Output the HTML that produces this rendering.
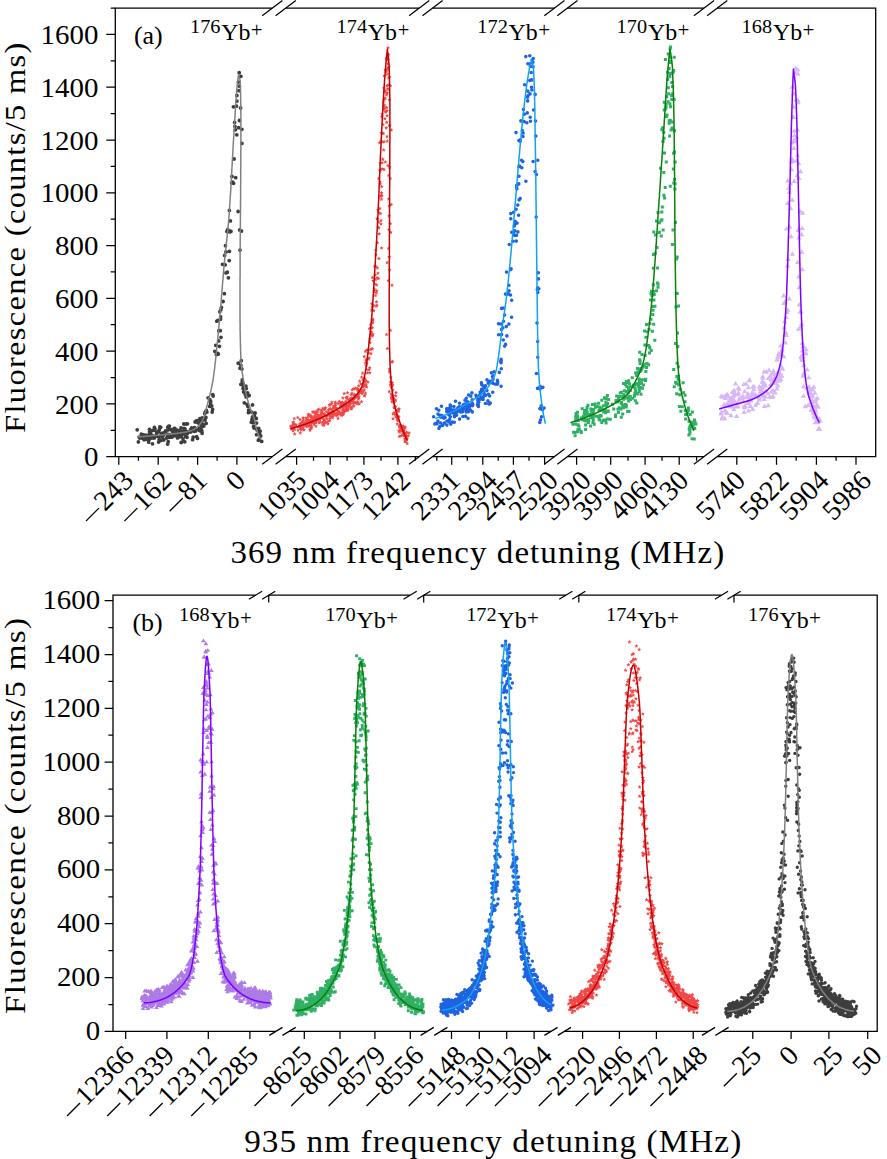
<!DOCTYPE html><html><head><meta charset="utf-8"><style>html,body{margin:0;padding:0;background:#fff;overflow:hidden}svg{display:block}text{font-family:"Liberation Serif", serif;fill:#000}</style></head><body>
<svg width="887" height="1159" viewBox="0 0 887 1159">
<rect width="887" height="1159" fill="#fff"/>
<path d="M170.6 429.4h0M178.7 432.6h0M240.9 76.3h0M225.9 251.9h0M191.6 430.1h0M183.7 431.4h0M219.5 346.3h0M163.4 434.8h0M226 272.9h0M251.7 421.9h0M169.9 429.3h0M255.1 413h0M224.6 255.4h0M152.5 443.8h0M197.2 420.7h0M245.2 394.3h0M231 231.3h0M183.4 433.4h0M232 176.5h0M167.7 427.2h0M149.4 429.3h0M160.8 440.6h0M182.9 434.1h0M200.1 424h0M174 428.7h0M241.5 231.1h0M165.8 431.2h0M155 428.8h0M153.4 438.1h0M218.3 354h0M240.9 365.4h0M215.8 345.3h0M251.3 422.2h0M229.4 210.4h0M243.1 388.5h0M252.4 421.7h0M213.1 396.1h0M253.5 419.1h0M202 418.8h0M174.7 431.2h0M199.9 418.6h0M222.5 264.3h0M181.6 442.1h0M249.2 395.5h0M172.9 435.3h0M181 427.9h0M172.4 436.7h0M186.1 431.5h0M142 438.1h0M220.6 317h0M174.9 428.5h0M148 439.8h0M220.3 330.7h0M162.8 434.7h0M181.4 435.8h0M197.5 438.4h0M156.5 434.4h0M167.7 444.1h0M201.9 432h0M203.8 426h0M173.9 432.8h0M177.2 430.2h0M177.1 430.6h0M174.8 432h0M202.8 424.4h0M168.3 429.8h0M205.1 419.9h0M171.8 429.8h0M240 368.2h0M163.8 439.9h0M245.9 386.1h0M162.8 435.7h0M233.6 183.3h0M218.8 330.7h0M165.6 430.8h0M237 101.1h0M171.7 437.2h0M152.8 430.3h0M221 337.3h0M212.8 394.6h0M220.9 309.7h0M161.5 435.8h0M174.5 435.5h0M225.5 245.7h0M149.5 431.9h0M242.3 379.9h0M198.2 422.9h0M217.9 320.4h0M180 430.7h0M162.1 433.6h0M137.2 429.8h0M169.5 437.3h0M243.7 391.9h0M259.7 432.8h0M196.7 436.7h0M187 433.4h0M175.7 434.7h0M256.6 434.7h0M149.2 439.5h0M191.7 427.8h0M158.7 436.8h0M169.6 434.6h0M239.2 72.7h0M166.6 438.1h0M210.7 401.4h0M187.1 432.8h0M206.9 412.1h0M184.8 441.8h0M175.5 431.3h0M176.5 435.8h0M146.8 438.5h0M201.5 427.2h0M246.3 396.2h0M253.9 414.6h0M141.8 435h0M252.5 404.9h0M154.3 437.9h0M233.4 106.8h0M247.6 392.8h0M161.3 435.8h0M181.1 442.6h0M190.5 432h0M187.5 423.8h0M206.4 410.5h0M138.4 441.9h0M195.1 422h0M246.8 396.5h0M149.4 434.5h0M202.2 417.9h0M201.8 430.7h0M239.5 86.2h0M256.5 423.1h0M230.4 220.9h0M177 431.4h0M229.2 260.6h0M184.1 428.3h0M238.9 90.7h0M227.3 272.2h0M260.7 436h0M242.2 381.5h0M144.1 439.8h0M177.5 437.9h0M240.9 384.4h0M217.6 353.5h0M185.6 436.2h0M143.8 435.5h0M236.9 95.5h0M141.4 434.2h0M150 433.6h0M258.6 433.6h0M235.4 129.8h0M243.6 386.5h0M199.8 422.6h0M161.8 433.4h0M212.2 412h0M196.3 421h0M159.2 439.7h0M161.7 434.6h0M172.3 431.3h0M251.7 412.1h0M258.3 440.3h0M230.5 231.2h0M231.7 182.8h0M234.1 159h0M210.5 403.6h0M163 435.9h0M246.1 396.9h0M244.3 402.8h0M232.7 182.1h0M252.7 422.7h0M259.6 432.3h0M204.7 413.6h0M236.5 106.2h0M216.8 321.2h0M153.4 430.3h0M179.6 433.9h0M146 435.1h0M248.7 410.1h0M139.1 437.1h0M209.7 406.4h0M162 436.3h0M159 430.4h0M162.2 435.2h0M242.4 383.3h0M203.8 419.9h0M183 431.3h0M261.7 441.4h0M212.6 409.5h0M178.5 437.2h0M187.2 433.7h0M227.7 229.6h0M155 436.2h0M238.6 127.7h0M246.3 388.6h0M201 420.5h0M195.7 430.9h0M156.6 432.1h0M192.6 439.7h0M239.4 120.5h0M194.1 431.4h0M219.8 311.7h0M147.3 439.4h0M168.2 441.7h0M167.9 434.5h0M258.7 428.3h0M146 437.9h0M167.4 435.6h0M142 438.1h0M223.1 301.5h0M225.2 264.8h0M186.3 424h0M143.6 435h0M196.3 429.6h0M160.7 427.3h0M196 429.4h0M187.7 432h0M167.6 436.6h0M241.3 360.7h0M229.8 231.9h0M202.1 426.1h0M190.7 429.4h0M150.8 435.9h0M218.7 340.9h0M205.9 417.4h0M247.8 406.3h0M257 429.9h0M241.9 143.4h0M243.2 383.6h0M205.3 411.9h0M187 437.3h0M202.1 433.3h0M208.1 397.8h0M238.1 211.5h0M159.3 429.8h0M214.8 351.3h0M248.4 412.7h0M169.4 426.1h0M177.6 432.3h0M238.2 363.2h0M224.4 293.7h0M253.5 426.6h0M221.4 307.4h0M256.3 418.5h0M240 250.1h0M228.4 277.8h0M162.2 437h0M164.1 433h0M241.9 369h0M185 429h0M229.4 251.3h0M198.4 421.9h0M199.6 428.2h0M139.7 438.1h0M239.7 229.9h0M183 438.8h0M183.8 424h0M150.7 431.5h0M220.5 319.3h0M240.6 107.9h0M205 419h0M201.6 421.4h0M238.4 82.1h0M150.5 438.3h0M209.9 399.7h0M234.9 126.3h0M186.7 432.8h0M247 404.3h0M201.2 423.4h0M151.8 435.2h0M260.2 431.1h0M199.5 430.5h0M235.7 177.7h0M148.7 442.2h0M241.9 129.3h0M159.8 427h0M154.4 427.3h0M175.6 432.9h0M193.2 437.1h0M206.2 423.3h0M194.6 427.6h0M141.7 435.2h0M216.3 354.6h0M234.6 122.4h0M259.1 439.2h0M211.7 405.9h0M252 419.3h0M254 428.1h0M168.8 426.2h0M147.7 437.6h0M158.6 442.1h0M236.8 134.8h0M173.8 430h0M156.5 436.1h0M252.5 416.9h0M226.9 231.4h0M255.1 422.8h0M180.5 436.6h0M163.6 432.8h0M158.7 431.9h0M254.4 416.1h0" stroke="#3d3d3d" stroke-width="3.8" stroke-linecap="round" fill="none" opacity="1.0"/>
<path d="M137.4 436.9L137.6 436.9L137.7 436.9L137.9 436.9L138.1 436.9L138.2 436.8L138.4 436.8L138.6 436.8L138.8 436.8L138.9 436.8L139.1 436.8L139.3 436.8L139.4 436.8L139.6 436.7L139.8 436.7L139.9 436.7L140.1 436.7L140.3 436.7L140.4 436.7L140.6 436.7L140.8 436.7L140.9 436.6L141.1 436.6L141.3 436.6L141.5 436.6L141.6 436.6L141.8 436.6L142 436.6L142.1 436.6L142.3 436.5L142.5 436.5L142.6 436.5L142.8 436.5L143 436.5L143.1 436.5L143.3 436.5L143.5 436.5L143.7 436.4L143.8 436.4L144 436.4L144.2 436.4L144.3 436.4L144.5 436.4L144.7 436.4L144.8 436.4L145 436.3L145.2 436.3L145.3 436.3L145.5 436.3L145.7 436.3L145.8 436.3L146 436.3L146.2 436.2L146.4 436.2L146.5 436.2L146.7 436.2L146.9 436.2L147 436.2L147.2 436.2L147.4 436.2L147.5 436.1L147.7 436.1L147.9 436.1L148 436.1L148.2 436.1L148.4 436.1L148.6 436.1L148.7 436L148.9 436L149.1 436L149.2 436L149.4 436L149.6 436L149.7 436L149.9 435.9L150.1 435.9L150.2 435.9L150.4 435.9L150.6 435.9L150.7 435.9L150.9 435.9L151.1 435.8L151.3 435.8L151.4 435.8L151.6 435.8L151.8 435.8L151.9 435.8L152.1 435.8L152.3 435.7L152.4 435.7L152.6 435.7L152.8 435.7L152.9 435.7L153.1 435.7L153.3 435.7L153.5 435.6L153.6 435.6L153.8 435.6L154 435.6L154.1 435.6L154.3 435.6L154.5 435.6L154.6 435.5L154.8 435.5L155 435.5L155.1 435.5L155.3 435.5L155.5 435.5L155.6 435.5L155.8 435.4L156 435.4L156.2 435.4L156.3 435.4L156.5 435.4L156.7 435.4L156.8 435.3L157 435.3L157.2 435.3L157.3 435.3L157.5 435.3L157.7 435.3L157.8 435.3L158 435.2L158.2 435.2L158.3 435.2L158.5 435.2L158.7 435.2L158.9 435.2L159 435.1L159.2 435.1L159.4 435.1L159.5 435.1L159.7 435.1L159.9 435.1L160 435.1L160.2 435L160.4 435L160.5 435L160.7 435L160.9 435L161.1 435L161.2 434.9L161.4 434.9L161.6 434.9L161.7 434.9L161.9 434.9L162.1 434.9L162.2 434.9L162.4 434.8L162.6 434.8L162.7 434.8L162.9 434.8L163.1 434.8L163.2 434.8L163.4 434.7L163.6 434.7L163.8 434.7L163.9 434.7L164.1 434.7L164.3 434.7L164.4 434.7L164.6 434.6L164.8 434.6L164.9 434.6L165.1 434.6L165.3 434.6L165.4 434.6L165.6 434.5L165.8 434.5L166 434.5L166.1 434.5L166.3 434.5L166.5 434.5L166.6 434.5L166.8 434.4L167 434.4L167.1 434.4L167.3 434.4L167.5 434.4L167.6 434.4L167.8 434.3L168 434.3L168.1 434.3L168.3 434.3L168.5 434.3L168.7 434.3L168.8 434.3L169 434.2L169.2 434.2L169.3 434.2L169.5 434.2L169.7 434.2L169.8 434.2L170 434.1L170.2 434.1L170.3 434.1L170.5 434.1L170.7 434.1L170.9 434.1L171 434L171.2 434L171.4 434L171.5 434L171.7 434L171.9 433.9L172 433.9L172.2 433.9L172.4 433.9L172.5 433.9L172.7 433.9L172.9 433.8L173 433.8L173.2 433.8L173.4 433.8L173.6 433.8L173.7 433.7L173.9 433.7L174.1 433.7L174.2 433.7L174.4 433.7L174.6 433.7L174.7 433.6L174.9 433.6L175.1 433.6L175.2 433.6L175.4 433.6L175.6 433.5L175.8 433.5L175.9 433.5L176.1 433.5L176.3 433.5L176.4 433.4L176.6 433.4L176.8 433.4L176.9 433.4L177.1 433.3L177.3 433.3L177.4 433.3L177.6 433.3L177.8 433.3L177.9 433.2L178.1 433.2L178.3 433.2L178.5 433.2L178.6 433.1L178.8 433.1L179 433.1L179.1 433.1L179.3 433L179.5 433L179.6 433L179.8 433L180 432.9L180.1 432.9L180.3 432.9L180.5 432.9L180.7 432.8L180.8 432.8L181 432.8L181.2 432.8L181.3 432.7L181.5 432.7L181.7 432.7L181.8 432.7L182 432.6L182.2 432.6L182.3 432.6L182.5 432.6L182.7 432.5L182.8 432.5L183 432.5L183.2 432.5L183.4 432.4L183.5 432.4L183.7 432.4L183.9 432.3L184 432.3L184.2 432.3L184.4 432.2L184.5 432.2L184.7 432.2L184.9 432.2L185 432.1L185.2 432.1L185.4 432.1L185.6 432L185.7 432L185.9 432L186.1 431.9L186.2 431.9L186.4 431.9L186.6 431.8L186.7 431.8L186.9 431.7L187.1 431.7L187.2 431.7L187.4 431.6L187.6 431.6L187.7 431.6L187.9 431.5L188.1 431.5L188.3 431.4L188.4 431.4L188.6 431.3L188.8 431.3L188.9 431.3L189.1 431.2L189.3 431.2L189.4 431.1L189.6 431.1L189.8 431L189.9 431L190.1 430.9L190.3 430.9L190.4 430.8L190.6 430.8L190.8 430.7L191 430.7L191.1 430.6L191.3 430.6L191.5 430.5L191.6 430.4L191.8 430.4L192 430.3L192.1 430.3L192.3 430.2L192.5 430.1L192.6 430.1L192.8 430L193 429.9L193.2 429.8L193.3 429.7L193.5 429.7L193.7 429.6L193.8 429.5L194 429.4L194.2 429.3L194.3 429.2L194.5 429.1L194.7 429L194.8 428.9L195 428.8L195.2 428.7L195.3 428.6L195.5 428.4L195.7 428.3L195.9 428.2L196 428.1L196.2 427.9L196.4 427.8L196.5 427.7L196.7 427.5L196.9 427.4L197 427.2L197.2 427.1L197.4 426.9L197.5 426.8L197.7 426.6L197.9 426.5L198.1 426.3L198.2 426.1L198.4 426L198.6 425.8L198.7 425.6L198.9 425.4L199.1 425.2L199.2 425L199.4 424.8L199.6 424.6L199.7 424.4L199.9 424.2L200.1 424L200.2 423.8L200.4 423.6L200.6 423.4L200.8 423.2L200.9 422.9L201.1 422.7L201.3 422.5L201.4 422.2L201.6 422L201.8 421.7L201.9 421.4L202.1 421.1L202.3 420.8L202.4 420.4L202.6 420.1L202.8 419.7L203 419.3L203.1 418.9L203.3 418.4L203.5 418L203.6 417.5L203.8 417L204 416.5L204.1 416L204.3 415.5L204.5 414.9L204.6 414.4L204.8 413.8L205 413.2L205.1 412.7L205.3 412.1L205.5 411.5L205.7 410.8L205.8 410.2L206 409.6L206.2 408.9L206.3 408.3L206.5 407.7L206.7 407L206.8 406.4L207 405.8L207.2 405.1L207.3 404.5L207.5 403.9L207.7 403.2L207.9 402.6L208 402L208.2 401.4L208.4 400.7L208.5 400.1L208.7 399.5L208.9 398.8L209 398.2L209.2 397.5L209.4 396.9L209.5 396.2L209.7 395.6L209.9 394.9L210 394.2L210.2 393.5L210.4 392.8L210.6 392.1L210.7 391.4L210.9 390.6L211.1 389.9L211.2 389.1L211.4 388.3L211.6 387.5L211.7 386.7L211.9 385.9L212.1 385L212.2 384.1L212.4 383.2L212.6 382.3L212.8 381.3L212.9 380.4L213.1 379.3L213.3 378.3L213.4 377.2L213.6 376.1L213.8 374.9L213.9 373.7L214.1 372.4L214.3 371.1L214.4 369.8L214.6 368.4L214.8 366.9L214.9 365.4L215.1 363.9L215.3 362.4L215.5 360.8L215.6 359.2L215.8 357.6L216 356L216.1 354.3L216.3 352.7L216.5 351L216.6 349.4L216.8 347.7L217 346.1L217.1 344.5L217.3 342.8L217.5 341.1L217.7 339.5L217.8 337.8L218 336.1L218.2 334.3L218.3 332.6L218.5 330.8L218.7 329.1L218.8 327.3L219 325.5L219.2 323.7L219.3 321.9L219.5 320L219.7 318.2L219.8 316.3L220 314.4L220.2 312.5L220.4 310.6L220.5 308.7L220.7 306.8L220.9 304.8L221 302.8L221.2 300.8L221.4 298.8L221.5 296.7L221.7 294.6L221.9 292.5L222 290.4L222.2 288.2L222.4 286.1L222.5 284L222.7 281.9L222.9 279.8L223.1 277.7L223.2 275.6L223.4 273.6L223.6 271.6L223.7 269.6L223.9 267.7L224.1 265.9L224.2 264.1L224.4 262.3L224.6 260.6L224.7 258.9L224.9 257.3L225.1 255.6L225.3 254L225.4 252.5L225.6 250.9L225.8 249.3L225.9 247.8L226.1 246.3L226.3 244.7L226.4 243.2L226.6 241.6L226.8 240.1L226.9 238.5L227.1 236.9L227.3 235.3L227.4 233.7L227.6 232L227.8 230.2L228 228.5L228.1 226.6L228.3 224.8L228.5 222.8L228.6 220.8L228.8 218.7L229 216.5L229.1 214.2L229.3 211.9L229.5 209.5L229.6 207L229.8 204.5L230 201.9L230.2 199.2L230.3 196.5L230.5 193.7L230.7 190.9L230.8 188L231 185.1L231.2 182.2L231.3 179.2L231.5 176.2L231.7 173.1L231.8 170.1L232 167L232.2 163.9L232.3 160.9L232.5 157.8L232.7 154.7L232.9 151.7L233 148.7L233.2 145.7L233.4 142.7L233.5 139.8L233.7 137L233.9 134.2L234 131.4L234.2 128.7L234.4 125.9L234.5 123.1L234.7 120.3L234.9 117.5L235.1 114.7L235.2 111.9L235.4 109.2L235.6 106.5L235.7 103.9L235.9 101.3L236.1 98.8L236.2 96.4L236.4 94.1L236.6 92L236.7 90L236.9 88.1L237.1 86.4L237.2 84.8L237.4 83.2L237.6 81.7L237.8 80.3L237.9 79L238.1 77.8L238.3 76.7L238.4 75.7L238.6 74.8L239.1 76.7L239.7 78.7L240.1 80.6L240.2 82.6L240.3 84.5L240.3 86.4L240.4 88.3L240.5 90.2L240.5 92.1L240.6 94L240.6 95.8L240.6 97.7L240.7 99.5L240.7 101.4L240.7 103.2L240.8 105L240.8 106.8L240.8 108.6L240.8 110.4L240.8 112.2L240.9 114L240.9 115.7L240.9 117.5L240.9 119.2L240.9 121L240.9 122.7L240.9 124.4L240.9 126.1L240.9 127.8L240.9 129.5L240.9 131.2L240.9 132.9L240.9 134.5L240.9 136.2L240.9 137.8L240.9 139.5L240.9 141.1L240.9 142.7L240.9 144.3L240.9 145.9L240.9 147.5L240.9 149.1L240.8 150.7L240.8 152.3L240.8 153.8L240.8 155.4L240.8 157L240.8 158.5L240.8 160L240.8 161.6L240.8 163.1L240.8 164.6L240.8 166.1L240.8 167.6L240.7 169.1L240.7 170.5L240.7 172L240.7 173.5L240.7 174.9L240.7 176.4L240.7 177.8L240.7 179.3L240.7 180.7L240.7 182.1L240.7 183.5L240.6 184.9L240.6 186.3L240.6 187.7L240.6 189.1L240.6 190.5L240.6 191.8L240.6 193.2L240.6 194.5L240.6 195.9L240.6 197.2L240.6 198.6L240.6 199.9L240.5 201.2L240.5 202.5L240.5 203.8L240.5 205.1L240.5 206.4L240.5 207.7L240.5 209L240.5 210.3L240.5 211.5L240.5 212.8L240.4 214.1L240.4 215.3L240.4 216.5L240.4 217.8L240.4 219L240.4 220.2L240.4 221.4L240.4 222.7L240.4 223.9L240.4 225.1L240.3 226.2L240.3 227.4L240.3 228.6L240.3 229.8L240.3 230.9L240.3 232.1L240.3 233.3L240.3 234.4L240.3 235.6L240.2 236.7L240.2 237.8L240.2 238.9L240.2 240.1L240.2 241.2L240.2 242.3L240.2 243.4L240.2 244.5L240.2 245.6L240.2 246.7L240.2 247.7L240.2 248.8L240.1 249.9L240.1 251L240.1 252L240.1 253.1L240.1 254.1L240.1 255.2L240.1 256.2L240.1 257.2L240.1 258.2L240.1 259.3L240.1 260.3L240.1 261.3L240.1 262.3L240.1 263.3L240.1 264.3L240.1 265.3L240.1 266.3L240.1 267.2L240.1 268.2L240.1 269.2L240.1 270.1L240.1 271.1L240.1 272.1L240.1 273L240.1 274L240.1 274.9L240.1 275.8L240.1 276.8L240.1 277.7L240 278.6L240 279.5L240 280.4L240 281.3L240 282.2L240 283.1L240 284L240 284.9L240 285.8L240 286.7L240 287.6L240 288.4L240 289.3L240 290.1L240 291L240 291.9L240 292.7L240 293.5L240 294.4L240 295.2L240 296L240 296.9L240 297.7L240 298.5L240 299.3L240 300.1L240 300.9L240 301.7L240 302.5L240 303.3L240 304.1L240 304.9L240 305.7L240 306.5L240 307.2L240 308L240 308.8L240 309.5L240 310.3L240 311L240 311.8L240 312.5L240 313.3L240 314L240 314.7L240 315.5L240 316.2L240 316.9L240 317.6L240 318.4L240 319.1L240 319.8L240 320.5L240 321.2L240.1 321.9L240.1 322.6L240.1 323.3L240.1 323.9L240.1 324.6L240.1 325.3L240.1 326L240.1 326.7L240.1 327.3L240.1 328L240.1 328.6L240.1 329.3L240.1 330L240.2 330.6L240.2 331.3L240.2 331.9L240.2 332.5L240.2 333.2L240.2 333.8L240.2 334.5L240.2 335.1L240.2 335.7L240.3 336.3L240.3 336.9L240.3 337.6L240.3 338.2L240.3 338.8L240.3 339.4L240.3 340L240.3 340.6L240.4 341.2L240.4 341.8L240.4 342.4L240.4 343L240.4 343.5L240.4 344.1L240.5 344.7L240.5 345.3L240.5 345.9L240.5 346.4L240.5 347L240.5 347.6L240.5 348.1L240.6 348.7L240.6 349.2L240.6 349.8L240.6 350.3L240.6 350.9L240.6 351.4L240.7 352L240.7 352.5L240.7 353L240.7 353.6L240.7 354.1L240.8 354.6L240.8 355.2L240.8 355.7L240.8 356.2L240.8 356.7L240.9 357.2L240.9 357.7L240.9 358.2L240.9 358.8L240.9 359.3L241 359.8L241 360.3L241 360.8L241 361.2L241.1 361.7L241.1 362.2L241.1 362.7L241.2 363.2L241.2 363.7L241.3 364.2L241.3 364.6L241.3 365.1L241.4 365.6L241.4 366L241.5 366.5L241.5 367L241.6 367.4L241.6 367.9L241.7 368.4L241.7 368.8L241.8 369.3L241.8 369.7L241.9 370.2L242 370.6L242 371L242.1 371.5L242.1 371.9L242.2 372.4L242.3 372.8L242.3 373.2L242.4 373.6L242.4 374.1L242.5 374.5L242.6 374.9L242.6 375.3L242.7 375.8L242.8 376.2L242.8 376.6L242.9 377L243 377.4L243 377.8L243.1 378.2L243.2 378.6L243.2 379L243.3 379.4L243.4 379.8L243.4 380.2L243.5 380.6L243.6 381L243.6 381.4L243.7 381.8L243.8 382.2L243.8 382.6L243.9 382.9L243.9 383.3L244 383.7L244.1 384.1L244.1 384.4L244.2 384.8L244.3 385.2L244.3 385.5L244.4 385.9L244.5 386.3L244.5 386.6L244.6 387L244.7 387.4L244.7 387.7L244.8 388.1L244.9 388.4L245 388.8L245 389.1L245.1 389.5L245.2 389.8L245.2 390.2L245.3 390.5L245.4 390.8L245.5 391.2L245.5 391.5L245.6 391.9L245.7 392.2L245.8 392.5L245.8 392.8L245.9 393.2L246 393.5L246.1 393.8L246.2 394.2L246.2 394.5L246.3 394.8L246.4 395.1L246.5 395.4L246.6 395.7L246.6 396.1L246.7 396.4L246.8 396.7L246.9 397L247 397.3L247 397.6L247.1 397.9L247.2 398.2L247.3 398.5L247.4 398.8L247.4 399.1L247.5 399.4L247.6 399.7L247.7 400L247.8 400.3L247.8 400.6L247.9 400.9L248 401.1L248.1 401.4L248.2 401.7L248.3 402L248.3 402.3L248.4 402.6L248.5 402.8L248.6 403.1L248.7 403.4L248.7 403.7L248.8 403.9L248.9 404.2L249 404.5L249.1 404.7L249.2 405L249.2 405.3L249.3 405.5L249.4 405.8L249.5 406.1L249.6 406.3L249.7 406.6L249.8 406.8L249.9 407.1L250 407.4L250.1 407.6L250.2 407.9L250.3 408.1L250.4 408.4L250.5 408.6L250.5 408.9L250.6 409.1L250.7 409.3L250.8 409.6L250.9 409.8L251 410.1L251.1 410.3L251.2 410.6L251.3 410.8L251.4 411L251.5 411.3L251.6 411.5L251.7 411.7L251.8 412L251.9 412.2L252 412.4L252.1 412.6L252.2 412.9L252.3 413.1L252.4 413.3L252.4 413.5L252.5 413.8L252.6 414L252.7 414.2L252.8 414.4L252.9 414.6L253 414.9L253 415.1L253.1 415.3L253.2 415.5L253.3 415.7L253.3 415.9L253.4 416.1L253.5 416.3L253.5 416.5L253.6 416.8L253.7 417L253.7 417.2L253.8 417.4L253.9 417.6L253.9 417.8L254 418L254 418.2L254.1 418.4L254.1 418.6L254.2 418.8L254.2 419L254.3 419.2L254.3 419.3L254.4 419.5L254.4 419.7L254.5 419.9L254.5 420.1L254.6 420.3L254.6 420.5L254.7 420.7L254.7 420.9L254.8 421L254.8 421.2L254.9 421.4L254.9 421.6L255 421.8L255 421.9L255 422.1L255.1 422.3L255.1 422.5L255.2 422.7L255.2 422.8L255.3 423L255.3 423.2L255.3 423.3L255.4 423.5L255.4 423.7L255.5 423.9L255.5 424L255.5 424.2L255.6 424.4L255.6 424.5L255.6 424.7L255.7 424.9L255.7 425L255.8 425.2L255.8 425.3L255.8 425.5L255.9 425.7L255.9 425.8L255.9 426L256 426.1L256 426.3L256 426.5L256.1 426.6L256.1 426.8L256.1 426.9L256.2 427.1L256.2 427.2L256.2 427.4L256.3 427.5L256.3 427.7L256.3 427.8L256.4 428L256.4 428.1L256.4 428.3L256.5 428.4L256.5 428.6L256.5 428.7L256.6 428.9L256.6 429L256.6 429.1L256.7 429.3L256.7 429.4L256.8 429.6L256.8 429.7L256.8 429.8L256.9 430L256.9 430.1L256.9 430.3L257 430.4L257 430.5L257 430.7L257.1 430.8L257.1 430.9L257.1 431.1L257.2 431.2L257.2 431.3L257.2 431.5L257.3 431.6L257.3 431.7L257.3 431.8L257.4 432L257.4 432.1L257.5 432.2L257.5 432.3L257.5 432.5L257.6 432.6L257.6 432.7L257.6 432.8L257.7 433L257.7 433.1L257.8 433.2L257.8 433.3L257.8 433.5L257.9 433.6L257.9 433.7L258 433.8L258 433.9L258.1 434L258.1 434.2L258.1 434.3L258.2 434.4L258.2 434.5L258.3 434.6L258.3 434.7L258.4 434.8L258.4 435L258.5 435.1L258.5 435.2L258.6 435.3L258.6 435.4L258.7 435.5L258.7 435.6L258.8 435.7L258.8 435.8L258.9 435.9L258.9 436.1L259 436.2L259 436.3L259.1 436.4L259.2 436.5L259.2 436.6L259.3 436.7L259.3 436.8L259.4 436.9L259.4 437L259.5 437.1L259.6 437.2L259.6 437.3L259.7 437.4L259.8 437.5L259.8 437.6L259.9 437.7L259.9 437.8L260 437.9L260.1 438L260.1 438.1L260.2 438.2L260.3 438.3L260.3 438.4L260.4 438.5L260.5 438.5L260.5 438.6L260.6 438.7L260.7 438.8L260.7 438.9L260.8 439L260.9 439.1L260.9 439.2L261 439.3" stroke="#808080" stroke-width="1.5" fill="none" stroke-linejoin="round"/>
<path d="M321 412.7l0.6 1.3 1.4 0.1 -1.1 1 0.4 1.4 -1.3 -0.7 -1.3 0.7 0.4 -1.4 -1.1 -1 1.4 -0.1zM380.3 167.7l0.6 1.3 1.4 0.1 -1.1 1 0.4 1.4 -1.3 -0.7 -1.3 0.7 0.4 -1.4 -1.1 -1 1.4 -0.1zM397.7 417.5l0.6 1.3 1.4 0.1 -1.1 1 0.4 1.4 -1.3 -0.7 -1.3 0.7 0.4 -1.4 -1.1 -1 1.4 -0.1zM334.1 410.4l0.6 1.3 1.4 0.1 -1.1 1 0.4 1.4 -1.3 -0.7 -1.3 0.7 0.4 -1.4 -1.1 -1 1.4 -0.1zM326.2 414.8l0.6 1.3 1.4 0.1 -1.1 1 0.4 1.4 -1.3 -0.7 -1.3 0.7 0.4 -1.4 -1.1 -1 1.4 -0.1zM330.5 410.4l0.6 1.3 1.4 0.1 -1.1 1 0.4 1.4 -1.3 -0.7 -1.3 0.7 0.4 -1.4 -1.1 -1 1.4 -0.1zM357.2 393.6l0.6 1.3 1.4 0.1 -1.1 1 0.4 1.4 -1.3 -0.7 -1.3 0.7 0.4 -1.4 -1.1 -1 1.4 -0.1zM392.6 393.9l0.6 1.3 1.4 0.1 -1.1 1 0.4 1.4 -1.3 -0.7 -1.3 0.7 0.4 -1.4 -1.1 -1 1.4 -0.1zM332.1 409.6l0.6 1.3 1.4 0.1 -1.1 1 0.4 1.4 -1.3 -0.7 -1.3 0.7 0.4 -1.4 -1.1 -1 1.4 -0.1zM401.2 428.2l0.6 1.3 1.4 0.1 -1.1 1 0.4 1.4 -1.3 -0.7 -1.3 0.7 0.4 -1.4 -1.1 -1 1.4 -0.1zM386.2 125.8l0.6 1.3 1.4 0.1 -1.1 1 0.4 1.4 -1.3 -0.7 -1.3 0.7 0.4 -1.4 -1.1 -1 1.4 -0.1zM361.6 375.2l0.6 1.3 1.4 0.1 -1.1 1 0.4 1.4 -1.3 -0.7 -1.3 0.7 0.4 -1.4 -1.1 -1 1.4 -0.1zM375.9 252.4l0.6 1.3 1.4 0.1 -1.1 1 0.4 1.4 -1.3 -0.7 -1.3 0.7 0.4 -1.4 -1.1 -1 1.4 -0.1zM402.8 425l0.6 1.3 1.4 0.1 -1.1 1 0.4 1.4 -1.3 -0.7 -1.3 0.7 0.4 -1.4 -1.1 -1 1.4 -0.1zM306.8 420.7l0.6 1.3 1.4 0.1 -1.1 1 0.4 1.4 -1.3 -0.7 -1.3 0.7 0.4 -1.4 -1.1 -1 1.4 -0.1zM353.4 401.6l0.6 1.3 1.4 0.1 -1.1 1 0.4 1.4 -1.3 -0.7 -1.3 0.7 0.4 -1.4 -1.1 -1 1.4 -0.1zM332.3 407.6l0.6 1.3 1.4 0.1 -1.1 1 0.4 1.4 -1.3 -0.7 -1.3 0.7 0.4 -1.4 -1.1 -1 1.4 -0.1zM396.9 416.2l0.6 1.3 1.4 0.1 -1.1 1 0.4 1.4 -1.3 -0.7 -1.3 0.7 0.4 -1.4 -1.1 -1 1.4 -0.1zM356.8 401.6l0.6 1.3 1.4 0.1 -1.1 1 0.4 1.4 -1.3 -0.7 -1.3 0.7 0.4 -1.4 -1.1 -1 1.4 -0.1zM335.3 403.8l0.6 1.3 1.4 0.1 -1.1 1 0.4 1.4 -1.3 -0.7 -1.3 0.7 0.4 -1.4 -1.1 -1 1.4 -0.1zM301.5 427.7l0.6 1.3 1.4 0.1 -1.1 1 0.4 1.4 -1.3 -0.7 -1.3 0.7 0.4 -1.4 -1.1 -1 1.4 -0.1zM391.2 395.2l0.6 1.3 1.4 0.1 -1.1 1 0.4 1.4 -1.3 -0.7 -1.3 0.7 0.4 -1.4 -1.1 -1 1.4 -0.1zM308.5 413.3l0.6 1.3 1.4 0.1 -1.1 1 0.4 1.4 -1.3 -0.7 -1.3 0.7 0.4 -1.4 -1.1 -1 1.4 -0.1zM358.4 397l0.6 1.3 1.4 0.1 -1.1 1 0.4 1.4 -1.3 -0.7 -1.3 0.7 0.4 -1.4 -1.1 -1 1.4 -0.1zM386.6 120.3l0.6 1.3 1.4 0.1 -1.1 1 0.4 1.4 -1.3 -0.7 -1.3 0.7 0.4 -1.4 -1.1 -1 1.4 -0.1zM375.2 272.9l0.6 1.3 1.4 0.1 -1.1 1 0.4 1.4 -1.3 -0.7 -1.3 0.7 0.4 -1.4 -1.1 -1 1.4 -0.1zM391.2 202.5l0.6 1.3 1.4 0.1 -1.1 1 0.4 1.4 -1.3 -0.7 -1.3 0.7 0.4 -1.4 -1.1 -1 1.4 -0.1zM366.6 385l0.6 1.3 1.4 0.1 -1.1 1 0.4 1.4 -1.3 -0.7 -1.3 0.7 0.4 -1.4 -1.1 -1 1.4 -0.1zM383.7 148l0.6 1.3 1.4 0.1 -1.1 1 0.4 1.4 -1.3 -0.7 -1.3 0.7 0.4 -1.4 -1.1 -1 1.4 -0.1zM364.5 379l0.6 1.3 1.4 0.1 -1.1 1 0.4 1.4 -1.3 -0.7 -1.3 0.7 0.4 -1.4 -1.1 -1 1.4 -0.1zM351.1 406.9l0.6 1.3 1.4 0.1 -1.1 1 0.4 1.4 -1.3 -0.7 -1.3 0.7 0.4 -1.4 -1.1 -1 1.4 -0.1zM385.3 67.4l0.6 1.3 1.4 0.1 -1.1 1 0.4 1.4 -1.3 -0.7 -1.3 0.7 0.4 -1.4 -1.1 -1 1.4 -0.1zM332.2 408.6l0.6 1.3 1.4 0.1 -1.1 1 0.4 1.4 -1.3 -0.7 -1.3 0.7 0.4 -1.4 -1.1 -1 1.4 -0.1zM317.1 415.3l0.6 1.3 1.4 0.1 -1.1 1 0.4 1.4 -1.3 -0.7 -1.3 0.7 0.4 -1.4 -1.1 -1 1.4 -0.1zM306 420.1l0.6 1.3 1.4 0.1 -1.1 1 0.4 1.4 -1.3 -0.7 -1.3 0.7 0.4 -1.4 -1.1 -1 1.4 -0.1zM301.7 420.7l0.6 1.3 1.4 0.1 -1.1 1 0.4 1.4 -1.3 -0.7 -1.3 0.7 0.4 -1.4 -1.1 -1 1.4 -0.1zM379.2 231.8l0.6 1.3 1.4 0.1 -1.1 1 0.4 1.4 -1.3 -0.7 -1.3 0.7 0.4 -1.4 -1.1 -1 1.4 -0.1zM322.6 420.4l0.6 1.3 1.4 0.1 -1.1 1 0.4 1.4 -1.3 -0.7 -1.3 0.7 0.4 -1.4 -1.1 -1 1.4 -0.1zM399 406.7l0.6 1.3 1.4 0.1 -1.1 1 0.4 1.4 -1.3 -0.7 -1.3 0.7 0.4 -1.4 -1.1 -1 1.4 -0.1zM311.7 419.5l0.6 1.3 1.4 0.1 -1.1 1 0.4 1.4 -1.3 -0.7 -1.3 0.7 0.4 -1.4 -1.1 -1 1.4 -0.1zM355 386.3l0.6 1.3 1.4 0.1 -1.1 1 0.4 1.4 -1.3 -0.7 -1.3 0.7 0.4 -1.4 -1.1 -1 1.4 -0.1zM387.1 91.3l0.6 1.3 1.4 0.1 -1.1 1 0.4 1.4 -1.3 -0.7 -1.3 0.7 0.4 -1.4 -1.1 -1 1.4 -0.1zM377.9 208.2l0.6 1.3 1.4 0.1 -1.1 1 0.4 1.4 -1.3 -0.7 -1.3 0.7 0.4 -1.4 -1.1 -1 1.4 -0.1zM294.3 416.4l0.6 1.3 1.4 0.1 -1.1 1 0.4 1.4 -1.3 -0.7 -1.3 0.7 0.4 -1.4 -1.1 -1 1.4 -0.1zM384.1 139.6l0.6 1.3 1.4 0.1 -1.1 1 0.4 1.4 -1.3 -0.7 -1.3 0.7 0.4 -1.4 -1.1 -1 1.4 -0.1zM398.8 429l0.6 1.3 1.4 0.1 -1.1 1 0.4 1.4 -1.3 -0.7 -1.3 0.7 0.4 -1.4 -1.1 -1 1.4 -0.1zM322.2 414.7l0.6 1.3 1.4 0.1 -1.1 1 0.4 1.4 -1.3 -0.7 -1.3 0.7 0.4 -1.4 -1.1 -1 1.4 -0.1zM388.7 173.4l0.6 1.3 1.4 0.1 -1.1 1 0.4 1.4 -1.3 -0.7 -1.3 0.7 0.4 -1.4 -1.1 -1 1.4 -0.1zM361.9 390.3l0.6 1.3 1.4 0.1 -1.1 1 0.4 1.4 -1.3 -0.7 -1.3 0.7 0.4 -1.4 -1.1 -1 1.4 -0.1zM322.1 415.5l0.6 1.3 1.4 0.1 -1.1 1 0.4 1.4 -1.3 -0.7 -1.3 0.7 0.4 -1.4 -1.1 -1 1.4 -0.1zM405.3 432.1l0.6 1.3 1.4 0.1 -1.1 1 0.4 1.4 -1.3 -0.7 -1.3 0.7 0.4 -1.4 -1.1 -1 1.4 -0.1zM395.7 414.3l0.6 1.3 1.4 0.1 -1.1 1 0.4 1.4 -1.3 -0.7 -1.3 0.7 0.4 -1.4 -1.1 -1 1.4 -0.1zM387.6 67.4l0.6 1.3 1.4 0.1 -1.1 1 0.4 1.4 -1.3 -0.7 -1.3 0.7 0.4 -1.4 -1.1 -1 1.4 -0.1zM293.2 420.8l0.6 1.3 1.4 0.1 -1.1 1 0.4 1.4 -1.3 -0.7 -1.3 0.7 0.4 -1.4 -1.1 -1 1.4 -0.1zM374 289.4l0.6 1.3 1.4 0.1 -1.1 1 0.4 1.4 -1.3 -0.7 -1.3 0.7 0.4 -1.4 -1.1 -1 1.4 -0.1zM348.1 408.1l0.6 1.3 1.4 0.1 -1.1 1 0.4 1.4 -1.3 -0.7 -1.3 0.7 0.4 -1.4 -1.1 -1 1.4 -0.1zM327.2 416.7l0.6 1.3 1.4 0.1 -1.1 1 0.4 1.4 -1.3 -0.7 -1.3 0.7 0.4 -1.4 -1.1 -1 1.4 -0.1zM387.4 346.5l0.6 1.3 1.4 0.1 -1.1 1 0.4 1.4 -1.3 -0.7 -1.3 0.7 0.4 -1.4 -1.1 -1 1.4 -0.1zM310.5 425.2l0.6 1.3 1.4 0.1 -1.1 1 0.4 1.4 -1.3 -0.7 -1.3 0.7 0.4 -1.4 -1.1 -1 1.4 -0.1zM305.6 424.1l0.6 1.3 1.4 0.1 -1.1 1 0.4 1.4 -1.3 -0.7 -1.3 0.7 0.4 -1.4 -1.1 -1 1.4 -0.1zM366.5 367.4l0.6 1.3 1.4 0.1 -1.1 1 0.4 1.4 -1.3 -0.7 -1.3 0.7 0.4 -1.4 -1.1 -1 1.4 -0.1zM371 351.5l0.6 1.3 1.4 0.1 -1.1 1 0.4 1.4 -1.3 -0.7 -1.3 0.7 0.4 -1.4 -1.1 -1 1.4 -0.1zM387.9 61.6l0.6 1.3 1.4 0.1 -1.1 1 0.4 1.4 -1.3 -0.7 -1.3 0.7 0.4 -1.4 -1.1 -1 1.4 -0.1zM327.7 419.9l0.6 1.3 1.4 0.1 -1.1 1 0.4 1.4 -1.3 -0.7 -1.3 0.7 0.4 -1.4 -1.1 -1 1.4 -0.1zM376.5 299.8l0.6 1.3 1.4 0.1 -1.1 1 0.4 1.4 -1.3 -0.7 -1.3 0.7 0.4 -1.4 -1.1 -1 1.4 -0.1zM382 160.6l0.6 1.3 1.4 0.1 -1.1 1 0.4 1.4 -1.3 -0.7 -1.3 0.7 0.4 -1.4 -1.1 -1 1.4 -0.1zM399.6 430.1l0.6 1.3 1.4 0.1 -1.1 1 0.4 1.4 -1.3 -0.7 -1.3 0.7 0.4 -1.4 -1.1 -1 1.4 -0.1zM406 431.2l0.6 1.3 1.4 0.1 -1.1 1 0.4 1.4 -1.3 -0.7 -1.3 0.7 0.4 -1.4 -1.1 -1 1.4 -0.1zM384.9 116.6l0.6 1.3 1.4 0.1 -1.1 1 0.4 1.4 -1.3 -0.7 -1.3 0.7 0.4 -1.4 -1.1 -1 1.4 -0.1zM329.9 416.3l0.6 1.3 1.4 0.1 -1.1 1 0.4 1.4 -1.3 -0.7 -1.3 0.7 0.4 -1.4 -1.1 -1 1.4 -0.1zM346.2 395.4l0.6 1.3 1.4 0.1 -1.1 1 0.4 1.4 -1.3 -0.7 -1.3 0.7 0.4 -1.4 -1.1 -1 1.4 -0.1zM324.4 411.6l0.6 1.3 1.4 0.1 -1.1 1 0.4 1.4 -1.3 -0.7 -1.3 0.7 0.4 -1.4 -1.1 -1 1.4 -0.1zM342.6 411.5l0.6 1.3 1.4 0.1 -1.1 1 0.4 1.4 -1.3 -0.7 -1.3 0.7 0.4 -1.4 -1.1 -1 1.4 -0.1zM311.4 426.3l0.6 1.3 1.4 0.1 -1.1 1 0.4 1.4 -1.3 -0.7 -1.3 0.7 0.4 -1.4 -1.1 -1 1.4 -0.1zM377 216.5l0.6 1.3 1.4 0.1 -1.1 1 0.4 1.4 -1.3 -0.7 -1.3 0.7 0.4 -1.4 -1.1 -1 1.4 -0.1zM309 420.2l0.6 1.3 1.4 0.1 -1.1 1 0.4 1.4 -1.3 -0.7 -1.3 0.7 0.4 -1.4 -1.1 -1 1.4 -0.1zM385.9 109.9l0.6 1.3 1.4 0.1 -1.1 1 0.4 1.4 -1.3 -0.7 -1.3 0.7 0.4 -1.4 -1.1 -1 1.4 -0.1zM344.5 400.7l0.6 1.3 1.4 0.1 -1.1 1 0.4 1.4 -1.3 -0.7 -1.3 0.7 0.4 -1.4 -1.1 -1 1.4 -0.1zM346.3 408.8l0.6 1.3 1.4 0.1 -1.1 1 0.4 1.4 -1.3 -0.7 -1.3 0.7 0.4 -1.4 -1.1 -1 1.4 -0.1zM404 428.8l0.6 1.3 1.4 0.1 -1.1 1 0.4 1.4 -1.3 -0.7 -1.3 0.7 0.4 -1.4 -1.1 -1 1.4 -0.1zM377.3 240.7l0.6 1.3 1.4 0.1 -1.1 1 0.4 1.4 -1.3 -0.7 -1.3 0.7 0.4 -1.4 -1.1 -1 1.4 -0.1zM294.6 431.9l0.6 1.3 1.4 0.1 -1.1 1 0.4 1.4 -1.3 -0.7 -1.3 0.7 0.4 -1.4 -1.1 -1 1.4 -0.1zM390.3 176.4l0.6 1.3 1.4 0.1 -1.1 1 0.4 1.4 -1.3 -0.7 -1.3 0.7 0.4 -1.4 -1.1 -1 1.4 -0.1zM366.3 357.3l0.6 1.3 1.4 0.1 -1.1 1 0.4 1.4 -1.3 -0.7 -1.3 0.7 0.4 -1.4 -1.1 -1 1.4 -0.1zM388 45.6l0.6 1.3 1.4 0.1 -1.1 1 0.4 1.4 -1.3 -0.7 -1.3 0.7 0.4 -1.4 -1.1 -1 1.4 -0.1zM358.9 391.3l0.6 1.3 1.4 0.1 -1.1 1 0.4 1.4 -1.3 -0.7 -1.3 0.7 0.4 -1.4 -1.1 -1 1.4 -0.1zM360.5 389.3l0.6 1.3 1.4 0.1 -1.1 1 0.4 1.4 -1.3 -0.7 -1.3 0.7 0.4 -1.4 -1.1 -1 1.4 -0.1zM386.5 93l0.6 1.3 1.4 0.1 -1.1 1 0.4 1.4 -1.3 -0.7 -1.3 0.7 0.4 -1.4 -1.1 -1 1.4 -0.1zM366.9 361.1l0.6 1.3 1.4 0.1 -1.1 1 0.4 1.4 -1.3 -0.7 -1.3 0.7 0.4 -1.4 -1.1 -1 1.4 -0.1zM311.3 417.8l0.6 1.3 1.4 0.1 -1.1 1 0.4 1.4 -1.3 -0.7 -1.3 0.7 0.4 -1.4 -1.1 -1 1.4 -0.1zM387.1 83.6l0.6 1.3 1.4 0.1 -1.1 1 0.4 1.4 -1.3 -0.7 -1.3 0.7 0.4 -1.4 -1.1 -1 1.4 -0.1zM332.8 409.8l0.6 1.3 1.4 0.1 -1.1 1 0.4 1.4 -1.3 -0.7 -1.3 0.7 0.4 -1.4 -1.1 -1 1.4 -0.1zM318.4 418.1l0.6 1.3 1.4 0.1 -1.1 1 0.4 1.4 -1.3 -0.7 -1.3 0.7 0.4 -1.4 -1.1 -1 1.4 -0.1zM362.6 381.7l0.6 1.3 1.4 0.1 -1.1 1 0.4 1.4 -1.3 -0.7 -1.3 0.7 0.4 -1.4 -1.1 -1 1.4 -0.1zM330.3 407.1l0.6 1.3 1.4 0.1 -1.1 1 0.4 1.4 -1.3 -0.7 -1.3 0.7 0.4 -1.4 -1.1 -1 1.4 -0.1zM388.5 52.5l0.6 1.3 1.4 0.1 -1.1 1 0.4 1.4 -1.3 -0.7 -1.3 0.7 0.4 -1.4 -1.1 -1 1.4 -0.1zM387.5 86.9l0.6 1.3 1.4 0.1 -1.1 1 0.4 1.4 -1.3 -0.7 -1.3 0.7 0.4 -1.4 -1.1 -1 1.4 -0.1zM402.4 428.6l0.6 1.3 1.4 0.1 -1.1 1 0.4 1.4 -1.3 -0.7 -1.3 0.7 0.4 -1.4 -1.1 -1 1.4 -0.1zM302.4 419.3l0.6 1.3 1.4 0.1 -1.1 1 0.4 1.4 -1.3 -0.7 -1.3 0.7 0.4 -1.4 -1.1 -1 1.4 -0.1zM381.2 193.4l0.6 1.3 1.4 0.1 -1.1 1 0.4 1.4 -1.3 -0.7 -1.3 0.7 0.4 -1.4 -1.1 -1 1.4 -0.1zM333.4 410.9l0.6 1.3 1.4 0.1 -1.1 1 0.4 1.4 -1.3 -0.7 -1.3 0.7 0.4 -1.4 -1.1 -1 1.4 -0.1zM391.8 396.6l0.6 1.3 1.4 0.1 -1.1 1 0.4 1.4 -1.3 -0.7 -1.3 0.7 0.4 -1.4 -1.1 -1 1.4 -0.1zM296 422.7l0.6 1.3 1.4 0.1 -1.1 1 0.4 1.4 -1.3 -0.7 -1.3 0.7 0.4 -1.4 -1.1 -1 1.4 -0.1zM335.3 400.3l0.6 1.3 1.4 0.1 -1.1 1 0.4 1.4 -1.3 -0.7 -1.3 0.7 0.4 -1.4 -1.1 -1 1.4 -0.1zM342.9 410.3l0.6 1.3 1.4 0.1 -1.1 1 0.4 1.4 -1.3 -0.7 -1.3 0.7 0.4 -1.4 -1.1 -1 1.4 -0.1zM380.6 194.3l0.6 1.3 1.4 0.1 -1.1 1 0.4 1.4 -1.3 -0.7 -1.3 0.7 0.4 -1.4 -1.1 -1 1.4 -0.1zM315.8 420.8l0.6 1.3 1.4 0.1 -1.1 1 0.4 1.4 -1.3 -0.7 -1.3 0.7 0.4 -1.4 -1.1 -1 1.4 -0.1zM384.3 102.9l0.6 1.3 1.4 0.1 -1.1 1 0.4 1.4 -1.3 -0.7 -1.3 0.7 0.4 -1.4 -1.1 -1 1.4 -0.1zM304 427.8l0.6 1.3 1.4 0.1 -1.1 1 0.4 1.4 -1.3 -0.7 -1.3 0.7 0.4 -1.4 -1.1 -1 1.4 -0.1zM362.3 390.2l0.6 1.3 1.4 0.1 -1.1 1 0.4 1.4 -1.3 -0.7 -1.3 0.7 0.4 -1.4 -1.1 -1 1.4 -0.1zM392 384l0.6 1.3 1.4 0.1 -1.1 1 0.4 1.4 -1.3 -0.7 -1.3 0.7 0.4 -1.4 -1.1 -1 1.4 -0.1zM364.2 354.5l0.6 1.3 1.4 0.1 -1.1 1 0.4 1.4 -1.3 -0.7 -1.3 0.7 0.4 -1.4 -1.1 -1 1.4 -0.1zM372.7 318l0.6 1.3 1.4 0.1 -1.1 1 0.4 1.4 -1.3 -0.7 -1.3 0.7 0.4 -1.4 -1.1 -1 1.4 -0.1zM382.5 131.1l0.6 1.3 1.4 0.1 -1.1 1 0.4 1.4 -1.3 -0.7 -1.3 0.7 0.4 -1.4 -1.1 -1 1.4 -0.1zM331 414.7l0.6 1.3 1.4 0.1 -1.1 1 0.4 1.4 -1.3 -0.7 -1.3 0.7 0.4 -1.4 -1.1 -1 1.4 -0.1zM344.3 408.9l0.6 1.3 1.4 0.1 -1.1 1 0.4 1.4 -1.3 -0.7 -1.3 0.7 0.4 -1.4 -1.1 -1 1.4 -0.1zM363.2 377.5l0.6 1.3 1.4 0.1 -1.1 1 0.4 1.4 -1.3 -0.7 -1.3 0.7 0.4 -1.4 -1.1 -1 1.4 -0.1zM335.3 401.4l0.6 1.3 1.4 0.1 -1.1 1 0.4 1.4 -1.3 -0.7 -1.3 0.7 0.4 -1.4 -1.1 -1 1.4 -0.1zM331.7 410.8l0.6 1.3 1.4 0.1 -1.1 1 0.4 1.4 -1.3 -0.7 -1.3 0.7 0.4 -1.4 -1.1 -1 1.4 -0.1zM406.6 430.1l0.6 1.3 1.4 0.1 -1.1 1 0.4 1.4 -1.3 -0.7 -1.3 0.7 0.4 -1.4 -1.1 -1 1.4 -0.1zM290.9 424.5l0.6 1.3 1.4 0.1 -1.1 1 0.4 1.4 -1.3 -0.7 -1.3 0.7 0.4 -1.4 -1.1 -1 1.4 -0.1zM327.5 413l0.6 1.3 1.4 0.1 -1.1 1 0.4 1.4 -1.3 -0.7 -1.3 0.7 0.4 -1.4 -1.1 -1 1.4 -0.1zM310.2 413.3l0.6 1.3 1.4 0.1 -1.1 1 0.4 1.4 -1.3 -0.7 -1.3 0.7 0.4 -1.4 -1.1 -1 1.4 -0.1zM344.2 402.8l0.6 1.3 1.4 0.1 -1.1 1 0.4 1.4 -1.3 -0.7 -1.3 0.7 0.4 -1.4 -1.1 -1 1.4 -0.1zM391.2 385.1l0.6 1.3 1.4 0.1 -1.1 1 0.4 1.4 -1.3 -0.7 -1.3 0.7 0.4 -1.4 -1.1 -1 1.4 -0.1zM372 346.8l0.6 1.3 1.4 0.1 -1.1 1 0.4 1.4 -1.3 -0.7 -1.3 0.7 0.4 -1.4 -1.1 -1 1.4 -0.1zM397.7 418.6l0.6 1.3 1.4 0.1 -1.1 1 0.4 1.4 -1.3 -0.7 -1.3 0.7 0.4 -1.4 -1.1 -1 1.4 -0.1zM303.2 418.1l0.6 1.3 1.4 0.1 -1.1 1 0.4 1.4 -1.3 -0.7 -1.3 0.7 0.4 -1.4 -1.1 -1 1.4 -0.1zM406.6 434.8l0.6 1.3 1.4 0.1 -1.1 1 0.4 1.4 -1.3 -0.7 -1.3 0.7 0.4 -1.4 -1.1 -1 1.4 -0.1zM389.2 254.7l0.6 1.3 1.4 0.1 -1.1 1 0.4 1.4 -1.3 -0.7 -1.3 0.7 0.4 -1.4 -1.1 -1 1.4 -0.1zM391.1 391.9l0.6 1.3 1.4 0.1 -1.1 1 0.4 1.4 -1.3 -0.7 -1.3 0.7 0.4 -1.4 -1.1 -1 1.4 -0.1zM349.4 396.9l0.6 1.3 1.4 0.1 -1.1 1 0.4 1.4 -1.3 -0.7 -1.3 0.7 0.4 -1.4 -1.1 -1 1.4 -0.1zM304.1 422.8l0.6 1.3 1.4 0.1 -1.1 1 0.4 1.4 -1.3 -0.7 -1.3 0.7 0.4 -1.4 -1.1 -1 1.4 -0.1zM378.8 176.4l0.6 1.3 1.4 0.1 -1.1 1 0.4 1.4 -1.3 -0.7 -1.3 0.7 0.4 -1.4 -1.1 -1 1.4 -0.1zM303.8 423.1l0.6 1.3 1.4 0.1 -1.1 1 0.4 1.4 -1.3 -0.7 -1.3 0.7 0.4 -1.4 -1.1 -1 1.4 -0.1zM405.5 433.2l0.6 1.3 1.4 0.1 -1.1 1 0.4 1.4 -1.3 -0.7 -1.3 0.7 0.4 -1.4 -1.1 -1 1.4 -0.1zM311 414.8l0.6 1.3 1.4 0.1 -1.1 1 0.4 1.4 -1.3 -0.7 -1.3 0.7 0.4 -1.4 -1.1 -1 1.4 -0.1zM351.6 395.7l0.6 1.3 1.4 0.1 -1.1 1 0.4 1.4 -1.3 -0.7 -1.3 0.7 0.4 -1.4 -1.1 -1 1.4 -0.1zM349.1 400.3l0.6 1.3 1.4 0.1 -1.1 1 0.4 1.4 -1.3 -0.7 -1.3 0.7 0.4 -1.4 -1.1 -1 1.4 -0.1zM310.1 422l0.6 1.3 1.4 0.1 -1.1 1 0.4 1.4 -1.3 -0.7 -1.3 0.7 0.4 -1.4 -1.1 -1 1.4 -0.1zM307.7 420.1l0.6 1.3 1.4 0.1 -1.1 1 0.4 1.4 -1.3 -0.7 -1.3 0.7 0.4 -1.4 -1.1 -1 1.4 -0.1zM348.7 403.6l0.6 1.3 1.4 0.1 -1.1 1 0.4 1.4 -1.3 -0.7 -1.3 0.7 0.4 -1.4 -1.1 -1 1.4 -0.1zM333.3 404.4l0.6 1.3 1.4 0.1 -1.1 1 0.4 1.4 -1.3 -0.7 -1.3 0.7 0.4 -1.4 -1.1 -1 1.4 -0.1zM358.3 395.9l0.6 1.3 1.4 0.1 -1.1 1 0.4 1.4 -1.3 -0.7 -1.3 0.7 0.4 -1.4 -1.1 -1 1.4 -0.1zM364.4 384.1l0.6 1.3 1.4 0.1 -1.1 1 0.4 1.4 -1.3 -0.7 -1.3 0.7 0.4 -1.4 -1.1 -1 1.4 -0.1zM382.9 157.2l0.6 1.3 1.4 0.1 -1.1 1 0.4 1.4 -1.3 -0.7 -1.3 0.7 0.4 -1.4 -1.1 -1 1.4 -0.1zM368.1 347.4l0.6 1.3 1.4 0.1 -1.1 1 0.4 1.4 -1.3 -0.7 -1.3 0.7 0.4 -1.4 -1.1 -1 1.4 -0.1zM349.4 397.5l0.6 1.3 1.4 0.1 -1.1 1 0.4 1.4 -1.3 -0.7 -1.3 0.7 0.4 -1.4 -1.1 -1 1.4 -0.1zM364.3 387.9l0.6 1.3 1.4 0.1 -1.1 1 0.4 1.4 -1.3 -0.7 -1.3 0.7 0.4 -1.4 -1.1 -1 1.4 -0.1zM378 271.1l0.6 1.3 1.4 0.1 -1.1 1 0.4 1.4 -1.3 -0.7 -1.3 0.7 0.4 -1.4 -1.1 -1 1.4 -0.1zM327.2 420.3l0.6 1.3 1.4 0.1 -1.1 1 0.4 1.4 -1.3 -0.7 -1.3 0.7 0.4 -1.4 -1.1 -1 1.4 -0.1zM381.7 184.5l0.6 1.3 1.4 0.1 -1.1 1 0.4 1.4 -1.3 -0.7 -1.3 0.7 0.4 -1.4 -1.1 -1 1.4 -0.1zM374.4 287.3l0.6 1.3 1.4 0.1 -1.1 1 0.4 1.4 -1.3 -0.7 -1.3 0.7 0.4 -1.4 -1.1 -1 1.4 -0.1zM371.7 308.1l0.6 1.3 1.4 0.1 -1.1 1 0.4 1.4 -1.3 -0.7 -1.3 0.7 0.4 -1.4 -1.1 -1 1.4 -0.1zM324.8 406.8l0.6 1.3 1.4 0.1 -1.1 1 0.4 1.4 -1.3 -0.7 -1.3 0.7 0.4 -1.4 -1.1 -1 1.4 -0.1zM328.8 412.8l0.6 1.3 1.4 0.1 -1.1 1 0.4 1.4 -1.3 -0.7 -1.3 0.7 0.4 -1.4 -1.1 -1 1.4 -0.1zM375.5 293.3l0.6 1.3 1.4 0.1 -1.1 1 0.4 1.4 -1.3 -0.7 -1.3 0.7 0.4 -1.4 -1.1 -1 1.4 -0.1zM300.3 424.5l0.6 1.3 1.4 0.1 -1.1 1 0.4 1.4 -1.3 -0.7 -1.3 0.7 0.4 -1.4 -1.1 -1 1.4 -0.1zM331.8 400.2l0.6 1.3 1.4 0.1 -1.1 1 0.4 1.4 -1.3 -0.7 -1.3 0.7 0.4 -1.4 -1.1 -1 1.4 -0.1zM342.2 404.1l0.6 1.3 1.4 0.1 -1.1 1 0.4 1.4 -1.3 -0.7 -1.3 0.7 0.4 -1.4 -1.1 -1 1.4 -0.1zM306.2 419.9l0.6 1.3 1.4 0.1 -1.1 1 0.4 1.4 -1.3 -0.7 -1.3 0.7 0.4 -1.4 -1.1 -1 1.4 -0.1zM369.8 340.7l0.6 1.3 1.4 0.1 -1.1 1 0.4 1.4 -1.3 -0.7 -1.3 0.7 0.4 -1.4 -1.1 -1 1.4 -0.1zM403.2 431.2l0.6 1.3 1.4 0.1 -1.1 1 0.4 1.4 -1.3 -0.7 -1.3 0.7 0.4 -1.4 -1.1 -1 1.4 -0.1zM398.6 407.3l0.6 1.3 1.4 0.1 -1.1 1 0.4 1.4 -1.3 -0.7 -1.3 0.7 0.4 -1.4 -1.1 -1 1.4 -0.1zM299.8 422l0.6 1.3 1.4 0.1 -1.1 1 0.4 1.4 -1.3 -0.7 -1.3 0.7 0.4 -1.4 -1.1 -1 1.4 -0.1zM359 395.2l0.6 1.3 1.4 0.1 -1.1 1 0.4 1.4 -1.3 -0.7 -1.3 0.7 0.4 -1.4 -1.1 -1 1.4 -0.1zM331.5 401.9l0.6 1.3 1.4 0.1 -1.1 1 0.4 1.4 -1.3 -0.7 -1.3 0.7 0.4 -1.4 -1.1 -1 1.4 -0.1zM403.8 431.9l0.6 1.3 1.4 0.1 -1.1 1 0.4 1.4 -1.3 -0.7 -1.3 0.7 0.4 -1.4 -1.1 -1 1.4 -0.1zM372.9 302.7l0.6 1.3 1.4 0.1 -1.1 1 0.4 1.4 -1.3 -0.7 -1.3 0.7 0.4 -1.4 -1.1 -1 1.4 -0.1zM385.1 88.5l0.6 1.3 1.4 0.1 -1.1 1 0.4 1.4 -1.3 -0.7 -1.3 0.7 0.4 -1.4 -1.1 -1 1.4 -0.1zM298.1 424.8l0.6 1.3 1.4 0.1 -1.1 1 0.4 1.4 -1.3 -0.7 -1.3 0.7 0.4 -1.4 -1.1 -1 1.4 -0.1zM363.2 382.5l0.6 1.3 1.4 0.1 -1.1 1 0.4 1.4 -1.3 -0.7 -1.3 0.7 0.4 -1.4 -1.1 -1 1.4 -0.1zM322.8 422.9l0.6 1.3 1.4 0.1 -1.1 1 0.4 1.4 -1.3 -0.7 -1.3 0.7 0.4 -1.4 -1.1 -1 1.4 -0.1zM340.5 404.1l0.6 1.3 1.4 0.1 -1.1 1 0.4 1.4 -1.3 -0.7 -1.3 0.7 0.4 -1.4 -1.1 -1 1.4 -0.1zM354 393.5l0.6 1.3 1.4 0.1 -1.1 1 0.4 1.4 -1.3 -0.7 -1.3 0.7 0.4 -1.4 -1.1 -1 1.4 -0.1zM376.7 288.6l0.6 1.3 1.4 0.1 -1.1 1 0.4 1.4 -1.3 -0.7 -1.3 0.7 0.4 -1.4 -1.1 -1 1.4 -0.1zM344 402.3l0.6 1.3 1.4 0.1 -1.1 1 0.4 1.4 -1.3 -0.7 -1.3 0.7 0.4 -1.4 -1.1 -1 1.4 -0.1zM388 163.5l0.6 1.3 1.4 0.1 -1.1 1 0.4 1.4 -1.3 -0.7 -1.3 0.7 0.4 -1.4 -1.1 -1 1.4 -0.1zM340.3 410.9l0.6 1.3 1.4 0.1 -1.1 1 0.4 1.4 -1.3 -0.7 -1.3 0.7 0.4 -1.4 -1.1 -1 1.4 -0.1zM321.1 411l0.6 1.3 1.4 0.1 -1.1 1 0.4 1.4 -1.3 -0.7 -1.3 0.7 0.4 -1.4 -1.1 -1 1.4 -0.1zM353.6 400.5l0.6 1.3 1.4 0.1 -1.1 1 0.4 1.4 -1.3 -0.7 -1.3 0.7 0.4 -1.4 -1.1 -1 1.4 -0.1zM392.2 395.8l0.6 1.3 1.4 0.1 -1.1 1 0.4 1.4 -1.3 -0.7 -1.3 0.7 0.4 -1.4 -1.1 -1 1.4 -0.1zM403.3 432l0.6 1.3 1.4 0.1 -1.1 1 0.4 1.4 -1.3 -0.7 -1.3 0.7 0.4 -1.4 -1.1 -1 1.4 -0.1zM303.4 418l0.6 1.3 1.4 0.1 -1.1 1 0.4 1.4 -1.3 -0.7 -1.3 0.7 0.4 -1.4 -1.1 -1 1.4 -0.1zM311.9 420.7l0.6 1.3 1.4 0.1 -1.1 1 0.4 1.4 -1.3 -0.7 -1.3 0.7 0.4 -1.4 -1.1 -1 1.4 -0.1zM299.4 424.4l0.6 1.3 1.4 0.1 -1.1 1 0.4 1.4 -1.3 -0.7 -1.3 0.7 0.4 -1.4 -1.1 -1 1.4 -0.1zM309.9 428.2l0.6 1.3 1.4 0.1 -1.1 1 0.4 1.4 -1.3 -0.7 -1.3 0.7 0.4 -1.4 -1.1 -1 1.4 -0.1zM393.7 399.4l0.6 1.3 1.4 0.1 -1.1 1 0.4 1.4 -1.3 -0.7 -1.3 0.7 0.4 -1.4 -1.1 -1 1.4 -0.1zM380.1 181.8l0.6 1.3 1.4 0.1 -1.1 1 0.4 1.4 -1.3 -0.7 -1.3 0.7 0.4 -1.4 -1.1 -1 1.4 -0.1zM387.1 113.7l0.6 1.3 1.4 0.1 -1.1 1 0.4 1.4 -1.3 -0.7 -1.3 0.7 0.4 -1.4 -1.1 -1 1.4 -0.1zM387 90.7l0.6 1.3 1.4 0.1 -1.1 1 0.4 1.4 -1.3 -0.7 -1.3 0.7 0.4 -1.4 -1.1 -1 1.4 -0.1zM333.5 409.5l0.6 1.3 1.4 0.1 -1.1 1 0.4 1.4 -1.3 -0.7 -1.3 0.7 0.4 -1.4 -1.1 -1 1.4 -0.1zM343.3 412.7l0.6 1.3 1.4 0.1 -1.1 1 0.4 1.4 -1.3 -0.7 -1.3 0.7 0.4 -1.4 -1.1 -1 1.4 -0.1zM337.6 410l0.6 1.3 1.4 0.1 -1.1 1 0.4 1.4 -1.3 -0.7 -1.3 0.7 0.4 -1.4 -1.1 -1 1.4 -0.1zM357.6 386.8l0.6 1.3 1.4 0.1 -1.1 1 0.4 1.4 -1.3 -0.7 -1.3 0.7 0.4 -1.4 -1.1 -1 1.4 -0.1zM302 422.3l0.6 1.3 1.4 0.1 -1.1 1 0.4 1.4 -1.3 -0.7 -1.3 0.7 0.4 -1.4 -1.1 -1 1.4 -0.1zM358.9 390l0.6 1.3 1.4 0.1 -1.1 1 0.4 1.4 -1.3 -0.7 -1.3 0.7 0.4 -1.4 -1.1 -1 1.4 -0.1zM347.2 394.9l0.6 1.3 1.4 0.1 -1.1 1 0.4 1.4 -1.3 -0.7 -1.3 0.7 0.4 -1.4 -1.1 -1 1.4 -0.1zM366.1 382.5l0.6 1.3 1.4 0.1 -1.1 1 0.4 1.4 -1.3 -0.7 -1.3 0.7 0.4 -1.4 -1.1 -1 1.4 -0.1zM396.4 408.8l0.6 1.3 1.4 0.1 -1.1 1 0.4 1.4 -1.3 -0.7 -1.3 0.7 0.4 -1.4 -1.1 -1 1.4 -0.1zM399.2 423.8l0.6 1.3 1.4 0.1 -1.1 1 0.4 1.4 -1.3 -0.7 -1.3 0.7 0.4 -1.4 -1.1 -1 1.4 -0.1zM343.3 407.7l0.6 1.3 1.4 0.1 -1.1 1 0.4 1.4 -1.3 -0.7 -1.3 0.7 0.4 -1.4 -1.1 -1 1.4 -0.1zM303.1 415.6l0.6 1.3 1.4 0.1 -1.1 1 0.4 1.4 -1.3 -0.7 -1.3 0.7 0.4 -1.4 -1.1 -1 1.4 -0.1zM403.7 424.3l0.6 1.3 1.4 0.1 -1.1 1 0.4 1.4 -1.3 -0.7 -1.3 0.7 0.4 -1.4 -1.1 -1 1.4 -0.1zM311.7 414.6l0.6 1.3 1.4 0.1 -1.1 1 0.4 1.4 -1.3 -0.7 -1.3 0.7 0.4 -1.4 -1.1 -1 1.4 -0.1zM393 416.6l0.6 1.3 1.4 0.1 -1.1 1 0.4 1.4 -1.3 -0.7 -1.3 0.7 0.4 -1.4 -1.1 -1 1.4 -0.1zM308.3 421.7l0.6 1.3 1.4 0.1 -1.1 1 0.4 1.4 -1.3 -0.7 -1.3 0.7 0.4 -1.4 -1.1 -1 1.4 -0.1zM347.7 404.9l0.6 1.3 1.4 0.1 -1.1 1 0.4 1.4 -1.3 -0.7 -1.3 0.7 0.4 -1.4 -1.1 -1 1.4 -0.1zM329.6 402.6l0.6 1.3 1.4 0.1 -1.1 1 0.4 1.4 -1.3 -0.7 -1.3 0.7 0.4 -1.4 -1.1 -1 1.4 -0.1zM323.3 419.6l0.6 1.3 1.4 0.1 -1.1 1 0.4 1.4 -1.3 -0.7 -1.3 0.7 0.4 -1.4 -1.1 -1 1.4 -0.1zM357.6 400.4l0.6 1.3 1.4 0.1 -1.1 1 0.4 1.4 -1.3 -0.7 -1.3 0.7 0.4 -1.4 -1.1 -1 1.4 -0.1zM356 395.3l0.6 1.3 1.4 0.1 -1.1 1 0.4 1.4 -1.3 -0.7 -1.3 0.7 0.4 -1.4 -1.1 -1 1.4 -0.1zM389.1 64.7l0.6 1.3 1.4 0.1 -1.1 1 0.4 1.4 -1.3 -0.7 -1.3 0.7 0.4 -1.4 -1.1 -1 1.4 -0.1zM358.7 394.1l0.6 1.3 1.4 0.1 -1.1 1 0.4 1.4 -1.3 -0.7 -1.3 0.7 0.4 -1.4 -1.1 -1 1.4 -0.1zM401.8 427.6l0.6 1.3 1.4 0.1 -1.1 1 0.4 1.4 -1.3 -0.7 -1.3 0.7 0.4 -1.4 -1.1 -1 1.4 -0.1zM372.3 275.4l0.6 1.3 1.4 0.1 -1.1 1 0.4 1.4 -1.3 -0.7 -1.3 0.7 0.4 -1.4 -1.1 -1 1.4 -0.1zM357.7 387.9l0.6 1.3 1.4 0.1 -1.1 1 0.4 1.4 -1.3 -0.7 -1.3 0.7 0.4 -1.4 -1.1 -1 1.4 -0.1zM388.4 278.5l0.6 1.3 1.4 0.1 -1.1 1 0.4 1.4 -1.3 -0.7 -1.3 0.7 0.4 -1.4 -1.1 -1 1.4 -0.1zM400 427.7l0.6 1.3 1.4 0.1 -1.1 1 0.4 1.4 -1.3 -0.7 -1.3 0.7 0.4 -1.4 -1.1 -1 1.4 -0.1zM315.8 409.6l0.6 1.3 1.4 0.1 -1.1 1 0.4 1.4 -1.3 -0.7 -1.3 0.7 0.4 -1.4 -1.1 -1 1.4 -0.1zM397.4 414.9l0.6 1.3 1.4 0.1 -1.1 1 0.4 1.4 -1.3 -0.7 -1.3 0.7 0.4 -1.4 -1.1 -1 1.4 -0.1zM395.7 393.6l0.6 1.3 1.4 0.1 -1.1 1 0.4 1.4 -1.3 -0.7 -1.3 0.7 0.4 -1.4 -1.1 -1 1.4 -0.1zM366 358.5l0.6 1.3 1.4 0.1 -1.1 1 0.4 1.4 -1.3 -0.7 -1.3 0.7 0.4 -1.4 -1.1 -1 1.4 -0.1zM358.7 383.6l0.6 1.3 1.4 0.1 -1.1 1 0.4 1.4 -1.3 -0.7 -1.3 0.7 0.4 -1.4 -1.1 -1 1.4 -0.1zM349.1 398.3l0.6 1.3 1.4 0.1 -1.1 1 0.4 1.4 -1.3 -0.7 -1.3 0.7 0.4 -1.4 -1.1 -1 1.4 -0.1zM379.6 140.6l0.6 1.3 1.4 0.1 -1.1 1 0.4 1.4 -1.3 -0.7 -1.3 0.7 0.4 -1.4 -1.1 -1 1.4 -0.1zM367.3 371l0.6 1.3 1.4 0.1 -1.1 1 0.4 1.4 -1.3 -0.7 -1.3 0.7 0.4 -1.4 -1.1 -1 1.4 -0.1zM362.5 371.1l0.6 1.3 1.4 0.1 -1.1 1 0.4 1.4 -1.3 -0.7 -1.3 0.7 0.4 -1.4 -1.1 -1 1.4 -0.1zM394 400.9l0.6 1.3 1.4 0.1 -1.1 1 0.4 1.4 -1.3 -0.7 -1.3 0.7 0.4 -1.4 -1.1 -1 1.4 -0.1zM394.5 398.9l0.6 1.3 1.4 0.1 -1.1 1 0.4 1.4 -1.3 -0.7 -1.3 0.7 0.4 -1.4 -1.1 -1 1.4 -0.1zM406.7 437.1l0.6 1.3 1.4 0.1 -1.1 1 0.4 1.4 -1.3 -0.7 -1.3 0.7 0.4 -1.4 -1.1 -1 1.4 -0.1zM345.7 405.1l0.6 1.3 1.4 0.1 -1.1 1 0.4 1.4 -1.3 -0.7 -1.3 0.7 0.4 -1.4 -1.1 -1 1.4 -0.1zM380.5 211.5l0.6 1.3 1.4 0.1 -1.1 1 0.4 1.4 -1.3 -0.7 -1.3 0.7 0.4 -1.4 -1.1 -1 1.4 -0.1zM300.5 423.9l0.6 1.3 1.4 0.1 -1.1 1 0.4 1.4 -1.3 -0.7 -1.3 0.7 0.4 -1.4 -1.1 -1 1.4 -0.1zM405 437.8l0.6 1.3 1.4 0.1 -1.1 1 0.4 1.4 -1.3 -0.7 -1.3 0.7 0.4 -1.4 -1.1 -1 1.4 -0.1zM357 400l0.6 1.3 1.4 0.1 -1.1 1 0.4 1.4 -1.3 -0.7 -1.3 0.7 0.4 -1.4 -1.1 -1 1.4 -0.1zM336.1 405.9l0.6 1.3 1.4 0.1 -1.1 1 0.4 1.4 -1.3 -0.7 -1.3 0.7 0.4 -1.4 -1.1 -1 1.4 -0.1zM378.8 220.1l0.6 1.3 1.4 0.1 -1.1 1 0.4 1.4 -1.3 -0.7 -1.3 0.7 0.4 -1.4 -1.1 -1 1.4 -0.1zM344.2 391.5l0.6 1.3 1.4 0.1 -1.1 1 0.4 1.4 -1.3 -0.7 -1.3 0.7 0.4 -1.4 -1.1 -1 1.4 -0.1zM359.7 379.1l0.6 1.3 1.4 0.1 -1.1 1 0.4 1.4 -1.3 -0.7 -1.3 0.7 0.4 -1.4 -1.1 -1 1.4 -0.1zM354.6 392.3l0.6 1.3 1.4 0.1 -1.1 1 0.4 1.4 -1.3 -0.7 -1.3 0.7 0.4 -1.4 -1.1 -1 1.4 -0.1zM381.3 130.7l0.6 1.3 1.4 0.1 -1.1 1 0.4 1.4 -1.3 -0.7 -1.3 0.7 0.4 -1.4 -1.1 -1 1.4 -0.1zM347.5 390.7l0.6 1.3 1.4 0.1 -1.1 1 0.4 1.4 -1.3 -0.7 -1.3 0.7 0.4 -1.4 -1.1 -1 1.4 -0.1zM301 422.4l0.6 1.3 1.4 0.1 -1.1 1 0.4 1.4 -1.3 -0.7 -1.3 0.7 0.4 -1.4 -1.1 -1 1.4 -0.1zM398.3 407.4l0.6 1.3 1.4 0.1 -1.1 1 0.4 1.4 -1.3 -0.7 -1.3 0.7 0.4 -1.4 -1.1 -1 1.4 -0.1zM392.4 380.8l0.6 1.3 1.4 0.1 -1.1 1 0.4 1.4 -1.3 -0.7 -1.3 0.7 0.4 -1.4 -1.1 -1 1.4 -0.1zM342.5 403.4l0.6 1.3 1.4 0.1 -1.1 1 0.4 1.4 -1.3 -0.7 -1.3 0.7 0.4 -1.4 -1.1 -1 1.4 -0.1zM371.8 301.7l0.6 1.3 1.4 0.1 -1.1 1 0.4 1.4 -1.3 -0.7 -1.3 0.7 0.4 -1.4 -1.1 -1 1.4 -0.1zM375.8 264.2l0.6 1.3 1.4 0.1 -1.1 1 0.4 1.4 -1.3 -0.7 -1.3 0.7 0.4 -1.4 -1.1 -1 1.4 -0.1zM372.8 320.7l0.6 1.3 1.4 0.1 -1.1 1 0.4 1.4 -1.3 -0.7 -1.3 0.7 0.4 -1.4 -1.1 -1 1.4 -0.1zM385.3 159.9l0.6 1.3 1.4 0.1 -1.1 1 0.4 1.4 -1.3 -0.7 -1.3 0.7 0.4 -1.4 -1.1 -1 1.4 -0.1zM306.3 418.5l0.6 1.3 1.4 0.1 -1.1 1 0.4 1.4 -1.3 -0.7 -1.3 0.7 0.4 -1.4 -1.1 -1 1.4 -0.1zM324.3 407.6l0.6 1.3 1.4 0.1 -1.1 1 0.4 1.4 -1.3 -0.7 -1.3 0.7 0.4 -1.4 -1.1 -1 1.4 -0.1zM369.6 339.3l0.6 1.3 1.4 0.1 -1.1 1 0.4 1.4 -1.3 -0.7 -1.3 0.7 0.4 -1.4 -1.1 -1 1.4 -0.1zM388.9 227.6l0.6 1.3 1.4 0.1 -1.1 1 0.4 1.4 -1.3 -0.7 -1.3 0.7 0.4 -1.4 -1.1 -1 1.4 -0.1zM378.9 225.9l0.6 1.3 1.4 0.1 -1.1 1 0.4 1.4 -1.3 -0.7 -1.3 0.7 0.4 -1.4 -1.1 -1 1.4 -0.1zM314.5 418l0.6 1.3 1.4 0.1 -1.1 1 0.4 1.4 -1.3 -0.7 -1.3 0.7 0.4 -1.4 -1.1 -1 1.4 -0.1zM322.3 409.1l0.6 1.3 1.4 0.1 -1.1 1 0.4 1.4 -1.3 -0.7 -1.3 0.7 0.4 -1.4 -1.1 -1 1.4 -0.1zM373.1 278.6l0.6 1.3 1.4 0.1 -1.1 1 0.4 1.4 -1.3 -0.7 -1.3 0.7 0.4 -1.4 -1.1 -1 1.4 -0.1zM388.6 246.4l0.6 1.3 1.4 0.1 -1.1 1 0.4 1.4 -1.3 -0.7 -1.3 0.7 0.4 -1.4 -1.1 -1 1.4 -0.1zM365.3 377.3l0.6 1.3 1.4 0.1 -1.1 1 0.4 1.4 -1.3 -0.7 -1.3 0.7 0.4 -1.4 -1.1 -1 1.4 -0.1zM346.1 399.3l0.6 1.3 1.4 0.1 -1.1 1 0.4 1.4 -1.3 -0.7 -1.3 0.7 0.4 -1.4 -1.1 -1 1.4 -0.1zM313.3 418.3l0.6 1.3 1.4 0.1 -1.1 1 0.4 1.4 -1.3 -0.7 -1.3 0.7 0.4 -1.4 -1.1 -1 1.4 -0.1zM302.8 424.1l0.6 1.3 1.4 0.1 -1.1 1 0.4 1.4 -1.3 -0.7 -1.3 0.7 0.4 -1.4 -1.1 -1 1.4 -0.1zM328.1 413l0.6 1.3 1.4 0.1 -1.1 1 0.4 1.4 -1.3 -0.7 -1.3 0.7 0.4 -1.4 -1.1 -1 1.4 -0.1zM381 221.9l0.6 1.3 1.4 0.1 -1.1 1 0.4 1.4 -1.3 -0.7 -1.3 0.7 0.4 -1.4 -1.1 -1 1.4 -0.1zM313.3 416.8l0.6 1.3 1.4 0.1 -1.1 1 0.4 1.4 -1.3 -0.7 -1.3 0.7 0.4 -1.4 -1.1 -1 1.4 -0.1zM348.2 406.1l0.6 1.3 1.4 0.1 -1.1 1 0.4 1.4 -1.3 -0.7 -1.3 0.7 0.4 -1.4 -1.1 -1 1.4 -0.1zM404.2 427l0.6 1.3 1.4 0.1 -1.1 1 0.4 1.4 -1.3 -0.7 -1.3 0.7 0.4 -1.4 -1.1 -1 1.4 -0.1zM389.9 123.4l0.6 1.3 1.4 0.1 -1.1 1 0.4 1.4 -1.3 -0.7 -1.3 0.7 0.4 -1.4 -1.1 -1 1.4 -0.1zM393.2 396l0.6 1.3 1.4 0.1 -1.1 1 0.4 1.4 -1.3 -0.7 -1.3 0.7 0.4 -1.4 -1.1 -1 1.4 -0.1zM368.9 367.6l0.6 1.3 1.4 0.1 -1.1 1 0.4 1.4 -1.3 -0.7 -1.3 0.7 0.4 -1.4 -1.1 -1 1.4 -0.1zM386.3 105.5l0.6 1.3 1.4 0.1 -1.1 1 0.4 1.4 -1.3 -0.7 -1.3 0.7 0.4 -1.4 -1.1 -1 1.4 -0.1zM358.4 391.5l0.6 1.3 1.4 0.1 -1.1 1 0.4 1.4 -1.3 -0.7 -1.3 0.7 0.4 -1.4 -1.1 -1 1.4 -0.1zM343 405.8l0.6 1.3 1.4 0.1 -1.1 1 0.4 1.4 -1.3 -0.7 -1.3 0.7 0.4 -1.4 -1.1 -1 1.4 -0.1zM386.9 108.6l0.6 1.3 1.4 0.1 -1.1 1 0.4 1.4 -1.3 -0.7 -1.3 0.7 0.4 -1.4 -1.1 -1 1.4 -0.1zM363.1 385.1l0.6 1.3 1.4 0.1 -1.1 1 0.4 1.4 -1.3 -0.7 -1.3 0.7 0.4 -1.4 -1.1 -1 1.4 -0.1zM333.8 404.9l0.6 1.3 1.4 0.1 -1.1 1 0.4 1.4 -1.3 -0.7 -1.3 0.7 0.4 -1.4 -1.1 -1 1.4 -0.1zM370.7 322.6l0.6 1.3 1.4 0.1 -1.1 1 0.4 1.4 -1.3 -0.7 -1.3 0.7 0.4 -1.4 -1.1 -1 1.4 -0.1zM405.4 425.2l0.6 1.3 1.4 0.1 -1.1 1 0.4 1.4 -1.3 -0.7 -1.3 0.7 0.4 -1.4 -1.1 -1 1.4 -0.1zM299.9 417.4l0.6 1.3 1.4 0.1 -1.1 1 0.4 1.4 -1.3 -0.7 -1.3 0.7 0.4 -1.4 -1.1 -1 1.4 -0.1zM337.9 401.5l0.6 1.3 1.4 0.1 -1.1 1 0.4 1.4 -1.3 -0.7 -1.3 0.7 0.4 -1.4 -1.1 -1 1.4 -0.1zM368.4 357.1l0.6 1.3 1.4 0.1 -1.1 1 0.4 1.4 -1.3 -0.7 -1.3 0.7 0.4 -1.4 -1.1 -1 1.4 -0.1zM395.5 404.5l0.6 1.3 1.4 0.1 -1.1 1 0.4 1.4 -1.3 -0.7 -1.3 0.7 0.4 -1.4 -1.1 -1 1.4 -0.1zM343.9 410.5l0.6 1.3 1.4 0.1 -1.1 1 0.4 1.4 -1.3 -0.7 -1.3 0.7 0.4 -1.4 -1.1 -1 1.4 -0.1zM316.2 418.6l0.6 1.3 1.4 0.1 -1.1 1 0.4 1.4 -1.3 -0.7 -1.3 0.7 0.4 -1.4 -1.1 -1 1.4 -0.1zM315.5 411.4l0.6 1.3 1.4 0.1 -1.1 1 0.4 1.4 -1.3 -0.7 -1.3 0.7 0.4 -1.4 -1.1 -1 1.4 -0.1zM351.2 405.3l0.6 1.3 1.4 0.1 -1.1 1 0.4 1.4 -1.3 -0.7 -1.3 0.7 0.4 -1.4 -1.1 -1 1.4 -0.1zM334.2 411.9l0.6 1.3 1.4 0.1 -1.1 1 0.4 1.4 -1.3 -0.7 -1.3 0.7 0.4 -1.4 -1.1 -1 1.4 -0.1zM297.7 415.4l0.6 1.3 1.4 0.1 -1.1 1 0.4 1.4 -1.3 -0.7 -1.3 0.7 0.4 -1.4 -1.1 -1 1.4 -0.1zM324.5 418.5l0.6 1.3 1.4 0.1 -1.1 1 0.4 1.4 -1.3 -0.7 -1.3 0.7 0.4 -1.4 -1.1 -1 1.4 -0.1zM401.6 425.2l0.6 1.3 1.4 0.1 -1.1 1 0.4 1.4 -1.3 -0.7 -1.3 0.7 0.4 -1.4 -1.1 -1 1.4 -0.1zM343 401.1l0.6 1.3 1.4 0.1 -1.1 1 0.4 1.4 -1.3 -0.7 -1.3 0.7 0.4 -1.4 -1.1 -1 1.4 -0.1zM344.6 403.7l0.6 1.3 1.4 0.1 -1.1 1 0.4 1.4 -1.3 -0.7 -1.3 0.7 0.4 -1.4 -1.1 -1 1.4 -0.1zM320.8 411.1l0.6 1.3 1.4 0.1 -1.1 1 0.4 1.4 -1.3 -0.7 -1.3 0.7 0.4 -1.4 -1.1 -1 1.4 -0.1zM342.6 400.3l0.6 1.3 1.4 0.1 -1.1 1 0.4 1.4 -1.3 -0.7 -1.3 0.7 0.4 -1.4 -1.1 -1 1.4 -0.1zM363.1 389.5l0.6 1.3 1.4 0.1 -1.1 1 0.4 1.4 -1.3 -0.7 -1.3 0.7 0.4 -1.4 -1.1 -1 1.4 -0.1zM316.5 409.7l0.6 1.3 1.4 0.1 -1.1 1 0.4 1.4 -1.3 -0.7 -1.3 0.7 0.4 -1.4 -1.1 -1 1.4 -0.1zM365.8 378.6l0.6 1.3 1.4 0.1 -1.1 1 0.4 1.4 -1.3 -0.7 -1.3 0.7 0.4 -1.4 -1.1 -1 1.4 -0.1zM392 283.2l0.6 1.3 1.4 0.1 -1.1 1 0.4 1.4 -1.3 -0.7 -1.3 0.7 0.4 -1.4 -1.1 -1 1.4 -0.1zM350.7 401.1l0.6 1.3 1.4 0.1 -1.1 1 0.4 1.4 -1.3 -0.7 -1.3 0.7 0.4 -1.4 -1.1 -1 1.4 -0.1zM316 415.8l0.6 1.3 1.4 0.1 -1.1 1 0.4 1.4 -1.3 -0.7 -1.3 0.7 0.4 -1.4 -1.1 -1 1.4 -0.1zM335.8 413.3l0.6 1.3 1.4 0.1 -1.1 1 0.4 1.4 -1.3 -0.7 -1.3 0.7 0.4 -1.4 -1.1 -1 1.4 -0.1zM402.1 424.5l0.6 1.3 1.4 0.1 -1.1 1 0.4 1.4 -1.3 -0.7 -1.3 0.7 0.4 -1.4 -1.1 -1 1.4 -0.1zM367.9 379.9l0.6 1.3 1.4 0.1 -1.1 1 0.4 1.4 -1.3 -0.7 -1.3 0.7 0.4 -1.4 -1.1 -1 1.4 -0.1zM389.1 214l0.6 1.3 1.4 0.1 -1.1 1 0.4 1.4 -1.3 -0.7 -1.3 0.7 0.4 -1.4 -1.1 -1 1.4 -0.1zM391.5 396.6l0.6 1.3 1.4 0.1 -1.1 1 0.4 1.4 -1.3 -0.7 -1.3 0.7 0.4 -1.4 -1.1 -1 1.4 -0.1zM360.8 389.3l0.6 1.3 1.4 0.1 -1.1 1 0.4 1.4 -1.3 -0.7 -1.3 0.7 0.4 -1.4 -1.1 -1 1.4 -0.1zM374.7 282l0.6 1.3 1.4 0.1 -1.1 1 0.4 1.4 -1.3 -0.7 -1.3 0.7 0.4 -1.4 -1.1 -1 1.4 -0.1zM343.1 402.4l0.6 1.3 1.4 0.1 -1.1 1 0.4 1.4 -1.3 -0.7 -1.3 0.7 0.4 -1.4 -1.1 -1 1.4 -0.1zM337.5 411.5l0.6 1.3 1.4 0.1 -1.1 1 0.4 1.4 -1.3 -0.7 -1.3 0.7 0.4 -1.4 -1.1 -1 1.4 -0.1zM353 397.6l0.6 1.3 1.4 0.1 -1.1 1 0.4 1.4 -1.3 -0.7 -1.3 0.7 0.4 -1.4 -1.1 -1 1.4 -0.1zM340.8 412.3l0.6 1.3 1.4 0.1 -1.1 1 0.4 1.4 -1.3 -0.7 -1.3 0.7 0.4 -1.4 -1.1 -1 1.4 -0.1zM361.5 387.9l0.6 1.3 1.4 0.1 -1.1 1 0.4 1.4 -1.3 -0.7 -1.3 0.7 0.4 -1.4 -1.1 -1 1.4 -0.1zM403.5 430.3l0.6 1.3 1.4 0.1 -1.1 1 0.4 1.4 -1.3 -0.7 -1.3 0.7 0.4 -1.4 -1.1 -1 1.4 -0.1zM388.7 75.9l0.6 1.3 1.4 0.1 -1.1 1 0.4 1.4 -1.3 -0.7 -1.3 0.7 0.4 -1.4 -1.1 -1 1.4 -0.1zM394.7 405.1l0.6 1.3 1.4 0.1 -1.1 1 0.4 1.4 -1.3 -0.7 -1.3 0.7 0.4 -1.4 -1.1 -1 1.4 -0.1zM325.8 413.8l0.6 1.3 1.4 0.1 -1.1 1 0.4 1.4 -1.3 -0.7 -1.3 0.7 0.4 -1.4 -1.1 -1 1.4 -0.1zM333.8 405.9l0.6 1.3 1.4 0.1 -1.1 1 0.4 1.4 -1.3 -0.7 -1.3 0.7 0.4 -1.4 -1.1 -1 1.4 -0.1zM403.6 425.7l0.6 1.3 1.4 0.1 -1.1 1 0.4 1.4 -1.3 -0.7 -1.3 0.7 0.4 -1.4 -1.1 -1 1.4 -0.1zM340.4 406.2l0.6 1.3 1.4 0.1 -1.1 1 0.4 1.4 -1.3 -0.7 -1.3 0.7 0.4 -1.4 -1.1 -1 1.4 -0.1zM362.1 391.5l0.6 1.3 1.4 0.1 -1.1 1 0.4 1.4 -1.3 -0.7 -1.3 0.7 0.4 -1.4 -1.1 -1 1.4 -0.1zM295.2 423.1l0.6 1.3 1.4 0.1 -1.1 1 0.4 1.4 -1.3 -0.7 -1.3 0.7 0.4 -1.4 -1.1 -1 1.4 -0.1zM393.2 412l0.6 1.3 1.4 0.1 -1.1 1 0.4 1.4 -1.3 -0.7 -1.3 0.7 0.4 -1.4 -1.1 -1 1.4 -0.1zM387.5 66.3l0.6 1.3 1.4 0.1 -1.1 1 0.4 1.4 -1.3 -0.7 -1.3 0.7 0.4 -1.4 -1.1 -1 1.4 -0.1zM390.4 83.7l0.6 1.3 1.4 0.1 -1.1 1 0.4 1.4 -1.3 -0.7 -1.3 0.7 0.4 -1.4 -1.1 -1 1.4 -0.1zM306.9 418l0.6 1.3 1.4 0.1 -1.1 1 0.4 1.4 -1.3 -0.7 -1.3 0.7 0.4 -1.4 -1.1 -1 1.4 -0.1zM310.3 420.1l0.6 1.3 1.4 0.1 -1.1 1 0.4 1.4 -1.3 -0.7 -1.3 0.7 0.4 -1.4 -1.1 -1 1.4 -0.1zM346.8 396.4l0.6 1.3 1.4 0.1 -1.1 1 0.4 1.4 -1.3 -0.7 -1.3 0.7 0.4 -1.4 -1.1 -1 1.4 -0.1zM392.5 394.7l0.6 1.3 1.4 0.1 -1.1 1 0.4 1.4 -1.3 -0.7 -1.3 0.7 0.4 -1.4 -1.1 -1 1.4 -0.1zM300.3 431l0.6 1.3 1.4 0.1 -1.1 1 0.4 1.4 -1.3 -0.7 -1.3 0.7 0.4 -1.4 -1.1 -1 1.4 -0.1zM300.1 423l0.6 1.3 1.4 0.1 -1.1 1 0.4 1.4 -1.3 -0.7 -1.3 0.7 0.4 -1.4 -1.1 -1 1.4 -0.1zM383.4 131.4l0.6 1.3 1.4 0.1 -1.1 1 0.4 1.4 -1.3 -0.7 -1.3 0.7 0.4 -1.4 -1.1 -1 1.4 -0.1zM384.3 73.8l0.6 1.3 1.4 0.1 -1.1 1 0.4 1.4 -1.3 -0.7 -1.3 0.7 0.4 -1.4 -1.1 -1 1.4 -0.1zM357.6 387.5l0.6 1.3 1.4 0.1 -1.1 1 0.4 1.4 -1.3 -0.7 -1.3 0.7 0.4 -1.4 -1.1 -1 1.4 -0.1zM350.2 402.3l0.6 1.3 1.4 0.1 -1.1 1 0.4 1.4 -1.3 -0.7 -1.3 0.7 0.4 -1.4 -1.1 -1 1.4 -0.1zM312.3 415.8l0.6 1.3 1.4 0.1 -1.1 1 0.4 1.4 -1.3 -0.7 -1.3 0.7 0.4 -1.4 -1.1 -1 1.4 -0.1zM314.3 414.1l0.6 1.3 1.4 0.1 -1.1 1 0.4 1.4 -1.3 -0.7 -1.3 0.7 0.4 -1.4 -1.1 -1 1.4 -0.1zM310.9 415.2l0.6 1.3 1.4 0.1 -1.1 1 0.4 1.4 -1.3 -0.7 -1.3 0.7 0.4 -1.4 -1.1 -1 1.4 -0.1zM323.9 423.1l0.6 1.3 1.4 0.1 -1.1 1 0.4 1.4 -1.3 -0.7 -1.3 0.7 0.4 -1.4 -1.1 -1 1.4 -0.1zM389.5 369.9l0.6 1.3 1.4 0.1 -1.1 1 0.4 1.4 -1.3 -0.7 -1.3 0.7 0.4 -1.4 -1.1 -1 1.4 -0.1zM364.4 379.4l0.6 1.3 1.4 0.1 -1.1 1 0.4 1.4 -1.3 -0.7 -1.3 0.7 0.4 -1.4 -1.1 -1 1.4 -0.1zM369.2 355.9l0.6 1.3 1.4 0.1 -1.1 1 0.4 1.4 -1.3 -0.7 -1.3 0.7 0.4 -1.4 -1.1 -1 1.4 -0.1zM404.9 436.5l0.6 1.3 1.4 0.1 -1.1 1 0.4 1.4 -1.3 -0.7 -1.3 0.7 0.4 -1.4 -1.1 -1 1.4 -0.1zM331.5 411.4l0.6 1.3 1.4 0.1 -1.1 1 0.4 1.4 -1.3 -0.7 -1.3 0.7 0.4 -1.4 -1.1 -1 1.4 -0.1zM352 391.2l0.6 1.3 1.4 0.1 -1.1 1 0.4 1.4 -1.3 -0.7 -1.3 0.7 0.4 -1.4 -1.1 -1 1.4 -0.1zM388.1 57.6l0.6 1.3 1.4 0.1 -1.1 1 0.4 1.4 -1.3 -0.7 -1.3 0.7 0.4 -1.4 -1.1 -1 1.4 -0.1zM370.9 331.8l0.6 1.3 1.4 0.1 -1.1 1 0.4 1.4 -1.3 -0.7 -1.3 0.7 0.4 -1.4 -1.1 -1 1.4 -0.1zM325.1 418.2l0.6 1.3 1.4 0.1 -1.1 1 0.4 1.4 -1.3 -0.7 -1.3 0.7 0.4 -1.4 -1.1 -1 1.4 -0.1zM315.9 412.2l0.6 1.3 1.4 0.1 -1.1 1 0.4 1.4 -1.3 -0.7 -1.3 0.7 0.4 -1.4 -1.1 -1 1.4 -0.1zM337.5 413.2l0.6 1.3 1.4 0.1 -1.1 1 0.4 1.4 -1.3 -0.7 -1.3 0.7 0.4 -1.4 -1.1 -1 1.4 -0.1zM333.9 411.8l0.6 1.3 1.4 0.1 -1.1 1 0.4 1.4 -1.3 -0.7 -1.3 0.7 0.4 -1.4 -1.1 -1 1.4 -0.1zM305.8 416.1l0.6 1.3 1.4 0.1 -1.1 1 0.4 1.4 -1.3 -0.7 -1.3 0.7 0.4 -1.4 -1.1 -1 1.4 -0.1zM330.5 412.9l0.6 1.3 1.4 0.1 -1.1 1 0.4 1.4 -1.3 -0.7 -1.3 0.7 0.4 -1.4 -1.1 -1 1.4 -0.1zM322.4 411.5l0.6 1.3 1.4 0.1 -1.1 1 0.4 1.4 -1.3 -0.7 -1.3 0.7 0.4 -1.4 -1.1 -1 1.4 -0.1zM388.7 196.9l0.6 1.3 1.4 0.1 -1.1 1 0.4 1.4 -1.3 -0.7 -1.3 0.7 0.4 -1.4 -1.1 -1 1.4 -0.1zM309.3 423.9l0.6 1.3 1.4 0.1 -1.1 1 0.4 1.4 -1.3 -0.7 -1.3 0.7 0.4 -1.4 -1.1 -1 1.4 -0.1zM357.9 392.9l0.6 1.3 1.4 0.1 -1.1 1 0.4 1.4 -1.3 -0.7 -1.3 0.7 0.4 -1.4 -1.1 -1 1.4 -0.1zM385.2 109.2l0.6 1.3 1.4 0.1 -1.1 1 0.4 1.4 -1.3 -0.7 -1.3 0.7 0.4 -1.4 -1.1 -1 1.4 -0.1zM329.6 403.2l0.6 1.3 1.4 0.1 -1.1 1 0.4 1.4 -1.3 -0.7 -1.3 0.7 0.4 -1.4 -1.1 -1 1.4 -0.1zM313.9 409.8l0.6 1.3 1.4 0.1 -1.1 1 0.4 1.4 -1.3 -0.7 -1.3 0.7 0.4 -1.4 -1.1 -1 1.4 -0.1zM369.8 336.5l0.6 1.3 1.4 0.1 -1.1 1 0.4 1.4 -1.3 -0.7 -1.3 0.7 0.4 -1.4 -1.1 -1 1.4 -0.1zM342.6 408.9l0.6 1.3 1.4 0.1 -1.1 1 0.4 1.4 -1.3 -0.7 -1.3 0.7 0.4 -1.4 -1.1 -1 1.4 -0.1zM355.9 386.2l0.6 1.3 1.4 0.1 -1.1 1 0.4 1.4 -1.3 -0.7 -1.3 0.7 0.4 -1.4 -1.1 -1 1.4 -0.1zM304 420.8l0.6 1.3 1.4 0.1 -1.1 1 0.4 1.4 -1.3 -0.7 -1.3 0.7 0.4 -1.4 -1.1 -1 1.4 -0.1zM408.3 433.7l0.6 1.3 1.4 0.1 -1.1 1 0.4 1.4 -1.3 -0.7 -1.3 0.7 0.4 -1.4 -1.1 -1 1.4 -0.1zM317.1 415.4l0.6 1.3 1.4 0.1 -1.1 1 0.4 1.4 -1.3 -0.7 -1.3 0.7 0.4 -1.4 -1.1 -1 1.4 -0.1zM383.9 104l0.6 1.3 1.4 0.1 -1.1 1 0.4 1.4 -1.3 -0.7 -1.3 0.7 0.4 -1.4 -1.1 -1 1.4 -0.1zM404.6 432.9l0.6 1.3 1.4 0.1 -1.1 1 0.4 1.4 -1.3 -0.7 -1.3 0.7 0.4 -1.4 -1.1 -1 1.4 -0.1zM330.1 406.4l0.6 1.3 1.4 0.1 -1.1 1 0.4 1.4 -1.3 -0.7 -1.3 0.7 0.4 -1.4 -1.1 -1 1.4 -0.1zM409 431l0.6 1.3 1.4 0.1 -1.1 1 0.4 1.4 -1.3 -0.7 -1.3 0.7 0.4 -1.4 -1.1 -1 1.4 -0.1zM335.5 405.6l0.6 1.3 1.4 0.1 -1.1 1 0.4 1.4 -1.3 -0.7 -1.3 0.7 0.4 -1.4 -1.1 -1 1.4 -0.1zM350.4 397.7l0.6 1.3 1.4 0.1 -1.1 1 0.4 1.4 -1.3 -0.7 -1.3 0.7 0.4 -1.4 -1.1 -1 1.4 -0.1zM351.7 400.3l0.6 1.3 1.4 0.1 -1.1 1 0.4 1.4 -1.3 -0.7 -1.3 0.7 0.4 -1.4 -1.1 -1 1.4 -0.1zM337.3 410.1l0.6 1.3 1.4 0.1 -1.1 1 0.4 1.4 -1.3 -0.7 -1.3 0.7 0.4 -1.4 -1.1 -1 1.4 -0.1zM325.5 405.6l0.6 1.3 1.4 0.1 -1.1 1 0.4 1.4 -1.3 -0.7 -1.3 0.7 0.4 -1.4 -1.1 -1 1.4 -0.1zM314 415.6l0.6 1.3 1.4 0.1 -1.1 1 0.4 1.4 -1.3 -0.7 -1.3 0.7 0.4 -1.4 -1.1 -1 1.4 -0.1zM386.2 69.6l0.6 1.3 1.4 0.1 -1.1 1 0.4 1.4 -1.3 -0.7 -1.3 0.7 0.4 -1.4 -1.1 -1 1.4 -0.1zM324.9 420.8l0.6 1.3 1.4 0.1 -1.1 1 0.4 1.4 -1.3 -0.7 -1.3 0.7 0.4 -1.4 -1.1 -1 1.4 -0.1zM341.5 413.3l0.6 1.3 1.4 0.1 -1.1 1 0.4 1.4 -1.3 -0.7 -1.3 0.7 0.4 -1.4 -1.1 -1 1.4 -0.1zM340.5 401.6l0.6 1.3 1.4 0.1 -1.1 1 0.4 1.4 -1.3 -0.7 -1.3 0.7 0.4 -1.4 -1.1 -1 1.4 -0.1zM373.3 303.5l0.6 1.3 1.4 0.1 -1.1 1 0.4 1.4 -1.3 -0.7 -1.3 0.7 0.4 -1.4 -1.1 -1 1.4 -0.1zM311.8 414.4l0.6 1.3 1.4 0.1 -1.1 1 0.4 1.4 -1.3 -0.7 -1.3 0.7 0.4 -1.4 -1.1 -1 1.4 -0.1zM390.8 230.3l0.6 1.3 1.4 0.1 -1.1 1 0.4 1.4 -1.3 -0.7 -1.3 0.7 0.4 -1.4 -1.1 -1 1.4 -0.1zM307 422.6l0.6 1.3 1.4 0.1 -1.1 1 0.4 1.4 -1.3 -0.7 -1.3 0.7 0.4 -1.4 -1.1 -1 1.4 -0.1zM372.9 332.2l0.6 1.3 1.4 0.1 -1.1 1 0.4 1.4 -1.3 -0.7 -1.3 0.7 0.4 -1.4 -1.1 -1 1.4 -0.1zM392.7 393.5l0.6 1.3 1.4 0.1 -1.1 1 0.4 1.4 -1.3 -0.7 -1.3 0.7 0.4 -1.4 -1.1 -1 1.4 -0.1zM327.9 421.6l0.6 1.3 1.4 0.1 -1.1 1 0.4 1.4 -1.3 -0.7 -1.3 0.7 0.4 -1.4 -1.1 -1 1.4 -0.1zM328.8 411.1l0.6 1.3 1.4 0.1 -1.1 1 0.4 1.4 -1.3 -0.7 -1.3 0.7 0.4 -1.4 -1.1 -1 1.4 -0.1zM387.8 55.2l0.6 1.3 1.4 0.1 -1.1 1 0.4 1.4 -1.3 -0.7 -1.3 0.7 0.4 -1.4 -1.1 -1 1.4 -0.1zM374.6 264.2l0.6 1.3 1.4 0.1 -1.1 1 0.4 1.4 -1.3 -0.7 -1.3 0.7 0.4 -1.4 -1.1 -1 1.4 -0.1zM310.2 427.1l0.6 1.3 1.4 0.1 -1.1 1 0.4 1.4 -1.3 -0.7 -1.3 0.7 0.4 -1.4 -1.1 -1 1.4 -0.1zM315.9 424.2l0.6 1.3 1.4 0.1 -1.1 1 0.4 1.4 -1.3 -0.7 -1.3 0.7 0.4 -1.4 -1.1 -1 1.4 -0.1zM396.1 412.4l0.6 1.3 1.4 0.1 -1.1 1 0.4 1.4 -1.3 -0.7 -1.3 0.7 0.4 -1.4 -1.1 -1 1.4 -0.1zM389.3 367.1l0.6 1.3 1.4 0.1 -1.1 1 0.4 1.4 -1.3 -0.7 -1.3 0.7 0.4 -1.4 -1.1 -1 1.4 -0.1zM359.1 402l0.6 1.3 1.4 0.1 -1.1 1 0.4 1.4 -1.3 -0.7 -1.3 0.7 0.4 -1.4 -1.1 -1 1.4 -0.1zM388.2 83l0.6 1.3 1.4 0.1 -1.1 1 0.4 1.4 -1.3 -0.7 -1.3 0.7 0.4 -1.4 -1.1 -1 1.4 -0.1zM341.5 403.8l0.6 1.3 1.4 0.1 -1.1 1 0.4 1.4 -1.3 -0.7 -1.3 0.7 0.4 -1.4 -1.1 -1 1.4 -0.1zM291.4 426.7l0.6 1.3 1.4 0.1 -1.1 1 0.4 1.4 -1.3 -0.7 -1.3 0.7 0.4 -1.4 -1.1 -1 1.4 -0.1zM328.4 410.6l0.6 1.3 1.4 0.1 -1.1 1 0.4 1.4 -1.3 -0.7 -1.3 0.7 0.4 -1.4 -1.1 -1 1.4 -0.1zM318.4 415.6l0.6 1.3 1.4 0.1 -1.1 1 0.4 1.4 -1.3 -0.7 -1.3 0.7 0.4 -1.4 -1.1 -1 1.4 -0.1zM387.4 72.2l0.6 1.3 1.4 0.1 -1.1 1 0.4 1.4 -1.3 -0.7 -1.3 0.7 0.4 -1.4 -1.1 -1 1.4 -0.1zM308.1 417.7l0.6 1.3 1.4 0.1 -1.1 1 0.4 1.4 -1.3 -0.7 -1.3 0.7 0.4 -1.4 -1.1 -1 1.4 -0.1zM342.7 404.4l0.6 1.3 1.4 0.1 -1.1 1 0.4 1.4 -1.3 -0.7 -1.3 0.7 0.4 -1.4 -1.1 -1 1.4 -0.1zM404.4 426.9l0.6 1.3 1.4 0.1 -1.1 1 0.4 1.4 -1.3 -0.7 -1.3 0.7 0.4 -1.4 -1.1 -1 1.4 -0.1zM323.9 419.6l0.6 1.3 1.4 0.1 -1.1 1 0.4 1.4 -1.3 -0.7 -1.3 0.7 0.4 -1.4 -1.1 -1 1.4 -0.1zM371.2 330.2l0.6 1.3 1.4 0.1 -1.1 1 0.4 1.4 -1.3 -0.7 -1.3 0.7 0.4 -1.4 -1.1 -1 1.4 -0.1zM377.4 265.9l0.6 1.3 1.4 0.1 -1.1 1 0.4 1.4 -1.3 -0.7 -1.3 0.7 0.4 -1.4 -1.1 -1 1.4 -0.1zM395.6 412.8l0.6 1.3 1.4 0.1 -1.1 1 0.4 1.4 -1.3 -0.7 -1.3 0.7 0.4 -1.4 -1.1 -1 1.4 -0.1zM399.7 425.1l0.6 1.3 1.4 0.1 -1.1 1 0.4 1.4 -1.3 -0.7 -1.3 0.7 0.4 -1.4 -1.1 -1 1.4 -0.1zM398.6 414.5l0.6 1.3 1.4 0.1 -1.1 1 0.4 1.4 -1.3 -0.7 -1.3 0.7 0.4 -1.4 -1.1 -1 1.4 -0.1zM365.5 391.1l0.6 1.3 1.4 0.1 -1.1 1 0.4 1.4 -1.3 -0.7 -1.3 0.7 0.4 -1.4 -1.1 -1 1.4 -0.1zM400.2 424l0.6 1.3 1.4 0.1 -1.1 1 0.4 1.4 -1.3 -0.7 -1.3 0.7 0.4 -1.4 -1.1 -1 1.4 -0.1zM301.1 420.9l0.6 1.3 1.4 0.1 -1.1 1 0.4 1.4 -1.3 -0.7 -1.3 0.7 0.4 -1.4 -1.1 -1 1.4 -0.1zM294.9 422.4l0.6 1.3 1.4 0.1 -1.1 1 0.4 1.4 -1.3 -0.7 -1.3 0.7 0.4 -1.4 -1.1 -1 1.4 -0.1zM382.4 166.8l0.6 1.3 1.4 0.1 -1.1 1 0.4 1.4 -1.3 -0.7 -1.3 0.7 0.4 -1.4 -1.1 -1 1.4 -0.1zM366.9 347.9l0.6 1.3 1.4 0.1 -1.1 1 0.4 1.4 -1.3 -0.7 -1.3 0.7 0.4 -1.4 -1.1 -1 1.4 -0.1zM342.7 402.6l0.6 1.3 1.4 0.1 -1.1 1 0.4 1.4 -1.3 -0.7 -1.3 0.7 0.4 -1.4 -1.1 -1 1.4 -0.1zM376.3 290.6l0.6 1.3 1.4 0.1 -1.1 1 0.4 1.4 -1.3 -0.7 -1.3 0.7 0.4 -1.4 -1.1 -1 1.4 -0.1zM390.3 221.6l0.6 1.3 1.4 0.1 -1.1 1 0.4 1.4 -1.3 -0.7 -1.3 0.7 0.4 -1.4 -1.1 -1 1.4 -0.1zM406.1 436.1l0.6 1.3 1.4 0.1 -1.1 1 0.4 1.4 -1.3 -0.7 -1.3 0.7 0.4 -1.4 -1.1 -1 1.4 -0.1zM377.2 275.8l0.6 1.3 1.4 0.1 -1.1 1 0.4 1.4 -1.3 -0.7 -1.3 0.7 0.4 -1.4 -1.1 -1 1.4 -0.1zM379.3 210.7l0.6 1.3 1.4 0.1 -1.1 1 0.4 1.4 -1.3 -0.7 -1.3 0.7 0.4 -1.4 -1.1 -1 1.4 -0.1zM372.5 304.6l0.6 1.3 1.4 0.1 -1.1 1 0.4 1.4 -1.3 -0.7 -1.3 0.7 0.4 -1.4 -1.1 -1 1.4 -0.1zM347.3 406.1l0.6 1.3 1.4 0.1 -1.1 1 0.4 1.4 -1.3 -0.7 -1.3 0.7 0.4 -1.4 -1.1 -1 1.4 -0.1zM347.1 403.7l0.6 1.3 1.4 0.1 -1.1 1 0.4 1.4 -1.3 -0.7 -1.3 0.7 0.4 -1.4 -1.1 -1 1.4 -0.1zM319.1 420.7l0.6 1.3 1.4 0.1 -1.1 1 0.4 1.4 -1.3 -0.7 -1.3 0.7 0.4 -1.4 -1.1 -1 1.4 -0.1zM370.5 333.2l0.6 1.3 1.4 0.1 -1.1 1 0.4 1.4 -1.3 -0.7 -1.3 0.7 0.4 -1.4 -1.1 -1 1.4 -0.1zM336 405.6l0.6 1.3 1.4 0.1 -1.1 1 0.4 1.4 -1.3 -0.7 -1.3 0.7 0.4 -1.4 -1.1 -1 1.4 -0.1zM293.1 428.6l0.6 1.3 1.4 0.1 -1.1 1 0.4 1.4 -1.3 -0.7 -1.3 0.7 0.4 -1.4 -1.1 -1 1.4 -0.1zM398.8 414.5l0.6 1.3 1.4 0.1 -1.1 1 0.4 1.4 -1.3 -0.7 -1.3 0.7 0.4 -1.4 -1.1 -1 1.4 -0.1zM365.1 380.1l0.6 1.3 1.4 0.1 -1.1 1 0.4 1.4 -1.3 -0.7 -1.3 0.7 0.4 -1.4 -1.1 -1 1.4 -0.1zM369.5 326.5l0.6 1.3 1.4 0.1 -1.1 1 0.4 1.4 -1.3 -0.7 -1.3 0.7 0.4 -1.4 -1.1 -1 1.4 -0.1zM384.1 167.4l0.6 1.3 1.4 0.1 -1.1 1 0.4 1.4 -1.3 -0.7 -1.3 0.7 0.4 -1.4 -1.1 -1 1.4 -0.1zM328.9 413.3l0.6 1.3 1.4 0.1 -1.1 1 0.4 1.4 -1.3 -0.7 -1.3 0.7 0.4 -1.4 -1.1 -1 1.4 -0.1zM339.2 399.5l0.6 1.3 1.4 0.1 -1.1 1 0.4 1.4 -1.3 -0.7 -1.3 0.7 0.4 -1.4 -1.1 -1 1.4 -0.1zM405.3 436.4l0.6 1.3 1.4 0.1 -1.1 1 0.4 1.4 -1.3 -0.7 -1.3 0.7 0.4 -1.4 -1.1 -1 1.4 -0.1zM324 419.5l0.6 1.3 1.4 0.1 -1.1 1 0.4 1.4 -1.3 -0.7 -1.3 0.7 0.4 -1.4 -1.1 -1 1.4 -0.1zM338.2 410.4l0.6 1.3 1.4 0.1 -1.1 1 0.4 1.4 -1.3 -0.7 -1.3 0.7 0.4 -1.4 -1.1 -1 1.4 -0.1zM397.7 407.8l0.6 1.3 1.4 0.1 -1.1 1 0.4 1.4 -1.3 -0.7 -1.3 0.7 0.4 -1.4 -1.1 -1 1.4 -0.1zM323.2 416.5l0.6 1.3 1.4 0.1 -1.1 1 0.4 1.4 -1.3 -0.7 -1.3 0.7 0.4 -1.4 -1.1 -1 1.4 -0.1zM307.6 415.4l0.6 1.3 1.4 0.1 -1.1 1 0.4 1.4 -1.3 -0.7 -1.3 0.7 0.4 -1.4 -1.1 -1 1.4 -0.1zM311.9 418.3l0.6 1.3 1.4 0.1 -1.1 1 0.4 1.4 -1.3 -0.7 -1.3 0.7 0.4 -1.4 -1.1 -1 1.4 -0.1zM316.1 420.5l0.6 1.3 1.4 0.1 -1.1 1 0.4 1.4 -1.3 -0.7 -1.3 0.7 0.4 -1.4 -1.1 -1 1.4 -0.1zM316.9 417.9l0.6 1.3 1.4 0.1 -1.1 1 0.4 1.4 -1.3 -0.7 -1.3 0.7 0.4 -1.4 -1.1 -1 1.4 -0.1zM293.1 423.2l0.6 1.3 1.4 0.1 -1.1 1 0.4 1.4 -1.3 -0.7 -1.3 0.7 0.4 -1.4 -1.1 -1 1.4 -0.1zM293.3 420l0.6 1.3 1.4 0.1 -1.1 1 0.4 1.4 -1.3 -0.7 -1.3 0.7 0.4 -1.4 -1.1 -1 1.4 -0.1zM376.7 283l0.6 1.3 1.4 0.1 -1.1 1 0.4 1.4 -1.3 -0.7 -1.3 0.7 0.4 -1.4 -1.1 -1 1.4 -0.1zM381.6 190.8l0.6 1.3 1.4 0.1 -1.1 1 0.4 1.4 -1.3 -0.7 -1.3 0.7 0.4 -1.4 -1.1 -1 1.4 -0.1zM381.9 193.6l0.6 1.3 1.4 0.1 -1.1 1 0.4 1.4 -1.3 -0.7 -1.3 0.7 0.4 -1.4 -1.1 -1 1.4 -0.1zM357.5 393.1l0.6 1.3 1.4 0.1 -1.1 1 0.4 1.4 -1.3 -0.7 -1.3 0.7 0.4 -1.4 -1.1 -1 1.4 -0.1zM352.3 387.6l0.6 1.3 1.4 0.1 -1.1 1 0.4 1.4 -1.3 -0.7 -1.3 0.7 0.4 -1.4 -1.1 -1 1.4 -0.1zM391.3 128l0.6 1.3 1.4 0.1 -1.1 1 0.4 1.4 -1.3 -0.7 -1.3 0.7 0.4 -1.4 -1.1 -1 1.4 -0.1zM373.8 308.6l0.6 1.3 1.4 0.1 -1.1 1 0.4 1.4 -1.3 -0.7 -1.3 0.7 0.4 -1.4 -1.1 -1 1.4 -0.1zM386.6 105.5l0.6 1.3 1.4 0.1 -1.1 1 0.4 1.4 -1.3 -0.7 -1.3 0.7 0.4 -1.4 -1.1 -1 1.4 -0.1zM393.2 398.6l0.6 1.3 1.4 0.1 -1.1 1 0.4 1.4 -1.3 -0.7 -1.3 0.7 0.4 -1.4 -1.1 -1 1.4 -0.1zM364.7 393.2l0.6 1.3 1.4 0.1 -1.1 1 0.4 1.4 -1.3 -0.7 -1.3 0.7 0.4 -1.4 -1.1 -1 1.4 -0.1zM401.8 423.8l0.6 1.3 1.4 0.1 -1.1 1 0.4 1.4 -1.3 -0.7 -1.3 0.7 0.4 -1.4 -1.1 -1 1.4 -0.1zM364.4 393.8l0.6 1.3 1.4 0.1 -1.1 1 0.4 1.4 -1.3 -0.7 -1.3 0.7 0.4 -1.4 -1.1 -1 1.4 -0.1zM390.4 328.3l0.6 1.3 1.4 0.1 -1.1 1 0.4 1.4 -1.3 -0.7 -1.3 0.7 0.4 -1.4 -1.1 -1 1.4 -0.1zM371.4 330l0.6 1.3 1.4 0.1 -1.1 1 0.4 1.4 -1.3 -0.7 -1.3 0.7 0.4 -1.4 -1.1 -1 1.4 -0.1zM402.7 425.8l0.6 1.3 1.4 0.1 -1.1 1 0.4 1.4 -1.3 -0.7 -1.3 0.7 0.4 -1.4 -1.1 -1 1.4 -0.1zM370.5 347.7l0.6 1.3 1.4 0.1 -1.1 1 0.4 1.4 -1.3 -0.7 -1.3 0.7 0.4 -1.4 -1.1 -1 1.4 -0.1zM317.1 414.8l0.6 1.3 1.4 0.1 -1.1 1 0.4 1.4 -1.3 -0.7 -1.3 0.7 0.4 -1.4 -1.1 -1 1.4 -0.1zM372.4 346.7l0.6 1.3 1.4 0.1 -1.1 1 0.4 1.4 -1.3 -0.7 -1.3 0.7 0.4 -1.4 -1.1 -1 1.4 -0.1zM321 408l0.6 1.3 1.4 0.1 -1.1 1 0.4 1.4 -1.3 -0.7 -1.3 0.7 0.4 -1.4 -1.1 -1 1.4 -0.1zM387.2 260.4l0.6 1.3 1.4 0.1 -1.1 1 0.4 1.4 -1.3 -0.7 -1.3 0.7 0.4 -1.4 -1.1 -1 1.4 -0.1zM404.9 439.3l0.6 1.3 1.4 0.1 -1.1 1 0.4 1.4 -1.3 -0.7 -1.3 0.7 0.4 -1.4 -1.1 -1 1.4 -0.1zM389.4 123.3l0.6 1.3 1.4 0.1 -1.1 1 0.4 1.4 -1.3 -0.7 -1.3 0.7 0.4 -1.4 -1.1 -1 1.4 -0.1zM353.7 399.6l0.6 1.3 1.4 0.1 -1.1 1 0.4 1.4 -1.3 -0.7 -1.3 0.7 0.4 -1.4 -1.1 -1 1.4 -0.1zM348.1 403.5l0.6 1.3 1.4 0.1 -1.1 1 0.4 1.4 -1.3 -0.7 -1.3 0.7 0.4 -1.4 -1.1 -1 1.4 -0.1zM391.9 359.9l0.6 1.3 1.4 0.1 -1.1 1 0.4 1.4 -1.3 -0.7 -1.3 0.7 0.4 -1.4 -1.1 -1 1.4 -0.1zM307.6 424.1l0.6 1.3 1.4 0.1 -1.1 1 0.4 1.4 -1.3 -0.7 -1.3 0.7 0.4 -1.4 -1.1 -1 1.4 -0.1zM378.1 225.2l0.6 1.3 1.4 0.1 -1.1 1 0.4 1.4 -1.3 -0.7 -1.3 0.7 0.4 -1.4 -1.1 -1 1.4 -0.1zM317.7 409.4l0.6 1.3 1.4 0.1 -1.1 1 0.4 1.4 -1.3 -0.7 -1.3 0.7 0.4 -1.4 -1.1 -1 1.4 -0.1zM308.3 412.2l0.6 1.3 1.4 0.1 -1.1 1 0.4 1.4 -1.3 -0.7 -1.3 0.7 0.4 -1.4 -1.1 -1 1.4 -0.1zM395.6 398.3l0.6 1.3 1.4 0.1 -1.1 1 0.4 1.4 -1.3 -0.7 -1.3 0.7 0.4 -1.4 -1.1 -1 1.4 -0.1zM307.6 419.4l0.6 1.3 1.4 0.1 -1.1 1 0.4 1.4 -1.3 -0.7 -1.3 0.7 0.4 -1.4 -1.1 -1 1.4 -0.1zM332.6 408.9l0.6 1.3 1.4 0.1 -1.1 1 0.4 1.4 -1.3 -0.7 -1.3 0.7 0.4 -1.4 -1.1 -1 1.4 -0.1zM349.5 401l0.6 1.3 1.4 0.1 -1.1 1 0.4 1.4 -1.3 -0.7 -1.3 0.7 0.4 -1.4 -1.1 -1 1.4 -0.1zM323 406.3l0.6 1.3 1.4 0.1 -1.1 1 0.4 1.4 -1.3 -0.7 -1.3 0.7 0.4 -1.4 -1.1 -1 1.4 -0.1zM389.7 165.3l0.6 1.3 1.4 0.1 -1.1 1 0.4 1.4 -1.3 -0.7 -1.3 0.7 0.4 -1.4 -1.1 -1 1.4 -0.1zM407.2 441.3l0.6 1.3 1.4 0.1 -1.1 1 0.4 1.4 -1.3 -0.7 -1.3 0.7 0.4 -1.4 -1.1 -1 1.4 -0.1zM294.3 425.4l0.6 1.3 1.4 0.1 -1.1 1 0.4 1.4 -1.3 -0.7 -1.3 0.7 0.4 -1.4 -1.1 -1 1.4 -0.1zM394.6 397.1l0.6 1.3 1.4 0.1 -1.1 1 0.4 1.4 -1.3 -0.7 -1.3 0.7 0.4 -1.4 -1.1 -1 1.4 -0.1zM347 407.6l0.6 1.3 1.4 0.1 -1.1 1 0.4 1.4 -1.3 -0.7 -1.3 0.7 0.4 -1.4 -1.1 -1 1.4 -0.1zM372.5 333.9l0.6 1.3 1.4 0.1 -1.1 1 0.4 1.4 -1.3 -0.7 -1.3 0.7 0.4 -1.4 -1.1 -1 1.4 -0.1zM352 398.5l0.6 1.3 1.4 0.1 -1.1 1 0.4 1.4 -1.3 -0.7 -1.3 0.7 0.4 -1.4 -1.1 -1 1.4 -0.1zM342.7 402l0.6 1.3 1.4 0.1 -1.1 1 0.4 1.4 -1.3 -0.7 -1.3 0.7 0.4 -1.4 -1.1 -1 1.4 -0.1zM346.1 402.1l0.6 1.3 1.4 0.1 -1.1 1 0.4 1.4 -1.3 -0.7 -1.3 0.7 0.4 -1.4 -1.1 -1 1.4 -0.1zM384.1 106.7l0.6 1.3 1.4 0.1 -1.1 1 0.4 1.4 -1.3 -0.7 -1.3 0.7 0.4 -1.4 -1.1 -1 1.4 -0.1zM318.2 407.9l0.6 1.3 1.4 0.1 -1.1 1 0.4 1.4 -1.3 -0.7 -1.3 0.7 0.4 -1.4 -1.1 -1 1.4 -0.1zM399.4 434.5l0.6 1.3 1.4 0.1 -1.1 1 0.4 1.4 -1.3 -0.7 -1.3 0.7 0.4 -1.4 -1.1 -1 1.4 -0.1zM389.5 74.6l0.6 1.3 1.4 0.1 -1.1 1 0.4 1.4 -1.3 -0.7 -1.3 0.7 0.4 -1.4 -1.1 -1 1.4 -0.1zM311.7 424.3l0.6 1.3 1.4 0.1 -1.1 1 0.4 1.4 -1.3 -0.7 -1.3 0.7 0.4 -1.4 -1.1 -1 1.4 -0.1zM290.9 423.9l0.6 1.3 1.4 0.1 -1.1 1 0.4 1.4 -1.3 -0.7 -1.3 0.7 0.4 -1.4 -1.1 -1 1.4 -0.1zM332.8 411.4l0.6 1.3 1.4 0.1 -1.1 1 0.4 1.4 -1.3 -0.7 -1.3 0.7 0.4 -1.4 -1.1 -1 1.4 -0.1zM319.8 413.7l0.6 1.3 1.4 0.1 -1.1 1 0.4 1.4 -1.3 -0.7 -1.3 0.7 0.4 -1.4 -1.1 -1 1.4 -0.1zM307.9 420.9l0.6 1.3 1.4 0.1 -1.1 1 0.4 1.4 -1.3 -0.7 -1.3 0.7 0.4 -1.4 -1.1 -1 1.4 -0.1zM383.9 97.5l0.6 1.3 1.4 0.1 -1.1 1 0.4 1.4 -1.3 -0.7 -1.3 0.7 0.4 -1.4 -1.1 -1 1.4 -0.1zM301.1 427.8l0.6 1.3 1.4 0.1 -1.1 1 0.4 1.4 -1.3 -0.7 -1.3 0.7 0.4 -1.4 -1.1 -1 1.4 -0.1zM332.1 411.9l0.6 1.3 1.4 0.1 -1.1 1 0.4 1.4 -1.3 -0.7 -1.3 0.7 0.4 -1.4 -1.1 -1 1.4 -0.1zM328.4 407.9l0.6 1.3 1.4 0.1 -1.1 1 0.4 1.4 -1.3 -0.7 -1.3 0.7 0.4 -1.4 -1.1 -1 1.4 -0.1zM387.9 87.1l0.6 1.3 1.4 0.1 -1.1 1 0.4 1.4 -1.3 -0.7 -1.3 0.7 0.4 -1.4 -1.1 -1 1.4 -0.1zM397.8 415.2l0.6 1.3 1.4 0.1 -1.1 1 0.4 1.4 -1.3 -0.7 -1.3 0.7 0.4 -1.4 -1.1 -1 1.4 -0.1zM353.9 404l0.6 1.3 1.4 0.1 -1.1 1 0.4 1.4 -1.3 -0.7 -1.3 0.7 0.4 -1.4 -1.1 -1 1.4 -0.1zM342.1 401.1l0.6 1.3 1.4 0.1 -1.1 1 0.4 1.4 -1.3 -0.7 -1.3 0.7 0.4 -1.4 -1.1 -1 1.4 -0.1zM332.9 410.3l0.6 1.3 1.4 0.1 -1.1 1 0.4 1.4 -1.3 -0.7 -1.3 0.7 0.4 -1.4 -1.1 -1 1.4 -0.1zM359.3 389.7l0.6 1.3 1.4 0.1 -1.1 1 0.4 1.4 -1.3 -0.7 -1.3 0.7 0.4 -1.4 -1.1 -1 1.4 -0.1zM331.3 415.3l0.6 1.3 1.4 0.1 -1.1 1 0.4 1.4 -1.3 -0.7 -1.3 0.7 0.4 -1.4 -1.1 -1 1.4 -0.1zM381 218.4l0.6 1.3 1.4 0.1 -1.1 1 0.4 1.4 -1.3 -0.7 -1.3 0.7 0.4 -1.4 -1.1 -1 1.4 -0.1zM294.6 427.4l0.6 1.3 1.4 0.1 -1.1 1 0.4 1.4 -1.3 -0.7 -1.3 0.7 0.4 -1.4 -1.1 -1 1.4 -0.1zM390.4 382.6l0.6 1.3 1.4 0.1 -1.1 1 0.4 1.4 -1.3 -0.7 -1.3 0.7 0.4 -1.4 -1.1 -1 1.4 -0.1zM387.3 139.1l0.6 1.3 1.4 0.1 -1.1 1 0.4 1.4 -1.3 -0.7 -1.3 0.7 0.4 -1.4 -1.1 -1 1.4 -0.1zM322.8 412.1l0.6 1.3 1.4 0.1 -1.1 1 0.4 1.4 -1.3 -0.7 -1.3 0.7 0.4 -1.4 -1.1 -1 1.4 -0.1zM293.3 424.1l0.6 1.3 1.4 0.1 -1.1 1 0.4 1.4 -1.3 -0.7 -1.3 0.7 0.4 -1.4 -1.1 -1 1.4 -0.1zM381.1 139l0.6 1.3 1.4 0.1 -1.1 1 0.4 1.4 -1.3 -0.7 -1.3 0.7 0.4 -1.4 -1.1 -1 1.4 -0.1zM317.9 415.8l0.6 1.3 1.4 0.1 -1.1 1 0.4 1.4 -1.3 -0.7 -1.3 0.7 0.4 -1.4 -1.1 -1 1.4 -0.1zM345.9 406.8l0.6 1.3 1.4 0.1 -1.1 1 0.4 1.4 -1.3 -0.7 -1.3 0.7 0.4 -1.4 -1.1 -1 1.4 -0.1zM335.6 406.4l0.6 1.3 1.4 0.1 -1.1 1 0.4 1.4 -1.3 -0.7 -1.3 0.7 0.4 -1.4 -1.1 -1 1.4 -0.1zM361.5 399.6l0.6 1.3 1.4 0.1 -1.1 1 0.4 1.4 -1.3 -0.7 -1.3 0.7 0.4 -1.4 -1.1 -1 1.4 -0.1zM392.1 399.7l0.6 1.3 1.4 0.1 -1.1 1 0.4 1.4 -1.3 -0.7 -1.3 0.7 0.4 -1.4 -1.1 -1 1.4 -0.1zM336.4 407.3l0.6 1.3 1.4 0.1 -1.1 1 0.4 1.4 -1.3 -0.7 -1.3 0.7 0.4 -1.4 -1.1 -1 1.4 -0.1zM382.4 139.9l0.6 1.3 1.4 0.1 -1.1 1 0.4 1.4 -1.3 -0.7 -1.3 0.7 0.4 -1.4 -1.1 -1 1.4 -0.1zM365.7 382.9l0.6 1.3 1.4 0.1 -1.1 1 0.4 1.4 -1.3 -0.7 -1.3 0.7 0.4 -1.4 -1.1 -1 1.4 -0.1zM306.6 418.9l0.6 1.3 1.4 0.1 -1.1 1 0.4 1.4 -1.3 -0.7 -1.3 0.7 0.4 -1.4 -1.1 -1 1.4 -0.1zM381.5 246l0.6 1.3 1.4 0.1 -1.1 1 0.4 1.4 -1.3 -0.7 -1.3 0.7 0.4 -1.4 -1.1 -1 1.4 -0.1zM386.3 56.7l0.6 1.3 1.4 0.1 -1.1 1 0.4 1.4 -1.3 -0.7 -1.3 0.7 0.4 -1.4 -1.1 -1 1.4 -0.1zM349.4 403.8l0.6 1.3 1.4 0.1 -1.1 1 0.4 1.4 -1.3 -0.7 -1.3 0.7 0.4 -1.4 -1.1 -1 1.4 -0.1zM342.8 395.9l0.6 1.3 1.4 0.1 -1.1 1 0.4 1.4 -1.3 -0.7 -1.3 0.7 0.4 -1.4 -1.1 -1 1.4 -0.1zM384.3 97l0.6 1.3 1.4 0.1 -1.1 1 0.4 1.4 -1.3 -0.7 -1.3 0.7 0.4 -1.4 -1.1 -1 1.4 -0.1zM377.4 216.9l0.6 1.3 1.4 0.1 -1.1 1 0.4 1.4 -1.3 -0.7 -1.3 0.7 0.4 -1.4 -1.1 -1 1.4 -0.1zM320.2 420.1l0.6 1.3 1.4 0.1 -1.1 1 0.4 1.4 -1.3 -0.7 -1.3 0.7 0.4 -1.4 -1.1 -1 1.4 -0.1zM392.8 387.9l0.6 1.3 1.4 0.1 -1.1 1 0.4 1.4 -1.3 -0.7 -1.3 0.7 0.4 -1.4 -1.1 -1 1.4 -0.1zM394 405.4l0.6 1.3 1.4 0.1 -1.1 1 0.4 1.4 -1.3 -0.7 -1.3 0.7 0.4 -1.4 -1.1 -1 1.4 -0.1zM384.8 88.8l0.6 1.3 1.4 0.1 -1.1 1 0.4 1.4 -1.3 -0.7 -1.3 0.7 0.4 -1.4 -1.1 -1 1.4 -0.1zM326.5 409.9l0.6 1.3 1.4 0.1 -1.1 1 0.4 1.4 -1.3 -0.7 -1.3 0.7 0.4 -1.4 -1.1 -1 1.4 -0.1zM399.6 423.3l0.6 1.3 1.4 0.1 -1.1 1 0.4 1.4 -1.3 -0.7 -1.3 0.7 0.4 -1.4 -1.1 -1 1.4 -0.1zM382.7 157.1l0.6 1.3 1.4 0.1 -1.1 1 0.4 1.4 -1.3 -0.7 -1.3 0.7 0.4 -1.4 -1.1 -1 1.4 -0.1zM294.2 425.4l0.6 1.3 1.4 0.1 -1.1 1 0.4 1.4 -1.3 -0.7 -1.3 0.7 0.4 -1.4 -1.1 -1 1.4 -0.1zM386.5 332.4l0.6 1.3 1.4 0.1 -1.1 1 0.4 1.4 -1.3 -0.7 -1.3 0.7 0.4 -1.4 -1.1 -1 1.4 -0.1zM354.8 396l0.6 1.3 1.4 0.1 -1.1 1 0.4 1.4 -1.3 -0.7 -1.3 0.7 0.4 -1.4 -1.1 -1 1.4 -0.1zM293 425.4l0.6 1.3 1.4 0.1 -1.1 1 0.4 1.4 -1.3 -0.7 -1.3 0.7 0.4 -1.4 -1.1 -1 1.4 -0.1zM310.5 414.3l0.6 1.3 1.4 0.1 -1.1 1 0.4 1.4 -1.3 -0.7 -1.3 0.7 0.4 -1.4 -1.1 -1 1.4 -0.1zM322 415.8l0.6 1.3 1.4 0.1 -1.1 1 0.4 1.4 -1.3 -0.7 -1.3 0.7 0.4 -1.4 -1.1 -1 1.4 -0.1zM376.9 303.3l0.6 1.3 1.4 0.1 -1.1 1 0.4 1.4 -1.3 -0.7 -1.3 0.7 0.4 -1.4 -1.1 -1 1.4 -0.1zM308.4 417.7l0.6 1.3 1.4 0.1 -1.1 1 0.4 1.4 -1.3 -0.7 -1.3 0.7 0.4 -1.4 -1.1 -1 1.4 -0.1zM319.8 417.4l0.6 1.3 1.4 0.1 -1.1 1 0.4 1.4 -1.3 -0.7 -1.3 0.7 0.4 -1.4 -1.1 -1 1.4 -0.1zM303 426l0.6 1.3 1.4 0.1 -1.1 1 0.4 1.4 -1.3 -0.7 -1.3 0.7 0.4 -1.4 -1.1 -1 1.4 -0.1zM358.2 400.4l0.6 1.3 1.4 0.1 -1.1 1 0.4 1.4 -1.3 -0.7 -1.3 0.7 0.4 -1.4 -1.1 -1 1.4 -0.1zM312.6 410.1l0.6 1.3 1.4 0.1 -1.1 1 0.4 1.4 -1.3 -0.7 -1.3 0.7 0.4 -1.4 -1.1 -1 1.4 -0.1zM319.6 415.9l0.6 1.3 1.4 0.1 -1.1 1 0.4 1.4 -1.3 -0.7 -1.3 0.7 0.4 -1.4 -1.1 -1 1.4 -0.1zM396 390.5l0.6 1.3 1.4 0.1 -1.1 1 0.4 1.4 -1.3 -0.7 -1.3 0.7 0.4 -1.4 -1.1 -1 1.4 -0.1zM389.4 97.8l0.6 1.3 1.4 0.1 -1.1 1 0.4 1.4 -1.3 -0.7 -1.3 0.7 0.4 -1.4 -1.1 -1 1.4 -0.1zM323.8 419.6l0.6 1.3 1.4 0.1 -1.1 1 0.4 1.4 -1.3 -0.7 -1.3 0.7 0.4 -1.4 -1.1 -1 1.4 -0.1zM398.4 409.4l0.6 1.3 1.4 0.1 -1.1 1 0.4 1.4 -1.3 -0.7 -1.3 0.7 0.4 -1.4 -1.1 -1 1.4 -0.1zM338.9 409.3l0.6 1.3 1.4 0.1 -1.1 1 0.4 1.4 -1.3 -0.7 -1.3 0.7 0.4 -1.4 -1.1 -1 1.4 -0.1zM313.7 420.4l0.6 1.3 1.4 0.1 -1.1 1 0.4 1.4 -1.3 -0.7 -1.3 0.7 0.4 -1.4 -1.1 -1 1.4 -0.1zM375.5 277.4l0.6 1.3 1.4 0.1 -1.1 1 0.4 1.4 -1.3 -0.7 -1.3 0.7 0.4 -1.4 -1.1 -1 1.4 -0.1zM369.7 365.7l0.6 1.3 1.4 0.1 -1.1 1 0.4 1.4 -1.3 -0.7 -1.3 0.7 0.4 -1.4 -1.1 -1 1.4 -0.1zM357.5 386.4l0.6 1.3 1.4 0.1 -1.1 1 0.4 1.4 -1.3 -0.7 -1.3 0.7 0.4 -1.4 -1.1 -1 1.4 -0.1zM404 433.6l0.6 1.3 1.4 0.1 -1.1 1 0.4 1.4 -1.3 -0.7 -1.3 0.7 0.4 -1.4 -1.1 -1 1.4 -0.1zM335.3 405.8l0.6 1.3 1.4 0.1 -1.1 1 0.4 1.4 -1.3 -0.7 -1.3 0.7 0.4 -1.4 -1.1 -1 1.4 -0.1zM369.8 370.6l0.6 1.3 1.4 0.1 -1.1 1 0.4 1.4 -1.3 -0.7 -1.3 0.7 0.4 -1.4 -1.1 -1 1.4 -0.1zM318.4 407.2l0.6 1.3 1.4 0.1 -1.1 1 0.4 1.4 -1.3 -0.7 -1.3 0.7 0.4 -1.4 -1.1 -1 1.4 -0.1zM379.8 206.4l0.6 1.3 1.4 0.1 -1.1 1 0.4 1.4 -1.3 -0.7 -1.3 0.7 0.4 -1.4 -1.1 -1 1.4 -0.1zM378.9 256.5l0.6 1.3 1.4 0.1 -1.1 1 0.4 1.4 -1.3 -0.7 -1.3 0.7 0.4 -1.4 -1.1 -1 1.4 -0.1zM338 416.3l0.6 1.3 1.4 0.1 -1.1 1 0.4 1.4 -1.3 -0.7 -1.3 0.7 0.4 -1.4 -1.1 -1 1.4 -0.1zM293.9 424.1l0.6 1.3 1.4 0.1 -1.1 1 0.4 1.4 -1.3 -0.7 -1.3 0.7 0.4 -1.4 -1.1 -1 1.4 -0.1zM335.7 411.9l0.6 1.3 1.4 0.1 -1.1 1 0.4 1.4 -1.3 -0.7 -1.3 0.7 0.4 -1.4 -1.1 -1 1.4 -0.1zM314.1 422.2l0.6 1.3 1.4 0.1 -1.1 1 0.4 1.4 -1.3 -0.7 -1.3 0.7 0.4 -1.4 -1.1 -1 1.4 -0.1zM368.4 351l0.6 1.3 1.4 0.1 -1.1 1 0.4 1.4 -1.3 -0.7 -1.3 0.7 0.4 -1.4 -1.1 -1 1.4 -0.1zM321.9 410.6l0.6 1.3 1.4 0.1 -1.1 1 0.4 1.4 -1.3 -0.7 -1.3 0.7 0.4 -1.4 -1.1 -1 1.4 -0.1zM310.3 418.7l0.6 1.3 1.4 0.1 -1.1 1 0.4 1.4 -1.3 -0.7 -1.3 0.7 0.4 -1.4 -1.1 -1 1.4 -0.1zM344.9 404.5l0.6 1.3 1.4 0.1 -1.1 1 0.4 1.4 -1.3 -0.7 -1.3 0.7 0.4 -1.4 -1.1 -1 1.4 -0.1zM360.5 390.7l0.6 1.3 1.4 0.1 -1.1 1 0.4 1.4 -1.3 -0.7 -1.3 0.7 0.4 -1.4 -1.1 -1 1.4 -0.1zM300.9 426l0.6 1.3 1.4 0.1 -1.1 1 0.4 1.4 -1.3 -0.7 -1.3 0.7 0.4 -1.4 -1.1 -1 1.4 -0.1zM397.2 421.9l0.6 1.3 1.4 0.1 -1.1 1 0.4 1.4 -1.3 -0.7 -1.3 0.7 0.4 -1.4 -1.1 -1 1.4 -0.1zM318.2 418.3l0.6 1.3 1.4 0.1 -1.1 1 0.4 1.4 -1.3 -0.7 -1.3 0.7 0.4 -1.4 -1.1 -1 1.4 -0.1zM337.1 411.6l0.6 1.3 1.4 0.1 -1.1 1 0.4 1.4 -1.3 -0.7 -1.3 0.7 0.4 -1.4 -1.1 -1 1.4 -0.1zM332.5 415.9l0.6 1.3 1.4 0.1 -1.1 1 0.4 1.4 -1.3 -0.7 -1.3 0.7 0.4 -1.4 -1.1 -1 1.4 -0.1zM401.2 433.6l0.6 1.3 1.4 0.1 -1.1 1 0.4 1.4 -1.3 -0.7 -1.3 0.7 0.4 -1.4 -1.1 -1 1.4 -0.1zM390.8 375.3l0.6 1.3 1.4 0.1 -1.1 1 0.4 1.4 -1.3 -0.7 -1.3 0.7 0.4 -1.4 -1.1 -1 1.4 -0.1zM315.3 416.4l0.6 1.3 1.4 0.1 -1.1 1 0.4 1.4 -1.3 -0.7 -1.3 0.7 0.4 -1.4 -1.1 -1 1.4 -0.1zM392.7 398.5l0.6 1.3 1.4 0.1 -1.1 1 0.4 1.4 -1.3 -0.7 -1.3 0.7 0.4 -1.4 -1.1 -1 1.4 -0.1zM366.2 363.5l0.6 1.3 1.4 0.1 -1.1 1 0.4 1.4 -1.3 -0.7 -1.3 0.7 0.4 -1.4 -1.1 -1 1.4 -0.1zM333.1 413.6l0.6 1.3 1.4 0.1 -1.1 1 0.4 1.4 -1.3 -0.7 -1.3 0.7 0.4 -1.4 -1.1 -1 1.4 -0.1zM403 425.7l0.6 1.3 1.4 0.1 -1.1 1 0.4 1.4 -1.3 -0.7 -1.3 0.7 0.4 -1.4 -1.1 -1 1.4 -0.1zM382.2 112.1l0.6 1.3 1.4 0.1 -1.1 1 0.4 1.4 -1.3 -0.7 -1.3 0.7 0.4 -1.4 -1.1 -1 1.4 -0.1zM320.3 415.9l0.6 1.3 1.4 0.1 -1.1 1 0.4 1.4 -1.3 -0.7 -1.3 0.7 0.4 -1.4 -1.1 -1 1.4 -0.1zM407.1 436.2l0.6 1.3 1.4 0.1 -1.1 1 0.4 1.4 -1.3 -0.7 -1.3 0.7 0.4 -1.4 -1.1 -1 1.4 -0.1zM372.6 319.3l0.6 1.3 1.4 0.1 -1.1 1 0.4 1.4 -1.3 -0.7 -1.3 0.7 0.4 -1.4 -1.1 -1 1.4 -0.1zM376.1 304l0.6 1.3 1.4 0.1 -1.1 1 0.4 1.4 -1.3 -0.7 -1.3 0.7 0.4 -1.4 -1.1 -1 1.4 -0.1zM351.1 392.5l0.6 1.3 1.4 0.1 -1.1 1 0.4 1.4 -1.3 -0.7 -1.3 0.7 0.4 -1.4 -1.1 -1 1.4 -0.1zM340.8 400.8l0.6 1.3 1.4 0.1 -1.1 1 0.4 1.4 -1.3 -0.7 -1.3 0.7 0.4 -1.4 -1.1 -1 1.4 -0.1zM292.2 426.3l0.6 1.3 1.4 0.1 -1.1 1 0.4 1.4 -1.3 -0.7 -1.3 0.7 0.4 -1.4 -1.1 -1 1.4 -0.1zM385.2 96.3l0.6 1.3 1.4 0.1 -1.1 1 0.4 1.4 -1.3 -0.7 -1.3 0.7 0.4 -1.4 -1.1 -1 1.4 -0.1zM365.5 349.3l0.6 1.3 1.4 0.1 -1.1 1 0.4 1.4 -1.3 -0.7 -1.3 0.7 0.4 -1.4 -1.1 -1 1.4 -0.1zM380 168.8l0.6 1.3 1.4 0.1 -1.1 1 0.4 1.4 -1.3 -0.7 -1.3 0.7 0.4 -1.4 -1.1 -1 1.4 -0.1zM341.6 400.7l0.6 1.3 1.4 0.1 -1.1 1 0.4 1.4 -1.3 -0.7 -1.3 0.7 0.4 -1.4 -1.1 -1 1.4 -0.1zM383.5 100.1l0.6 1.3 1.4 0.1 -1.1 1 0.4 1.4 -1.3 -0.7 -1.3 0.7 0.4 -1.4 -1.1 -1 1.4 -0.1zM310.7 422.4l0.6 1.3 1.4 0.1 -1.1 1 0.4 1.4 -1.3 -0.7 -1.3 0.7 0.4 -1.4 -1.1 -1 1.4 -0.1zM405.4 439.5l0.6 1.3 1.4 0.1 -1.1 1 0.4 1.4 -1.3 -0.7 -1.3 0.7 0.4 -1.4 -1.1 -1 1.4 -0.1zM386.8 55.9l0.6 1.3 1.4 0.1 -1.1 1 0.4 1.4 -1.3 -0.7 -1.3 0.7 0.4 -1.4 -1.1 -1 1.4 -0.1zM338.6 412l0.6 1.3 1.4 0.1 -1.1 1 0.4 1.4 -1.3 -0.7 -1.3 0.7 0.4 -1.4 -1.1 -1 1.4 -0.1zM373 317.2l0.6 1.3 1.4 0.1 -1.1 1 0.4 1.4 -1.3 -0.7 -1.3 0.7 0.4 -1.4 -1.1 -1 1.4 -0.1zM309.3 412.7l0.6 1.3 1.4 0.1 -1.1 1 0.4 1.4 -1.3 -0.7 -1.3 0.7 0.4 -1.4 -1.1 -1 1.4 -0.1zM364.5 376.1l0.6 1.3 1.4 0.1 -1.1 1 0.4 1.4 -1.3 -0.7 -1.3 0.7 0.4 -1.4 -1.1 -1 1.4 -0.1zM394 410.8l0.6 1.3 1.4 0.1 -1.1 1 0.4 1.4 -1.3 -0.7 -1.3 0.7 0.4 -1.4 -1.1 -1 1.4 -0.1zM387 134.4l0.6 1.3 1.4 0.1 -1.1 1 0.4 1.4 -1.3 -0.7 -1.3 0.7 0.4 -1.4 -1.1 -1 1.4 -0.1zM381.9 114.7l0.6 1.3 1.4 0.1 -1.1 1 0.4 1.4 -1.3 -0.7 -1.3 0.7 0.4 -1.4 -1.1 -1 1.4 -0.1zM383.8 86l0.6 1.3 1.4 0.1 -1.1 1 0.4 1.4 -1.3 -0.7 -1.3 0.7 0.4 -1.4 -1.1 -1 1.4 -0.1zM308.8 423.7l0.6 1.3 1.4 0.1 -1.1 1 0.4 1.4 -1.3 -0.7 -1.3 0.7 0.4 -1.4 -1.1 -1 1.4 -0.1zM329.5 418.8l0.6 1.3 1.4 0.1 -1.1 1 0.4 1.4 -1.3 -0.7 -1.3 0.7 0.4 -1.4 -1.1 -1 1.4 -0.1zM381.4 197.1l0.6 1.3 1.4 0.1 -1.1 1 0.4 1.4 -1.3 -0.7 -1.3 0.7 0.4 -1.4 -1.1 -1 1.4 -0.1zM307.7 420.2l0.6 1.3 1.4 0.1 -1.1 1 0.4 1.4 -1.3 -0.7 -1.3 0.7 0.4 -1.4 -1.1 -1 1.4 -0.1zM329.4 412.5l0.6 1.3 1.4 0.1 -1.1 1 0.4 1.4 -1.3 -0.7 -1.3 0.7 0.4 -1.4 -1.1 -1 1.4 -0.1zM298 428.2l0.6 1.3 1.4 0.1 -1.1 1 0.4 1.4 -1.3 -0.7 -1.3 0.7 0.4 -1.4 -1.1 -1 1.4 -0.1zM314.9 414.4l0.6 1.3 1.4 0.1 -1.1 1 0.4 1.4 -1.3 -0.7 -1.3 0.7 0.4 -1.4 -1.1 -1 1.4 -0.1zM378.4 276.6l0.6 1.3 1.4 0.1 -1.1 1 0.4 1.4 -1.3 -0.7 -1.3 0.7 0.4 -1.4 -1.1 -1 1.4 -0.1zM389.4 203.6l0.6 1.3 1.4 0.1 -1.1 1 0.4 1.4 -1.3 -0.7 -1.3 0.7 0.4 -1.4 -1.1 -1 1.4 -0.1zM402.3 433.1l0.6 1.3 1.4 0.1 -1.1 1 0.4 1.4 -1.3 -0.7 -1.3 0.7 0.4 -1.4 -1.1 -1 1.4 -0.1zM392.6 382.9l0.6 1.3 1.4 0.1 -1.1 1 0.4 1.4 -1.3 -0.7 -1.3 0.7 0.4 -1.4 -1.1 -1 1.4 -0.1zM382.8 122.5l0.6 1.3 1.4 0.1 -1.1 1 0.4 1.4 -1.3 -0.7 -1.3 0.7 0.4 -1.4 -1.1 -1 1.4 -0.1zM392.6 359.4l0.6 1.3 1.4 0.1 -1.1 1 0.4 1.4 -1.3 -0.7 -1.3 0.7 0.4 -1.4 -1.1 -1 1.4 -0.1zM389.2 389.4l0.6 1.3 1.4 0.1 -1.1 1 0.4 1.4 -1.3 -0.7 -1.3 0.7 0.4 -1.4 -1.1 -1 1.4 -0.1zM371.4 332.8l0.6 1.3 1.4 0.1 -1.1 1 0.4 1.4 -1.3 -0.7 -1.3 0.7 0.4 -1.4 -1.1 -1 1.4 -0.1zM355.8 400.7l0.6 1.3 1.4 0.1 -1.1 1 0.4 1.4 -1.3 -0.7 -1.3 0.7 0.4 -1.4 -1.1 -1 1.4 -0.1zM375.8 247.9l0.6 1.3 1.4 0.1 -1.1 1 0.4 1.4 -1.3 -0.7 -1.3 0.7 0.4 -1.4 -1.1 -1 1.4 -0.1zM380.1 179.9l0.6 1.3 1.4 0.1 -1.1 1 0.4 1.4 -1.3 -0.7 -1.3 0.7 0.4 -1.4 -1.1 -1 1.4 -0.1zM300.3 426.4l0.6 1.3 1.4 0.1 -1.1 1 0.4 1.4 -1.3 -0.7 -1.3 0.7 0.4 -1.4 -1.1 -1 1.4 -0.1zM389.6 267.7l0.6 1.3 1.4 0.1 -1.1 1 0.4 1.4 -1.3 -0.7 -1.3 0.7 0.4 -1.4 -1.1 -1 1.4 -0.1zM352.2 405.4l0.6 1.3 1.4 0.1 -1.1 1 0.4 1.4 -1.3 -0.7 -1.3 0.7 0.4 -1.4 -1.1 -1 1.4 -0.1zM360.9 382l0.6 1.3 1.4 0.1 -1.1 1 0.4 1.4 -1.3 -0.7 -1.3 0.7 0.4 -1.4 -1.1 -1 1.4 -0.1zM345.7 403.2l0.6 1.3 1.4 0.1 -1.1 1 0.4 1.4 -1.3 -0.7 -1.3 0.7 0.4 -1.4 -1.1 -1 1.4 -0.1zM307.4 424.2l0.6 1.3 1.4 0.1 -1.1 1 0.4 1.4 -1.3 -0.7 -1.3 0.7 0.4 -1.4 -1.1 -1 1.4 -0.1zM390.5 379.9l0.6 1.3 1.4 0.1 -1.1 1 0.4 1.4 -1.3 -0.7 -1.3 0.7 0.4 -1.4 -1.1 -1 1.4 -0.1zM372.3 325.8l0.6 1.3 1.4 0.1 -1.1 1 0.4 1.4 -1.3 -0.7 -1.3 0.7 0.4 -1.4 -1.1 -1 1.4 -0.1zM324.3 413.2l0.6 1.3 1.4 0.1 -1.1 1 0.4 1.4 -1.3 -0.7 -1.3 0.7 0.4 -1.4 -1.1 -1 1.4 -0.1zM337.8 408.6l0.6 1.3 1.4 0.1 -1.1 1 0.4 1.4 -1.3 -0.7 -1.3 0.7 0.4 -1.4 -1.1 -1 1.4 -0.1zM353.4 387l0.6 1.3 1.4 0.1 -1.1 1 0.4 1.4 -1.3 -0.7 -1.3 0.7 0.4 -1.4 -1.1 -1 1.4 -0.1zM317.9 412.6l0.6 1.3 1.4 0.1 -1.1 1 0.4 1.4 -1.3 -0.7 -1.3 0.7 0.4 -1.4 -1.1 -1 1.4 -0.1zM365.5 361l0.6 1.3 1.4 0.1 -1.1 1 0.4 1.4 -1.3 -0.7 -1.3 0.7 0.4 -1.4 -1.1 -1 1.4 -0.1zM351.5 406.1l0.6 1.3 1.4 0.1 -1.1 1 0.4 1.4 -1.3 -0.7 -1.3 0.7 0.4 -1.4 -1.1 -1 1.4 -0.1zM385.5 90.3l0.6 1.3 1.4 0.1 -1.1 1 0.4 1.4 -1.3 -0.7 -1.3 0.7 0.4 -1.4 -1.1 -1 1.4 -0.1zM387.9 57.2l0.6 1.3 1.4 0.1 -1.1 1 0.4 1.4 -1.3 -0.7 -1.3 0.7 0.4 -1.4 -1.1 -1 1.4 -0.1zM380.4 160.9l0.6 1.3 1.4 0.1 -1.1 1 0.4 1.4 -1.3 -0.7 -1.3 0.7 0.4 -1.4 -1.1 -1 1.4 -0.1zM354 397l0.6 1.3 1.4 0.1 -1.1 1 0.4 1.4 -1.3 -0.7 -1.3 0.7 0.4 -1.4 -1.1 -1 1.4 -0.1zM360.5 387.7l0.6 1.3 1.4 0.1 -1.1 1 0.4 1.4 -1.3 -0.7 -1.3 0.7 0.4 -1.4 -1.1 -1 1.4 -0.1zM330 406.6l0.6 1.3 1.4 0.1 -1.1 1 0.4 1.4 -1.3 -0.7 -1.3 0.7 0.4 -1.4 -1.1 -1 1.4 -0.1z" fill="#f04848" opacity="1.0"/>
<path d="M290.4 428.7L290.6 428.7L290.7 428.6L290.9 428.6L291 428.5L291.2 428.5L291.4 428.5L291.5 428.4L291.7 428.4L291.9 428.3L292 428.3L292.2 428.2L292.3 428.2L292.5 428.1L292.7 428.1L292.8 428L293 428L293.2 428L293.3 427.9L293.5 427.9L293.6 427.8L293.8 427.8L294 427.7L294.1 427.7L294.3 427.6L294.4 427.6L294.6 427.5L294.8 427.5L294.9 427.4L295.1 427.4L295.3 427.3L295.4 427.3L295.6 427.2L295.7 427.2L295.9 427.1L296.1 427.1L296.2 427.1L296.4 427L296.6 427L296.7 426.9L296.9 426.9L297 426.8L297.2 426.8L297.4 426.7L297.5 426.7L297.7 426.6L297.8 426.6L298 426.5L298.2 426.5L298.3 426.4L298.5 426.4L298.7 426.3L298.8 426.3L299 426.2L299.1 426.1L299.3 426.1L299.5 426L299.6 426L299.8 425.9L300 425.9L300.1 425.8L300.3 425.8L300.4 425.7L300.6 425.7L300.8 425.6L300.9 425.6L301.1 425.5L301.2 425.5L301.4 425.4L301.6 425.4L301.7 425.3L301.9 425.3L302.1 425.2L302.2 425.2L302.4 425.1L302.5 425L302.7 425L302.9 424.9L303 424.9L303.2 424.8L303.4 424.8L303.5 424.7L303.7 424.7L303.8 424.6L304 424.5L304.2 424.5L304.3 424.4L304.5 424.4L304.7 424.3L304.8 424.3L305 424.2L305.1 424.2L305.3 424.1L305.5 424L305.6 424L305.8 423.9L305.9 423.9L306.1 423.8L306.3 423.8L306.4 423.7L306.6 423.6L306.8 423.6L306.9 423.5L307.1 423.5L307.2 423.4L307.4 423.3L307.6 423.3L307.7 423.2L307.9 423.2L308.1 423.1L308.2 423.1L308.4 423L308.5 422.9L308.7 422.9L308.9 422.8L309 422.8L309.2 422.7L309.3 422.6L309.5 422.6L309.7 422.5L309.8 422.4L310 422.4L310.2 422.3L310.3 422.3L310.5 422.2L310.6 422.1L310.8 422.1L311 422L311.1 422L311.3 421.9L311.5 421.8L311.6 421.8L311.8 421.7L311.9 421.6L312.1 421.6L312.3 421.5L312.4 421.4L312.6 421.4L312.7 421.3L312.9 421.3L313.1 421.2L313.2 421.1L313.4 421.1L313.6 421L313.7 420.9L313.9 420.9L314 420.8L314.2 420.7L314.4 420.7L314.5 420.6L314.7 420.5L314.9 420.5L315 420.4L315.2 420.3L315.3 420.3L315.5 420.2L315.7 420.1L315.8 420.1L316 420L316.1 419.9L316.3 419.9L316.5 419.8L316.6 419.7L316.8 419.7L317 419.6L317.1 419.5L317.3 419.5L317.4 419.4L317.6 419.3L317.8 419.3L317.9 419.2L318.1 419.1L318.3 419L318.4 419L318.6 418.9L318.7 418.8L318.9 418.8L319.1 418.7L319.2 418.6L319.4 418.5L319.5 418.5L319.7 418.4L319.9 418.3L320 418.3L320.2 418.2L320.4 418.1L320.5 418L320.7 418L320.8 417.9L321 417.8L321.2 417.7L321.3 417.7L321.5 417.6L321.7 417.5L321.8 417.4L322 417.4L322.1 417.3L322.3 417.2L322.5 417.1L322.6 417.1L322.8 417L322.9 416.9L323.1 416.8L323.3 416.7L323.4 416.7L323.6 416.6L323.8 416.5L323.9 416.4L324.1 416.4L324.2 416.3L324.4 416.2L324.6 416.1L324.7 416L324.9 416L325.1 415.9L325.2 415.8L325.4 415.7L325.5 415.6L325.7 415.6L325.9 415.5L326 415.4L326.2 415.3L326.3 415.2L326.5 415.1L326.7 415.1L326.8 415L327 414.9L327.2 414.8L327.3 414.7L327.5 414.7L327.6 414.6L327.8 414.5L328 414.4L328.1 414.3L328.3 414.2L328.5 414.1L328.6 414.1L328.8 414L328.9 413.9L329.1 413.8L329.3 413.7L329.4 413.6L329.6 413.5L329.8 413.5L329.9 413.4L330.1 413.3L330.2 413.2L330.4 413.1L330.6 413L330.7 412.9L330.9 412.8L331 412.8L331.2 412.7L331.4 412.6L331.5 412.5L331.7 412.4L331.9 412.3L332 412.2L332.2 412.1L332.3 412L332.5 411.9L332.7 411.9L332.8 411.8L333 411.7L333.2 411.6L333.3 411.5L333.5 411.4L333.6 411.3L333.8 411.2L334 411.1L334.1 411L334.3 410.9L334.4 410.8L334.6 410.7L334.8 410.6L334.9 410.6L335.1 410.5L335.3 410.4L335.4 410.3L335.6 410.2L335.7 410.1L335.9 410L336.1 409.9L336.2 409.8L336.4 409.7L336.6 409.6L336.7 409.5L336.9 409.4L337 409.3L337.2 409.2L337.4 409.1L337.5 409L337.7 408.9L337.8 408.8L338 408.7L338.2 408.6L338.3 408.5L338.5 408.4L338.7 408.3L338.8 408.2L339 408.1L339.1 408L339.3 407.9L339.5 407.8L339.6 407.7L339.8 407.6L340 407.5L340.1 407.4L340.3 407.3L340.4 407.2L340.6 407.1L340.8 407L340.9 406.9L341.1 406.8L341.2 406.7L341.4 406.6L341.6 406.5L341.7 406.4L341.9 406.3L342.1 406.2L342.2 406.1L342.4 406L342.5 405.9L342.7 405.8L342.9 405.7L343 405.6L343.2 405.5L343.4 405.4L343.5 405.3L343.7 405.2L343.8 405.1L344 405L344.2 404.9L344.3 404.8L344.5 404.7L344.6 404.6L344.8 404.5L345 404.4L345.1 404.3L345.3 404.2L345.5 404.1L345.6 404L345.8 403.9L345.9 403.8L346.1 403.7L346.3 403.6L346.4 403.4L346.6 403.3L346.8 403.2L346.9 403.1L347.1 403L347.2 402.9L347.4 402.8L347.6 402.7L347.7 402.6L347.9 402.5L348 402.4L348.2 402.2L348.4 402.1L348.5 402L348.7 401.9L348.9 401.8L349 401.7L349.2 401.6L349.3 401.4L349.5 401.3L349.7 401.2L349.8 401.1L350 401L350.2 400.8L350.3 400.7L350.5 400.6L350.6 400.4L350.8 400.3L351 400.2L351.1 400.1L351.3 399.9L351.5 399.8L351.6 399.7L351.8 399.5L351.9 399.4L352.1 399.2L352.3 399.1L352.4 398.9L352.6 398.8L352.7 398.7L352.9 398.5L353.1 398.4L353.2 398.2L353.4 398.1L353.6 397.9L353.7 397.7L353.9 397.6L354 397.4L354.2 397.3L354.4 397.1L354.5 396.9L354.7 396.8L354.9 396.6L355 396.4L355.2 396.2L355.3 396.1L355.5 395.9L355.7 395.7L355.8 395.6L356 395.4L356.1 395.2L356.3 395L356.5 394.8L356.6 394.6L356.8 394.5L357 394.3L357.1 394.1L357.3 393.9L357.4 393.7L357.6 393.5L357.8 393.3L357.9 393.1L358.1 392.8L358.3 392.6L358.4 392.4L358.6 392.2L358.7 391.9L358.9 391.7L359.1 391.5L359.2 391.2L359.4 391L359.5 390.7L359.7 390.4L359.9 390.2L360 389.9L360.2 389.6L360.4 389.3L360.5 389L360.7 388.7L360.8 388.4L361 388.1L361.2 387.7L361.3 387.4L361.5 387.1L361.7 386.7L361.8 386.3L362 386L362.1 385.6L362.3 385.2L362.5 384.8L362.6 384.3L362.8 383.8L362.9 383.3L363.1 382.7L363.3 382.1L363.4 381.5L363.6 380.8L363.8 380.1L363.9 379.4L364.1 378.7L364.2 377.9L364.4 377.1L364.6 376.3L364.7 375.4L364.9 374.6L365.1 373.7L365.2 372.7L365.4 371.8L365.5 370.9L365.7 369.9L365.9 368.9L366 367.9L366.2 366.9L366.3 365.9L366.5 364.8L366.7 363.6L366.8 362.4L367 361.2L367.2 359.9L367.3 358.5L367.5 357.2L367.6 355.7L367.8 354.3L368 352.9L368.1 351.4L368.3 349.9L368.5 348.5L368.6 347L368.8 345.6L368.9 344.2L369.1 342.7L369.3 341.3L369.4 339.8L369.6 338.4L369.7 336.9L369.9 335.4L370.1 333.9L370.2 332.3L370.4 330.8L370.6 329.2L370.7 327.6L370.9 325.9L371 324.3L371.2 322.5L371.4 320.8L371.5 318.9L371.7 317L371.9 315.1L372 313.1L372.2 311L372.3 308.8L372.5 306.6L372.7 304.3L372.8 302L373 299.5L373.1 297.1L373.3 294.5L373.5 292L373.6 289.4L373.8 286.7L374 284.1L374.1 281.4L374.3 278.7L374.4 275.9L374.6 273.2L374.8 270.5L374.9 267.8L375.1 265.1L375.3 262.5L375.4 259.8L375.6 257.1L375.7 254.4L375.9 251.7L376.1 249L376.2 246.2L376.4 243.5L376.6 240.7L376.7 237.9L376.9 235.1L377 232.2L377.2 229.2L377.4 226.3L377.5 223.2L377.7 220.1L377.8 217L378 213.7L378.2 210.4L378.3 206.9L378.5 203.3L378.7 199.6L378.8 195.8L379 191.9L379.1 187.9L379.3 184L379.5 179.9L379.6 175.9L379.8 171.9L380 168L380.1 164L380.3 160.2L380.4 156.5L380.6 152.9L380.8 149.5L380.9 146.2L381.1 142.9L381.2 139.6L381.4 136.4L381.6 133.2L381.7 130L381.9 126.8L382.1 123.6L382.2 120.5L382.4 117.4L382.5 114.3L382.7 111.3L382.9 108.4L383 105.5L383.2 102.6L383.4 99.8L383.5 97.1L383.7 94.4L383.8 91.8L384 89.2L384.2 86.8L384.3 84.4L384.5 82.1L384.6 79.9L384.8 77.7L385 75.5L385.1 73.4L385.3 71.3L385.5 69.2L385.6 67.2L385.8 65.2L385.9 63.3L386.1 61.5L386.3 59.7L386.4 57.9L386.6 56.3L386.8 54.7L386.9 53.2L387.1 51.8L387.2 50.4L387.4 49.2L387.6 51.4L387.9 53.6L388.1 55.7L388.4 57.9L388.6 60L388.8 62.2L389 64.3L389.1 66.4L389.2 68.5L389.3 70.6L389.3 72.7L389.4 74.7L389.4 76.8L389.5 78.8L389.5 80.9L389.6 82.9L389.6 84.9L389.6 86.9L389.7 88.9L389.7 90.9L389.7 92.8L389.8 94.8L389.8 96.7L389.8 98.7L389.8 100.6L389.9 102.5L389.9 104.4L389.9 106.3L389.9 108.2L389.9 110.1L389.9 111.9L389.9 113.8L389.9 115.6L389.9 117.5L389.9 119.3L389.9 121.1L389.9 122.9L389.9 124.7L389.9 126.5L389.9 128.3L389.9 130L389.9 131.8L389.9 133.5L389.9 135.3L389.9 137L389.9 138.7L389.9 140.4L389.9 142.1L389.8 143.8L389.8 145.5L389.8 147.2L389.8 148.9L389.8 150.5L389.8 152.2L389.8 153.8L389.8 155.4L389.8 157.1L389.8 158.7L389.8 160.3L389.8 161.9L389.8 163.4L389.8 165L389.8 166.6L389.7 168.2L389.7 169.7L389.7 171.3L389.7 172.8L389.7 174.3L389.7 175.8L389.7 177.3L389.7 178.8L389.7 180.3L389.7 181.8L389.7 183.3L389.7 184.8L389.7 186.2L389.6 187.7L389.6 189.1L389.6 190.6L389.6 192L389.6 193.4L389.6 194.9L389.6 196.3L389.6 197.7L389.6 199.1L389.6 200.4L389.6 201.8L389.6 203.2L389.6 204.6L389.6 205.9L389.5 207.3L389.5 208.6L389.5 209.9L389.5 211.3L389.5 212.6L389.5 213.9L389.5 215.2L389.5 216.5L389.5 217.8L389.5 219.1L389.5 220.4L389.5 221.6L389.5 222.9L389.5 224.2L389.5 225.4L389.5 226.7L389.5 227.9L389.5 229.1L389.5 230.3L389.5 231.6L389.5 232.8L389.4 234L389.4 235.2L389.4 236.4L389.4 237.6L389.4 238.7L389.4 239.9L389.4 241.1L389.4 242.2L389.4 243.4L389.4 244.5L389.4 245.7L389.4 246.8L389.4 247.9L389.4 249.1L389.4 250.2L389.4 251.3L389.4 252.4L389.4 253.5L389.4 254.6L389.4 255.7L389.4 256.8L389.4 257.8L389.4 258.9L389.4 260L389.3 261L389.3 262.1L389.3 263.1L389.3 264.2L389.3 265.2L389.3 266.2L389.3 267.3L389.3 268.3L389.3 269.3L389.3 270.3L389.3 271.3L389.3 272.3L389.3 273.3L389.3 274.3L389.3 275.3L389.3 276.2L389.3 277.2L389.3 278.2L389.3 279.1L389.3 280.1L389.3 281L389.3 282L389.3 282.9L389.3 283.9L389.3 284.8L389.3 285.7L389.3 286.6L389.3 287.5L389.2 288.5L389.2 289.4L389.2 290.3L389.2 291.2L389.2 292L389.2 292.9L389.2 293.8L389.2 294.7L389.2 295.6L389.2 296.4L389.2 297.3L389.2 298.2L389.2 299L389.2 299.9L389.2 300.7L389.2 301.5L389.2 302.4L389.2 303.2L389.2 304L389.2 304.8L389.2 305.7L389.2 306.5L389.2 307.3L389.2 308.1L389.2 308.9L389.2 309.7L389.2 310.5L389.2 311.3L389.2 312L389.2 312.8L389.2 313.6L389.2 314.4L389.2 315.1L389.2 315.9L389.2 316.7L389.2 317.4L389.2 318.2L389.2 318.9L389.2 319.6L389.2 320.4L389.2 321.1L389.2 321.8L389.2 322.6L389.2 323.3L389.2 324L389.2 324.7L389.2 325.4L389.2 326.1L389.2 326.8L389.3 327.5L389.3 328.2L389.3 328.9L389.3 329.6L389.3 330.3L389.3 331L389.3 331.7L389.3 332.3L389.3 333L389.3 333.7L389.3 334.3L389.3 335L389.3 335.6L389.4 336.3L389.4 336.9L389.4 337.6L389.4 338.2L389.4 338.9L389.4 339.5L389.4 340.1L389.4 340.7L389.4 341.4L389.5 342L389.5 342.6L389.5 343.2L389.5 343.8L389.5 344.4L389.5 345L389.5 345.6L389.5 346.2L389.6 346.8L389.6 347.4L389.6 348L389.6 348.6L389.6 349.2L389.6 349.8L389.6 350.3L389.7 350.9L389.7 351.5L389.7 352L389.7 352.6L389.7 353.2L389.7 353.7L389.7 354.3L389.8 354.8L389.8 355.4L389.8 355.9L389.8 356.5L389.8 357L389.8 357.5L389.8 358.1L389.9 358.6L389.9 359.1L389.9 359.7L389.9 360.2L389.9 360.7L389.9 361.2L390 361.7L390 362.2L390 362.7L390 363.3L390 363.8L390 364.3L390.1 364.8L390.1 365.2L390.1 365.7L390.1 366.2L390.1 366.7L390.2 367.2L390.2 367.7L390.2 368.2L390.2 368.6L390.2 369.1L390.3 369.6L390.3 370L390.3 370.5L390.3 371L390.4 371.4L390.4 371.9L390.4 372.4L390.5 372.8L390.5 373.3L390.5 373.7L390.5 374.2L390.6 374.6L390.6 375L390.6 375.5L390.7 375.9L390.7 376.4L390.7 376.8L390.8 377.2L390.8 377.6L390.8 378.1L390.9 378.5L390.9 378.9L390.9 379.3L391 379.7L391 380.2L391 380.6L391.1 381L391.1 381.4L391.1 381.8L391.2 382.2L391.2 382.6L391.3 383L391.3 383.4L391.3 383.8L391.4 384.2L391.4 384.6L391.5 385L391.5 385.3L391.5 385.7L391.6 386.1L391.6 386.5L391.7 386.9L391.7 387.2L391.8 387.6L391.8 388L391.8 388.4L391.9 388.7L391.9 389.1L392 389.5L392 389.8L392.1 390.2L392.1 390.5L392.1 390.9L392.2 391.2L392.2 391.6L392.3 391.9L392.3 392.3L392.4 392.6L392.4 393L392.5 393.3L392.5 393.7L392.6 394L392.6 394.3L392.7 394.7L392.7 395L392.8 395.3L392.8 395.7L392.8 396L392.9 396.3L392.9 396.7L393 397L393 397.3L393.1 397.6L393.1 397.9L393.2 398.3L393.2 398.6L393.3 398.9L393.3 399.2L393.4 399.5L393.4 399.8L393.5 400.1L393.5 400.4L393.6 400.7L393.6 401L393.7 401.3L393.7 401.6L393.8 401.9L393.8 402.2L393.9 402.5L393.9 402.8L394 403.1L394 403.4L394.1 403.7L394.1 403.9L394.2 404.2L394.3 404.5L394.3 404.8L394.4 405.1L394.4 405.4L394.5 405.6L394.6 405.9L394.6 406.2L394.7 406.4L394.8 406.7L394.8 407L394.9 407.3L394.9 407.5L395 407.8L395.1 408L395.2 408.3L395.2 408.6L395.3 408.8L395.4 409.1L395.4 409.3L395.5 409.6L395.6 409.9L395.7 410.1L395.7 410.4L395.8 410.6L395.9 410.9L396 411.1L396 411.3L396.1 411.6L396.2 411.8L396.3 412.1L396.3 412.3L396.4 412.6L396.5 412.8L396.6 413L396.6 413.3L396.7 413.5L396.8 413.7L396.9 414L397 414.2L397 414.4L397.1 414.6L397.2 414.9L397.3 415.1L397.4 415.3L397.4 415.5L397.5 415.8L397.6 416L397.7 416.2L397.7 416.4L397.8 416.6L397.9 416.9L398 417.1L398.1 417.3L398.1 417.5L398.2 417.7L398.3 417.9L398.4 418.1L398.4 418.3L398.5 418.5L398.6 418.7L398.7 418.9L398.8 419.1L398.8 419.3L398.9 419.5L399 419.7L399 419.9L399.1 420.1L399.2 420.3L399.3 420.5L399.3 420.7L399.4 420.9L399.5 421.1L399.5 421.3L399.6 421.5L399.7 421.7L399.7 421.9L399.8 422.1L399.9 422.3L399.9 422.4L400 422.6L400.1 422.8L400.1 423L400.2 423.2L400.3 423.3L400.3 423.5L400.4 423.7L400.4 423.9L400.5 424.1L400.6 424.2L400.6 424.4L400.7 424.6L400.7 424.8L400.8 424.9L400.9 425.1L400.9 425.3L401 425.4L401 425.6L401.1 425.8L401.2 425.9L401.2 426.1L401.3 426.3L401.3 426.4L401.4 426.6L401.5 426.8L401.5 426.9L401.6 427.1L401.6 427.2L401.7 427.4L401.7 427.6L401.8 427.7L401.9 427.9L401.9 428L402 428.2L402 428.3L402.1 428.5L402.2 428.6L402.2 428.8L402.3 428.9L402.3 429.1L402.4 429.2L402.4 429.4L402.5 429.5L402.6 429.7L402.6 429.8L402.7 430L402.7 430.1L402.8 430.3L402.8 430.4L402.9 430.5L402.9 430.7L403 430.8L403.1 431L403.1 431.1L403.2 431.2L403.2 431.4L403.3 431.5L403.3 431.6L403.4 431.8L403.4 431.9L403.5 432L403.6 432.2L403.6 432.3L403.7 432.4L403.7 432.6L403.8 432.7L403.8 432.8L403.9 433L403.9 433.1L404 433.2L404 433.3L404.1 433.5L404.1 433.6L404.2 433.7L404.2 433.8L404.3 434L404.3 434.1L404.4 434.2L404.5 434.3L404.5 434.4L404.6 434.6L404.6 434.7L404.7 434.8L404.7 434.9L404.8 435L404.8 435.2L404.9 435.3L404.9 435.4L405 435.5L405 435.6L405.1 435.7L405.1 435.8L405.2 436L405.2 436.1L405.3 436.2L405.3 436.3L405.4 436.4L405.4 436.5L405.5 436.6L405.5 436.7L405.6 436.8L405.6 436.9L405.7 437L405.7 437.1L405.7 437.3L405.8 437.4L405.8 437.5L405.9 437.6L405.9 437.7L406 437.8L406 437.9L406.1 438L406.1 438.1L406.2 438.2L406.2 438.3L406.3 438.4L406.3 438.5L406.4 438.6L406.4 438.7L406.4 438.8L406.5 438.9L406.5 439L406.6 439.1L406.6 439.1L406.7 439.2L406.7 439.3L406.8 439.4L406.8 439.5L406.8 439.6L406.9 439.7L406.9 439.8L407 439.9L407 440L407.1 440.1L407.1 440.2L407.1 440.2L407.2 440.3L407.2 440.4L407.3 440.5L407.3 440.6" stroke="#c80000" stroke-width="1.5" fill="none" stroke-linejoin="round"/>
<path d="M454.6 413.4h0M509.1 290.7h0M514.7 230.8h0M468.6 395h0M498.5 323.8h0M516.9 188.7h0M449.4 411.1h0M537.7 341.5h0M480.6 397.1h0M508.9 324.1h0M477.5 404.9h0M459.5 403.3h0M464.6 408.9h0M524.6 84.7h0M524 121.6h0M445 417.5h0M479.9 399.4h0M466.4 411.9h0M469.8 406.2h0M489 382.4h0M488.2 383.3h0M440.3 417h0M516.1 209.3h0M452.6 412.7h0M531.2 72.5h0M441.5 406.2h0M537.8 357.3h0M446.9 425.1h0M450.8 424.1h0M527.3 112.9h0M467.5 401.9h0M520.2 141.3h0M541.2 405.9h0M535.8 136.1h0M463.8 404.9h0M454.5 416.7h0M484.5 394.4h0M480.2 392.1h0M462.3 410.5h0M447 421h0M530.3 66.3h0M518.9 140.6h0M459.2 406.9h0M488.8 403.7h0M440.7 423h0M522.3 130.6h0M453.8 410.1h0M497.7 382.1h0M541.5 416.8h0M489.3 381.4h0M487 379.9h0M462.1 407h0M470.4 410h0M501.3 368.7h0M514.3 226h0M437 423h0M443.4 416.7h0M538.8 288.8h0M533.1 66.8h0M514.3 235.3h0M539.8 422.4h0M478 402.6h0M465.8 403.7h0M504.6 346.1h0M462.9 416.5h0M532.9 62.3h0M478.4 406.5h0M501.6 308.4h0M517.8 205.1h0M438 414.1h0M465.5 416.3h0M524.3 114.2h0M531.8 80h0M501.6 329.4h0M538.5 278.9h0M527.9 63.8h0M463.8 404.5h0M450.3 412.7h0M460.7 412.1h0M481.7 384.6h0M501.1 359.3h0M538.3 272.8h0M533.6 110h0M450.6 406.6h0M530 93.9h0M544.1 408h0M540.2 386.5h0M472.2 403.2h0M510.5 295h0M466.4 408.5h0M459.6 419.1h0M535.5 121h0M535.2 94.4h0M446.6 408.7h0M456.5 410.9h0M457.3 411.8h0M497.6 384.1h0M449.4 414.1h0M511.1 268.9h0M471.9 392.9h0M449.5 411.2h0M475.9 395.2h0M455.8 410.1h0M513.7 232.2h0M530.1 63.7h0M463.1 407.4h0M511.6 317.3h0M438.8 410.3h0M466.4 405h0M467 409.5h0M472.3 411.9h0M501.1 386.3h0M516.7 185.4h0M531.9 90h0M485.4 385.9h0M481.6 389.4h0M450.3 416.7h0M464.8 404.2h0M503.5 321.3h0M536.4 373.5h0M490.3 403.1h0M539.9 408.8h0M453.9 406.6h0M437.9 421.1h0M477 397h0M527.7 100.9h0M491.4 372.8h0M498.6 334.7h0M483.1 399.4h0M477.9 400.4h0M447.1 409.8h0M463.3 405.4h0M523.5 109.4h0M519.6 166.1h0M493 376.1h0M536.2 217h0M516.6 187.5h0M448.4 412h0M503.3 340h0M484 392.8h0M484 395.4h0M450.2 405.1h0M492.5 383.1h0M478.8 402.2h0M493 379.3h0M537.8 160.2h0M504.6 315h0M520.2 139.7h0M530.2 117.2h0M439 428.4h0M540.5 420h0M542.5 409.8h0M472.3 399.8h0M505.6 344.4h0M468.7 407.2h0M472.7 405.6h0M513 241.2h0M515.3 223.7h0M537.6 287.9h0M452 411.4h0M482.9 385.7h0M492 381h0M521.6 160.3h0M434.9 423.9h0M465.8 405.4h0M520.9 120.9h0M525.8 56.6h0M467.8 408.3h0M485.5 403.5h0M519 176.2h0M521.8 167.7h0M488.5 394.2h0M485.7 395.2h0M454.6 413.8h0M537.3 289.6h0M516.3 241.1h0M530.5 121.2h0M453.1 412.4h0M472.8 404.4h0M527.6 97.2h0M483.1 397.2h0M489.3 404.1h0M440.1 415.4h0M518.8 183.9h0M520.2 198.6h0M467.7 403.9h0M494.9 384h0M506.5 272.1h0M482.8 390h0M508.2 294h0M444.4 423.1h0M470.8 396.2h0M497.4 380.4h0M509.3 244.5h0M526.8 122.7h0M515.1 221.3h0M508.9 285.3h0M441.9 415.6h0M478.3 405h0M493.1 375.8h0M510.8 269.6h0M540.4 408.2h0M518.6 215.3h0M481.2 391.8h0M479.5 395.8h0M448.4 412h0M437 423.8h0M511.7 232.3h0M527.8 91.1h0M537 323h0M476.7 397.4h0M433.6 416.8h0M533.1 161.5h0M486.9 390.6h0M483 391.1h0M436.4 408.7h0M529.8 55.8h0M487.9 400.7h0M505.5 294.1h0M531.5 87.2h0M523 136.5h0M542.6 387.5h0M467 408.6h0M537.8 292.4h0M446.7 411.6h0M513.7 212.3h0M523.1 133h0M501.2 360.8h0M466.7 405.5h0M494.2 371.8h0M481.1 397.4h0M527.9 95.7h0M454.4 416h0M462.7 411.8h0M517 223.1h0M479.9 394.9h0M533.2 58.6h0M501.6 334.6h0M455.5 401.2h0M466.3 398.3h0M517.9 231.9h0M441.5 417.3h0M477.9 399.8h0M468 418.2h0M537.5 388.4h0M448.8 414.8h0M519.1 199.9h0M450.9 409.6h0M462.4 411.6h0M536.4 174.5h0M452.4 422h0M502.8 327.9h0M499.3 372.4h0M501.1 324h0M508.1 293.4h0M454.3 422.3h0M510.8 218.7h0M540.2 388.8h0M529.7 80.5h0M440.4 416.1h0M510.8 213.6h0M443.9 418.2h0M501.1 362.8h0M516 132.6h0M449.1 421.9h0M531.6 79.7h0M535.1 171.6h0M506.3 326.6h0M465 400.2h0M460.1 410.3h0M468.6 411.6h0M456.6 415.1h0M542.9 387.3h0M465.4 416.2h0M511.7 300.2h0M462.8 406h0M439.8 426.6h0M469.7 405h0M506.9 335.9h0M525.9 181.2h0M492.6 376.8h0M448.9 408.4h0M449.6 419.6h0M503.3 308h0M467.3 405.6h0M500.7 361.4h0M459.2 409.2h0M492.7 392.2h0M484.4 387.8h0M444.3 417.3h0M457.9 407.9h0M522.8 161.6h0M489.7 396h0M481.4 382.8h0M516.5 235.2h0M469.6 406.7h0M518.9 166.6h0M442.7 425.5h0M460.6 409h0M532.2 60h0" stroke="#1f63e0" stroke-width="3.6" stroke-linecap="round" fill="none" opacity="1.0"/>
<path d="M435.4 418.4L435.6 418.4L435.7 418.3L435.9 418.3L436 418.2L436.2 418.2L436.4 418.1L436.5 418.1L436.7 418L436.8 418L437 417.9L437.2 417.8L437.3 417.8L437.5 417.7L437.6 417.7L437.8 417.6L438 417.6L438.1 417.5L438.3 417.5L438.4 417.4L438.6 417.3L438.8 417.3L438.9 417.2L439.1 417.2L439.3 417.1L439.4 417.1L439.6 417L439.7 417L439.9 416.9L440.1 416.8L440.2 416.8L440.4 416.7L440.5 416.7L440.7 416.6L440.9 416.5L441 416.5L441.2 416.4L441.3 416.4L441.5 416.3L441.7 416.2L441.8 416.2L442 416.1L442.1 416.1L442.3 416L442.5 415.9L442.6 415.9L442.8 415.8L442.9 415.8L443.1 415.7L443.3 415.6L443.4 415.6L443.6 415.5L443.7 415.5L443.9 415.4L444.1 415.3L444.2 415.3L444.4 415.2L444.5 415.1L444.7 415.1L444.9 415L445 414.9L445.2 414.9L445.3 414.8L445.5 414.8L445.7 414.7L445.8 414.6L446 414.6L446.1 414.5L446.3 414.4L446.5 414.4L446.6 414.3L446.8 414.2L447 414.2L447.1 414.1L447.3 414L447.4 414L447.6 413.9L447.8 413.8L447.9 413.8L448.1 413.7L448.2 413.6L448.4 413.6L448.6 413.5L448.7 413.4L448.9 413.3L449 413.3L449.2 413.2L449.4 413.1L449.5 413.1L449.7 413L449.8 412.9L450 412.9L450.2 412.8L450.3 412.7L450.5 412.6L450.6 412.6L450.8 412.5L451 412.4L451.1 412.3L451.3 412.3L451.4 412.2L451.6 412.1L451.8 412.1L451.9 412L452.1 411.9L452.2 411.8L452.4 411.8L452.6 411.7L452.7 411.6L452.9 411.5L453 411.4L453.2 411.4L453.4 411.3L453.5 411.2L453.7 411.1L453.8 411.1L454 411L454.2 410.9L454.3 410.8L454.5 410.7L454.7 410.7L454.8 410.6L455 410.5L455.1 410.4L455.3 410.3L455.5 410.3L455.6 410.2L455.8 410.1L455.9 410L456.1 409.9L456.3 409.8L456.4 409.8L456.6 409.7L456.7 409.6L456.9 409.5L457.1 409.4L457.2 409.3L457.4 409.2L457.5 409.2L457.7 409.1L457.9 409L458 408.9L458.2 408.8L458.3 408.7L458.5 408.6L458.7 408.6L458.8 408.5L459 408.4L459.1 408.3L459.3 408.2L459.5 408.1L459.6 408L459.8 407.9L459.9 407.8L460.1 407.8L460.3 407.7L460.4 407.6L460.6 407.5L460.7 407.4L460.9 407.3L461.1 407.2L461.2 407.1L461.4 407L461.6 406.9L461.7 406.8L461.9 406.7L462 406.7L462.2 406.6L462.4 406.5L462.5 406.4L462.7 406.3L462.8 406.2L463 406.1L463.2 406L463.3 405.9L463.5 405.8L463.6 405.7L463.8 405.6L464 405.5L464.1 405.4L464.3 405.3L464.4 405.2L464.6 405.1L464.8 405L464.9 404.9L465.1 404.8L465.2 404.7L465.4 404.6L465.6 404.5L465.7 404.5L465.9 404.4L466 404.3L466.2 404.2L466.4 404.1L466.5 404L466.7 403.9L466.8 403.8L467 403.7L467.2 403.6L467.3 403.5L467.5 403.4L467.6 403.3L467.8 403.2L468 403.1L468.1 403L468.3 402.9L468.4 402.8L468.6 402.7L468.8 402.6L468.9 402.5L469.1 402.4L469.3 402.3L469.4 402.2L469.6 402.1L469.7 402L469.9 401.9L470.1 401.8L470.2 401.7L470.4 401.6L470.5 401.5L470.7 401.4L470.9 401.3L471 401.2L471.2 401.1L471.3 401L471.5 400.9L471.7 400.8L471.8 400.7L472 400.6L472.1 400.5L472.3 400.4L472.5 400.3L472.6 400.2L472.8 400.1L472.9 400L473.1 399.9L473.3 399.8L473.4 399.7L473.6 399.6L473.7 399.5L473.9 399.4L474.1 399.3L474.2 399.2L474.4 399.1L474.5 399L474.7 398.9L474.9 398.8L475 398.7L475.2 398.6L475.3 398.5L475.5 398.4L475.7 398.3L475.8 398.2L476 398.1L476.2 398L476.3 397.9L476.5 397.8L476.6 397.7L476.8 397.6L477 397.5L477.1 397.4L477.3 397.3L477.4 397.2L477.6 397.1L477.8 397L477.9 396.9L478.1 396.8L478.2 396.6L478.4 396.5L478.6 396.4L478.7 396.3L478.9 396.2L479 396.1L479.2 396L479.4 395.8L479.5 395.7L479.7 395.6L479.8 395.5L480 395.4L480.2 395.2L480.3 395.1L480.5 395L480.6 394.9L480.8 394.7L481 394.6L481.1 394.5L481.3 394.3L481.4 394.2L481.6 394.1L481.8 393.9L481.9 393.8L482.1 393.6L482.2 393.5L482.4 393.3L482.6 393.2L482.7 393.1L482.9 392.9L483 392.8L483.2 392.6L483.4 392.4L483.5 392.3L483.7 392.1L483.9 392L484 391.8L484.2 391.6L484.3 391.5L484.5 391.3L484.7 391.1L484.8 391L485 390.8L485.1 390.6L485.3 390.4L485.5 390.2L485.6 390.1L485.8 389.9L485.9 389.7L486.1 389.5L486.3 389.3L486.4 389.1L486.6 388.9L486.7 388.7L486.9 388.5L487.1 388.3L487.2 388.1L487.4 387.9L487.5 387.7L487.7 387.5L487.9 387.3L488 387.1L488.2 386.8L488.3 386.6L488.5 386.4L488.7 386.2L488.8 385.9L489 385.7L489.1 385.5L489.3 385.2L489.5 385L489.6 384.8L489.8 384.5L489.9 384.3L490.1 384L490.3 383.8L490.4 383.5L490.6 383.2L490.7 383L490.9 382.7L491.1 382.5L491.2 382.2L491.4 381.9L491.6 381.7L491.7 381.4L491.9 381.1L492 380.8L492.2 380.6L492.4 380.3L492.5 380L492.7 379.7L492.8 379.4L493 379.1L493.2 378.8L493.3 378.5L493.5 378.1L493.6 377.8L493.8 377.4L494 377.1L494.1 376.7L494.3 376.3L494.4 376L494.6 375.5L494.8 375.1L494.9 374.7L495.1 374.3L495.2 373.8L495.4 373.3L495.6 372.8L495.7 372.3L495.9 371.8L496 371.2L496.2 370.6L496.4 369.9L496.5 369.1L496.7 368.3L496.8 367.4L497 366.5L497.2 365.6L497.3 364.6L497.5 363.5L497.6 362.5L497.8 361.4L498 360.3L498.1 359.1L498.3 358L498.5 356.9L498.6 355.7L498.8 354.6L498.9 353.4L499.1 352.3L499.3 351.2L499.4 350L499.6 348.8L499.7 347.5L499.9 346.3L500.1 345L500.2 343.6L500.4 342.3L500.5 341L500.7 339.6L500.9 338.3L501 336.9L501.2 335.6L501.3 334.2L501.5 332.9L501.7 331.6L501.8 330.3L502 329.1L502.1 327.9L502.3 326.7L502.5 325.5L502.6 324.4L502.8 323.2L502.9 322.1L503.1 321L503.3 319.9L503.4 318.8L503.6 317.7L503.7 316.6L503.9 315.6L504.1 314.5L504.2 313.4L504.4 312.3L504.5 311.2L504.7 310.1L504.9 309L505 307.9L505.2 306.8L505.3 305.6L505.5 304.5L505.7 303.3L505.8 302.1L506 300.8L506.2 299.5L506.3 298.2L506.5 296.9L506.6 295.5L506.8 294.1L507 292.7L507.1 291.3L507.3 289.8L507.4 288.4L507.6 286.9L507.8 285.4L507.9 283.9L508.1 282.4L508.2 280.8L508.4 279.3L508.6 277.7L508.7 276.1L508.9 274.5L509 273L509.2 271.4L509.4 269.8L509.5 268.1L509.7 266.5L509.8 264.9L510 263.2L510.2 261.6L510.3 259.9L510.5 258.2L510.6 256.5L510.8 254.8L511 253L511.1 251.3L511.3 249.5L511.4 247.8L511.6 246L511.8 244.2L511.9 242.4L512.1 240.6L512.2 238.8L512.4 237L512.6 235.2L512.7 233.3L512.9 231.4L513.1 229.6L513.2 227.6L513.4 225.7L513.5 223.8L513.7 221.8L513.9 219.9L514 217.9L514.2 216L514.3 214L514.5 212L514.7 210.1L514.8 208.1L515 206.2L515.1 204.2L515.3 202.3L515.5 200.4L515.6 198.5L515.8 196.6L515.9 194.7L516.1 192.8L516.3 190.9L516.4 189L516.6 187.1L516.7 185.2L516.9 183.3L517.1 181.4L517.2 179.5L517.4 177.6L517.5 175.7L517.7 173.8L517.9 171.9L518 170.1L518.2 168.2L518.3 166.3L518.5 164.5L518.7 162.6L518.8 160.8L519 159L519.1 157.1L519.3 155.3L519.5 153.5L519.6 151.7L519.8 150L519.9 148.2L520.1 146.4L520.3 144.6L520.4 142.8L520.6 141L520.8 139.3L520.9 137.5L521.1 135.7L521.2 134L521.4 132.3L521.6 130.6L521.7 128.9L521.9 127.2L522 125.6L522.2 123.9L522.4 122.3L522.5 120.8L522.7 119.2L522.8 117.7L523 116.2L523.2 114.8L523.3 113.3L523.5 111.9L523.6 110.5L523.8 109L524 107.6L524.1 106.2L524.3 104.8L524.4 103.4L524.6 102L524.8 100.7L524.9 99.3L525.1 98L525.2 96.6L525.4 95.3L525.6 94L525.7 92.7L525.9 91.4L526 90.2L526.2 89L526.4 87.7L526.5 86.5L526.7 85.4L526.8 84.2L527 83.1L527.2 82L527.3 80.9L527.5 79.8L527.6 78.8L527.8 77.8L528 76.8L528.1 75.8L528.3 74.9L528.5 74L528.6 73L528.8 72.1L528.9 71.2L529.1 70.4L529.3 69.5L529.4 68.7L529.6 67.8L529.7 67L529.9 66.2L530.1 65.5L530.2 64.7L530.4 64L530.5 63.3L530.7 62.6L530.9 61.9L531 61.3L531.2 60.6L531.3 60L531.5 59.5L531.9 61.1L532.4 62.8L532.8 64.4L533.1 66L533.4 67.6L533.5 69.3L533.6 70.9L533.7 72.5L533.8 74.1L533.8 75.6L533.9 77.2L534 78.8L534 80.4L534.1 81.9L534.2 83.5L534.2 85L534.3 86.6L534.3 88.1L534.4 89.6L534.4 91.1L534.5 92.7L534.5 94.2L534.5 95.7L534.6 97.2L534.6 98.7L534.6 100.1L534.7 101.6L534.7 103.1L534.7 104.6L534.7 106L534.8 107.5L534.8 108.9L534.8 110.4L534.8 111.8L534.9 113.2L534.9 114.6L534.9 116.1L534.9 117.5L534.9 118.9L535 120.3L535 121.7L535 123.1L535 124.5L535 125.8L535.1 127.2L535.1 128.6L535.1 129.9L535.1 131.3L535.1 132.6L535.2 134L535.2 135.3L535.2 136.6L535.2 138L535.2 139.3L535.3 140.6L535.3 141.9L535.3 143.2L535.3 144.5L535.3 145.8L535.4 147.1L535.4 148.4L535.4 149.7L535.4 150.9L535.4 152.2L535.5 153.5L535.5 154.7L535.5 156L535.5 157.2L535.5 158.5L535.5 159.7L535.6 160.9L535.6 162.2L535.6 163.4L535.6 164.6L535.6 165.8L535.6 167L535.7 168.2L535.7 169.4L535.7 170.6L535.7 171.8L535.7 173L535.7 174.1L535.7 175.3L535.8 176.5L535.8 177.6L535.8 178.8L535.8 180L535.8 181.1L535.8 182.2L535.8 183.4L535.9 184.5L535.9 185.6L535.9 186.8L535.9 187.9L535.9 189L535.9 190.1L535.9 191.2L535.9 192.3L536 193.4L536 194.5L536 195.6L536 196.7L536 197.7L536 198.8L536 199.9L536 201L536.1 202L536.1 203.1L536.1 204.1L536.1 205.2L536.1 206.2L536.1 207.2L536.1 208.3L536.1 209.3L536.1 210.3L536.2 211.4L536.2 212.4L536.2 213.4L536.2 214.4L536.2 215.4L536.2 216.4L536.2 217.4L536.2 218.4L536.2 219.4L536.3 220.4L536.3 221.3L536.3 222.3L536.3 223.3L536.3 224.3L536.3 225.2L536.3 226.2L536.3 227.1L536.3 228.1L536.3 229L536.4 230L536.4 230.9L536.4 231.9L536.4 232.8L536.4 233.7L536.4 234.6L536.4 235.6L536.4 236.5L536.4 237.4L536.4 238.3L536.5 239.2L536.5 240.1L536.5 241L536.5 241.9L536.5 242.8L536.5 243.7L536.5 244.6L536.5 245.4L536.5 246.3L536.6 247.2L536.6 248.1L536.6 248.9L536.6 249.8L536.6 250.6L536.6 251.5L536.6 252.3L536.6 253.2L536.6 254L536.6 254.9L536.7 255.7L536.7 256.5L536.7 257.4L536.7 258.2L536.7 259L536.7 259.8L536.7 260.7L536.7 261.5L536.7 262.3L536.7 263.1L536.8 263.9L536.8 264.7L536.8 265.5L536.8 266.3L536.8 267.1L536.8 267.9L536.8 268.6L536.8 269.4L536.8 270.2L536.8 271L536.9 271.7L536.9 272.5L536.9 273.3L536.9 274L536.9 274.8L536.9 275.5L536.9 276.3L536.9 277L536.9 277.8L536.9 278.5L536.9 279.3L537 280L537 280.7L537 281.5L537 282.2L537 282.9L537 283.6L537 284.3L537 285.1L537 285.8L537 286.5L537 287.2L537.1 287.9L537.1 288.6L537.1 289.3L537.1 290L537.1 290.7L537.1 291.4L537.1 292L537.1 292.7L537.1 293.4L537.1 294.1L537.1 294.8L537.1 295.4L537.1 296.1L537.2 296.8L537.2 297.4L537.2 298.1L537.2 298.7L537.2 299.4L537.2 300.1L537.2 300.7L537.2 301.3L537.2 302L537.2 302.6L537.2 303.3L537.2 303.9L537.2 304.5L537.2 305.2L537.3 305.8L537.3 306.4L537.3 307L537.3 307.7L537.3 308.3L537.3 308.9L537.3 309.5L537.3 310.1L537.3 310.7L537.3 311.3L537.3 311.9L537.3 312.5L537.3 313.1L537.4 313.7L537.4 314.3L537.4 314.9L537.4 315.5L537.4 316.1L537.4 316.7L537.4 317.3L537.4 317.8L537.4 318.4L537.4 319L537.4 319.5L537.4 320.1L537.4 320.7L537.4 321.2L537.5 321.8L537.5 322.4L537.5 322.9L537.5 323.5L537.5 324L537.5 324.6L537.5 325.1L537.5 325.7L537.5 326.2L537.5 326.8L537.5 327.3L537.5 327.8L537.5 328.4L537.5 328.9L537.6 329.4L537.6 330L537.6 330.5L537.6 331L537.6 331.5L537.6 332L537.6 332.6L537.6 333.1L537.6 333.6L537.6 334.1L537.6 334.6L537.6 335.1L537.7 335.6L537.7 336.1L537.7 336.6L537.7 337.1L537.7 337.6L537.7 338.1L537.7 338.6L537.7 339.1L537.7 339.6L537.7 340.1L537.7 340.5L537.7 341L537.8 341.5L537.8 342L537.8 342.5L537.8 342.9L537.8 343.4L537.8 343.9L537.8 344.3L537.8 344.8L537.8 345.3L537.8 345.7L537.8 346.2L537.9 346.7L537.9 347.1L537.9 347.6L537.9 348L537.9 348.5L537.9 348.9L537.9 349.4L537.9 349.8L537.9 350.2L537.9 350.7L538 351.1L538 351.6L538 352L538 352.4L538 352.9L538 353.3L538 353.7L538 354.2L538 354.6L538 355L538.1 355.4L538.1 355.8L538.1 356.3L538.1 356.7L538.1 357.1L538.1 357.5L538.1 357.9L538.1 358.3L538.2 358.7L538.2 359.1L538.2 359.5L538.2 359.9L538.2 360.3L538.2 360.7L538.2 361.1L538.2 361.5L538.3 361.9L538.3 362.3L538.3 362.7L538.3 363.1L538.3 363.5L538.3 363.9L538.3 364.3L538.4 364.7L538.4 365L538.4 365.4L538.4 365.8L538.4 366.2L538.4 366.5L538.4 366.9L538.5 367.3L538.5 367.7L538.5 368L538.5 368.4L538.5 368.8L538.5 369.1L538.6 369.5L538.6 369.9L538.6 370.2L538.6 370.6L538.6 370.9L538.7 371.3L538.7 371.6L538.7 372L538.7 372.3L538.7 372.7L538.8 373L538.8 373.4L538.8 373.7L538.8 374.1L538.8 374.4L538.9 374.8L538.9 375.1L538.9 375.4L538.9 375.8L538.9 376.1L539 376.4L539 376.8L539 377.1L539 377.4L539.1 377.8L539.1 378.1L539.1 378.4L539.1 378.7L539.2 379.1L539.2 379.4L539.2 379.7L539.2 380L539.3 380.3L539.3 380.7L539.3 381L539.3 381.3L539.4 381.6L539.4 381.9L539.4 382.2L539.4 382.5L539.5 382.8L539.5 383.1L539.5 383.5L539.5 383.8L539.6 384.1L539.6 384.4L539.6 384.7L539.6 385L539.7 385.3L539.7 385.6L539.7 385.8L539.7 386.1L539.8 386.4L539.8 386.7L539.8 387L539.9 387.3L539.9 387.6L539.9 387.9L539.9 388.2L540 388.4L540 388.7L540 389L540.1 389.3L540.1 389.6L540.1 389.9L540.1 390.1L540.2 390.4L540.2 390.7L540.2 391L540.3 391.2L540.3 391.5L540.3 391.8L540.3 392L540.4 392.3L540.4 392.6L540.4 392.8L540.5 393.1L540.5 393.4L540.5 393.6L540.5 393.9L540.6 394.1L540.6 394.4L540.6 394.7L540.7 394.9L540.7 395.2L540.7 395.4L540.8 395.7L540.8 395.9L540.8 396.2L540.8 396.4L540.9 396.7L540.9 396.9L540.9 397.2L541 397.4L541 397.7L541 397.9L541.1 398.2L541.1 398.4L541.1 398.7L541.1 398.9L541.2 399.1L541.2 399.4L541.2 399.6L541.3 399.8L541.3 400.1L541.3 400.3L541.4 400.6L541.4 400.8L541.4 401L541.4 401.2L541.5 401.5L541.5 401.7L541.5 401.9L541.6 402.2L541.6 402.4L541.6 402.6L541.7 402.8L541.7 403.1L541.7 403.3L541.7 403.5L541.8 403.7L541.8 403.9L541.8 404.2L541.9 404.4L541.9 404.6L541.9 404.8L541.9 405L542 405.2L542 405.5L542 405.7L542.1 405.9L542.1 406.1L542.1 406.3L542.1 406.5L542.2 406.7L542.2 406.9L542.2 407.1L542.3 407.3L542.3 407.5L542.3 407.7L542.4 407.9L542.4 408.2L542.4 408.4L542.4 408.6L542.5 408.8L542.5 409L542.5 409.1L542.6 409.3L542.6 409.5L542.6 409.7L542.7 409.9L542.7 410.1L542.7 410.3L542.8 410.5L542.8 410.7L542.8 410.9L542.9 411.1L542.9 411.3L542.9 411.5L542.9 411.6L543 411.8L543 412L543 412.2L543.1 412.4L543.1 412.6L543.1 412.8L543.2 412.9L543.2 413.1L543.2 413.3L543.3 413.5L543.3 413.7L543.3 413.8L543.4 414L543.4 414.2L543.4 414.4L543.5 414.5L543.5 414.7L543.5 414.9L543.6 415.1L543.6 415.2L543.6 415.4L543.7 415.6L543.7 415.8L543.7 415.9L543.8 416.1L543.8 416.3L543.8 416.4L543.9 416.6L543.9 416.8L543.9 416.9L544 417.1L544 417.3L544 417.4L544.1 417.6L544.1 417.7L544.1 417.9L544.2 418.1L544.2 418.2L544.2 418.4L544.3 418.5L544.3 418.7L544.3 418.9L544.4 419L544.4 419.2L544.4 419.3L544.5 419.5L544.5 419.6L544.5 419.8L544.6 419.9L544.6 420.1L544.6 420.2L544.7 420.4L544.7 420.6L544.8 420.7L544.8 420.8L544.8 421L544.9 421.1L544.9 421.3L544.9 421.4L545 421.6L545 421.7L545 421.9L545.1 422L545.1 422.2L545.1 422.3L545.2 422.5L545.2 422.6L545.2 422.7L545.3 422.9L545.3 423L545.4 423.2L545.4 423.3L545.4 423.4L545.5 423.6L545.5 423.7" stroke="#12a0f5" stroke-width="1.5" fill="none" stroke-linejoin="round"/>
<path d="M673.4 169h0M679.6 394.8h0M628.5 390.1h0M676.8 376.6h0M670.6 106.7h0M692.4 412h0M639.5 381.1h0M672.1 128h0M588.3 422.4h0M590.6 425.9h0M577.5 431.7h0M585.1 415.1h0M599.7 410h0M650.5 300h0M649.5 353h0M679.4 406.4h0M587.2 415.3h0M668.2 87.8h0M633.5 385.6h0M648.6 345.6h0M588.7 420.6h0M585.6 429.4h0M639.7 352.2h0M688.4 410.4h0M643.4 384.9h0M649 329.4h0M656.5 290.8h0M601.8 408.4h0M675.3 222.6h0M599.8 416h0M628.6 387.5h0M627.6 411.2h0M675.6 382.2h0M674.5 130.8h0M636.8 403.1h0M580.9 431.5h0M583.6 418.5h0M584.7 418.4h0M665.4 108.9h0M661.9 219.8h0M612.4 404.3h0M592.8 409.5h0M680.9 411.2h0M688.4 408h0M583.8 416h0M653.4 291.4h0M678.9 384.9h0M649.5 347.1h0M677.1 363.2h0M576.5 414.3h0M641 394.3h0M606.4 411.2h0M674 99.6h0M637.4 368.4h0M664.2 109.9h0M640.2 387.5h0M652.7 306.5h0M653.8 232h0M669.9 103.8h0M605.6 405.3h0M659.5 222.8h0M605.6 420.1h0M584.3 413h0M632.2 377.7h0M653.4 268.3h0M672.6 93.8h0M651.5 291.2h0M617.9 409.3h0M604.4 420.1h0M661.3 236.1h0M615.5 415h0M685.3 410.4h0M648.6 364.7h0M644.9 344.9h0M671.8 99.6h0M690.3 425.8h0M639.2 388.7h0M587.2 412.4h0M639.1 379h0M694.9 421.6h0M678.5 376.1h0M675.2 161.9h0M591.9 413h0M602.1 409.7h0M689.1 421.2h0M627 397.8h0M659.5 232.3h0M629 396.6h0M635 393h0M668.7 93.7h0M645.9 371.6h0M608.6 399.4h0M646.5 367.6h0M651.2 350.4h0M634.8 393.9h0M591.2 415.7h0M678.6 384h0M622.7 406.6h0M617.9 402h0M582 419.7h0M670.4 61.1h0M647.5 331.8h0M671.8 82.5h0M674.5 152.1h0M653.9 300.1h0M586.7 410.2h0M635.7 372.9h0M667 115.1h0M621.4 392.2h0M634.1 384.7h0M587.1 407.2h0M607.9 411.2h0M640.9 370.4h0M670.5 46.9h0M577.6 416h0M693.2 428.2h0M578.2 420.6h0M669.2 120.8h0M616 400.6h0M624.1 405h0M582.2 408.8h0M639.6 371.4h0M670.6 73.5h0M664.5 153h0M586.6 410.6h0M683.6 392.8h0M655.6 235h0M620.2 392.9h0M640.1 363.5h0M657.5 267.9h0M670.3 186.2h0M655.3 253.3h0M576.1 413.5h0M584.2 420.3h0M594.2 424.3h0M693.1 425h0M636.6 374.5h0M663.7 132.5h0M627.4 391.7h0M621 409h0M673 229.9h0M672.4 244.4h0M672.6 86.6h0M674.6 179.6h0M603.5 405.7h0M667.6 72.2h0M673.8 183h0M619.2 407.8h0M598.7 416.3h0M601.8 422.6h0M600.5 415.6h0M629.4 383.8h0M695.9 424.1h0M641.7 368.4h0M665.4 59.5h0M629 411.5h0M649.9 348.1h0M692.7 424.1h0M642.9 367.1h0M628.2 392.8h0M588.6 419.2h0M607.4 395.4h0M669.7 76.4h0M694.7 428.4h0M599 410.6h0M622.7 413.9h0M636.7 375.6h0M645.5 380.4h0M685.1 395.2h0M575.3 423.9h0M669.9 75h0M575.1 432.4h0M626.4 381.4h0M692.1 438.8h0M637.2 393.5h0M659 232.4h0M642.4 388.3h0M601.8 422.2h0M628.9 397.1h0M675.5 343.4h0M590.9 409.1h0M630.3 399.8h0M674.9 188.9h0M619.6 396.6h0M624.4 390.7h0M649.9 323.6h0M673.7 369.5h0M661.8 212h0M666.1 104.3h0M585.9 421h0M683.1 382.8h0M626.4 398h0M595.4 406.4h0M685.6 414.4h0M644.5 331h0M640.1 360.7h0M653.7 324.2h0M591.1 410.2h0M621.2 417.3h0M626.8 386.5h0M662.3 206.9h0M581.3 432.5h0M585.6 425.1h0M621.4 402.5h0M605.3 398.8h0M605 410.1h0M645.1 355.6h0M675.4 222.3h0M577.9 424.7h0M610.3 419.3h0M627.5 397.8h0M590.9 417.6h0M636.6 384.6h0M654.9 306.2h0M603.7 411.9h0M680.2 389.3h0M593.3 413.5h0M682.3 406.8h0M653 310.3h0M678.2 378.8h0M652.4 331.3h0M666.3 116.5h0M671.5 95.5h0M661.9 129.8h0M593.7 409.7h0M634.2 387.1h0M626.3 391.4h0M654.8 340.2h0M663.8 172.6h0M601.2 416h0M666 107.3h0M623.9 394.6h0M657 247.6h0M676.7 383.4h0M573 424.2h0M575.7 416.2h0M665.2 187.4h0M644.7 364.3h0M635.4 400.7h0M670.2 62.6h0M647 363.4h0M694.2 439h0M694.5 420.1h0M584.7 410.4h0M593.3 409.9h0M592.7 418.3h0M608.3 410.9h0M663.9 195.2h0M658.1 212.4h0M647.4 331.8h0M606.3 398h0M673.1 72.2h0M606 402.2h0M677.5 333.1h0M638.5 386.3h0M653.4 254.6h0M599 418.9h0M658.1 283.9h0M667.6 79.5h0M687.3 412.4h0M677.2 257.1h0M632.9 398.2h0M678.9 380.3h0M689.8 427.1h0M666.7 96.7h0M628.6 401.1h0M607.3 419.1h0M658 287.2h0M623.7 399.2h0M623.5 383.5h0M584.2 416.8h0M676.7 393.7h0M599.9 420.1h0M692.3 422.3h0M639.6 383.5h0M664.1 138.2h0M627.1 382.7h0M657.4 282.9h0M626.1 407h0M676 307.1h0M608 411.4h0M622.8 396.4h0M668.3 53.9h0M677.2 293.6h0M678.3 366.8h0M675.1 183.7h0M692 424.3h0M606.1 422.9h0M623.4 407.7h0M637.3 383.5h0M618.4 398.7h0M634.5 396h0M664.6 198h0M626.3 405.4h0M601.8 400.2h0M639.3 391.5h0M575.6 420.2h0M591 416.8h0M577.5 412.2h0M599.9 407.9h0M635.2 388.2h0M607.6 403.5h0M595.7 406.4h0M613.8 409h0M637.4 393.9h0M641.6 383.2h0M692.9 426.7h0M685.7 419.1h0M676.3 293.3h0M616.7 395.9h0M690.2 414.6h0M604.5 397.7h0M670.3 120.2h0M618.4 412.6h0M676.6 258.9h0M595.6 407.2h0M615.5 416.5h0M581.4 417.9h0M641.9 354.4h0M678.6 305.9h0M625.4 384.6h0M669.2 123.3h0M618.1 401.1h0M689.9 433.2h0M689.9 430.5h0M573.6 432.2h0M597 406.5h0M583.1 417.2h0M639.6 359.7h0M671.7 95.8h0M672.3 122.1h0M640 360.7h0M625.7 404.5h0M666.3 162.1h0M593.4 410.2h0M677.8 346.5h0M578.9 426.1h0M673.7 70.4h0M670.1 48.8h0M643.2 379.7h0M688.9 434.9h0M616.5 401.9h0M595.2 403.9h0M593 422.5h0M600 407.1h0M664.3 102.3h0M592.8 415.5h0M669.1 68.5h0M641.4 380h0M644.3 366.1h0M621.6 403.5h0M669.6 135.9h0M577.7 418.6h0M656.5 220.9h0M652.8 314.5h0M645.9 337.2h0M670.1 57.3h0M575.1 435.7h0M663.1 230.1h0M579.3 429.2h0M653.3 284.7h0M645.7 379.3h0M631 386.7h0M654.3 294.5h0M605.6 412.7h0M590 414.4h0M588 405.2h0M671.1 130h0M593.3 419.7h0M630.3 390.6h0M595.9 416.2h0M630.3 396.5h0M652.1 295.6h0M662.8 127.8h0M668.2 101.8h0M661 220.7h0M576 418.5h0M598.6 403.2h0M651 293.8h0M646.5 324.4h0M637.7 372.2h0M603.4 420.5h0M650.9 319.2h0M606.9 406.6h0M639 369.1h0M685 401.7h0M635.7 391.2h0M585.9 420.1h0M660.5 168.2h0M674.3 386.8h0M673.6 153.2h0M628.6 380.8h0M674.2 57.2h0M578.1 425.1h0M576.6 419.7h0M592.4 404.4h0M689.2 429.1h0M673.1 129.4h0M578 429.6h0M663 141.4h0" stroke="#2fb065" stroke-width="3.04" stroke-linecap="square" fill="none" opacity="1.0"/>
<path d="M570.4 422.7L570.6 422.6L570.7 422.5L570.9 422.5L571.1 422.4L571.2 422.4L571.4 422.3L571.6 422.3L571.7 422.2L571.9 422.2L572.1 422.1L572.2 422.1L572.4 422L572.6 422L572.7 421.9L572.9 421.9L573.1 421.8L573.2 421.8L573.4 421.7L573.6 421.7L573.7 421.6L573.9 421.5L574.1 421.5L574.2 421.4L574.4 421.4L574.6 421.3L574.7 421.3L574.9 421.2L575.1 421.2L575.2 421.1L575.4 421.1L575.6 421L575.7 420.9L575.9 420.9L576.1 420.8L576.2 420.8L576.4 420.7L576.6 420.7L576.7 420.6L576.9 420.6L577.1 420.5L577.2 420.4L577.4 420.4L577.5 420.3L577.7 420.3L577.9 420.2L578 420.2L578.2 420.1L578.4 420L578.5 420L578.7 419.9L578.9 419.9L579 419.8L579.2 419.8L579.4 419.7L579.5 419.6L579.7 419.6L579.9 419.5L580 419.5L580.2 419.4L580.4 419.3L580.5 419.3L580.7 419.2L580.9 419.2L581 419.1L581.2 419L581.4 419L581.5 418.9L581.7 418.9L581.9 418.8L582 418.7L582.2 418.7L582.4 418.6L582.5 418.6L582.7 418.5L582.9 418.4L583 418.4L583.2 418.3L583.4 418.3L583.5 418.2L583.7 418.1L583.9 418.1L584 418L584.2 417.9L584.4 417.9L584.5 417.8L584.7 417.8L584.9 417.7L585 417.6L585.2 417.6L585.4 417.5L585.5 417.4L585.7 417.4L585.9 417.3L586 417.2L586.2 417.2L586.4 417.1L586.5 417L586.7 417L586.9 416.9L587 416.9L587.2 416.8L587.4 416.7L587.5 416.7L587.7 416.6L587.9 416.5L588 416.5L588.2 416.4L588.4 416.3L588.5 416.3L588.7 416.2L588.9 416.1L589 416.1L589.2 416L589.4 415.9L589.5 415.9L589.7 415.8L589.9 415.7L590 415.7L590.2 415.6L590.4 415.5L590.5 415.4L590.7 415.4L590.9 415.3L591 415.2L591.2 415.2L591.4 415.1L591.5 415L591.7 415L591.8 414.9L592 414.8L592.2 414.8L592.3 414.7L592.5 414.6L592.7 414.5L592.8 414.5L593 414.4L593.2 414.3L593.3 414.3L593.5 414.2L593.7 414.1L593.8 414L594 414L594.2 413.9L594.3 413.8L594.5 413.7L594.7 413.7L594.8 413.6L595 413.5L595.2 413.5L595.3 413.4L595.5 413.3L595.7 413.2L595.8 413.2L596 413.1L596.2 413L596.3 412.9L596.5 412.9L596.7 412.8L596.8 412.7L597 412.6L597.2 412.6L597.3 412.5L597.5 412.4L597.7 412.3L597.8 412.3L598 412.2L598.2 412.1L598.3 412L598.5 411.9L598.7 411.9L598.8 411.8L599 411.7L599.2 411.6L599.3 411.6L599.5 411.5L599.7 411.4L599.8 411.3L600 411.2L600.2 411.2L600.3 411.1L600.5 411L600.7 410.9L600.8 410.8L601 410.8L601.2 410.7L601.3 410.6L601.5 410.5L601.7 410.4L601.8 410.4L602 410.3L602.2 410.2L602.3 410.1L602.5 410L602.7 409.9L602.8 409.9L603 409.8L603.2 409.7L603.3 409.6L603.5 409.5L603.7 409.4L603.8 409.4L604 409.3L604.2 409.2L604.3 409.1L604.5 409L604.7 408.9L604.8 408.9L605 408.8L605.2 408.7L605.3 408.6L605.5 408.5L605.7 408.4L605.8 408.3L606 408.3L606.1 408.2L606.3 408.1L606.5 408L606.6 407.9L606.8 407.8L607 407.7L607.1 407.6L607.3 407.5L607.5 407.5L607.6 407.4L607.8 407.3L608 407.2L608.1 407.1L608.3 407L608.5 406.9L608.6 406.8L608.8 406.7L609 406.6L609.1 406.6L609.3 406.5L609.5 406.4L609.6 406.3L609.8 406.2L610 406.1L610.1 406L610.3 405.9L610.5 405.8L610.6 405.7L610.8 405.6L611 405.5L611.1 405.4L611.3 405.3L611.5 405.2L611.6 405.1L611.8 405L612 405L612.1 404.9L612.3 404.8L612.5 404.7L612.6 404.6L612.8 404.5L613 404.4L613.1 404.3L613.3 404.2L613.5 404.1L613.6 404L613.8 403.9L614 403.8L614.1 403.7L614.3 403.6L614.5 403.5L614.6 403.4L614.8 403.2L615 403.1L615.1 403L615.3 402.9L615.5 402.8L615.6 402.7L615.8 402.6L616 402.5L616.1 402.4L616.3 402.3L616.5 402.2L616.6 402.1L616.8 402L617 401.9L617.1 401.8L617.3 401.7L617.5 401.6L617.6 401.5L617.8 401.4L618 401.3L618.1 401.2L618.3 401.1L618.5 401L618.6 400.9L618.8 400.8L619 400.7L619.1 400.6L619.3 400.5L619.5 400.4L619.6 400.3L619.8 400.2L620 400.1L620.1 400L620.3 399.9L620.4 399.8L620.6 399.7L620.8 399.6L620.9 399.5L621.1 399.3L621.3 399.2L621.4 399.1L621.6 399L621.8 398.9L621.9 398.8L622.1 398.7L622.3 398.6L622.4 398.4L622.6 398.3L622.8 398.2L622.9 398.1L623.1 398L623.3 397.8L623.4 397.7L623.6 397.6L623.8 397.5L623.9 397.3L624.1 397.2L624.3 397.1L624.4 396.9L624.6 396.8L624.8 396.7L624.9 396.5L625.1 396.4L625.3 396.3L625.4 396.1L625.6 396L625.8 395.8L625.9 395.7L626.1 395.5L626.3 395.4L626.4 395.2L626.6 395L626.8 394.9L626.9 394.7L627.1 394.6L627.3 394.4L627.4 394.2L627.6 394L627.8 393.9L627.9 393.7L628.1 393.5L628.3 393.3L628.4 393.1L628.6 392.9L628.8 392.7L628.9 392.5L629.1 392.3L629.3 392L629.4 391.8L629.6 391.6L629.8 391.3L629.9 391.1L630.1 390.8L630.3 390.6L630.4 390.3L630.6 390.1L630.8 389.8L630.9 389.6L631.1 389.3L631.3 389L631.4 388.7L631.6 388.5L631.8 388.2L631.9 387.9L632.1 387.6L632.3 387.3L632.4 387L632.6 386.7L632.8 386.4L632.9 386.1L633.1 385.8L633.3 385.5L633.4 385.2L633.6 384.9L633.8 384.6L633.9 384.2L634.1 383.9L634.3 383.6L634.4 383.3L634.6 383L634.7 382.6L634.9 382.3L635.1 382L635.2 381.6L635.4 381.3L635.6 381L635.7 380.7L635.9 380.3L636.1 380L636.2 379.7L636.4 379.3L636.6 379L636.7 378.7L636.9 378.4L637.1 378L637.2 377.7L637.4 377.4L637.6 377L637.7 376.7L637.9 376.4L638.1 376L638.2 375.7L638.4 375.3L638.6 375L638.7 374.6L638.9 374.3L639.1 373.9L639.2 373.6L639.4 373.2L639.6 372.8L639.7 372.5L639.9 372.1L640.1 371.7L640.2 371.3L640.4 370.9L640.6 370.5L640.7 370L640.9 369.6L641.1 369.2L641.2 368.7L641.4 368.3L641.6 367.8L641.7 367.3L641.9 366.8L642.1 366.3L642.2 365.8L642.4 365.3L642.6 364.7L642.7 364.2L642.9 363.6L643.1 363L643.2 362.4L643.4 361.8L643.6 361.1L643.7 360.5L643.9 359.8L644.1 359L644.2 358.3L644.4 357.5L644.6 356.7L644.7 355.9L644.9 355L645.1 354.1L645.2 353.2L645.4 352.3L645.6 351.4L645.7 350.4L645.9 349.4L646.1 348.4L646.2 347.3L646.4 346.3L646.6 345.2L646.7 344.1L646.9 343L647.1 341.8L647.2 340.7L647.4 339.5L647.6 338.3L647.7 337L647.9 335.8L648.1 334.5L648.2 333.2L648.4 331.9L648.6 330.6L648.7 329.3L648.9 327.9L649 326.5L649.2 325.2L649.4 323.8L649.5 322.3L649.7 320.9L649.9 319.5L650 318L650.2 316.5L650.4 315.1L650.5 313.6L650.7 312.1L650.9 310.6L651 309L651.2 307.4L651.4 305.8L651.5 304.1L651.7 302.4L651.9 300.7L652 298.9L652.2 297.1L652.4 295.3L652.5 293.4L652.7 291.4L652.9 289.5L653 287.5L653.2 285.4L653.4 283.4L653.5 281.3L653.7 279.1L653.9 277L654 274.8L654.2 272.6L654.4 270.3L654.5 268L654.7 265.7L654.9 263.4L655 261L655.2 258.6L655.4 256.2L655.5 253.8L655.7 251.3L655.9 248.9L656 246.4L656.2 243.9L656.4 241.4L656.5 238.8L656.7 236.3L656.9 233.8L657 231.2L657.2 228.7L657.4 226.2L657.5 223.6L657.7 221.1L657.9 218.6L658 216.1L658.2 213.6L658.4 211.1L658.5 208.6L658.7 206.2L658.9 203.7L659 201.3L659.2 198.8L659.4 196.4L659.5 193.9L659.7 191.4L659.9 189L660 186.5L660.2 184L660.4 181.6L660.5 179.1L660.7 176.6L660.9 174.1L661 171.6L661.2 169.1L661.4 166.7L661.5 164.2L661.7 161.7L661.9 159.2L662 156.7L662.2 154.2L662.4 151.7L662.5 149.1L662.7 146.6L662.9 144.1L663 141.6L663.2 139.1L663.3 136.5L663.5 134L663.7 131.5L663.8 129L664 126.4L664.2 123.8L664.3 121.2L664.5 118.5L664.7 115.9L664.8 113.2L665 110.6L665.2 107.9L665.3 105.2L665.5 102.6L665.7 100L665.8 97.3L666 94.8L666.2 92.2L666.3 89.7L666.5 87.3L666.7 84.9L666.8 82.5L667 80.2L667.2 78.1L667.3 75.9L667.5 73.9L667.7 72L667.8 70L668 68.1L668.2 66.3L668.3 64.5L668.5 62.7L668.7 61L668.8 59.3L669 57.7L669.2 56.1L669.3 54.6L669.5 53.2L669.7 51.8L669.8 50.4L670 49.2L670.3 51L670.6 52.9L670.9 54.7L671.2 56.6L671.5 58.4L671.7 60.2L672 62.1L672.1 63.9L672.3 65.7L672.4 67.4L672.5 69.2L672.5 71L672.6 72.8L672.7 74.5L672.8 76.3L672.8 78L672.9 79.7L673 81.5L673 83.2L673.1 84.9L673.2 86.6L673.2 88.3L673.3 90L673.3 91.7L673.4 93.3L673.4 95L673.5 96.6L673.5 98.3L673.6 99.9L673.6 101.6L673.6 103.2L673.7 104.8L673.7 106.4L673.8 108L673.8 109.6L673.8 111.2L673.8 112.8L673.9 114.4L673.9 115.9L673.9 117.5L674 119L674 120.6L674 122.1L674 123.6L674 125.2L674.1 126.7L674.1 128.2L674.1 129.7L674.1 131.2L674.1 132.7L674.2 134.2L674.2 135.6L674.2 137.1L674.2 138.6L674.2 140L674.2 141.5L674.3 142.9L674.3 144.4L674.3 145.8L674.3 147.2L674.3 148.6L674.3 150L674.3 151.4L674.4 152.8L674.4 154.2L674.4 155.6L674.4 157L674.4 158.4L674.4 159.7L674.4 161.1L674.4 162.4L674.5 163.8L674.5 165.1L674.5 166.5L674.5 167.8L674.5 169.1L674.5 170.4L674.5 171.7L674.5 173L674.5 174.3L674.6 175.6L674.6 176.9L674.6 178.2L674.6 179.5L674.6 180.7L674.6 182L674.6 183.3L674.6 184.5L674.6 185.7L674.6 187L674.6 188.2L674.6 189.5L674.7 190.7L674.7 191.9L674.7 193.1L674.7 194.3L674.7 195.5L674.7 196.7L674.7 197.9L674.7 199.1L674.7 200.3L674.7 201.4L674.7 202.6L674.7 203.8L674.8 204.9L674.8 206.1L674.8 207.2L674.8 208.4L674.8 209.5L674.8 210.6L674.8 211.8L674.8 212.9L674.8 214L674.8 215.1L674.8 216.2L674.8 217.3L674.8 218.4L674.8 219.5L674.9 220.6L674.9 221.7L674.9 222.7L674.9 223.8L674.9 224.9L674.9 225.9L674.9 227L674.9 228L674.9 229.1L674.9 230.1L674.9 231.2L674.9 232.2L674.9 233.2L674.9 234.2L675 235.3L675 236.3L675 237.3L675 238.3L675 239.3L675 240.3L675 241.3L675 242.3L675 243.2L675 244.2L675 245.2L675.1 246.2L675.1 247.1L675.1 248.1L675.1 249L675.1 250L675.1 250.9L675.1 251.9L675.1 252.8L675.1 253.7L675.1 254.7L675.2 255.6L675.2 256.5L675.2 257.4L675.2 258.3L675.2 259.2L675.2 260.2L675.2 261L675.2 261.9L675.2 262.8L675.3 263.7L675.3 264.6L675.3 265.5L675.3 266.4L675.3 267.2L675.3 268.1L675.3 269L675.3 269.8L675.4 270.7L675.4 271.5L675.4 272.4L675.4 273.2L675.4 274.1L675.4 274.9L675.4 275.7L675.4 276.6L675.5 277.4L675.5 278.2L675.5 279L675.5 279.8L675.5 280.6L675.5 281.4L675.5 282.2L675.5 283L675.6 283.8L675.6 284.6L675.6 285.4L675.6 286.2L675.6 287L675.6 287.8L675.6 288.5L675.6 289.3L675.7 290.1L675.7 290.8L675.7 291.6L675.7 292.3L675.7 293.1L675.7 293.8L675.7 294.6L675.7 295.3L675.8 296.1L675.8 296.8L675.8 297.5L675.8 298.3L675.8 299L675.8 299.7L675.8 300.4L675.8 301.1L675.9 301.9L675.9 302.6L675.9 303.3L675.9 304L675.9 304.7L675.9 305.4L675.9 306.1L675.9 306.7L676 307.4L676 308.1L676 308.8L676 309.5L676 310.1L676 310.8L676 311.5L676.1 312.1L676.1 312.8L676.1 313.5L676.1 314.1L676.1 314.8L676.1 315.4L676.1 316.1L676.2 316.7L676.2 317.4L676.2 318L676.2 318.6L676.2 319.3L676.2 319.9L676.2 320.5L676.3 321.1L676.3 321.8L676.3 322.4L676.3 323L676.3 323.6L676.3 324.2L676.3 324.8L676.4 325.4L676.4 326L676.4 326.6L676.4 327.2L676.4 327.8L676.4 328.4L676.5 329L676.5 329.6L676.5 330.1L676.5 330.7L676.5 331.3L676.5 331.9L676.6 332.4L676.6 333L676.6 333.6L676.6 334.1L676.6 334.7L676.6 335.3L676.7 335.8L676.7 336.4L676.7 336.9L676.7 337.5L676.7 338L676.7 338.6L676.8 339.1L676.8 339.6L676.8 340.2L676.8 340.7L676.8 341.2L676.8 341.8L676.9 342.3L676.9 342.8L676.9 343.3L676.9 343.9L676.9 344.4L677 344.9L677 345.4L677 345.9L677 346.4L677 346.9L677.1 347.4L677.1 347.9L677.1 348.4L677.1 348.9L677.1 349.4L677.2 349.9L677.2 350.4L677.2 350.9L677.2 351.4L677.2 351.8L677.3 352.3L677.3 352.8L677.3 353.3L677.3 353.7L677.3 354.2L677.4 354.7L677.4 355.2L677.4 355.6L677.4 356.1L677.4 356.5L677.5 357L677.5 357.5L677.5 357.9L677.5 358.4L677.6 358.8L677.6 359.3L677.6 359.7L677.6 360.1L677.7 360.6L677.7 361L677.7 361.5L677.7 361.9L677.7 362.3L677.8 362.8L677.8 363.2L677.8 363.6L677.8 364.1L677.9 364.5L677.9 364.9L677.9 365.3L678 365.7L678 366.2L678 366.6L678 367L678.1 367.4L678.1 367.8L678.1 368.2L678.2 368.6L678.2 369L678.2 369.4L678.3 369.8L678.3 370.2L678.3 370.6L678.4 371L678.4 371.4L678.4 371.8L678.5 372.2L678.5 372.6L678.5 372.9L678.6 373.3L678.6 373.7L678.7 374.1L678.7 374.5L678.7 374.8L678.8 375.2L678.8 375.6L678.9 376L678.9 376.3L678.9 376.7L679 377.1L679 377.4L679.1 377.8L679.1 378.2L679.2 378.5L679.2 378.9L679.2 379.2L679.3 379.6L679.3 379.9L679.4 380.3L679.4 380.6L679.5 381L679.5 381.3L679.6 381.7L679.6 382L679.7 382.4L679.7 382.7L679.7 383L679.8 383.4L679.8 383.7L679.9 384L679.9 384.4L680 384.7L680 385L680.1 385.4L680.1 385.7L680.2 386L680.2 386.3L680.3 386.7L680.3 387L680.4 387.3L680.4 387.6L680.5 387.9L680.5 388.2L680.6 388.6L680.6 388.9L680.7 389.2L680.7 389.5L680.8 389.8L680.9 390.1L680.9 390.4L681 390.7L681 391L681.1 391.3L681.1 391.6L681.2 391.9L681.3 392.2L681.3 392.5L681.4 392.8L681.5 393.1L681.5 393.4L681.6 393.7L681.7 394L681.7 394.2L681.8 394.5L681.9 394.8L681.9 395.1L682 395.4L682.1 395.7L682.1 395.9L682.2 396.2L682.3 396.5L682.3 396.8L682.4 397L682.5 397.3L682.6 397.6L682.6 397.9L682.7 398.1L682.8 398.4L682.8 398.7L682.9 398.9L683 399.2L683.1 399.5L683.1 399.7L683.2 400L683.3 400.2L683.3 400.5L683.4 400.8L683.5 401L683.6 401.3L683.6 401.5L683.7 401.8L683.8 402L683.8 402.3L683.9 402.5L684 402.8L684 403L684.1 403.3L684.2 403.5L684.2 403.8L684.3 404L684.4 404.2L684.4 404.5L684.5 404.7L684.6 405L684.6 405.2L684.7 405.4L684.8 405.7L684.8 405.9L684.9 406.1L685 406.4L685 406.6L685.1 406.8L685.1 407L685.2 407.3L685.3 407.5L685.3 407.7L685.4 407.9L685.5 408.2L685.5 408.4L685.6 408.6L685.7 408.8L685.7 409.1L685.8 409.3L685.9 409.5L685.9 409.7L686 409.9L686 410.1L686.1 410.3L686.2 410.6L686.2 410.8L686.3 411L686.4 411.2L686.4 411.4L686.5 411.6L686.6 411.8L686.6 412L686.7 412.2L686.8 412.4L686.8 412.6L686.9 412.8L686.9 413L687 413.2L687.1 413.4L687.1 413.6L687.2 413.8L687.3 414L687.3 414.2L687.4 414.4L687.5 414.6L687.5 414.8L687.6 415L687.6 415.2L687.7 415.4L687.8 415.6L687.8 415.7L687.9 415.9L688 416.1L688 416.3L688.1 416.5L688.1 416.7L688.2 416.9L688.3 417L688.3 417.2L688.4 417.4L688.5 417.6L688.5 417.8L688.6 417.9L688.7 418.1L688.7 418.3L688.8 418.5L688.8 418.6L688.9 418.8L689 419L689 419.2L689.1 419.3L689.2 419.5L689.2 419.7L689.3 419.8L689.3 420L689.4 420.2L689.5 420.3L689.5 420.5L689.6 420.7L689.7 420.8L689.7 421L689.8 421.2L689.8 421.3L689.9 421.5L690 421.7L690 421.8L690.1 422L690.2 422.1L690.2 422.3L690.3 422.5L690.3 422.6L690.4 422.8L690.5 422.9L690.5 423.1L690.6 423.2L690.7 423.4L690.7 423.5L690.8 423.7L690.8 423.8L690.9 424L691 424.1L691 424.3L691.1 424.4L691.2 424.6L691.2 424.7L691.3 424.9L691.3 425L691.4 425.2L691.5 425.3L691.5 425.5L691.6 425.6L691.6 425.7L691.7 425.9L691.8 426L691.8 426.2L691.9 426.3L692 426.4L692 426.6L692.1 426.7L692.1 426.9L692.2 427L692.3 427.1L692.3 427.3L692.4 427.4L692.4 427.5L692.5 427.7L692.6 427.8L692.6 427.9L692.7 428.1L692.7 428.2L692.8 428.3L692.9 428.5L692.9 428.6L693 428.7L693.1 428.8L693.1 429L693.2 429.1L693.2 429.2L693.3 429.3L693.4 429.5L693.4 429.6L693.5 429.7L693.5 429.8L693.6 430L693.7 430.1L693.7 430.2L693.8 430.3L693.8 430.5L693.9 430.6" stroke="#0a7f0a" stroke-width="1.5" fill="none" stroke-linejoin="round"/>
<path d="M792.1 84.3l2.7 4.5h-5.4zM777.7 354.6l2.7 4.5h-5.4zM721.2 393.6l2.7 4.5h-5.4zM820.1 418l2.7 4.5h-5.4zM796.7 158l2.7 4.5h-5.4zM726.5 392.3l2.7 4.5h-5.4zM732.2 403.8l2.7 4.5h-5.4zM813.9 384.2l2.7 4.5h-5.4zM761.6 385.2l2.7 4.5h-5.4zM795 69.8l2.7 4.5h-5.4zM763.3 379.9l2.7 4.5h-5.4zM797.2 172.7l2.7 4.5h-5.4zM748.4 400.5l2.7 4.5h-5.4zM786 314.6l2.7 4.5h-5.4zM806.1 346.7l2.7 4.5h-5.4zM724 402.1l2.7 4.5h-5.4zM738.3 385.3l2.7 4.5h-5.4zM776.8 385.9l2.7 4.5h-5.4zM801.3 354.8l2.7 4.5h-5.4zM730.3 403.7l2.7 4.5h-5.4zM811.6 391.7l2.7 4.5h-5.4zM755.7 402.3l2.7 4.5h-5.4zM744.4 404.8l2.7 4.5h-5.4zM724.8 401.9l2.7 4.5h-5.4zM806 350.6l2.7 4.5h-5.4zM793.7 104.2l2.7 4.5h-5.4zM804 362.5l2.7 4.5h-5.4zM744.3 403.6l2.7 4.5h-5.4zM777.1 357l2.7 4.5h-5.4zM727.5 391.9l2.7 4.5h-5.4zM734.7 398.7l2.7 4.5h-5.4zM780.9 352.8l2.7 4.5h-5.4zM794 137.6l2.7 4.5h-5.4zM760.2 386.2l2.7 4.5h-5.4zM731.8 400.1l2.7 4.5h-5.4zM800.9 324.3l2.7 4.5h-5.4zM818.3 404.2l2.7 4.5h-5.4zM724.9 393.5l2.7 4.5h-5.4zM767.9 390.8l2.7 4.5h-5.4zM790.3 180.7l2.7 4.5h-5.4zM818.6 426.6l2.7 4.5h-5.4zM782.4 366.2l2.7 4.5h-5.4zM783.6 293l2.7 4.5h-5.4zM733.8 406.4l2.7 4.5h-5.4zM785.9 330l2.7 4.5h-5.4zM734.3 389.7l2.7 4.5h-5.4zM819.6 426.3l2.7 4.5h-5.4zM813.1 410.7l2.7 4.5h-5.4zM737.2 391.9l2.7 4.5h-5.4zM731.4 402.5l2.7 4.5h-5.4zM815 415l2.7 4.5h-5.4zM750.4 403l2.7 4.5h-5.4zM742.6 393.5l2.7 4.5h-5.4zM787.8 178l2.7 4.5h-5.4zM802.6 210.2l2.7 4.5h-5.4zM803.2 354.1l2.7 4.5h-5.4zM800.1 208.8l2.7 4.5h-5.4zM810.3 386.7l2.7 4.5h-5.4zM750.7 397.1l2.7 4.5h-5.4zM777.7 373.5l2.7 4.5h-5.4zM803.5 383.8l2.7 4.5h-5.4zM812.9 398.9l2.7 4.5h-5.4zM803 373.2l2.7 4.5h-5.4zM748.5 408l2.7 4.5h-5.4zM811.3 390.9l2.7 4.5h-5.4zM722.3 414.6l2.7 4.5h-5.4zM724.7 415.7l2.7 4.5h-5.4zM726.5 393.8l2.7 4.5h-5.4zM762.9 375.2l2.7 4.5h-5.4zM726.7 402.4l2.7 4.5h-5.4zM735.9 404l2.7 4.5h-5.4zM802.3 225.4l2.7 4.5h-5.4zM772.1 394.5l2.7 4.5h-5.4zM746.9 394.5l2.7 4.5h-5.4zM812.3 402.8l2.7 4.5h-5.4zM801.1 309.1l2.7 4.5h-5.4zM729.8 396.5l2.7 4.5h-5.4zM787.3 263.1l2.7 4.5h-5.4zM797.9 67l2.7 4.5h-5.4zM804.5 344.8l2.7 4.5h-5.4zM811.4 407.6l2.7 4.5h-5.4zM758.5 393.5l2.7 4.5h-5.4zM765.6 388.7l2.7 4.5h-5.4zM814.2 413.4l2.7 4.5h-5.4zM752.5 394.5l2.7 4.5h-5.4zM802.9 344l2.7 4.5h-5.4zM801.1 231.8l2.7 4.5h-5.4zM777 370.9l2.7 4.5h-5.4zM808.8 390.8l2.7 4.5h-5.4zM786.6 225.9l2.7 4.5h-5.4zM774.1 371.2l2.7 4.5h-5.4zM793.8 91.1l2.7 4.5h-5.4zM732.3 399l2.7 4.5h-5.4zM786.1 332.5l2.7 4.5h-5.4zM739.2 386.2l2.7 4.5h-5.4zM740.8 395.5l2.7 4.5h-5.4zM808.2 402.4l2.7 4.5h-5.4zM752.3 391.9l2.7 4.5h-5.4zM752.6 406.6l2.7 4.5h-5.4zM797.7 259.4l2.7 4.5h-5.4zM814.9 404l2.7 4.5h-5.4zM812.2 397.5l2.7 4.5h-5.4zM809 388.4l2.7 4.5h-5.4zM737.8 391.5l2.7 4.5h-5.4zM773.5 368l2.7 4.5h-5.4zM817.5 419.7l2.7 4.5h-5.4zM791.2 233.8l2.7 4.5h-5.4zM780.9 372.2l2.7 4.5h-5.4zM779.1 369.8l2.7 4.5h-5.4zM815.6 407.2l2.7 4.5h-5.4zM782 346.4l2.7 4.5h-5.4zM816.9 404l2.7 4.5h-5.4zM745.1 403.2l2.7 4.5h-5.4zM781.9 373.3l2.7 4.5h-5.4zM727.9 400.8l2.7 4.5h-5.4zM797.5 152.7l2.7 4.5h-5.4zM765.2 382.9l2.7 4.5h-5.4zM781 363l2.7 4.5h-5.4zM743.5 398.8l2.7 4.5h-5.4zM737.4 400.5l2.7 4.5h-5.4zM811.2 399.9l2.7 4.5h-5.4zM812.4 392.7l2.7 4.5h-5.4zM731.5 395.1l2.7 4.5h-5.4zM728.9 398.1l2.7 4.5h-5.4zM770.3 373l2.7 4.5h-5.4zM802.4 348l2.7 4.5h-5.4zM811.5 387l2.7 4.5h-5.4zM798.7 160.8l2.7 4.5h-5.4zM817.3 395.3l2.7 4.5h-5.4zM802.6 357.5l2.7 4.5h-5.4zM780.7 343.1l2.7 4.5h-5.4zM817.7 417.6l2.7 4.5h-5.4zM749.4 377.3l2.7 4.5h-5.4zM808.6 374.8l2.7 4.5h-5.4zM772.9 377.6l2.7 4.5h-5.4zM792.3 156.5l2.7 4.5h-5.4zM815.8 396.9l2.7 4.5h-5.4zM818.9 425.7l2.7 4.5h-5.4zM799.3 301.9l2.7 4.5h-5.4zM800.6 168.8l2.7 4.5h-5.4zM743.3 394.7l2.7 4.5h-5.4zM769 367.4l2.7 4.5h-5.4zM759.4 384.1l2.7 4.5h-5.4zM764.8 381l2.7 4.5h-5.4zM748.8 397.4l2.7 4.5h-5.4zM809 387.7l2.7 4.5h-5.4zM721.4 409.2l2.7 4.5h-5.4zM794.2 128.3l2.7 4.5h-5.4zM787.9 307.3l2.7 4.5h-5.4zM750.6 397.9l2.7 4.5h-5.4zM726.6 409.5l2.7 4.5h-5.4zM739.5 396.9l2.7 4.5h-5.4zM815.3 419.8l2.7 4.5h-5.4zM766.1 369.3l2.7 4.5h-5.4zM781.7 347.9l2.7 4.5h-5.4zM780.4 376.4l2.7 4.5h-5.4zM795.6 65.6l2.7 4.5h-5.4zM769.8 394.2l2.7 4.5h-5.4zM736.7 413.6l2.7 4.5h-5.4zM761.6 387.7l2.7 4.5h-5.4zM732.7 400.3l2.7 4.5h-5.4zM754 383.7l2.7 4.5h-5.4zM793.2 114.2l2.7 4.5h-5.4zM803.7 370.7l2.7 4.5h-5.4zM755 391.6l2.7 4.5h-5.4zM780.2 370.4l2.7 4.5h-5.4zM762.8 373.7l2.7 4.5h-5.4zM812.3 394l2.7 4.5h-5.4zM803.5 393.2l2.7 4.5h-5.4zM784.6 318.8l2.7 4.5h-5.4zM798.8 175.4l2.7 4.5h-5.4zM794.4 132.7l2.7 4.5h-5.4zM801.7 232.1l2.7 4.5h-5.4zM798.4 227.4l2.7 4.5h-5.4zM757.6 400.3l2.7 4.5h-5.4zM787 309.4l2.7 4.5h-5.4zM805.7 350.9l2.7 4.5h-5.4zM792.4 251.3l2.7 4.5h-5.4zM794.2 178.5l2.7 4.5h-5.4zM738.4 390.2l2.7 4.5h-5.4zM733.7 393.3l2.7 4.5h-5.4zM792.2 197.3l2.7 4.5h-5.4zM814.9 390.2l2.7 4.5h-5.4zM806.9 385.2l2.7 4.5h-5.4zM763.4 393.8l2.7 4.5h-5.4zM773.2 370.1l2.7 4.5h-5.4zM801.2 353.6l2.7 4.5h-5.4zM792.3 139.9l2.7 4.5h-5.4zM744.8 388.7l2.7 4.5h-5.4zM742.2 395.1l2.7 4.5h-5.4zM725.4 395.5l2.7 4.5h-5.4zM739.1 396.3l2.7 4.5h-5.4zM787.6 200.4l2.7 4.5h-5.4zM818 418.9l2.7 4.5h-5.4zM796.1 97l2.7 4.5h-5.4zM748 398.7l2.7 4.5h-5.4zM725.2 403.6l2.7 4.5h-5.4zM802.2 340.5l2.7 4.5h-5.4zM815.9 410.1l2.7 4.5h-5.4zM801.5 321.6l2.7 4.5h-5.4zM805.3 403.7l2.7 4.5h-5.4zM743.8 381.4l2.7 4.5h-5.4zM812.8 387.1l2.7 4.5h-5.4zM790.7 205.7l2.7 4.5h-5.4zM791.5 166.8l2.7 4.5h-5.4zM771.6 370.9l2.7 4.5h-5.4zM779.5 352.7l2.7 4.5h-5.4zM771.4 376.7l2.7 4.5h-5.4zM788.7 185.6l2.7 4.5h-5.4zM798.9 235l2.7 4.5h-5.4zM784.2 325.1l2.7 4.5h-5.4zM777.7 376.1l2.7 4.5h-5.4zM765.6 394l2.7 4.5h-5.4zM738.2 404.1l2.7 4.5h-5.4zM748.9 393.4l2.7 4.5h-5.4zM775.2 390l2.7 4.5h-5.4zM798 71.2l2.7 4.5h-5.4zM817.3 415.7l2.7 4.5h-5.4zM801.7 249.3l2.7 4.5h-5.4zM773 393.4l2.7 4.5h-5.4zM773 377.9l2.7 4.5h-5.4zM801.9 356.7l2.7 4.5h-5.4zM793.8 145.4l2.7 4.5h-5.4zM798.5 326.3l2.7 4.5h-5.4zM815.1 399l2.7 4.5h-5.4zM759.4 397.1l2.7 4.5h-5.4zM761.3 391.3l2.7 4.5h-5.4zM798.8 274l2.7 4.5h-5.4zM796.9 134.7l2.7 4.5h-5.4zM776.6 378.6l2.7 4.5h-5.4zM789.3 189.2l2.7 4.5h-5.4zM798.2 99.8l2.7 4.5h-5.4zM760.9 386.2l2.7 4.5h-5.4zM727.4 393l2.7 4.5h-5.4zM775.4 380.5l2.7 4.5h-5.4zM777.9 383l2.7 4.5h-5.4zM804.1 350.5l2.7 4.5h-5.4zM730.9 412.8l2.7 4.5h-5.4zM785.1 332l2.7 4.5h-5.4zM756.6 393.2l2.7 4.5h-5.4zM752.8 384.2l2.7 4.5h-5.4zM764.1 368.9l2.7 4.5h-5.4zM734.1 387.4l2.7 4.5h-5.4zM800 309.2l2.7 4.5h-5.4zM793.1 158.4l2.7 4.5h-5.4zM727 410.6l2.7 4.5h-5.4zM768.1 402.8l2.7 4.5h-5.4zM797.9 97.6l2.7 4.5h-5.4zM810.8 393.5l2.7 4.5h-5.4zM803.7 372l2.7 4.5h-5.4zM797.3 127l2.7 4.5h-5.4zM779.8 377.9l2.7 4.5h-5.4zM731 400.4l2.7 4.5h-5.4zM816.9 402.1l2.7 4.5h-5.4zM771.3 388.9l2.7 4.5h-5.4zM770.8 381.8l2.7 4.5h-5.4zM774.2 375.2l2.7 4.5h-5.4zM799.2 284.8l2.7 4.5h-5.4zM802.3 266.8l2.7 4.5h-5.4zM722 416l2.7 4.5h-5.4zM788 256.6l2.7 4.5h-5.4zM793.6 114.6l2.7 4.5h-5.4zM764.2 396.5l2.7 4.5h-5.4zM783.9 300.5l2.7 4.5h-5.4zM756 392.8l2.7 4.5h-5.4zM759 394.9l2.7 4.5h-5.4zM733.9 397.2l2.7 4.5h-5.4zM722.7 394.3l2.7 4.5h-5.4zM747.9 391.1l2.7 4.5h-5.4zM782.3 365.4l2.7 4.5h-5.4zM763.6 393.1l2.7 4.5h-5.4zM760.2 389l2.7 4.5h-5.4zM809.2 384.1l2.7 4.5h-5.4zM725 408l2.7 4.5h-5.4zM732 404l2.7 4.5h-5.4zM744.3 404.5l2.7 4.5h-5.4zM781.2 350.5l2.7 4.5h-5.4zM746.5 394.4l2.7 4.5h-5.4zM799 225.8l2.7 4.5h-5.4zM721.2 411.1l2.7 4.5h-5.4zM764.5 393.8l2.7 4.5h-5.4zM752.2 389.8l2.7 4.5h-5.4zM773.2 387.8l2.7 4.5h-5.4zM762.2 379.3l2.7 4.5h-5.4zM778.3 370.7l2.7 4.5h-5.4zM763.2 393.3l2.7 4.5h-5.4zM762.3 384l2.7 4.5h-5.4zM789.7 224.3l2.7 4.5h-5.4zM748.4 384.7l2.7 4.5h-5.4zM764.5 403.4l2.7 4.5h-5.4zM784.8 299.3l2.7 4.5h-5.4zM815.9 412.7l2.7 4.5h-5.4zM819.3 415.9l2.7 4.5h-5.4zM771 376.9l2.7 4.5h-5.4zM789.4 296l2.7 4.5h-5.4zM791.3 159l2.7 4.5h-5.4zM815.8 414.9l2.7 4.5h-5.4zM749.1 377.8l2.7 4.5h-5.4zM734.4 391.7l2.7 4.5h-5.4zM810.1 388.6l2.7 4.5h-5.4zM795 138.6l2.7 4.5h-5.4zM746.1 381.2l2.7 4.5h-5.4zM778 370.1l2.7 4.5h-5.4zM768.4 375.4l2.7 4.5h-5.4zM780.8 376.5l2.7 4.5h-5.4zM744 409.5l2.7 4.5h-5.4zM812.8 403.4l2.7 4.5h-5.4zM812.2 398.6l2.7 4.5h-5.4zM753.8 386.7l2.7 4.5h-5.4zM732.4 389.5l2.7 4.5h-5.4zM811.4 406.7l2.7 4.5h-5.4zM785.3 340.1l2.7 4.5h-5.4zM783.7 353.8l2.7 4.5h-5.4zM750.2 403.5l2.7 4.5h-5.4zM807.2 366.8l2.7 4.5h-5.4zM735.5 381.1l2.7 4.5h-5.4zM813.6 408.9l2.7 4.5h-5.4zM742.9 393.3l2.7 4.5h-5.4zM778.5 350.9l2.7 4.5h-5.4zM750.6 394.7l2.7 4.5h-5.4z" fill="#d6b8f6" opacity="1.0"/>
<path d="M719.1 408.9L719.2 408.9L719.3 408.9L719.5 408.8L719.6 408.8L719.7 408.8L719.8 408.7L720 408.7L720.1 408.7L720.2 408.6L720.3 408.6L720.5 408.6L720.6 408.5L720.7 408.5L720.8 408.4L721 408.4L721.1 408.4L721.2 408.3L721.3 408.3L721.5 408.3L721.6 408.2L721.7 408.2L721.8 408.2L722 408.1L722.1 408.1L722.2 408.1L722.3 408L722.4 408L722.6 408L722.7 407.9L722.8 407.9L722.9 407.9L723.1 407.8L723.2 407.8L723.3 407.8L723.4 407.7L723.6 407.7L723.7 407.7L723.8 407.6L723.9 407.6L724.1 407.5L724.2 407.5L724.3 407.5L724.4 407.4L724.6 407.4L724.7 407.4L724.8 407.3L724.9 407.3L725.1 407.3L725.2 407.2L725.3 407.2L725.4 407.2L725.6 407.1L725.7 407.1L725.8 407.1L725.9 407L726 407L726.2 407L726.3 406.9L726.4 406.9L726.5 406.9L726.7 406.8L726.8 406.8L726.9 406.7L727 406.7L727.2 406.7L727.3 406.6L727.4 406.6L727.5 406.6L727.7 406.5L727.8 406.5L727.9 406.5L728 406.4L728.2 406.4L728.3 406.4L728.4 406.3L728.5 406.3L728.7 406.3L728.8 406.2L728.9 406.2L729 406.2L729.1 406.1L729.3 406.1L729.4 406L729.5 406L729.6 406L729.8 405.9L729.9 405.9L730 405.9L730.1 405.8L730.3 405.8L730.4 405.8L730.5 405.7L730.6 405.7L730.8 405.7L730.9 405.6L731 405.6L731.1 405.6L731.3 405.5L731.4 405.5L731.5 405.4L731.6 405.4L731.8 405.4L731.9 405.3L732 405.3L732.1 405.3L732.2 405.2L732.4 405.2L732.5 405.2L732.6 405.1L732.7 405.1L732.9 405.1L733 405L733.1 405L733.2 404.9L733.4 404.9L733.5 404.9L733.6 404.8L733.7 404.8L733.9 404.8L734 404.7L734.1 404.7L734.2 404.7L734.4 404.6L734.5 404.6L734.6 404.6L734.7 404.5L734.9 404.5L735 404.4L735.1 404.4L735.2 404.4L735.3 404.3L735.5 404.3L735.6 404.3L735.7 404.2L735.8 404.2L736 404.2L736.1 404.1L736.2 404.1L736.3 404.1L736.5 404L736.6 404L736.7 404L736.8 403.9L737 403.9L737.1 403.9L737.2 403.8L737.3 403.8L737.5 403.8L737.6 403.7L737.7 403.7L737.8 403.7L738 403.6L738.1 403.6L738.2 403.6L738.3 403.5L738.5 403.5L738.6 403.5L738.7 403.4L738.8 403.4L738.9 403.4L739.1 403.3L739.2 403.3L739.3 403.3L739.4 403.2L739.6 403.2L739.7 403.2L739.8 403.1L739.9 403.1L740.1 403.1L740.2 403L740.3 403L740.4 403L740.6 402.9L740.7 402.9L740.8 402.9L740.9 402.8L741.1 402.8L741.2 402.8L741.3 402.7L741.4 402.7L741.6 402.7L741.7 402.6L741.8 402.6L741.9 402.6L742 402.5L742.2 402.5L742.3 402.5L742.4 402.4L742.5 402.4L742.7 402.4L742.8 402.3L742.9 402.3L743 402.3L743.2 402.2L743.3 402.2L743.4 402.2L743.5 402.1L743.7 402.1L743.8 402.1L743.9 402L744 402L744.2 402L744.3 401.9L744.4 401.9L744.5 401.9L744.7 401.8L744.8 401.8L744.9 401.8L745 401.7L745.1 401.7L745.3 401.7L745.4 401.6L745.5 401.6L745.6 401.6L745.8 401.5L745.9 401.5L746 401.4L746.1 401.4L746.3 401.4L746.4 401.3L746.5 401.3L746.6 401.3L746.8 401.2L746.9 401.2L747 401.2L747.1 401.1L747.3 401.1L747.4 401L747.5 401L747.6 401L747.8 400.9L747.9 400.9L748 400.8L748.1 400.8L748.2 400.8L748.4 400.7L748.5 400.7L748.6 400.6L748.7 400.6L748.9 400.6L749 400.5L749.1 400.5L749.2 400.4L749.4 400.4L749.5 400.4L749.6 400.3L749.7 400.3L749.9 400.2L750 400.2L750.1 400.1L750.2 400.1L750.4 400L750.5 400L750.6 400L750.7 399.9L750.9 399.9L751 399.8L751.1 399.8L751.2 399.7L751.4 399.7L751.5 399.6L751.6 399.6L751.7 399.5L751.8 399.5L752 399.4L752.1 399.4L752.2 399.3L752.3 399.3L752.5 399.2L752.6 399.2L752.7 399.1L752.8 399.1L753 399L753.1 399L753.2 398.9L753.3 398.9L753.5 398.8L753.6 398.8L753.7 398.7L753.8 398.7L754 398.6L754.1 398.6L754.2 398.5L754.3 398.4L754.5 398.4L754.6 398.3L754.7 398.3L754.8 398.2L754.9 398.2L755.1 398.1L755.2 398L755.3 398L755.4 397.9L755.6 397.9L755.7 397.8L755.8 397.7L755.9 397.7L756.1 397.6L756.2 397.6L756.3 397.5L756.4 397.4L756.6 397.4L756.7 397.3L756.8 397.2L756.9 397.2L757.1 397.1L757.2 397L757.3 397L757.4 396.9L757.6 396.9L757.7 396.8L757.8 396.7L757.9 396.7L758 396.6L758.2 396.5L758.3 396.4L758.4 396.4L758.5 396.3L758.7 396.2L758.8 396.2L758.9 396.1L759 396L759.2 396L759.3 395.9L759.4 395.8L759.5 395.7L759.7 395.7L759.8 395.6L759.9 395.5L760 395.4L760.2 395.4L760.3 395.3L760.4 395.2L760.5 395.1L760.7 395.1L760.8 395L760.9 394.9L761 394.8L761.1 394.7L761.3 394.7L761.4 394.6L761.5 394.5L761.6 394.4L761.8 394.3L761.9 394.3L762 394.2L762.1 394.1L762.3 394L762.4 393.9L762.5 393.8L762.6 393.8L762.8 393.7L762.9 393.6L763 393.5L763.1 393.4L763.3 393.3L763.4 393.2L763.5 393.1L763.6 393.1L763.8 393L763.9 392.9L764 392.8L764.1 392.7L764.3 392.6L764.4 392.5L764.5 392.4L764.6 392.3L764.7 392.2L764.9 392.1L765 392L765.1 391.9L765.2 391.8L765.4 391.8L765.5 391.7L765.6 391.6L765.7 391.5L765.9 391.4L766 391.3L766.1 391.2L766.2 391.1L766.4 390.9L766.5 390.8L766.6 390.7L766.7 390.6L766.9 390.5L767 390.4L767.1 390.3L767.2 390.2L767.4 390.1L767.5 390L767.6 389.9L767.7 389.8L767.8 389.6L768 389.5L768.1 389.4L768.2 389.3L768.3 389.2L768.5 389L768.6 388.9L768.7 388.8L768.8 388.7L769 388.5L769.1 388.4L769.2 388.3L769.3 388.2L769.5 388L769.6 387.9L769.7 387.7L769.8 387.6L770 387.5L770.1 387.3L770.2 387.2L770.3 387L770.5 386.9L770.6 386.7L770.7 386.6L770.8 386.4L770.9 386.3L771.1 386.1L771.2 386L771.3 385.8L771.4 385.6L771.6 385.5L771.7 385.3L771.8 385.1L771.9 385L772.1 384.8L772.2 384.6L772.3 384.4L772.4 384.2L772.6 384.1L772.7 383.9L772.8 383.7L772.9 383.5L773.1 383.3L773.2 383.1L773.3 382.9L773.4 382.7L773.6 382.5L773.7 382.3L773.8 382.1L773.9 381.9L774 381.6L774.2 381.4L774.3 381.2L774.4 381L774.5 380.7L774.7 380.5L774.8 380.2L774.9 380L775 379.8L775.2 379.5L775.3 379.2L775.4 379L775.5 378.7L775.7 378.4L775.8 378.2L775.9 377.9L776 377.6L776.2 377.3L776.3 377L776.4 376.7L776.5 376.4L776.7 376.1L776.8 375.8L776.9 375.5L777 375.1L777.2 374.8L777.3 374.5L777.4 374.1L777.5 373.8L777.6 373.4L777.8 373.1L777.9 372.7L778 372.3L778.1 371.9L778.3 371.5L778.4 371.1L778.5 370.7L778.6 370.3L778.8 369.9L778.9 369.4L779 369L779.1 368.5L779.3 368.1L779.4 367.6L779.5 367.2L779.6 366.7L779.8 366.2L779.9 365.7L780 365.2L780.1 364.6L780.3 364.1L780.4 363.6L780.5 363L780.6 362.4L780.7 361.8L780.9 361.2L781 360.5L781.1 359.8L781.2 359.1L781.4 358.4L781.5 357.6L781.6 356.8L781.7 355.9L781.9 355L782 354.1L782.1 353.2L782.2 352.2L782.4 351.2L782.5 350.2L782.6 349.1L782.7 348L782.9 346.9L783 345.7L783.1 344.5L783.2 343.3L783.4 342L783.5 340.7L783.6 339.4L783.7 338L783.8 336.6L784 335.2L784.1 333.7L784.2 332.2L784.3 330.6L784.5 329L784.6 327.4L784.7 325.8L784.8 324.1L785 322.3L785.1 320.6L785.2 318.7L785.3 316.9L785.5 315L785.6 313.1L785.7 311.1L785.8 309.1L786 306.9L786.1 304.5L786.2 302L786.3 299.4L786.5 296.7L786.6 293.8L786.7 290.8L786.8 287.7L786.9 284.4L787.1 281.1L787.2 277.6L787.3 274L787.4 270.3L787.6 266.5L787.7 262.6L787.8 258.6L787.9 254.6L788.1 250.5L788.2 246.3L788.3 242L788.4 237.7L788.6 233.4L788.7 229L788.8 224.6L788.9 220.3L789.1 215.9L789.2 211.6L789.3 207.3L789.4 203L789.6 198.6L789.7 194.1L789.8 189.5L789.9 184.8L790.1 180L790.2 175.2L790.3 170.3L790.4 165.4L790.5 160.4L790.7 155.5L790.8 150.6L790.9 145.7L791 140.9L791.2 136.1L791.3 131.4L791.4 126.8L791.5 122.4L791.7 118.1L791.8 114L791.9 110L792 106.1L792.2 102.2L792.3 98.5L792.4 94.8L792.5 91.1L792.7 87.6L792.8 84.2L792.9 80.9L793 77.7L793.2 74.7L793.3 71.8L793.4 69L793.6 70.5L793.8 72.1L794 73.7L794.2 75.2L794.5 76.8L794.7 78.3L794.8 79.8L795 81.4L795.2 82.9L795.3 84.4L795.4 85.9L795.5 87.4L795.6 88.9L795.7 90.4L795.7 91.9L795.8 93.4L795.9 94.8L795.9 96.3L796 97.8L796.1 99.2L796.1 100.7L796.2 102.1L796.2 103.6L796.3 105L796.3 106.4L796.4 107.8L796.4 109.2L796.5 110.6L796.5 112.1L796.6 113.4L796.6 114.8L796.7 116.2L796.7 117.6L796.7 119L796.8 120.3L796.8 121.7L796.9 123.1L796.9 124.4L796.9 125.8L797 127.1L797 128.4L797 129.8L797.1 131.1L797.1 132.4L797.1 133.7L797.1 135L797.2 136.3L797.2 137.6L797.2 138.9L797.3 140.2L797.3 141.5L797.3 142.8L797.3 144.1L797.4 145.3L797.4 146.6L797.4 147.8L797.5 149.1L797.5 150.3L797.5 151.6L797.5 152.8L797.6 154.1L797.6 155.3L797.6 156.5L797.7 157.7L797.7 158.9L797.7 160.1L797.7 161.3L797.8 162.5L797.8 163.7L797.8 164.9L797.8 166.1L797.9 167.3L797.9 168.4L797.9 169.6L798 170.8L798 171.9L798 173.1L798 174.2L798.1 175.4L798.1 176.5L798.1 177.7L798.1 178.8L798.2 179.9L798.2 181L798.2 182.2L798.2 183.3L798.3 184.4L798.3 185.5L798.3 186.6L798.3 187.7L798.3 188.8L798.4 189.9L798.4 190.9L798.4 192L798.4 193.1L798.5 194.2L798.5 195.2L798.5 196.3L798.5 197.3L798.5 198.4L798.6 199.4L798.6 200.5L798.6 201.5L798.6 202.5L798.7 203.6L798.7 204.6L798.7 205.6L798.7 206.6L798.7 207.7L798.8 208.7L798.8 209.7L798.8 210.7L798.8 211.7L798.8 212.7L798.9 213.6L798.9 214.6L798.9 215.6L798.9 216.6L798.9 217.6L799 218.5L799 219.5L799 220.5L799 221.4L799 222.4L799.1 223.3L799.1 224.3L799.1 225.2L799.1 226.1L799.1 227.1L799.1 228L799.2 228.9L799.2 229.9L799.2 230.8L799.2 231.7L799.2 232.6L799.3 233.5L799.3 234.4L799.3 235.3L799.3 236.2L799.3 237.1L799.3 238L799.4 238.9L799.4 239.8L799.4 240.6L799.4 241.5L799.4 242.4L799.4 243.3L799.5 244.1L799.5 245L799.5 245.8L799.5 246.7L799.5 247.6L799.5 248.4L799.6 249.2L799.6 250.1L799.6 250.9L799.6 251.8L799.6 252.6L799.7 253.4L799.7 254.2L799.7 255.1L799.7 255.9L799.7 256.7L799.7 257.5L799.8 258.3L799.8 259.1L799.8 259.9L799.8 260.7L799.8 261.5L799.8 262.3L799.9 263.1L799.9 263.9L799.9 264.7L799.9 265.4L799.9 266.2L799.9 267L800 267.7L800 268.5L800 269.3L800 270L800 270.8L800 271.5L800.1 272.3L800.1 273L800.1 273.8L800.1 274.5L800.1 275.3L800.1 276L800.2 276.7L800.2 277.5L800.2 278.2L800.2 278.9L800.2 279.6L800.2 280.4L800.3 281.1L800.3 281.8L800.3 282.5L800.3 283.2L800.3 283.9L800.4 284.6L800.4 285.3L800.4 286L800.4 286.7L800.4 287.4L800.4 288.1L800.5 288.7L800.5 289.4L800.5 290.1L800.5 290.8L800.5 291.4L800.6 292.1L800.6 292.8L800.6 293.4L800.6 294.1L800.6 294.8L800.7 295.4L800.7 296.1L800.7 296.7L800.7 297.4L800.7 298L800.8 298.7L800.8 299.3L800.8 299.9L800.8 300.6L800.8 301.2L800.9 301.8L800.9 302.5L800.9 303.1L800.9 303.7L800.9 304.3L801 305L801 305.6L801 306.2L801 306.8L801.1 307.4L801.1 308L801.1 308.6L801.1 309.2L801.1 309.8L801.2 310.4L801.2 311L801.2 311.6L801.2 312.2L801.3 312.8L801.3 313.3L801.3 313.9L801.3 314.5L801.4 315.1L801.4 315.7L801.4 316.2L801.4 316.8L801.4 317.4L801.5 317.9L801.5 318.5L801.5 319L801.5 319.6L801.6 320.2L801.6 320.7L801.6 321.3L801.6 321.8L801.7 322.4L801.7 322.9L801.7 323.4L801.7 324L801.7 324.5L801.8 325.1L801.8 325.6L801.8 326.1L801.8 326.7L801.9 327.2L801.9 327.7L801.9 328.2L801.9 328.7L802 329.3L802 329.8L802 330.3L802 330.8L802.1 331.3L802.1 331.8L802.1 332.3L802.1 332.8L802.2 333.3L802.2 333.8L802.2 334.3L802.2 334.8L802.2 335.3L802.3 335.8L802.3 336.3L802.3 336.8L802.3 337.3L802.4 337.8L802.4 338.3L802.4 338.7L802.4 339.2L802.5 339.7L802.5 340.2L802.5 340.6L802.5 341.1L802.6 341.6L802.6 342L802.6 342.5L802.6 343L802.7 343.4L802.7 343.9L802.7 344.3L802.7 344.8L802.8 345.3L802.8 345.7L802.8 346.2L802.8 346.6L802.9 347L802.9 347.5L802.9 347.9L803 348.4L803 348.8L803 349.2L803 349.7L803.1 350.1L803.1 350.6L803.1 351L803.1 351.4L803.2 351.8L803.2 352.3L803.2 352.7L803.3 353.1L803.3 353.5L803.3 353.9L803.3 354.4L803.4 354.8L803.4 355.2L803.4 355.6L803.4 356L803.5 356.4L803.5 356.8L803.5 357.2L803.6 357.6L803.6 358L803.6 358.4L803.6 358.8L803.7 359.2L803.7 359.6L803.7 360L803.8 360.4L803.8 360.8L803.8 361.2L803.9 361.6L803.9 362L803.9 362.3L803.9 362.7L804 363.1L804 363.5L804 363.9L804.1 364.2L804.1 364.6L804.1 365L804.2 365.4L804.2 365.7L804.2 366.1L804.3 366.5L804.3 366.8L804.3 367.2L804.3 367.6L804.4 367.9L804.4 368.3L804.4 368.6L804.5 369L804.5 369.4L804.5 369.7L804.6 370.1L804.6 370.4L804.6 370.8L804.7 371.1L804.7 371.5L804.7 371.8L804.8 372.1L804.8 372.5L804.9 372.8L804.9 373.2L804.9 373.5L805 373.8L805 374.2L805 374.5L805.1 374.8L805.1 375.2L805.1 375.5L805.2 375.8L805.2 376.2L805.3 376.5L805.3 376.8L805.3 377.1L805.4 377.5L805.4 377.8L805.4 378.1L805.5 378.4L805.5 378.7L805.6 379.1L805.6 379.4L805.6 379.7L805.7 380L805.7 380.3L805.8 380.6L805.8 380.9L805.9 381.2L805.9 381.5L805.9 381.8L806 382.1L806 382.4L806.1 382.7L806.1 383L806.2 383.3L806.2 383.6L806.2 383.9L806.3 384.2L806.3 384.5L806.4 384.8L806.4 385.1L806.5 385.4L806.5 385.7L806.6 386L806.6 386.3L806.7 386.6L806.7 386.8L806.8 387.1L806.8 387.4L806.9 387.7L806.9 388L807 388.2L807 388.5L807.1 388.8L807.1 389.1L807.2 389.3L807.2 389.6L807.3 389.9L807.3 390.2L807.4 390.4L807.4 390.7L807.5 391L807.5 391.2L807.6 391.5L807.7 391.8L807.7 392L807.8 392.3L807.8 392.5L807.9 392.8L807.9 393.1L808 393.3L808.1 393.6L808.1 393.8L808.2 394.1L808.2 394.3L808.3 394.6L808.4 394.8L808.4 395.1L808.5 395.3L808.6 395.6L808.6 395.8L808.7 396.1L808.8 396.3L808.8 396.6L808.9 396.8L809 397.1L809.1 397.3L809.1 397.6L809.2 397.8L809.3 398L809.4 398.3L809.4 398.5L809.5 398.7L809.6 399L809.7 399.2L809.7 399.4L809.8 399.7L809.9 399.9L810 400.1L810.1 400.4L810.1 400.6L810.2 400.8L810.3 401L810.4 401.3L810.5 401.5L810.5 401.7L810.6 401.9L810.7 402.2L810.8 402.4L810.9 402.6L810.9 402.8L811 403L811.1 403.3L811.2 403.5L811.2 403.7L811.3 403.9L811.4 404.1L811.5 404.3L811.5 404.5L811.6 404.8L811.7 405L811.8 405.2L811.8 405.4L811.9 405.6L812 405.8L812.1 406L812.1 406.2L812.2 406.4L812.3 406.6L812.4 406.8L812.4 407L812.5 407.2L812.6 407.4L812.7 407.6L812.7 407.8L812.8 408L812.9 408.2L813 408.4L813 408.6L813.1 408.8L813.2 409L813.3 409.2L813.3 409.4L813.4 409.6L813.5 409.8L813.6 410L813.6 410.2L813.7 410.3L813.8 410.5L813.9 410.7L813.9 410.9L814 411.1L814.1 411.3L814.2 411.5L814.2 411.6L814.3 411.8L814.4 412L814.5 412.2L814.5 412.4L814.6 412.5L814.7 412.7L814.7 412.9L814.8 413.1L814.9 413.3L815 413.4L815 413.6L815.1 413.8L815.2 414L815.3 414.1L815.3 414.3L815.4 414.5L815.5 414.6L815.6 414.8L815.6 415L815.7 415.2L815.8 415.3L815.9 415.5L815.9 415.7L816 415.8L816.1 416L816.2 416.2L816.2 416.3L816.3 416.5L816.4 416.6L816.5 416.8L816.5 417L816.6 417.1L816.7 417.3L816.8 417.5L816.8 417.6L816.9 417.8L817 417.9L817.1 418.1L817.1 418.2L817.2 418.4L817.3 418.6L817.4 418.7L817.4 418.9L817.5 419L817.6 419.2L817.7 419.3L817.7 419.5L817.8 419.6L817.9 419.8L818 419.9L818 420.1L818.1 420.2L818.2 420.4L818.3 420.5L818.3 420.7L818.4 420.8L818.5 421L818.6 421.1L818.6 421.2L818.7 421.4L818.8 421.5L818.9 421.7L818.9 421.8L819 422L819.1 422.1L819.2 422.2L819.2 422.4L819.3 422.5L819.4 422.7" stroke="#7f00ff" stroke-width="1.5" fill="none" stroke-linejoin="round"/>
<path d="M199.6 868.5l2.3 3.9h-4.7zM153.6 991.8l2.3 3.9h-4.7zM241.3 993.2l2.3 3.9h-4.7zM229.6 972.1l2.3 3.9h-4.7zM193 968.3l2.3 3.9h-4.7zM250.5 989.7l2.3 3.9h-4.7zM212.3 726.8l2.3 3.9h-4.7zM168.7 987.7l2.3 3.9h-4.7zM153.8 991.3l2.3 3.9h-4.7zM260.5 995.5l2.3 3.9h-4.7zM226.3 969l2.3 3.9h-4.7zM227.7 968.3l2.3 3.9h-4.7zM235.1 986.8l2.3 3.9h-4.7zM191.8 966.3l2.3 3.9h-4.7zM180 990.3l2.3 3.9h-4.7zM202.8 690.9l2.3 3.9h-4.7zM172 992.4l2.3 3.9h-4.7zM211.4 668.1l2.3 3.9h-4.7zM179.6 979.7l2.3 3.9h-4.7zM144.1 994.7l2.3 3.9h-4.7zM158 996.4l2.3 3.9h-4.7zM265.7 997l2.3 3.9h-4.7zM217.7 918.4l2.3 3.9h-4.7zM239.6 985.7l2.3 3.9h-4.7zM158.6 999.6l2.3 3.9h-4.7zM182.4 980.1l2.3 3.9h-4.7zM224.6 979.9l2.3 3.9h-4.7zM173.9 986l2.3 3.9h-4.7zM211.6 842.7l2.3 3.9h-4.7zM147 995.9l2.3 3.9h-4.7zM202.6 823.7l2.3 3.9h-4.7zM171.3 981.9l2.3 3.9h-4.7zM158.4 995.5l2.3 3.9h-4.7zM252.9 989.1l2.3 3.9h-4.7zM184 979.1l2.3 3.9h-4.7zM170.5 990.3l2.3 3.9h-4.7zM214.7 871.5l2.3 3.9h-4.7zM214.7 881.1l2.3 3.9h-4.7zM180.2 989.3l2.3 3.9h-4.7zM211.1 739.8l2.3 3.9h-4.7zM264.1 1002l2.3 3.9h-4.7zM158.2 988.2l2.3 3.9h-4.7zM161.3 996.1l2.3 3.9h-4.7zM151.8 996.6l2.3 3.9h-4.7zM206.8 728.1l2.3 3.9h-4.7zM171.7 991.5l2.3 3.9h-4.7zM260.9 993.7l2.3 3.9h-4.7zM259.7 1005.1l2.3 3.9h-4.7zM239.8 985.6l2.3 3.9h-4.7zM192.4 966.4l2.3 3.9h-4.7zM205.9 641.3l2.3 3.9h-4.7zM168.2 987.8l2.3 3.9h-4.7zM250 988.8l2.3 3.9h-4.7zM240.4 985.2l2.3 3.9h-4.7zM194.7 928.8l2.3 3.9h-4.7zM159.4 1000.1l2.3 3.9h-4.7zM224.4 959.3l2.3 3.9h-4.7zM255.3 990.5l2.3 3.9h-4.7zM265.2 1003.4l2.3 3.9h-4.7zM228 971.2l2.3 3.9h-4.7zM197.9 918.7l2.3 3.9h-4.7zM270.1 990.1l2.3 3.9h-4.7zM247.6 992l2.3 3.9h-4.7zM238.3 984.7l2.3 3.9h-4.7zM182.3 977.4l2.3 3.9h-4.7zM268.7 997.3l2.3 3.9h-4.7zM213.1 786.1l2.3 3.9h-4.7zM265.8 994.2l2.3 3.9h-4.7zM145.8 999.2l2.3 3.9h-4.7zM215.2 900.3l2.3 3.9h-4.7zM213 843l2.3 3.9h-4.7zM259.5 988.2l2.3 3.9h-4.7zM255.2 999.7l2.3 3.9h-4.7zM229.6 986l2.3 3.9h-4.7zM192.8 939.7l2.3 3.9h-4.7zM231.2 975.9l2.3 3.9h-4.7zM174.4 980.9l2.3 3.9h-4.7zM233.6 979.9l2.3 3.9h-4.7zM207.9 693l2.3 3.9h-4.7zM187.2 970.2l2.3 3.9h-4.7zM222.6 962.8l2.3 3.9h-4.7zM213.2 896.7l2.3 3.9h-4.7zM161.8 1001.5l2.3 3.9h-4.7zM264.6 994.7l2.3 3.9h-4.7zM178 974.7l2.3 3.9h-4.7zM247.8 986.6l2.3 3.9h-4.7zM259.9 1001.3l2.3 3.9h-4.7zM207.9 668.8l2.3 3.9h-4.7zM261.7 1001.3l2.3 3.9h-4.7zM265.1 998.2l2.3 3.9h-4.7zM150 995.6l2.3 3.9h-4.7zM206.5 680.9l2.3 3.9h-4.7zM233.7 985l2.3 3.9h-4.7zM267.7 997.6l2.3 3.9h-4.7zM242.1 987.5l2.3 3.9h-4.7zM269.9 995.7l2.3 3.9h-4.7zM208.9 670.9l2.3 3.9h-4.7zM232.6 973.7l2.3 3.9h-4.7zM166.5 990.6l2.3 3.9h-4.7zM196.2 916.1l2.3 3.9h-4.7zM171.1 984.2l2.3 3.9h-4.7zM264.7 995.9l2.3 3.9h-4.7zM244.6 992.4l2.3 3.9h-4.7zM260.7 1005.1l2.3 3.9h-4.7zM188.9 967.8l2.3 3.9h-4.7zM240 982.8l2.3 3.9h-4.7zM169.4 984.1l2.3 3.9h-4.7zM211.9 851.8l2.3 3.9h-4.7zM222.5 961.2l2.3 3.9h-4.7zM223.5 974.7l2.3 3.9h-4.7zM252.6 992.4l2.3 3.9h-4.7zM172.9 984.4l2.3 3.9h-4.7zM242.6 991.7l2.3 3.9h-4.7zM210.4 817.1l2.3 3.9h-4.7zM183.5 973.8l2.3 3.9h-4.7zM253.7 988.3l2.3 3.9h-4.7zM173.2 993.3l2.3 3.9h-4.7zM182.1 977.3l2.3 3.9h-4.7zM182.2 972.9l2.3 3.9h-4.7zM224.9 970.2l2.3 3.9h-4.7zM159.9 995.6l2.3 3.9h-4.7zM250.4 993.7l2.3 3.9h-4.7zM191.1 962.7l2.3 3.9h-4.7zM167.1 991.7l2.3 3.9h-4.7zM166.9 999.8l2.3 3.9h-4.7zM258.9 992l2.3 3.9h-4.7zM234.5 971.3l2.3 3.9h-4.7zM213.2 808.2l2.3 3.9h-4.7zM200.6 757.5l2.3 3.9h-4.7zM263.9 994.1l2.3 3.9h-4.7zM147.7 996.9l2.3 3.9h-4.7zM207.4 699.6l2.3 3.9h-4.7zM238.4 983.2l2.3 3.9h-4.7zM262.8 995.6l2.3 3.9h-4.7zM228.1 967.9l2.3 3.9h-4.7zM227.8 972l2.3 3.9h-4.7zM251.5 990.2l2.3 3.9h-4.7zM254.4 1002.9l2.3 3.9h-4.7zM191.8 963.8l2.3 3.9h-4.7zM187.1 970.9l2.3 3.9h-4.7zM187.1 971.5l2.3 3.9h-4.7zM268.9 990.3l2.3 3.9h-4.7zM159.5 994.4l2.3 3.9h-4.7zM218.1 927.5l2.3 3.9h-4.7zM188.9 978.8l2.3 3.9h-4.7zM235.3 980.8l2.3 3.9h-4.7zM244.9 985.7l2.3 3.9h-4.7zM162.5 997.4l2.3 3.9h-4.7zM227.4 983.7l2.3 3.9h-4.7zM157.5 999.4l2.3 3.9h-4.7zM144.5 996.7l2.3 3.9h-4.7zM148.1 989.2l2.3 3.9h-4.7zM261.6 1000.9l2.3 3.9h-4.7zM166.1 989.9l2.3 3.9h-4.7zM266.4 993.8l2.3 3.9h-4.7zM207.7 671.2l2.3 3.9h-4.7zM172.9 991l2.3 3.9h-4.7zM258.9 992.2l2.3 3.9h-4.7zM210.6 730.8l2.3 3.9h-4.7zM171.7 996.8l2.3 3.9h-4.7zM179.8 980.8l2.3 3.9h-4.7zM162.1 997.4l2.3 3.9h-4.7zM241.6 998.7l2.3 3.9h-4.7zM222.7 957.9l2.3 3.9h-4.7zM252.2 989.8l2.3 3.9h-4.7zM169.3 987.2l2.3 3.9h-4.7zM248.1 996.5l2.3 3.9h-4.7zM253.6 997.4l2.3 3.9h-4.7zM149.4 1003.4l2.3 3.9h-4.7zM204.1 761.6l2.3 3.9h-4.7zM255.1 995.9l2.3 3.9h-4.7zM146.2 996.8l2.3 3.9h-4.7zM159.5 987.7l2.3 3.9h-4.7zM257.3 997.5l2.3 3.9h-4.7zM205.6 688.2l2.3 3.9h-4.7zM191.1 970.3l2.3 3.9h-4.7zM269 989.8l2.3 3.9h-4.7zM167.8 985.4l2.3 3.9h-4.7zM236.8 996.2l2.3 3.9h-4.7zM213.7 928.3l2.3 3.9h-4.7zM210.6 692.4l2.3 3.9h-4.7zM254.3 985.8l2.3 3.9h-4.7zM259.9 992.5l2.3 3.9h-4.7zM251.1 985.7l2.3 3.9h-4.7zM216.4 937.3l2.3 3.9h-4.7zM181.2 979.9l2.3 3.9h-4.7zM165 988.2l2.3 3.9h-4.7zM149.2 997.2l2.3 3.9h-4.7zM198 898.2l2.3 3.9h-4.7zM261.4 996.5l2.3 3.9h-4.7zM178.7 985.8l2.3 3.9h-4.7zM146.6 988.4l2.3 3.9h-4.7zM238.4 988l2.3 3.9h-4.7zM214.7 917.1l2.3 3.9h-4.7zM164.1 1001.7l2.3 3.9h-4.7zM190.7 956.8l2.3 3.9h-4.7zM191.1 961.5l2.3 3.9h-4.7zM242 985.4l2.3 3.9h-4.7zM143.9 997.1l2.3 3.9h-4.7zM176 983.8l2.3 3.9h-4.7zM219.7 948.2l2.3 3.9h-4.7zM211.7 731.7l2.3 3.9h-4.7zM179.8 978.5l2.3 3.9h-4.7zM217.2 923l2.3 3.9h-4.7zM225.7 966.9l2.3 3.9h-4.7zM230.9 976.4l2.3 3.9h-4.7zM167.5 987.5l2.3 3.9h-4.7zM248.6 995.3l2.3 3.9h-4.7zM144.8 988.5l2.3 3.9h-4.7zM203.4 685.1l2.3 3.9h-4.7zM186.5 982.5l2.3 3.9h-4.7zM213.1 869.6l2.3 3.9h-4.7zM267.5 996.2l2.3 3.9h-4.7zM267.4 997.1l2.3 3.9h-4.7zM202.8 761.9l2.3 3.9h-4.7zM228.5 984.5l2.3 3.9h-4.7zM228.3 979l2.3 3.9h-4.7zM176.7 984.4l2.3 3.9h-4.7zM156.2 991l2.3 3.9h-4.7zM196.5 933.7l2.3 3.9h-4.7zM194.4 946.1l2.3 3.9h-4.7zM237.9 990.4l2.3 3.9h-4.7zM148 997.5l2.3 3.9h-4.7zM180.9 982.2l2.3 3.9h-4.7zM221.9 950.4l2.3 3.9h-4.7zM270 1001.1l2.3 3.9h-4.7zM161.6 992.2l2.3 3.9h-4.7zM187.9 982.2l2.3 3.9h-4.7zM264.9 997l2.3 3.9h-4.7zM163.9 984.5l2.3 3.9h-4.7zM219.7 956.2l2.3 3.9h-4.7zM219.1 933.1l2.3 3.9h-4.7zM266.7 990.9l2.3 3.9h-4.7zM214.1 792.5l2.3 3.9h-4.7zM269.3 994.9l2.3 3.9h-4.7zM223.1 962.4l2.3 3.9h-4.7zM171.5 993.9l2.3 3.9h-4.7zM227.7 989.3l2.3 3.9h-4.7zM263.8 998l2.3 3.9h-4.7zM192.9 968.6l2.3 3.9h-4.7zM228.5 973.9l2.3 3.9h-4.7zM158.9 1003l2.3 3.9h-4.7zM173 978.7l2.3 3.9h-4.7zM188.3 961.7l2.3 3.9h-4.7zM251.2 996.5l2.3 3.9h-4.7zM213.5 891.7l2.3 3.9h-4.7zM176.9 982.3l2.3 3.9h-4.7zM189.8 973.5l2.3 3.9h-4.7zM196.3 937.4l2.3 3.9h-4.7zM254.3 1001.6l2.3 3.9h-4.7zM250.7 1000.4l2.3 3.9h-4.7zM264.8 994.6l2.3 3.9h-4.7zM238.9 994.6l2.3 3.9h-4.7zM147.9 1006.1l2.3 3.9h-4.7zM167.2 989.1l2.3 3.9h-4.7zM254.6 991.7l2.3 3.9h-4.7zM207.5 685.8l2.3 3.9h-4.7zM198.5 913.9l2.3 3.9h-4.7zM262.5 989.1l2.3 3.9h-4.7zM226.2 975.6l2.3 3.9h-4.7zM239.9 983.6l2.3 3.9h-4.7zM268.1 1003.3l2.3 3.9h-4.7zM237 993.6l2.3 3.9h-4.7zM213.7 784.2l2.3 3.9h-4.7zM216.7 922.7l2.3 3.9h-4.7zM143.3 1001.9l2.3 3.9h-4.7zM259 998.6l2.3 3.9h-4.7zM204.2 726.7l2.3 3.9h-4.7zM181.3 972.8l2.3 3.9h-4.7zM178.4 983.3l2.3 3.9h-4.7zM167.8 990.4l2.3 3.9h-4.7zM164.4 988.6l2.3 3.9h-4.7zM168.7 988.4l2.3 3.9h-4.7zM234.5 973.6l2.3 3.9h-4.7zM183.6 984.5l2.3 3.9h-4.7zM223.7 965.2l2.3 3.9h-4.7zM264.5 995.3l2.3 3.9h-4.7zM232.2 986.8l2.3 3.9h-4.7zM257.4 995.5l2.3 3.9h-4.7zM189.4 971.1l2.3 3.9h-4.7zM257.5 997.2l2.3 3.9h-4.7zM201.8 882.5l2.3 3.9h-4.7zM164.8 986.9l2.3 3.9h-4.7zM263.3 995.4l2.3 3.9h-4.7zM255.6 995.5l2.3 3.9h-4.7zM220.5 954.9l2.3 3.9h-4.7zM177.8 986.5l2.3 3.9h-4.7zM228.9 976l2.3 3.9h-4.7zM170.2 987.4l2.3 3.9h-4.7zM269.6 1000.9l2.3 3.9h-4.7zM146.1 997.4l2.3 3.9h-4.7zM145.8 997.3l2.3 3.9h-4.7zM249.3 991.3l2.3 3.9h-4.7zM245.1 992.7l2.3 3.9h-4.7zM260.3 996.3l2.3 3.9h-4.7zM177.4 987.6l2.3 3.9h-4.7zM195.9 933.6l2.3 3.9h-4.7zM200.1 890.3l2.3 3.9h-4.7zM145.3 1004.3l2.3 3.9h-4.7zM260.1 993.1l2.3 3.9h-4.7zM142.6 995.6l2.3 3.9h-4.7zM268.3 1001.1l2.3 3.9h-4.7zM146.7 1001.2l2.3 3.9h-4.7zM251.9 997.3l2.3 3.9h-4.7zM231.3 988.2l2.3 3.9h-4.7zM165.7 998.9l2.3 3.9h-4.7zM161 991.7l2.3 3.9h-4.7zM197.8 929.6l2.3 3.9h-4.7zM176.4 980.2l2.3 3.9h-4.7zM221.4 956.5l2.3 3.9h-4.7zM171.5 988.2l2.3 3.9h-4.7zM145.4 1003l2.3 3.9h-4.7zM175 978.2l2.3 3.9h-4.7zM144.4 997.9l2.3 3.9h-4.7zM197.5 958.8l2.3 3.9h-4.7zM217.7 917.2l2.3 3.9h-4.7zM162.5 994.7l2.3 3.9h-4.7zM264.6 994.4l2.3 3.9h-4.7zM257.6 1000.1l2.3 3.9h-4.7zM180.9 983.2l2.3 3.9h-4.7zM171.9 991l2.3 3.9h-4.7zM170.1 982.6l2.3 3.9h-4.7zM174.1 990.2l2.3 3.9h-4.7zM252.5 992.1l2.3 3.9h-4.7zM229.8 972.2l2.3 3.9h-4.7zM265.1 1000.7l2.3 3.9h-4.7zM221.7 964.6l2.3 3.9h-4.7zM258.8 996.3l2.3 3.9h-4.7zM265.3 989.4l2.3 3.9h-4.7zM219.2 937.9l2.3 3.9h-4.7zM146.9 1000.4l2.3 3.9h-4.7zM212.2 809.5l2.3 3.9h-4.7zM184.7 981.1l2.3 3.9h-4.7zM241.3 989.6l2.3 3.9h-4.7zM235.3 984.4l2.3 3.9h-4.7zM152.7 993.3l2.3 3.9h-4.7zM255 998.5l2.3 3.9h-4.7zM227.6 976.3l2.3 3.9h-4.7zM191.2 958l2.3 3.9h-4.7zM148.8 996.1l2.3 3.9h-4.7zM248.7 996.6l2.3 3.9h-4.7zM164.6 994.6l2.3 3.9h-4.7zM184.5 985.5l2.3 3.9h-4.7zM156.2 988l2.3 3.9h-4.7zM189 959.9l2.3 3.9h-4.7zM255.9 989.3l2.3 3.9h-4.7zM210.7 711.5l2.3 3.9h-4.7zM179.3 993.9l2.3 3.9h-4.7zM216.2 925.7l2.3 3.9h-4.7zM208.8 740l2.3 3.9h-4.7zM216.2 861.6l2.3 3.9h-4.7zM236.9 987.8l2.3 3.9h-4.7zM223.2 960l2.3 3.9h-4.7zM196.4 927.1l2.3 3.9h-4.7zM151.1 988.6l2.3 3.9h-4.7zM266.3 1003.2l2.3 3.9h-4.7zM261.6 997.5l2.3 3.9h-4.7zM170.4 989.9l2.3 3.9h-4.7zM195.1 940.7l2.3 3.9h-4.7zM175.3 989.2l2.3 3.9h-4.7zM261.8 994.8l2.3 3.9h-4.7zM187.9 961.7l2.3 3.9h-4.7zM194.2 937.7l2.3 3.9h-4.7zM219.9 947.4l2.3 3.9h-4.7zM152.6 1001.2l2.3 3.9h-4.7zM150.8 989.6l2.3 3.9h-4.7zM241.2 980.3l2.3 3.9h-4.7zM194.7 951.5l2.3 3.9h-4.7zM206 683.4l2.3 3.9h-4.7zM201.3 864.3l2.3 3.9h-4.7zM158.2 999.3l2.3 3.9h-4.7zM206.9 662l2.3 3.9h-4.7zM199.1 880.2l2.3 3.9h-4.7zM175.1 982.7l2.3 3.9h-4.7zM233.9 974.1l2.3 3.9h-4.7zM193.4 965.5l2.3 3.9h-4.7zM155.7 996l2.3 3.9h-4.7zM154.6 989.3l2.3 3.9h-4.7zM233.6 970.4l2.3 3.9h-4.7zM156.8 994.6l2.3 3.9h-4.7zM182.5 971.2l2.3 3.9h-4.7zM206.1 707.4l2.3 3.9h-4.7zM205.9 716.6l2.3 3.9h-4.7zM173.2 984.8l2.3 3.9h-4.7zM270.5 993.3l2.3 3.9h-4.7zM245.7 990.1l2.3 3.9h-4.7zM230.5 973.5l2.3 3.9h-4.7zM253.3 989.6l2.3 3.9h-4.7zM210.9 827.2l2.3 3.9h-4.7zM222.6 958.1l2.3 3.9h-4.7zM226.4 970.2l2.3 3.9h-4.7zM150.1 995.2l2.3 3.9h-4.7zM206.3 678.8l2.3 3.9h-4.7zM249.2 990.8l2.3 3.9h-4.7zM222 950.7l2.3 3.9h-4.7zM217.8 898.6l2.3 3.9h-4.7zM241.8 980.1l2.3 3.9h-4.7zM214.1 836l2.3 3.9h-4.7zM194.7 926.9l2.3 3.9h-4.7zM216.9 928.2l2.3 3.9h-4.7zM152.7 996.7l2.3 3.9h-4.7zM227.8 975.3l2.3 3.9h-4.7zM162.7 996.5l2.3 3.9h-4.7zM234.9 994.5l2.3 3.9h-4.7zM194.7 944.6l2.3 3.9h-4.7zM222.6 969.3l2.3 3.9h-4.7zM163.5 996l2.3 3.9h-4.7zM247.8 994.6l2.3 3.9h-4.7zM221.1 940.3l2.3 3.9h-4.7zM194.7 955l2.3 3.9h-4.7zM200.5 769.7l2.3 3.9h-4.7zM261.4 995.5l2.3 3.9h-4.7zM152.7 991.7l2.3 3.9h-4.7zM167.9 987.1l2.3 3.9h-4.7zM259.1 996.1l2.3 3.9h-4.7zM168.2 988.5l2.3 3.9h-4.7zM249.2 999.6l2.3 3.9h-4.7zM167.5 996.1l2.3 3.9h-4.7zM195.4 952l2.3 3.9h-4.7zM171.3 999.3l2.3 3.9h-4.7zM211.2 795.2l2.3 3.9h-4.7zM202.7 830.1l2.3 3.9h-4.7zM267.9 999.7l2.3 3.9h-4.7zM144.2 993.1l2.3 3.9h-4.7zM245.5 988.6l2.3 3.9h-4.7zM204.5 654.6l2.3 3.9h-4.7zM206.4 692l2.3 3.9h-4.7zM190.6 960.3l2.3 3.9h-4.7zM160.4 992.5l2.3 3.9h-4.7zM173.1 995.6l2.3 3.9h-4.7zM232.5 979.3l2.3 3.9h-4.7zM148.4 997.2l2.3 3.9h-4.7zM186 974.9l2.3 3.9h-4.7zM201.6 819.3l2.3 3.9h-4.7zM265.2 992.5l2.3 3.9h-4.7zM169.1 990.2l2.3 3.9h-4.7zM246.8 994.4l2.3 3.9h-4.7zM215.7 893.2l2.3 3.9h-4.7zM143 1006.2l2.3 3.9h-4.7zM167.8 998.6l2.3 3.9h-4.7zM257.1 989.2l2.3 3.9h-4.7zM161.7 1000.9l2.3 3.9h-4.7zM230.7 978.7l2.3 3.9h-4.7zM167.4 997.1l2.3 3.9h-4.7zM244.7 986.6l2.3 3.9h-4.7zM154.9 994.1l2.3 3.9h-4.7zM266.2 992.1l2.3 3.9h-4.7zM179.8 977.6l2.3 3.9h-4.7zM198.4 864.2l2.3 3.9h-4.7zM155.6 999.8l2.3 3.9h-4.7zM180.7 973.2l2.3 3.9h-4.7zM252.7 995.7l2.3 3.9h-4.7zM227.4 967.8l2.3 3.9h-4.7zM266.4 997.7l2.3 3.9h-4.7zM234.6 975.2l2.3 3.9h-4.7zM189.7 970.5l2.3 3.9h-4.7zM258.3 994.2l2.3 3.9h-4.7zM164.5 989.7l2.3 3.9h-4.7zM181.5 980.8l2.3 3.9h-4.7zM204.6 697.8l2.3 3.9h-4.7zM213.2 880.7l2.3 3.9h-4.7zM201.1 791.4l2.3 3.9h-4.7zM149.6 995.8l2.3 3.9h-4.7zM187 976.9l2.3 3.9h-4.7zM257.6 989.6l2.3 3.9h-4.7zM224.3 972.7l2.3 3.9h-4.7zM219.2 939.6l2.3 3.9h-4.7zM241.1 993.6l2.3 3.9h-4.7zM179.4 985.7l2.3 3.9h-4.7zM187.5 973.8l2.3 3.9h-4.7zM261.7 994.4l2.3 3.9h-4.7zM238.7 985.2l2.3 3.9h-4.7zM267.9 992.6l2.3 3.9h-4.7zM209.7 788.9l2.3 3.9h-4.7zM181.5 969.8l2.3 3.9h-4.7zM200.7 795l2.3 3.9h-4.7zM247.9 989.8l2.3 3.9h-4.7zM156.6 999l2.3 3.9h-4.7zM233.9 977.5l2.3 3.9h-4.7zM175.1 991l2.3 3.9h-4.7zM183.3 979.8l2.3 3.9h-4.7zM180.3 981.6l2.3 3.9h-4.7zM191.9 959.5l2.3 3.9h-4.7zM161 991.7l2.3 3.9h-4.7zM146.4 1000.3l2.3 3.9h-4.7zM196.9 944.1l2.3 3.9h-4.7zM174.9 978.5l2.3 3.9h-4.7zM224.3 954.3l2.3 3.9h-4.7zM150.7 993.4l2.3 3.9h-4.7zM248.1 989.4l2.3 3.9h-4.7zM240 985.5l2.3 3.9h-4.7zM216.8 950l2.3 3.9h-4.7zM264.4 996l2.3 3.9h-4.7zM176.6 980.1l2.3 3.9h-4.7zM185.7 977l2.3 3.9h-4.7zM255.9 990.7l2.3 3.9h-4.7zM267.1 994.3l2.3 3.9h-4.7zM165.8 994.6l2.3 3.9h-4.7zM204.4 717.3l2.3 3.9h-4.7zM227.6 972.2l2.3 3.9h-4.7zM213.4 863.1l2.3 3.9h-4.7zM243.9 996.8l2.3 3.9h-4.7zM211.7 759.3l2.3 3.9h-4.7zM207.5 745.1l2.3 3.9h-4.7zM254.8 985.5l2.3 3.9h-4.7zM188.5 973.2l2.3 3.9h-4.7zM268.3 995.6l2.3 3.9h-4.7zM266.9 998.3l2.3 3.9h-4.7zM226.8 966.8l2.3 3.9h-4.7zM167.7 994l2.3 3.9h-4.7zM208.6 661.5l2.3 3.9h-4.7zM162.2 985.1l2.3 3.9h-4.7zM198.6 928.7l2.3 3.9h-4.7zM221.7 956.2l2.3 3.9h-4.7zM152.4 992l2.3 3.9h-4.7zM252.3 996.6l2.3 3.9h-4.7zM152 996.7l2.3 3.9h-4.7zM235 979.3l2.3 3.9h-4.7zM249.1 986.2l2.3 3.9h-4.7zM259.7 1000l2.3 3.9h-4.7zM255.2 991.2l2.3 3.9h-4.7zM211.5 773.6l2.3 3.9h-4.7zM257.6 994.9l2.3 3.9h-4.7zM187.8 968.7l2.3 3.9h-4.7zM171.5 987.5l2.3 3.9h-4.7zM224.8 970.9l2.3 3.9h-4.7zM198.3 922.2l2.3 3.9h-4.7zM255.3 1004.5l2.3 3.9h-4.7zM223.7 959.2l2.3 3.9h-4.7zM207.8 647.9l2.3 3.9h-4.7zM248.7 996.2l2.3 3.9h-4.7zM207.9 713.8l2.3 3.9h-4.7zM149 989.2l2.3 3.9h-4.7zM225.4 967.9l2.3 3.9h-4.7zM182.2 989.6l2.3 3.9h-4.7zM158.2 991l2.3 3.9h-4.7zM192.1 947.1l2.3 3.9h-4.7zM258.2 992.8l2.3 3.9h-4.7zM197.8 865.9l2.3 3.9h-4.7zM238 990.5l2.3 3.9h-4.7zM203.4 638.4l2.3 3.9h-4.7zM183.1 991.1l2.3 3.9h-4.7zM228.8 983l2.3 3.9h-4.7zM253.8 989.4l2.3 3.9h-4.7zM177.7 984.5l2.3 3.9h-4.7zM257.9 994.3l2.3 3.9h-4.7zM228 979.2l2.3 3.9h-4.7zM250.6 988.9l2.3 3.9h-4.7zM217.2 920l2.3 3.9h-4.7zM207.2 733.6l2.3 3.9h-4.7zM193 975l2.3 3.9h-4.7zM229.7 971.1l2.3 3.9h-4.7zM183.9 979.4l2.3 3.9h-4.7zM258 992.2l2.3 3.9h-4.7zM223.9 963.4l2.3 3.9h-4.7zM254.3 996.1l2.3 3.9h-4.7zM158.3 1001.2l2.3 3.9h-4.7zM228.6 974.8l2.3 3.9h-4.7zM162.6 991.7l2.3 3.9h-4.7zM174.4 994.7l2.3 3.9h-4.7zM256.4 998.4l2.3 3.9h-4.7zM270.2 1001.3l2.3 3.9h-4.7zM212.3 822.5l2.3 3.9h-4.7zM184.9 973.9l2.3 3.9h-4.7zM225.2 970.1l2.3 3.9h-4.7zM165.3 993.4l2.3 3.9h-4.7zM255.7 994.2l2.3 3.9h-4.7zM151.4 995.9l2.3 3.9h-4.7zM260.8 991l2.3 3.9h-4.7zM173 984.7l2.3 3.9h-4.7zM247.8 988.2l2.3 3.9h-4.7zM264.4 1000.5l2.3 3.9h-4.7zM185.8 973.2l2.3 3.9h-4.7zM217.6 941.2l2.3 3.9h-4.7zM210.1 784.5l2.3 3.9h-4.7zM255.8 993.3l2.3 3.9h-4.7zM226.6 987l2.3 3.9h-4.7zM172.9 993.9l2.3 3.9h-4.7zM211 706.7l2.3 3.9h-4.7zM213.3 877.4l2.3 3.9h-4.7zM247.3 1000.5l2.3 3.9h-4.7zM161.9 992.5l2.3 3.9h-4.7zM235.8 982.3l2.3 3.9h-4.7zM259.3 997.4l2.3 3.9h-4.7zM162.5 999.5l2.3 3.9h-4.7zM187.2 976.1l2.3 3.9h-4.7zM187.7 966.9l2.3 3.9h-4.7zM158.5 987.1l2.3 3.9h-4.7zM265.1 993.3l2.3 3.9h-4.7zM256.9 999.4l2.3 3.9h-4.7zM218.7 943.3l2.3 3.9h-4.7zM200.5 833.4l2.3 3.9h-4.7zM241.5 990l2.3 3.9h-4.7zM248.9 998.2l2.3 3.9h-4.7zM224.6 964.4l2.3 3.9h-4.7zM179.9 987.4l2.3 3.9h-4.7zM217.8 922.6l2.3 3.9h-4.7zM270.7 995.7l2.3 3.9h-4.7zM225.2 973.7l2.3 3.9h-4.7zM266.7 997.1l2.3 3.9h-4.7zM150.3 994l2.3 3.9h-4.7zM164.4 990l2.3 3.9h-4.7zM241.1 986.6l2.3 3.9h-4.7zM146.6 993.8l2.3 3.9h-4.7zM155.8 993.9l2.3 3.9h-4.7zM201.8 859l2.3 3.9h-4.7zM180.8 971.2l2.3 3.9h-4.7zM201.6 845.3l2.3 3.9h-4.7zM230.3 974.2l2.3 3.9h-4.7zM189.2 965.1l2.3 3.9h-4.7zM262.8 997.1l2.3 3.9h-4.7zM229.9 987.2l2.3 3.9h-4.7zM259 1003.9l2.3 3.9h-4.7zM145.4 998.9l2.3 3.9h-4.7zM167.1 987l2.3 3.9h-4.7zM180.2 978.6l2.3 3.9h-4.7zM217.2 881.1l2.3 3.9h-4.7zM157.4 997.6l2.3 3.9h-4.7zM212.8 887.1l2.3 3.9h-4.7zM238.5 986.9l2.3 3.9h-4.7zM200 920.5l2.3 3.9h-4.7zM268.9 1001.2l2.3 3.9h-4.7zM240.4 986.2l2.3 3.9h-4.7zM254.7 998.2l2.3 3.9h-4.7zM232.8 988.5l2.3 3.9h-4.7zM180.7 980.7l2.3 3.9h-4.7zM236.7 985.1l2.3 3.9h-4.7zM169.6 990.9l2.3 3.9h-4.7zM184.4 991.4l2.3 3.9h-4.7zM176 982.5l2.3 3.9h-4.7zM209.8 810l2.3 3.9h-4.7zM175.1 984.2l2.3 3.9h-4.7zM145 993.1l2.3 3.9h-4.7zM146.1 995.7l2.3 3.9h-4.7zM189.7 961.6l2.3 3.9h-4.7zM142 994.6l2.3 3.9h-4.7zM167.9 993.7l2.3 3.9h-4.7zM209.1 724.3l2.3 3.9h-4.7zM262.8 988.5l2.3 3.9h-4.7zM255.4 985.6l2.3 3.9h-4.7zM166.3 993.3l2.3 3.9h-4.7zM268 995.9l2.3 3.9h-4.7zM170.3 988.9l2.3 3.9h-4.7zM262 992.8l2.3 3.9h-4.7zM144.7 1004l2.3 3.9h-4.7zM184.1 975.4l2.3 3.9h-4.7zM171.3 988l2.3 3.9h-4.7zM165.8 991l2.3 3.9h-4.7zM225.5 976.7l2.3 3.9h-4.7zM187.5 962.3l2.3 3.9h-4.7zM170.4 990.5l2.3 3.9h-4.7zM167 983.4l2.3 3.9h-4.7zM157.7 987.7l2.3 3.9h-4.7zM255 996.6l2.3 3.9h-4.7zM249.1 987.7l2.3 3.9h-4.7zM220.3 946.7l2.3 3.9h-4.7zM262.6 997.4l2.3 3.9h-4.7zM259.8 1005.3l2.3 3.9h-4.7zM255.4 995.1l2.3 3.9h-4.7zM188.8 967.7l2.3 3.9h-4.7zM174.1 979.4l2.3 3.9h-4.7zM265.2 990.2l2.3 3.9h-4.7zM241.5 983.1l2.3 3.9h-4.7zM240.9 984.7l2.3 3.9h-4.7zM159.3 989.6l2.3 3.9h-4.7zM241.1 990.9l2.3 3.9h-4.7zM192.4 960.2l2.3 3.9h-4.7zM151.2 1001.8l2.3 3.9h-4.7zM189.5 977.2l2.3 3.9h-4.7zM221.8 959l2.3 3.9h-4.7zM244.5 980.2l2.3 3.9h-4.7zM207.5 735.2l2.3 3.9h-4.7zM191.3 948.5l2.3 3.9h-4.7zM249.6 992.4l2.3 3.9h-4.7zM227.3 983.8l2.3 3.9h-4.7zM214.8 839.1l2.3 3.9h-4.7zM178.2 993.8l2.3 3.9h-4.7zM269.9 991.6l2.3 3.9h-4.7zM158.3 990.8l2.3 3.9h-4.7zM169.8 992.6l2.3 3.9h-4.7zM193.9 935.8l2.3 3.9h-4.7zM199.2 924.3l2.3 3.9h-4.7zM246.6 994.1l2.3 3.9h-4.7zM262.6 992.9l2.3 3.9h-4.7zM170.8 995.3l2.3 3.9h-4.7zM142.7 998.4l2.3 3.9h-4.7zM260.9 1001.3l2.3 3.9h-4.7zM166.4 986.1l2.3 3.9h-4.7zM233 980.8l2.3 3.9h-4.7zM196.1 933.8l2.3 3.9h-4.7zM241.8 992.8l2.3 3.9h-4.7zM161.5 1003.6l2.3 3.9h-4.7zM159.8 991.5l2.3 3.9h-4.7zM188.1 968.4l2.3 3.9h-4.7zM168.3 986.5l2.3 3.9h-4.7zM159.8 995.2l2.3 3.9h-4.7zM154.5 992.3l2.3 3.9h-4.7zM193.6 933.7l2.3 3.9h-4.7zM248.1 995.2l2.3 3.9h-4.7zM156.6 1005l2.3 3.9h-4.7zM205.6 649.7l2.3 3.9h-4.7zM198.2 911.3l2.3 3.9h-4.7zM177.7 984.9l2.3 3.9h-4.7zM178 990l2.3 3.9h-4.7zM181 972.7l2.3 3.9h-4.7zM184.4 973.7l2.3 3.9h-4.7zM158.8 994.5l2.3 3.9h-4.7zM185.1 984l2.3 3.9h-4.7zM252.8 997.5l2.3 3.9h-4.7zM169.3 990l2.3 3.9h-4.7zM164.6 998.6l2.3 3.9h-4.7zM181.4 973.5l2.3 3.9h-4.7zM244.8 992.4l2.3 3.9h-4.7zM205.7 648.8l2.3 3.9h-4.7zM150.7 996.3l2.3 3.9h-4.7zM197.2 931.3l2.3 3.9h-4.7zM218 914.8l2.3 3.9h-4.7zM203.2 751.5l2.3 3.9h-4.7zM168.3 994.5l2.3 3.9h-4.7zM262.2 992.2l2.3 3.9h-4.7zM253.3 992.8l2.3 3.9h-4.7zM154.5 996.1l2.3 3.9h-4.7zM241 999.2l2.3 3.9h-4.7zM187.4 985.9l2.3 3.9h-4.7zM266.2 993l2.3 3.9h-4.7zM218.8 929.3l2.3 3.9h-4.7zM248.6 989.5l2.3 3.9h-4.7zM195.7 951.2l2.3 3.9h-4.7zM142.1 996.1l2.3 3.9h-4.7zM151.5 1004.6l2.3 3.9h-4.7zM244.7 991.7l2.3 3.9h-4.7zM233.4 973.9l2.3 3.9h-4.7zM241 987.1l2.3 3.9h-4.7zM155.1 998l2.3 3.9h-4.7zM184.2 977.8l2.3 3.9h-4.7zM168.3 990.5l2.3 3.9h-4.7zM217.4 927.6l2.3 3.9h-4.7zM201.1 877.8l2.3 3.9h-4.7zM199.4 897.1l2.3 3.9h-4.7zM188.9 973.3l2.3 3.9h-4.7zM200.3 854l2.3 3.9h-4.7zM244.1 987.3l2.3 3.9h-4.7zM145.6 1000.4l2.3 3.9h-4.7zM262.7 1004.2l2.3 3.9h-4.7zM228.4 976.8l2.3 3.9h-4.7zM241.8 983l2.3 3.9h-4.7zM259.4 998.7l2.3 3.9h-4.7zM194.1 960.2l2.3 3.9h-4.7zM259.5 991.1l2.3 3.9h-4.7zM245.8 993.1l2.3 3.9h-4.7zM220.9 971.2l2.3 3.9h-4.7zM157.2 987.5l2.3 3.9h-4.7zM226 976l2.3 3.9h-4.7zM198.2 921.9l2.3 3.9h-4.7zM181.7 981.2l2.3 3.9h-4.7zM233.7 980.5l2.3 3.9h-4.7zM259.9 998.6l2.3 3.9h-4.7zM266.1 989.4l2.3 3.9h-4.7zM215.2 880.2l2.3 3.9h-4.7zM202.1 867.5l2.3 3.9h-4.7zM265.4 995.9l2.3 3.9h-4.7zM220.3 957.3l2.3 3.9h-4.7zM213.3 901.5l2.3 3.9h-4.7zM157 987.3l2.3 3.9h-4.7zM204.8 771.8l2.3 3.9h-4.7zM171.6 990l2.3 3.9h-4.7zM264.7 995.5l2.3 3.9h-4.7zM225.4 976.1l2.3 3.9h-4.7zM219.7 944.7l2.3 3.9h-4.7zM268.3 1002.6l2.3 3.9h-4.7zM151.4 994.9l2.3 3.9h-4.7zM149.9 1001.3l2.3 3.9h-4.7zM166.4 993.6l2.3 3.9h-4.7zM232.8 985.7l2.3 3.9h-4.7zM175.3 976.9l2.3 3.9h-4.7zM227.2 977.7l2.3 3.9h-4.7zM223.2 966.2l2.3 3.9h-4.7zM145.4 995.3l2.3 3.9h-4.7zM188.6 975l2.3 3.9h-4.7zM226 967.5l2.3 3.9h-4.7zM198.2 928l2.3 3.9h-4.7zM203.3 759.4l2.3 3.9h-4.7zM192.7 964.9l2.3 3.9h-4.7zM168.6 990.4l2.3 3.9h-4.7zM189.2 972.6l2.3 3.9h-4.7zM199.5 875.6l2.3 3.9h-4.7zM171.3 988.9l2.3 3.9h-4.7zM230.3 982.1l2.3 3.9h-4.7zM238.9 983.9l2.3 3.9h-4.7zM166.6 996.5l2.3 3.9h-4.7zM264.4 996.5l2.3 3.9h-4.7zM202.6 855.8l2.3 3.9h-4.7zM209.8 674.7l2.3 3.9h-4.7zM217.4 925.8l2.3 3.9h-4.7zM192.6 946.6l2.3 3.9h-4.7zM248.7 999.6l2.3 3.9h-4.7zM234.7 981.5l2.3 3.9h-4.7zM203.6 730.1l2.3 3.9h-4.7zM153.4 1001.7l2.3 3.9h-4.7zM222.8 979.4l2.3 3.9h-4.7zM179.3 988l2.3 3.9h-4.7zM164.7 993.4l2.3 3.9h-4.7zM206.8 682.7l2.3 3.9h-4.7zM191.5 965.8l2.3 3.9h-4.7zM225.6 971.4l2.3 3.9h-4.7zM228.3 975.6l2.3 3.9h-4.7zM241.7 988.6l2.3 3.9h-4.7zM240.2 987l2.3 3.9h-4.7zM247.2 992l2.3 3.9h-4.7zM170.1 992.6l2.3 3.9h-4.7zM227.1 983.6l2.3 3.9h-4.7zM258.9 1003.3l2.3 3.9h-4.7zM229.9 979.7l2.3 3.9h-4.7zM164.4 998.3l2.3 3.9h-4.7zM193.7 944.5l2.3 3.9h-4.7zM226.4 977.3l2.3 3.9h-4.7zM263.1 1001.4l2.3 3.9h-4.7zM229.7 978l2.3 3.9h-4.7zM232.6 982.3l2.3 3.9h-4.7zM150.8 990l2.3 3.9h-4.7zM209 726l2.3 3.9h-4.7zM267.6 1000.5l2.3 3.9h-4.7zM254.4 994.3l2.3 3.9h-4.7zM225.4 969.2l2.3 3.9h-4.7zM223.4 968.9l2.3 3.9h-4.7zM249.5 996.5l2.3 3.9h-4.7zM173.1 986.8l2.3 3.9h-4.7zM145 996.8l2.3 3.9h-4.7zM144.6 996.2l2.3 3.9h-4.7zM263 1003.2l2.3 3.9h-4.7zM220.9 954.3l2.3 3.9h-4.7zM209.9 715.3l2.3 3.9h-4.7zM185.7 967.5l2.3 3.9h-4.7zM233.1 984.2l2.3 3.9h-4.7zM176.2 985l2.3 3.9h-4.7zM254.8 997l2.3 3.9h-4.7zM178.1 973.7l2.3 3.9h-4.7zM181.3 989.1l2.3 3.9h-4.7zM150.2 1001.9l2.3 3.9h-4.7zM269.5 1001.5l2.3 3.9h-4.7zM194.6 949.3l2.3 3.9h-4.7zM171 992.9l2.3 3.9h-4.7zM264.3 990.6l2.3 3.9h-4.7zM156 993.3l2.3 3.9h-4.7zM150.4 993.1l2.3 3.9h-4.7zM202.3 773l2.3 3.9h-4.7zM220.6 960l2.3 3.9h-4.7zM176.9 986.2l2.3 3.9h-4.7zM263.9 1003.2l2.3 3.9h-4.7zM239.7 997.9l2.3 3.9h-4.7zM262.7 992.5l2.3 3.9h-4.7zM241.7 990.4l2.3 3.9h-4.7zM239.2 981.9l2.3 3.9h-4.7zM158.3 1001.9l2.3 3.9h-4.7zM212.5 710.4l2.3 3.9h-4.7zM265.4 1004.4l2.3 3.9h-4.7zM152.4 990.5l2.3 3.9h-4.7zM190.7 966.7l2.3 3.9h-4.7zM228.3 985.2l2.3 3.9h-4.7zM229.8 985.3l2.3 3.9h-4.7zM255.8 990.5l2.3 3.9h-4.7zM202.3 827l2.3 3.9h-4.7zM265.9 998.6l2.3 3.9h-4.7zM178.8 986.7l2.3 3.9h-4.7zM153.7 1001.3l2.3 3.9h-4.7zM252.6 988.4l2.3 3.9h-4.7zM203.8 654.9l2.3 3.9h-4.7zM160.1 997.8l2.3 3.9h-4.7zM190.6 962.7l2.3 3.9h-4.7zM186.3 974.9l2.3 3.9h-4.7zM241 986.2l2.3 3.9h-4.7zM202.1 759.5l2.3 3.9h-4.7zM142.8 1002.8l2.3 3.9h-4.7zM167.5 992.2l2.3 3.9h-4.7zM236.6 994.1l2.3 3.9h-4.7zM200.5 909.6l2.3 3.9h-4.7zM225.5 968.6l2.3 3.9h-4.7zM246 988.3l2.3 3.9h-4.7zM206.7 759.5l2.3 3.9h-4.7zM206.5 702l2.3 3.9h-4.7zM152.8 1003.2l2.3 3.9h-4.7zM184.3 977l2.3 3.9h-4.7zM236.7 985.6l2.3 3.9h-4.7zM231.7 981l2.3 3.9h-4.7zM252.8 990.9l2.3 3.9h-4.7zM255.8 994.4l2.3 3.9h-4.7zM198.3 881.1l2.3 3.9h-4.7zM243.1 993.2l2.3 3.9h-4.7zM256.4 994.4l2.3 3.9h-4.7zM261.1 1004.1l2.3 3.9h-4.7zM264.6 998.3l2.3 3.9h-4.7zM165.5 992.2l2.3 3.9h-4.7zM203.4 825.3l2.3 3.9h-4.7zM190.5 960.1l2.3 3.9h-4.7zM194.1 942.5l2.3 3.9h-4.7zM242.8 988.9l2.3 3.9h-4.7zM173 990.2l2.3 3.9h-4.7zM256.1 997.6l2.3 3.9h-4.7zM167.6 988.9l2.3 3.9h-4.7zM195.3 934.7l2.3 3.9h-4.7zM152.4 992.5l2.3 3.9h-4.7zM263.9 1000.3l2.3 3.9h-4.7zM252.9 991.6l2.3 3.9h-4.7zM155.9 991.7l2.3 3.9h-4.7zM253.2 998.4l2.3 3.9h-4.7zM151.8 996.6l2.3 3.9h-4.7zM167.2 991.7l2.3 3.9h-4.7zM222.3 962.7l2.3 3.9h-4.7zM195.1 919.5l2.3 3.9h-4.7zM187 972.2l2.3 3.9h-4.7zM146 994.6l2.3 3.9h-4.7zM197.4 902.7l2.3 3.9h-4.7zM184.1 973.7l2.3 3.9h-4.7zM151.3 997.9l2.3 3.9h-4.7zM269.4 1000.4l2.3 3.9h-4.7zM205 691.7l2.3 3.9h-4.7zM214.9 860.4l2.3 3.9h-4.7zM174.7 983.7l2.3 3.9h-4.7zM145.1 999.8l2.3 3.9h-4.7zM227.2 978.6l2.3 3.9h-4.7zM261.6 993.6l2.3 3.9h-4.7zM260.4 996.5l2.3 3.9h-4.7zM226.3 975.7l2.3 3.9h-4.7zM246.3 989.4l2.3 3.9h-4.7zM226.2 974.5l2.3 3.9h-4.7zM246.5 991.7l2.3 3.9h-4.7zM182.6 977.5l2.3 3.9h-4.7zM171.9 994.3l2.3 3.9h-4.7zM159.4 990.6l2.3 3.9h-4.7zM221.5 957.9l2.3 3.9h-4.7zM180.4 985.2l2.3 3.9h-4.7zM267 997.7l2.3 3.9h-4.7zM265.6 1000.2l2.3 3.9h-4.7zM252.1 1002.9l2.3 3.9h-4.7zM257.8 995.7l2.3 3.9h-4.7zM167.3 993.8l2.3 3.9h-4.7zM191.6 956l2.3 3.9h-4.7zM255 988.9l2.3 3.9h-4.7zM152.9 999.1l2.3 3.9h-4.7zM247 991.4l2.3 3.9h-4.7zM159.3 990.4l2.3 3.9h-4.7zM205.2 690.4l2.3 3.9h-4.7zM160.9 995.4l2.3 3.9h-4.7zM183.8 978.5l2.3 3.9h-4.7zM227.7 983.1l2.3 3.9h-4.7zM232.9 978.1l2.3 3.9h-4.7zM257.5 993.6l2.3 3.9h-4.7zM212.4 846.8l2.3 3.9h-4.7zM166.3 992l2.3 3.9h-4.7zM233.4 974.1l2.3 3.9h-4.7z" fill="#ad7be8" opacity="1.0"/>
<path d="M143.8 1002.9L143.9 1002.9L144.1 1002.8L144.2 1002.8L144.4 1002.8L144.5 1002.8L144.6 1002.8L144.8 1002.8L144.9 1002.8L145.1 1002.8L145.2 1002.8L145.4 1002.8L145.5 1002.8L145.6 1002.8L145.8 1002.8L145.9 1002.8L146.1 1002.8L146.2 1002.8L146.3 1002.8L146.5 1002.8L146.6 1002.7L146.8 1002.7L146.9 1002.7L147 1002.7L147.2 1002.7L147.3 1002.7L147.5 1002.7L147.6 1002.7L147.8 1002.7L147.9 1002.6L148 1002.6L148.2 1002.6L148.3 1002.6L148.5 1002.6L148.6 1002.6L148.7 1002.6L148.9 1002.6L149 1002.5L149.2 1002.5L149.3 1002.5L149.4 1002.5L149.6 1002.5L149.7 1002.5L149.9 1002.4L150 1002.4L150.2 1002.4L150.3 1002.4L150.4 1002.4L150.6 1002.3L150.7 1002.3L150.9 1002.3L151 1002.3L151.1 1002.3L151.3 1002.2L151.4 1002.2L151.6 1002.2L151.7 1002.2L151.8 1002.2L152 1002.1L152.1 1002.1L152.3 1002.1L152.4 1002.1L152.6 1002L152.7 1002L152.8 1002L153 1002L153.1 1001.9L153.3 1001.9L153.4 1001.9L153.5 1001.9L153.7 1001.8L153.8 1001.8L154 1001.8L154.1 1001.7L154.2 1001.7L154.4 1001.7L154.5 1001.7L154.7 1001.6L154.8 1001.6L155 1001.6L155.1 1001.5L155.2 1001.5L155.4 1001.5L155.5 1001.4L155.7 1001.4L155.8 1001.4L155.9 1001.3L156.1 1001.3L156.2 1001.3L156.4 1001.2L156.5 1001.2L156.6 1001.2L156.8 1001.1L156.9 1001.1L157.1 1001L157.2 1001L157.4 1001L157.5 1000.9L157.6 1000.9L157.8 1000.8L157.9 1000.8L158.1 1000.8L158.2 1000.7L158.3 1000.7L158.5 1000.6L158.6 1000.6L158.8 1000.6L158.9 1000.5L159 1000.5L159.2 1000.4L159.3 1000.4L159.5 1000.3L159.6 1000.3L159.8 1000.2L159.9 1000.2L160 1000.2L160.2 1000.1L160.3 1000.1L160.5 1000L160.6 1000L160.7 999.9L160.9 999.9L161 999.8L161.2 999.8L161.3 999.7L161.4 999.7L161.6 999.6L161.7 999.6L161.9 999.5L162 999.5L162.2 999.4L162.3 999.3L162.4 999.3L162.6 999.2L162.7 999.2L162.9 999.1L163 999.1L163.1 999L163.3 998.9L163.4 998.9L163.6 998.8L163.7 998.8L163.8 998.7L164 998.6L164.1 998.6L164.3 998.5L164.4 998.5L164.6 998.4L164.7 998.3L164.8 998.3L165 998.2L165.1 998.1L165.3 998.1L165.4 998L165.5 997.9L165.7 997.9L165.8 997.8L166 997.7L166.1 997.7L166.2 997.6L166.4 997.5L166.5 997.5L166.7 997.4L166.8 997.3L166.9 997.3L167.1 997.2L167.2 997.1L167.4 997L167.5 997L167.7 996.9L167.8 996.8L167.9 996.7L168.1 996.7L168.2 996.6L168.4 996.5L168.5 996.4L168.6 996.3L168.8 996.3L168.9 996.2L169.1 996.1L169.2 996L169.3 995.9L169.5 995.9L169.6 995.8L169.8 995.7L169.9 995.6L170.1 995.5L170.2 995.4L170.3 995.3L170.5 995.3L170.6 995.2L170.8 995.1L170.9 995L171 994.9L171.2 994.8L171.3 994.7L171.5 994.6L171.6 994.5L171.7 994.4L171.9 994.3L172 994.2L172.2 994.1L172.3 994.1L172.5 994L172.6 993.9L172.7 993.8L172.9 993.7L173 993.6L173.2 993.5L173.3 993.4L173.4 993.3L173.6 993.1L173.7 993L173.9 992.9L174 992.8L174.1 992.7L174.3 992.6L174.4 992.5L174.6 992.4L174.7 992.3L174.9 992.2L175 992.1L175.1 992L175.3 991.8L175.4 991.7L175.6 991.6L175.7 991.5L175.8 991.4L176 991.3L176.1 991.1L176.3 991L176.4 990.9L176.5 990.8L176.7 990.7L176.8 990.5L177 990.4L177.1 990.3L177.3 990.2L177.4 990L177.5 989.9L177.7 989.8L177.8 989.7L178 989.5L178.1 989.4L178.2 989.3L178.4 989.1L178.5 989L178.7 988.9L178.8 988.7L178.9 988.6L179.1 988.5L179.2 988.3L179.4 988.2L179.5 988L179.7 987.9L179.8 987.8L179.9 987.6L180.1 987.5L180.2 987.3L180.4 987.2L180.5 987L180.6 986.9L180.8 986.7L180.9 986.6L181.1 986.4L181.2 986.3L181.3 986.1L181.5 986L181.6 985.8L181.8 985.7L181.9 985.5L182.1 985.3L182.2 985.2L182.3 985L182.5 984.9L182.6 984.7L182.8 984.5L182.9 984.4L183 984.2L183.2 984L183.3 983.9L183.5 983.7L183.6 983.5L183.7 983.3L183.9 983.2L184 983L184.2 982.8L184.3 982.6L184.5 982.4L184.6 982.3L184.7 982.1L184.9 981.9L185 981.7L185.2 981.5L185.3 981.3L185.4 981.2L185.6 981L185.7 980.8L185.9 980.6L186 980.4L186.1 980.2L186.3 980L186.4 979.8L186.6 979.6L186.7 979.4L186.9 979.2L187 979L187.1 978.8L187.3 978.6L187.4 978.4L187.6 978.1L187.7 977.9L187.8 977.7L188 977.5L188.1 977.3L188.3 977L188.4 976.8L188.5 976.5L188.7 976.2L188.8 975.9L189 975.6L189.1 975.3L189.3 974.9L189.4 974.6L189.5 974.2L189.7 973.8L189.8 973.4L190 973L190.1 972.6L190.2 972.1L190.4 971.6L190.5 971.2L190.7 970.7L190.8 970.1L190.9 969.6L191.1 969L191.2 968.5L191.4 967.9L191.5 967.2L191.7 966.6L191.8 966L191.9 965.3L192.1 964.6L192.2 963.9L192.4 963.1L192.5 962.4L192.6 961.6L192.8 960.8L192.9 960L193.1 959.1L193.2 958.3L193.3 957.4L193.5 956.4L193.6 955.5L193.8 954.5L193.9 953.5L194.1 952.5L194.2 951.4L194.3 950.3L194.5 949.2L194.6 948.1L194.8 946.9L194.9 945.7L195 944.4L195.2 943.2L195.3 941.8L195.5 940.5L195.6 939.1L195.7 937.7L195.9 936.2L196 934.7L196.2 933.2L196.3 931.6L196.5 930L196.6 928.4L196.7 926.7L196.9 924.9L197 923.1L197.2 921.3L197.3 919.4L197.4 917.5L197.6 915.5L197.7 913.4L197.9 911.4L198 909.2L198.1 907L198.3 904.7L198.4 902.4L198.6 900L198.7 897.6L198.9 895.1L199 892.5L199.1 889.9L199.3 887.2L199.4 884.4L199.6 881.5L199.7 878.6L199.8 875.6L200 872.5L200.1 869.4L200.3 865.6L200.4 861.2L200.5 856.1L200.7 850.6L200.8 844.8L201 838.9L201.1 833.1L201.3 827.5L201.4 821.6L201.5 815.4L201.7 808.8L201.8 801.8L202 794.6L202.1 787L202.2 779.3L202.4 771.3L202.5 763.3L202.7 755.2L202.8 747.2L202.9 739.2L203.1 731.5L203.2 724L203.4 717L203.5 710.4L203.7 704.5L203.8 699.3L203.9 694.9L204.1 691.5L204.2 688.8L204.4 686.1L204.5 683.5L204.6 681L204.8 678.5L204.9 676.1L205.1 673.8L205.2 671.6L205.3 669.5L205.5 667.6L205.6 665.7L205.8 664L205.9 662.4L206.1 661L206.2 659.8L206.3 658.7L206.5 657.8L206.6 657.1L206.8 656.7L206.9 656.4L207 656.3L207.2 656.5L207.3 656.9L207.5 657.5L207.6 658.3L207.7 659.3L207.9 660.4L208 661.8L208.2 663.3L208.3 664.9L208.4 666.7L208.6 668.6L208.7 670.6L208.9 672.8L209 675.1L209.2 677.4L209.3 679.8L209.4 682.3L209.6 684.9L209.7 687.5L209.9 690.2L210 693.2L210.1 697.2L210.3 702L210.4 707.6L210.6 713.9L210.7 720.7L210.8 728L211 735.6L211.1 743.5L211.3 751.5L211.4 759.6L211.6 767.7L211.7 775.7L211.8 783.5L212 791.1L212.1 798.5L212.3 805.6L212.4 812.4L212.5 818.8L212.7 824.8L212.8 830.5L213 836.2L213.1 842.1L213.2 848L213.4 853.7L213.5 858.9L213.7 863.7L213.8 867.7L214 871.1L214.1 874.2L214.2 877.2L214.4 880.2L214.5 883.1L214.7 885.9L214.8 888.7L214.9 891.3L215.1 893.9L215.2 896.5L215.4 898.9L215.5 901.3L215.6 903.7L215.8 906L215.9 908.2L216.1 910.4L216.2 912.5L216.4 914.6L216.5 916.6L216.6 918.5L216.8 920.4L216.9 922.3L217.1 924.1L217.2 925.9L217.3 927.6L217.5 929.3L217.6 930.9L217.8 932.5L217.9 934.1L218 935.6L218.2 937L218.3 938.5L218.5 939.9L218.6 941.2L218.8 942.6L218.9 943.8L219 945.1L219.2 946.3L219.3 947.5L219.5 948.7L219.6 949.8L219.7 950.9L219.9 952L220 953L220.2 954.1L220.3 955L220.4 956L220.6 956.9L220.7 957.8L220.9 958.7L221 959.6L221.2 960.4L221.3 961.2L221.4 962L221.6 962.8L221.7 963.5L221.9 964.3L222 965L222.1 965.7L222.3 966.3L222.4 967L222.6 967.6L222.7 968.2L222.8 968.8L223 969.3L223.1 969.9L223.3 970.4L223.4 970.9L223.6 971.4L223.7 971.9L223.8 972.4L224 972.8L224.1 973.2L224.3 973.6L224.4 974L224.5 974.4L224.7 974.8L224.8 975.1L225 975.5L225.1 975.8L225.2 976.1L225.4 976.4L225.5 976.7L225.7 976.9L225.8 977.2L226 977.4L226.1 977.6L226.2 977.8L226.4 978L226.5 978.3L226.7 978.5L226.8 978.7L226.9 978.9L227.1 979.1L227.2 979.3L227.4 979.5L227.5 979.7L227.6 979.9L227.8 980.1L227.9 980.3L228.1 980.5L228.2 980.7L228.4 980.9L228.5 981.1L228.6 981.3L228.8 981.4L228.9 981.6L229.1 981.8L229.2 982L229.3 982.2L229.5 982.4L229.6 982.5L229.8 982.7L229.9 982.9L230 983.1L230.2 983.3L230.3 983.4L230.5 983.6L230.6 983.8L230.8 983.9L230.9 984.1L231 984.3L231.2 984.5L231.3 984.6L231.5 984.8L231.6 984.9L231.7 985.1L231.9 985.3L232 985.4L232.2 985.6L232.3 985.7L232.4 985.9L232.6 986.1L232.7 986.2L232.9 986.4L233 986.5L233.2 986.7L233.3 986.8L233.4 987L233.6 987.1L233.7 987.3L233.9 987.4L234 987.6L234.1 987.7L234.3 987.8L234.4 988L234.6 988.1L234.7 988.3L234.8 988.4L235 988.5L235.1 988.7L235.3 988.8L235.4 988.9L235.6 989.1L235.7 989.2L235.8 989.3L236 989.5L236.1 989.6L236.3 989.7L236.4 989.9L236.5 990L236.7 990.1L236.8 990.2L237 990.4L237.1 990.5L237.2 990.6L237.4 990.7L237.5 990.9L237.7 991L237.8 991.1L238 991.2L238.1 991.3L238.2 991.4L238.4 991.6L238.5 991.7L238.7 991.8L238.8 991.9L238.9 992L239.1 992.1L239.2 992.2L239.4 992.4L239.5 992.5L239.6 992.6L239.8 992.7L239.9 992.8L240.1 992.9L240.2 993L240.4 993.1L240.5 993.2L240.6 993.3L240.8 993.4L240.9 993.5L241.1 993.6L241.2 993.7L241.3 993.8L241.5 993.9L241.6 994L241.8 994.1L241.9 994.2L242 994.3L242.2 994.4L242.3 994.5L242.5 994.6L242.6 994.7L242.8 994.8L242.9 994.9L243 994.9L243.2 995L243.3 995.1L243.5 995.2L243.6 995.3L243.7 995.4L243.9 995.5L244 995.6L244.2 995.6L244.3 995.7L244.4 995.8L244.6 995.9L244.7 996L244.9 996.1L245 996.1L245.2 996.2L245.3 996.3L245.4 996.4L245.6 996.5L245.7 996.5L245.9 996.6L246 996.7L246.1 996.8L246.3 996.9L246.4 996.9L246.6 997L246.7 997.1L246.8 997.1L247 997.2L247.1 997.3L247.3 997.4L247.4 997.4L247.6 997.5L247.7 997.6L247.8 997.6L248 997.7L248.1 997.8L248.3 997.9L248.4 997.9L248.5 998L248.7 998.1L248.8 998.1L249 998.2L249.1 998.2L249.2 998.3L249.4 998.4L249.5 998.4L249.7 998.5L249.8 998.6L249.9 998.6L250.1 998.7L250.2 998.7L250.4 998.8L250.5 998.9L250.7 998.9L250.8 999L250.9 999L251.1 999.1L251.2 999.2L251.4 999.2L251.5 999.3L251.6 999.3L251.8 999.4L251.9 999.4L252.1 999.5L252.2 999.5L252.3 999.6L252.5 999.6L252.6 999.7L252.8 999.7L252.9 999.8L253.1 999.8L253.2 999.9L253.3 999.9L253.5 1000L253.6 1000L253.8 1000.1L253.9 1000.1L254 1000.2L254.2 1000.2L254.3 1000.3L254.5 1000.3L254.6 1000.4L254.7 1000.4L254.9 1000.5L255 1000.5L255.2 1000.5L255.3 1000.6L255.5 1000.6L255.6 1000.7L255.7 1000.7L255.9 1000.7L256 1000.8L256.2 1000.8L256.3 1000.9L256.4 1000.9L256.6 1000.9L256.7 1001L256.9 1001L257 1001.1L257.1 1001.1L257.3 1001.1L257.4 1001.2L257.6 1001.2L257.7 1001.2L257.9 1001.3L258 1001.3L258.1 1001.3L258.3 1001.4L258.4 1001.4L258.6 1001.4L258.7 1001.5L258.8 1001.5L259 1001.5L259.1 1001.6L259.3 1001.6L259.4 1001.6L259.5 1001.7L259.7 1001.7L259.8 1001.7L260 1001.8L260.1 1001.8L260.3 1001.8L260.4 1001.8L260.5 1001.9L260.7 1001.9L260.8 1001.9L261 1001.9L261.1 1002L261.2 1002L261.4 1002L261.5 1002L261.7 1002.1L261.8 1002.1L261.9 1002.1L262.1 1002.1L262.2 1002.2L262.4 1002.2L262.5 1002.2L262.7 1002.2L262.8 1002.3L262.9 1002.3L263.1 1002.3L263.2 1002.3L263.4 1002.3L263.5 1002.4L263.6 1002.4L263.8 1002.4L263.9 1002.4L264.1 1002.4L264.2 1002.4L264.3 1002.5L264.5 1002.5L264.6 1002.5L264.8 1002.5L264.9 1002.5L265.1 1002.5L265.2 1002.6L265.3 1002.6L265.5 1002.6L265.6 1002.6L265.8 1002.6L265.9 1002.6L266 1002.6L266.2 1002.7L266.3 1002.7L266.5 1002.7L266.6 1002.7L266.7 1002.7L266.9 1002.7L267 1002.7L267.2 1002.7L267.3 1002.7L267.5 1002.7L267.6 1002.8L267.7 1002.8L267.9 1002.8L268 1002.8L268.2 1002.8L268.3 1002.8L268.4 1002.8L268.6 1002.8L268.7 1002.8L268.9 1002.8L269 1002.8L269.1 1002.8L269.3 1002.8L269.4 1002.8L269.6 1002.8L269.7 1002.8L269.9 1002.8L270 1002.9L270.1 1002.9L270.3 1002.9L270.4 1002.9L270.6 1002.9L270.7 1002.9" stroke="#7f00ff" stroke-width="1.5" fill="none" stroke-linejoin="round"/>
<path d="M385.2 964.6h0M352.9 838.2h0M320.6 997.1h0M336 972.8h0M393.8 990.1h0M309.6 1001.8h0M389.1 985.1h0M365.3 782.1h0M341.6 951.8h0M371.6 908.9h0M325.1 989.3h0M410.7 1002.1h0M314 1002.4h0M345.4 919h0M350.8 884.1h0M331.9 979.1h0M307.2 1007.7h0M385.9 973.7h0M416.7 1004.7h0M355.4 839.3h0M418.2 1006.2h0M365 713.2h0M327.6 989.6h0M398.7 999.6h0M348.5 882.1h0M392.5 977.7h0M345.5 949.9h0M369.7 895.3h0M364.3 689.2h0M315.4 1001h0M319.1 994.8h0M403.8 1001.3h0M408.3 1010.8h0M373.7 915.8h0M391.7 982.9h0M306 999.1h0M372.6 884.7h0M373.3 935.6h0M355.9 715.6h0M353.7 863.9h0M317.2 1002.4h0M323.4 988.8h0M398.1 991.7h0M394.6 992.4h0M303.6 1005.9h0M350.3 901h0M356.8 767.3h0M356.1 855.9h0M336.5 972.2h0M295 1009.7h0M420.9 1011h0M408.3 1005.5h0M298.5 1012.6h0M345 918.9h0M311.8 1001.7h0M362.6 673.7h0M359.3 708.9h0M310 1002.2h0M346.8 942.4h0M394.3 994.8h0M324.8 991h0M325.2 996.5h0M363.2 681.3h0M328.4 997.9h0M374.7 917.8h0M315.1 1000.3h0M351.3 866.8h0M343.5 955.1h0M332.8 983.3h0M421.4 1002h0M324.5 995.6h0M306.9 1007.5h0M411.4 1006h0M331.3 982.6h0M334.1 972.9h0M394 994.1h0M325.3 989.7h0M383.7 962.4h0M383.5 978.5h0M375.4 940.8h0M362.2 725.4h0M320.3 989.6h0M354.9 766.8h0M377.9 956.4h0M314.9 1010.8h0M367.2 821.1h0M346.3 944.3h0M307.6 1006.1h0M393.4 989.6h0M313.8 996.6h0M372.7 903.7h0M364 714.2h0M369.6 907.6h0M372 891.2h0M298.8 1009.1h0M352.9 785.3h0M315.3 1001.6h0M343.7 943.4h0M323.2 999.9h0M421.5 1005.3h0M374.6 938.2h0M296.6 1005.9h0M338.7 970.3h0M382.8 955.9h0M386.8 977.2h0M380.8 953.1h0M397.9 996.7h0M366.1 754.9h0M340.2 964.1h0M314.2 1001.6h0M358.9 691.2h0M331.9 983.1h0M405.2 1004.5h0M401.5 996.6h0M378.6 934.4h0M359.7 658.8h0M311.1 1003h0M340.7 969.7h0M423.2 1011.8h0M368.9 902.8h0M327.4 993.2h0M298.6 1008.4h0M396.8 991h0M371.4 904.8h0M376.6 947.4h0M366.1 770h0M388.3 981.8h0M398.7 1003.5h0M406.7 1000.1h0M410 1007h0M401.6 997.8h0M401.3 993.9h0M363.6 664.3h0M346 931.3h0M347.6 907.7h0M409 1005.7h0M327.2 982h0M321.1 993.8h0M295.9 1007.1h0M324.3 988.6h0M381.3 952.8h0M356.9 706.1h0M323.2 992.6h0M394.2 984.7h0M396.9 993.6h0M335.2 968.5h0M345 928.8h0M320.6 999.2h0M412.6 1005.6h0M360.7 735.4h0M408 999.7h0M329.8 992.4h0M419.5 1007.1h0M386.9 980.5h0M299.9 1000h0M395.5 989.6h0M386.8 976.6h0M391.1 975h0M350 910.6h0M385.8 971.4h0M312.3 1001.7h0M299.3 1006h0M389.8 977.2h0M360.8 735.8h0M405.4 993.9h0M314.7 999.1h0M365.2 813.7h0M318.9 997.3h0M349.2 914.2h0M369.9 837.7h0M359.5 704.8h0M374.4 946.2h0M361.7 735.1h0M296.9 1015.3h0M309.8 1003.1h0M319.1 999.5h0M369.2 862.5h0M336.8 972.9h0M372.1 915.2h0M312.3 994.9h0M364.7 749h0M396 987.6h0M390.7 978.7h0M374.3 901.2h0M348.7 899.4h0M390.4 976.6h0M417.5 1001.3h0M357.4 747.4h0M362.9 760.3h0M347.2 915.2h0M342.4 960.8h0M383.8 966.5h0M389.4 983.4h0M318.6 999.1h0M335.3 991.7h0M297.6 1006h0M350.6 866.1h0M307.7 999.9h0M318.2 996.8h0M408.2 1000.2h0M421.4 1005.4h0M370.5 900.7h0M365.2 679h0M357.7 706.8h0M313 999.6h0M343.7 941.4h0M401.7 997.9h0M360 686.1h0M370.6 864.2h0M398.4 991h0M393.5 981.3h0M375.4 919.1h0M388.9 974.2h0M338.8 976.1h0M397.4 985h0M341.2 950.6h0M373.9 908h0M391.4 990.2h0M354.9 714.4h0M307.4 1009.4h0M368.3 820.7h0M340.5 971h0M386.5 982.6h0M379.1 956.9h0M396.3 979.4h0M393.3 989.6h0M408 996.9h0M365.3 731.7h0M334.8 978h0M358.4 696.2h0M343.9 945.9h0M401.9 1001.8h0M303 1011.2h0M377.3 961.4h0M301.9 1014.8h0M311.3 1011.2h0M377.4 938.9h0M422.9 1006.5h0M320.8 999.1h0M307.8 1007.6h0M307.2 1008.9h0M326.1 994.8h0M356.7 719.4h0M353 853.9h0M420.7 1008.3h0M392.7 987.6h0M412.6 1001.1h0M423.6 1012.2h0M343 966.8h0M418.3 1001.7h0M358.1 707.9h0M417.5 1009.7h0M414.3 1004.1h0M366.1 736.8h0M374 913.7h0M314.1 1001.1h0M314 998.7h0M374.8 927.7h0M330.3 983.1h0M354.8 827.3h0M358.9 707.8h0M316.4 998.2h0M393.4 995h0M365.7 726.3h0M327.2 988.6h0M341 968h0M349.1 903.9h0M307.4 1006.8h0M378.3 946.6h0M354.4 735.6h0M380.5 961.5h0M342.6 957.7h0M368.9 878.1h0M402.3 994.6h0M329.4 987.3h0M297.2 1002.7h0M374.7 936.9h0M395.1 990.3h0M418.6 1007.6h0M390.8 975.2h0M356.2 788.4h0M359.6 665.1h0M379.7 968.2h0M357.6 722.7h0M355.1 794.3h0M380.1 941.3h0M314.7 999.1h0M326.2 994h0M381 973.1h0M329.8 986.7h0M343.9 931.2h0M411.9 1008.5h0M362.9 696.7h0M296.3 1001.9h0M355.6 785.7h0M387.1 974.4h0M347 948.6h0M405 992h0M350.7 889.3h0M402.2 997.9h0M387.6 976.7h0M387.2 978.6h0M306.6 1004.7h0M412.7 1004h0M414.8 1008.4h0M380 954.3h0M403.8 996.8h0M364.1 761.7h0M302 1011.4h0M333.3 978.9h0M328 993h0M394.6 979.4h0M339.9 960.2h0M367.1 838.3h0M340.3 966.2h0M331.6 977.1h0M330.2 979.9h0M335.6 959.9h0M394.1 999.8h0M368.3 834.9h0M377.6 961h0M399.2 985h0M300.6 1014.4h0M411.2 1007.9h0M397.4 996.3h0M379.6 963.8h0M392.8 991.5h0M398.7 989.5h0M387.7 977.2h0M409.2 1002.5h0M407.2 1001.1h0M415.3 1011.5h0M374.3 912.5h0M415.7 1010.1h0M393 984.6h0M361.7 662.3h0M388.7 987.2h0M362.1 681h0M398 989.2h0M373.1 916.4h0M388.8 974.6h0M364.2 694.3h0M401.9 994.9h0M307.8 999.9h0M370.1 889.2h0M417.9 998.6h0M422.4 1005.5h0M381.7 953.1h0M308.7 1005.6h0M373.7 940.1h0M347.2 927.5h0M322.1 1000.8h0M318.4 1003.7h0M338.6 960.4h0M342.1 954.7h0M335.4 975.8h0M370.9 894.1h0M359.9 693.4h0M389.8 980.8h0M304.5 1006.2h0M346.1 924.4h0M413.6 1007.6h0M398 988.6h0M359.2 740.8h0M393.2 993.2h0M385.5 983.9h0M302.8 1007.5h0M377 941.1h0M336.9 970.7h0M354.4 789.6h0M330.8 985.2h0M398 990.6h0M410.6 1005h0M303.8 1009.3h0M380.2 966.9h0M296.3 1003.6h0M324.1 1003.1h0M337.9 975.8h0M362.3 728.2h0M355.7 722.6h0M384 974.6h0M339.2 960.2h0M380.6 958.6h0M346.6 930.4h0M314.2 1001.6h0M384.8 971.3h0M353.8 869.9h0M422 1008.3h0M418.9 999.9h0M341.4 970.1h0M315.8 999.3h0M347.2 935.7h0M369.7 847.1h0M303.1 1001.9h0M329.3 991.5h0M338.9 965.1h0M357 752.4h0M403 1001.1h0M379.4 960.8h0M335.7 968h0M390.8 979.7h0M299.9 1001.2h0M328.6 993.1h0M411.4 1003.7h0M334.7 979.9h0M366.4 854.6h0M356.5 720.6h0M312.1 998.9h0M367.4 818h0M312.6 1003.3h0M347.1 913.5h0M334.9 970.5h0M300.4 1002.6h0M366.1 739.9h0M340.8 959.7h0M323.7 995.1h0M307 998.6h0M387.9 981.7h0M422.1 1007.8h0M371.4 926.4h0M387.2 976.2h0M399.9 994.3h0M385.8 960.1h0M344.6 945.6h0M303.8 1010.1h0M360.5 729.7h0M333.4 972.9h0M307.1 1005h0M388.2 987.6h0M384.4 966.7h0M411.5 1012.2h0M411.6 999.1h0M368.2 731h0M417.5 1011.9h0M403.3 1002.4h0M348 932h0M356.3 726h0M366.8 765.4h0M358.1 707h0M317.3 992.2h0M378.9 957.3h0M320.3 993.9h0M335.4 971h0M407.6 999.2h0M358.5 674.3h0M394.8 989.7h0M359.9 713.8h0M380.5 969.8h0M404.6 1000.8h0M295.8 1004.7h0M300 1000.3h0M353.3 790.6h0M349.4 908.7h0M395.4 992.9h0M407.8 1001.9h0M338.9 975.5h0M360.9 718.2h0M398.8 992.5h0M381.7 959.2h0M340.4 955.1h0M366.8 779h0M385 975.4h0M421.7 1002.6h0M379.7 956.8h0M341.6 956.4h0M312.1 994.5h0M343.8 945.7h0M397.7 988.2h0M370.3 879.2h0M336.2 973.2h0M349.3 900.2h0M300 1006.6h0M412 1003.5h0M340.7 964.4h0M410.3 997.2h0M416.1 1005.3h0M346.6 936.5h0M373.5 928.7h0M409.6 998.9h0M393.7 977.4h0M417.3 1010.2h0M410.8 1001.1h0M362.2 664h0M365.1 792.8h0M373.5 917h0M300.7 1003.2h0M370.1 838.8h0M391.7 991.6h0M410.3 1004.2h0M355.9 816.6h0M420.4 1011.1h0M349.8 876.4h0M346.8 918.7h0M328.2 987.3h0M298.4 1007.6h0M359.6 709.3h0M336.4 973h0M329.7 987.3h0M415.5 1011.3h0M358 693h0M418.6 1006.9h0M299.2 1004.6h0M412.5 1005.8h0M415.5 999.6h0M360.3 697.2h0M386.2 976.5h0M391.6 979h0M300.4 1010.6h0M300.2 1000.9h0M360.8 662.5h0M318.7 1004.7h0M422.6 1012.7h0M320.6 994.2h0M363.6 688h0M347.1 927.6h0M382 973.7h0M301.2 1012.2h0M415.8 1013.9h0M391.2 984.6h0M336.7 972.9h0M297.2 1015.2h0M416.1 1005.3h0M389.3 975.1h0M341.9 955.7h0M314.4 1003.7h0M389.6 981.8h0M326.4 999.8h0M381.4 963.5h0M390.8 982.6h0M367.7 776.3h0M357.4 784.3h0M382.6 969.6h0M332.4 969.5h0M304.1 1009.2h0M381.1 983.3h0M329.2 985.3h0M340.7 970.5h0M403.9 1000.6h0M342.2 956.4h0M358.5 698.2h0M331.5 991h0M362.1 672.4h0M411.2 1001.5h0M398.8 991.6h0M296 1006.5h0M385.1 967.7h0M347.6 921.3h0M368.1 844.6h0M368.7 823.9h0M302.9 1007.7h0M331.1 991.2h0M414.9 1013.6h0M311.2 1002.7h0M379.4 939.7h0M364.6 729.6h0M356.1 741.8h0M417.3 1009.4h0M313.3 1004.1h0M403.6 994.1h0M365.8 734.3h0M340.9 960.6h0M327.6 989.7h0M334.1 972.5h0M301 1001.8h0M354.6 830.1h0M293.7 1010.1h0M401 1006h0M324.2 1000.7h0M303.7 1005.9h0M418.7 1007.7h0M353.5 822h0M362.7 694.7h0M416.6 1006.3h0M348.1 926.3h0M322.4 994.1h0M396.4 997.2h0M369.3 850.3h0M353.4 819.3h0M317.2 1000.7h0M352.2 830.3h0M367.3 801.9h0M371.1 843.6h0M422.5 1005.8h0M326 992.9h0M419.9 1009.9h0M296.7 999.7h0M309.9 1007.6h0M362.1 665.7h0M330.6 989.3h0M421.9 1009.2h0M412.3 1002h0M351.9 898.4h0M366.5 813h0M302.8 1003.7h0M385 975.2h0M401.1 987.6h0M374.3 922.5h0M346.3 932.2h0M315.6 1001.2h0M320.4 992.3h0M415.9 1006.3h0M393.9 989.2h0M404.6 1002.5h0M370.7 875h0M364.4 691h0M349.7 906.6h0M318.8 1000.3h0M379.7 970h0M386.9 970.4h0M361.1 679.9h0M301 1012.3h0M341 962.7h0M310.1 1002.9h0M303.7 1008.4h0M327.8 989.1h0M410.6 1003h0M306.3 1004.5h0M388.2 974.5h0M371.5 899.4h0M404 994.9h0M421.8 1006.2h0M342.9 944.8h0M419.5 1007.8h0M332.3 976.9h0M409.6 994h0M364.8 704.4h0M382.1 965.5h0M313.1 998.1h0M317.5 1004h0M405 1000.4h0M384.9 966.2h0M348.9 906.4h0M333.4 968.7h0M409.2 1002.8h0M353.7 799.9h0M333.5 976.3h0M297.5 1008.7h0M386.4 983.8h0M411 999h0M371.2 869.7h0M346.1 939.1h0M343 956h0M329.9 995.2h0M311.7 1000h0M303.8 1007.9h0M295.2 1007.1h0M318.4 1002.2h0M352.7 818.2h0M381.7 968.2h0M377.4 950.4h0M418.2 1002.2h0M389.9 979h0M407.7 999.9h0M340.3 941.2h0M405.9 998.7h0M311.9 1005.6h0M325.5 985.5h0M345.4 925.7h0M354.5 784.2h0M345.9 923.6h0M423 1004.2h0M415.9 1006.1h0M346.6 932.7h0M402.5 1001.2h0M379.2 958.2h0M321.5 988.1h0M302.1 1009.7h0M322.7 990.1h0M394.9 983.4h0M314 1001.8h0M402.1 999.3h0M297.8 1010.1h0M401.8 996.6h0M419.3 1007.7h0M324.7 993.2h0M393.9 992h0M299 1007.4h0M344.4 910.4h0M367.6 829.7h0M403.6 1002.6h0M349.8 912.3h0M378.7 953.5h0M393.6 986.4h0M327.3 986.9h0M419.9 1006.1h0M377.7 951.7h0M371.9 922.9h0M352.4 892.4h0M306 1014h0M355.3 700.5h0M325.9 997.1h0M328 989.3h0M316.1 1001.7h0M340.5 968.4h0M326.5 981.5h0M413 1008.5h0M351.2 874.4h0M307.7 1003.9h0M351.6 867.8h0M387.9 978h0M310.5 997.8h0M296.8 1004.2h0M374 944.9h0M390.8 981.6h0M362.2 720.1h0M388.2 980.2h0M353.8 740.4h0M353.6 858.1h0M311.6 1010.2h0M358.8 677.4h0M363.5 683.7h0M299.6 1012.4h0M353.3 865h0M360.3 677h0M352.2 840.4h0M418.1 1006.6h0M415.9 1008.2h0M308.1 1004.5h0M369.1 840.6h0M364.8 760.4h0M375.6 911.5h0M415.2 1011.1h0M367.7 779.5h0M395.8 997.4h0M412 1008.8h0M413.1 1003.5h0M384 977h0M330.7 992.6h0M382.6 971h0M381.7 954.2h0M381.7 975.3h0M364.5 665.6h0M343.6 929.9h0M320.7 993.2h0M409.7 1001.7h0M356.1 751.1h0M384.2 974.9h0M410 1001.2h0M374.3 927.4h0M354.7 718.5h0M349.9 916.9h0M351 858.8h0M334.8 967.9h0M408.4 1007.1h0M379.9 958.6h0M307.3 1009.8h0M383.3 955.4h0M321.8 997.6h0M339.7 960.4h0M390 971.3h0M315.3 1009.1h0M391.6 990.5h0M356.8 782.7h0M333.3 987h0M352.2 910.8h0M336.2 978.6h0M300.3 1002.2h0M342.5 959.3h0M397.6 991.3h0M309.7 998.2h0M307.2 1004.2h0M323.2 996.9h0M380.3 938.3h0M366 708.4h0M325.5 997.3h0M328.8 1000.1h0M403 1001.2h0M309.4 1004.4h0M356.2 763.9h0M358.1 715.1h0M388.8 969.7h0M421.6 1003.8h0M321.6 1005.5h0M307.1 1007.7h0M368.3 855h0M345 930.7h0M310 1002.1h0M317.7 997.3h0M392.9 986.8h0M421.9 1008.4h0M310.1 1009h0M300.7 1006.7h0M317.9 1003.6h0M308.2 1006.3h0M369.4 881.4h0M316.6 1000.3h0M336.1 970.4h0M366.3 716.1h0M363.9 722.1h0M395.7 987.3h0M412.9 1005.7h0M394.1 987.4h0M372.4 910.9h0M366.3 748.3h0M378.5 946.9h0M319.8 997.3h0M299.5 1009.7h0M320.5 988.5h0M331.7 981.6h0M315.8 999.6h0M368.1 838h0M355.9 757h0M312.5 1008.8h0M307 1006.8h0M315.9 1005.9h0M353.9 816.2h0M309.6 995.3h0M365.4 755.4h0M359.6 691h0M362.5 660.2h0M392.8 993.8h0M350.4 896.4h0M409.8 1007h0M299.1 1001.3h0M309.6 1000.6h0M404.2 1002.2h0M303.9 1006.1h0M344.3 943.9h0M412.3 1003.8h0M314.4 1009h0M337.4 970.5h0M383.6 970.1h0M322 992.9h0M415.2 1005.5h0M377.7 941.5h0M336.6 974h0M358.4 673.3h0M344.4 940.6h0M345.6 956.9h0M332.7 976.1h0M356.6 655.8h0M387.5 978h0M298 1015.2h0M350.2 876h0M415.7 1008.1h0M329.6 988.9h0M364.4 713.2h0M411.9 1007.5h0M305.1 1009.6h0M355.6 768.5h0M298.4 1003.4h0M373.6 890.6h0M320.7 992.3h0M342.7 949.9h0M336.9 966.9h0M380.7 950.3h0M412.8 997.7h0M369.5 869.6h0M348.9 893h0M311.1 1004.7h0M296.7 1002.4h0M422 999.5h0M410.8 996.6h0M353.4 830h0M330.2 995.5h0M405.3 1002.4h0M359.9 675.1h0M377.9 959.7h0M301.6 1009.1h0M369.3 841h0M315.7 1005.3h0M317.5 1005.8h0M381.4 961.9h0M355.9 776.4h0M328.3 980.8h0M350.8 871.1h0M395.3 984.9h0M353.2 857.7h0M327 998.7h0M333.9 992.4h0M301.3 1012.5h0M343.6 943.7h0M321.5 1003h0M390.5 978.9h0M375.5 911.9h0M317.6 995.3h0M325.6 988.7h0M320.1 995.5h0M384.7 985.7h0M380.5 964.6h0M313.8 1000.8h0M310.8 1010.1h0M392.7 989.5h0M356.2 808.6h0M361.2 684.7h0M388.4 978.7h0M395.9 990.2h0M360.3 671.7h0M347.1 897h0M357.6 703h0M409.6 1000.5h0M335 969.8h0M417.8 1005.8h0M305.2 1005.7h0M312.9 1003.4h0M358.5 717.8h0M353.6 846.9h0M347.6 910.5h0M415.4 1005h0M385.5 975.5h0M392 975.8h0M314.8 997h0M353.1 858.3h0M358.4 752.4h0M362.4 695.6h0M333 982.7h0M407 997.3h0M344.7 934.3h0M378.9 952.6h0M346.8 934.2h0M304.8 1006.5h0M363.5 703.6h0M366.9 780.1h0M363 705.8h0M401 1000.5h0M399.4 1001.1h0M329.5 984.2h0M383.9 956.7h0M305.7 998.3h0M320.5 996.4h0M405.1 1001.4h0M417 1004.7h0M364.4 769.1h0M333.9 976.2h0M353.9 790.8h0M313.2 1003.5h0M303.1 1013.6h0M349.1 920.4h0M297.9 1005.2h0M390.2 987.7h0M408.6 1003.5h0M365.6 750.2h0M338.3 965.9h0M411.7 1005.9h0M403.1 1000.7h0M400.4 1004.7h0M414.2 1000.9h0M414.7 1000h0M302.3 1008.4h0M394.2 986.3h0M411 1007.4h0M336.8 968.4h0M317.3 998.7h0M409.1 1004.9h0M385.1 979.9h0M409.6 998.4h0M384.7 969.1h0M327.4 984.7h0M317.5 1002.9h0M417.9 999.2h0" stroke="#2fb065" stroke-width="2.8800000000000003" stroke-linecap="square" fill="none" opacity="1.0"/>
<path d="M295.7 1010.5L295.8 1010.5L296 1010.5L296.1 1010.5L296.3 1010.5L296.4 1010.5L296.5 1010.5L296.7 1010.5L296.8 1010.5L297 1010.5L297.1 1010.5L297.3 1010.5L297.4 1010.5L297.5 1010.5L297.7 1010.4L297.8 1010.4L298 1010.4L298.1 1010.4L298.2 1010.4L298.4 1010.4L298.5 1010.4L298.7 1010.4L298.8 1010.4L298.9 1010.3L299.1 1010.3L299.2 1010.3L299.4 1010.3L299.5 1010.3L299.6 1010.3L299.8 1010.2L299.9 1010.2L300.1 1010.2L300.2 1010.2L300.4 1010.1L300.5 1010.1L300.6 1010.1L300.8 1010.1L300.9 1010.1L301.1 1010L301.2 1010L301.3 1010L301.5 1010L301.6 1009.9L301.8 1009.9L301.9 1009.9L302 1009.8L302.2 1009.8L302.3 1009.8L302.5 1009.7L302.6 1009.7L302.8 1009.7L302.9 1009.6L303 1009.6L303.2 1009.6L303.3 1009.5L303.5 1009.5L303.6 1009.5L303.7 1009.4L303.9 1009.4L304 1009.4L304.2 1009.3L304.3 1009.3L304.4 1009.2L304.6 1009.2L304.7 1009.1L304.9 1009.1L305 1009.1L305.2 1009L305.3 1009L305.4 1008.9L305.6 1008.9L305.7 1008.8L305.9 1008.8L306 1008.7L306.1 1008.7L306.3 1008.6L306.4 1008.6L306.6 1008.5L306.7 1008.5L306.8 1008.4L307 1008.4L307.1 1008.3L307.3 1008.3L307.4 1008.2L307.5 1008.1L307.7 1008.1L307.8 1008L308 1008L308.1 1007.9L308.3 1007.9L308.4 1007.8L308.5 1007.7L308.7 1007.7L308.8 1007.6L309 1007.5L309.1 1007.5L309.2 1007.4L309.4 1007.3L309.5 1007.3L309.7 1007.2L309.8 1007.1L309.9 1007.1L310.1 1007L310.2 1006.9L310.4 1006.9L310.5 1006.8L310.7 1006.7L310.8 1006.6L310.9 1006.6L311.1 1006.5L311.2 1006.4L311.4 1006.3L311.5 1006.3L311.6 1006.2L311.8 1006.1L311.9 1006L312.1 1005.9L312.2 1005.9L312.3 1005.8L312.5 1005.7L312.6 1005.6L312.8 1005.5L312.9 1005.4L313 1005.3L313.2 1005.3L313.3 1005.2L313.5 1005.1L313.6 1005L313.8 1004.9L313.9 1004.8L314 1004.7L314.2 1004.6L314.3 1004.5L314.5 1004.4L314.6 1004.3L314.7 1004.2L314.9 1004.1L315 1004L315.2 1003.9L315.3 1003.8L315.4 1003.7L315.6 1003.6L315.7 1003.5L315.9 1003.4L316 1003.3L316.2 1003.2L316.3 1003.1L316.4 1003L316.6 1002.9L316.7 1002.8L316.9 1002.6L317 1002.5L317.1 1002.4L317.3 1002.3L317.4 1002.2L317.6 1002.1L317.7 1002L317.8 1001.8L318 1001.7L318.1 1001.6L318.3 1001.5L318.4 1001.3L318.5 1001.2L318.7 1001.1L318.8 1001L319 1000.8L319.1 1000.7L319.3 1000.6L319.4 1000.5L319.5 1000.3L319.7 1000.2L319.8 1000.1L320 999.9L320.1 999.8L320.2 999.6L320.4 999.5L320.5 999.4L320.7 999.2L320.8 999.1L320.9 998.9L321.1 998.8L321.2 998.7L321.4 998.5L321.5 998.4L321.7 998.2L321.8 998.1L321.9 997.9L322.1 997.8L322.2 997.6L322.4 997.4L322.5 997.3L322.6 997.1L322.8 997L322.9 996.8L323.1 996.7L323.2 996.5L323.3 996.3L323.5 996.2L323.6 996L323.8 995.8L323.9 995.7L324.1 995.5L324.2 995.3L324.3 995.1L324.5 995L324.6 994.8L324.8 994.6L324.9 994.4L325 994.3L325.2 994.1L325.3 993.9L325.5 993.7L325.6 993.5L325.7 993.3L325.9 993.2L326 993L326.2 992.8L326.3 992.6L326.4 992.4L326.6 992.2L326.7 992L326.9 991.8L327 991.6L327.2 991.4L327.3 991.2L327.4 991L327.6 990.8L327.7 990.6L327.9 990.4L328 990.2L328.1 990L328.3 989.7L328.4 989.5L328.6 989.3L328.7 989.1L328.8 988.9L329 988.7L329.1 988.4L329.3 988.2L329.4 988L329.6 987.8L329.7 987.5L329.8 987.3L330 987.1L330.1 986.8L330.3 986.6L330.4 986.4L330.5 986.1L330.7 985.9L330.8 985.6L331 985.4L331.1 985.2L331.2 984.9L331.4 984.7L331.5 984.4L331.7 984.2L331.8 983.9L331.9 983.6L332.1 983.4L332.2 983.1L332.4 982.9L332.5 982.6L332.7 982.3L332.8 982.1L332.9 981.8L333.1 981.5L333.2 981.3L333.4 981L333.5 980.7L333.6 980.4L333.8 980.1L333.9 979.9L334.1 979.6L334.2 979.3L334.3 979L334.5 978.7L334.6 978.4L334.8 978.1L334.9 977.8L335.1 977.5L335.2 977.2L335.3 976.9L335.5 976.6L335.6 976.3L335.8 976L335.9 975.7L336 975.4L336.2 975.1L336.3 974.8L336.5 974.5L336.6 974.1L336.7 973.8L336.9 973.5L337 973.2L337.2 972.8L337.3 972.5L337.4 972.2L337.6 971.8L337.7 971.5L337.9 971.2L338 970.8L338.2 970.5L338.3 970.1L338.4 969.7L338.6 969.3L338.7 969L338.9 968.6L339 968.1L339.1 967.7L339.3 967.3L339.4 966.9L339.6 966.4L339.7 965.9L339.8 965.5L340 965L340.1 964.5L340.3 964L340.4 963.5L340.6 963L340.7 962.4L340.8 961.9L341 961.3L341.1 960.8L341.3 960.2L341.4 959.6L341.5 959L341.7 958.4L341.8 957.7L342 957.1L342.1 956.4L342.2 955.8L342.4 955.1L342.5 954.4L342.7 953.7L342.8 953L343 952.2L343.1 951.5L343.2 950.7L343.4 950L343.5 949.2L343.7 948.4L343.8 947.6L343.9 946.7L344.1 945.9L344.2 945L344.4 944.2L344.5 943.3L344.6 942.4L344.8 941.5L344.9 940.5L345.1 939.6L345.2 938.6L345.3 937.6L345.5 936.6L345.6 935.6L345.8 934.5L345.9 933.5L346.1 932.4L346.2 931.3L346.3 930.2L346.5 929.1L346.6 927.9L346.8 926.8L346.9 925.6L347 924.4L347.2 923.2L347.3 921.9L347.5 920.7L347.6 919.4L347.7 918.1L347.9 916.7L348 915.4L348.2 914L348.3 912.6L348.5 911.2L348.6 909.8L348.7 908.3L348.9 906.9L349 905.4L349.2 903.8L349.3 902.3L349.4 900.7L349.6 899.1L349.7 897.4L349.9 895.7L350 893.9L350.1 892.1L350.3 890.2L350.4 888.2L350.6 886.2L350.7 884.1L350.8 881.9L351 879.7L351.1 877.4L351.3 875L351.4 872.6L351.6 870.1L351.7 867.5L351.8 864.9L352 862.2L352.1 859.4L352.3 856.5L352.4 853.6L352.5 850.6L352.7 847.5L352.8 844.4L353 841.2L353.1 837.9L353.2 834.5L353.4 830.9L353.5 826.9L353.7 822.6L353.8 818.1L354 813.2L354.1 808.1L354.2 802.7L354.4 797.1L354.5 791.3L354.7 785.3L354.8 779.2L354.9 772.9L355.1 766.6L355.2 760.2L355.4 753.8L355.5 747.4L355.6 741.1L355.8 735L355.9 729L356.1 723.3L356.2 717.9L356.3 712.9L356.5 708.3L356.6 704.3L356.8 700.8L356.9 697.9L357.1 695.7L357.2 693.6L357.3 691.6L357.5 689.6L357.6 687.7L357.8 685.7L357.9 683.9L358 682L358.2 680.2L358.3 678.5L358.5 676.8L358.6 675.2L358.7 673.7L358.9 672.2L359 670.9L359.2 669.5L359.3 668.3L359.5 667.2L359.6 666.2L359.7 665.2L359.9 664.4L360 663.6L360.2 663L360.3 662.5L360.4 662.1L360.6 661.9L360.7 661.7L360.9 661.7L361 661.9L361.1 662.1L361.3 662.5L361.4 663L361.6 663.6L361.7 664.3L361.9 665.1L362 666.1L362.1 667.1L362.3 668.2L362.4 669.4L362.6 670.7L362.7 672.1L362.8 673.5L363 675.1L363.1 676.7L363.3 678.3L363.4 680.1L363.5 681.8L363.7 683.7L363.8 685.5L364 687.5L364.1 689.4L364.2 691.4L364.4 693.4L364.5 695.5L364.7 697.6L364.8 700.4L365 703.9L365.1 707.9L365.2 712.4L365.4 717.4L365.5 722.7L365.7 728.4L365.8 734.3L365.9 740.4L366.1 746.7L366.2 753.1L366.4 759.5L366.5 765.9L366.6 772.2L366.8 778.5L366.9 784.7L367.1 790.7L367.2 796.5L367.4 802.1L367.5 807.5L367.6 812.7L367.8 817.6L367.9 822.2L368.1 826.5L368.2 830.5L368.3 834.2L368.5 837.5L368.6 840.8L368.8 844.1L368.9 847.2L369 850.3L369.2 853.3L369.3 856.2L369.5 859.1L369.6 861.9L369.7 864.6L369.9 867.2L370 869.8L370.2 872.3L370.3 874.8L370.5 877.1L370.6 879.4L370.7 881.7L370.9 883.8L371 886L371.2 888L371.3 890L371.4 891.9L371.6 893.7L371.7 895.5L371.9 897.3L372 898.9L372.1 900.5L372.3 902.1L372.4 903.7L372.6 905.2L372.7 906.7L372.9 908.2L373 909.6L373.1 911.1L373.3 912.5L373.4 913.9L373.6 915.3L373.7 916.6L373.8 917.9L374 919.2L374.1 920.5L374.3 921.8L374.4 923L374.5 924.3L374.7 925.5L374.8 926.7L375 927.8L375.1 929L375.2 930.1L375.4 931.2L375.5 932.3L375.7 933.4L375.8 934.4L376 935.5L376.1 936.5L376.2 937.5L376.4 938.5L376.5 939.5L376.7 940.4L376.8 941.4L376.9 942.3L377.1 943.2L377.2 944.1L377.4 945L377.5 945.8L377.6 946.7L377.8 947.5L377.9 948.3L378.1 949.1L378.2 949.9L378.4 950.7L378.5 951.4L378.6 952.2L378.8 952.9L378.9 953.6L379.1 954.3L379.2 955L379.3 955.7L379.5 956.4L379.6 957L379.8 957.7L379.9 958.3L380 958.9L380.2 959.5L380.3 960.1L380.5 960.7L380.6 961.3L380.8 961.8L380.9 962.4L381 962.9L381.2 963.4L381.3 963.9L381.5 964.4L381.6 964.9L381.7 965.4L381.9 965.9L382 966.4L382.2 966.8L382.3 967.2L382.4 967.7L382.6 968.1L382.7 968.5L382.9 968.9L383 969.3L383.1 969.7L383.3 970.1L383.4 970.4L383.6 970.8L383.7 971.1L383.9 971.5L384 971.8L384.1 972.1L384.3 972.5L384.4 972.8L384.6 973.1L384.7 973.4L384.8 973.8L385 974.1L385.1 974.4L385.3 974.7L385.4 975.1L385.5 975.4L385.7 975.7L385.8 976L386 976.3L386.1 976.6L386.3 976.9L386.4 977.2L386.5 977.5L386.7 977.8L386.8 978.1L387 978.4L387.1 978.7L387.2 979L387.4 979.3L387.5 979.5L387.7 979.8L387.8 980.1L387.9 980.4L388.1 980.7L388.2 981L388.4 981.2L388.5 981.5L388.6 981.8L388.8 982L388.9 982.3L389.1 982.6L389.2 982.8L389.4 983.1L389.5 983.4L389.6 983.6L389.8 983.9L389.9 984.1L390.1 984.4L390.2 984.6L390.3 984.9L390.5 985.1L390.6 985.4L390.8 985.6L390.9 985.9L391 986.1L391.2 986.3L391.3 986.6L391.5 986.8L391.6 987L391.8 987.3L391.9 987.5L392 987.7L392.2 988L392.3 988.2L392.5 988.4L392.6 988.6L392.7 988.9L392.9 989.1L393 989.3L393.2 989.5L393.3 989.7L393.4 989.9L393.6 990.1L393.7 990.4L393.9 990.6L394 990.8L394.1 991L394.3 991.2L394.4 991.4L394.6 991.6L394.7 991.8L394.9 992L395 992.2L395.1 992.4L395.3 992.6L395.4 992.8L395.6 993L395.7 993.1L395.8 993.3L396 993.5L396.1 993.7L396.3 993.9L396.4 994.1L396.5 994.2L396.7 994.4L396.8 994.6L397 994.8L397.1 995L397.3 995.1L397.4 995.3L397.5 995.5L397.7 995.6L397.8 995.8L398 996L398.1 996.1L398.2 996.3L398.4 996.5L398.5 996.6L398.7 996.8L398.8 997L398.9 997.1L399.1 997.3L399.2 997.4L399.4 997.6L399.5 997.7L399.7 997.9L399.8 998L399.9 998.2L400.1 998.3L400.2 998.5L400.4 998.6L400.5 998.8L400.6 998.9L400.8 999.1L400.9 999.2L401.1 999.4L401.2 999.5L401.3 999.6L401.5 999.8L401.6 999.9L401.8 1000L401.9 1000.2L402 1000.3L402.2 1000.4L402.3 1000.6L402.5 1000.7L402.6 1000.8L402.8 1001L402.9 1001.1L403 1001.2L403.2 1001.3L403.3 1001.5L403.5 1001.6L403.6 1001.7L403.7 1001.8L403.9 1001.9L404 1002.1L404.2 1002.2L404.3 1002.3L404.4 1002.4L404.6 1002.5L404.7 1002.6L404.9 1002.7L405 1002.9L405.2 1003L405.3 1003.1L405.4 1003.2L405.6 1003.3L405.7 1003.4L405.9 1003.5L406 1003.6L406.1 1003.7L406.3 1003.8L406.4 1003.9L406.6 1004L406.7 1004.1L406.8 1004.2L407 1004.3L407.1 1004.4L407.3 1004.5L407.4 1004.6L407.5 1004.7L407.7 1004.8L407.8 1004.9L408 1005L408.1 1005.1L408.3 1005.2L408.4 1005.2L408.5 1005.3L408.7 1005.4L408.8 1005.5L409 1005.6L409.1 1005.7L409.2 1005.8L409.4 1005.8L409.5 1005.9L409.7 1006L409.8 1006.1L409.9 1006.2L410.1 1006.2L410.2 1006.3L410.4 1006.4L410.5 1006.5L410.7 1006.6L410.8 1006.6L410.9 1006.7L411.1 1006.8L411.2 1006.9L411.4 1006.9L411.5 1007L411.6 1007.1L411.8 1007.1L411.9 1007.2L412.1 1007.3L412.2 1007.3L412.3 1007.4L412.5 1007.5L412.6 1007.5L412.8 1007.6L412.9 1007.7L413 1007.7L413.2 1007.8L413.3 1007.8L413.5 1007.9L413.6 1008L413.8 1008L413.9 1008.1L414 1008.1L414.2 1008.2L414.3 1008.3L414.5 1008.3L414.6 1008.4L414.7 1008.4L414.9 1008.5L415 1008.5L415.2 1008.6L415.3 1008.6L415.4 1008.7L415.6 1008.7L415.7 1008.8L415.9 1008.8L416 1008.9L416.2 1008.9L416.3 1009L416.4 1009L416.6 1009.1L416.7 1009.1L416.9 1009.1L417 1009.2L417.1 1009.2L417.3 1009.3L417.4 1009.3L417.6 1009.3L417.7 1009.4L417.8 1009.4L418 1009.5L418.1 1009.5L418.3 1009.5L418.4 1009.6L418.6 1009.6L418.7 1009.6L418.8 1009.7L419 1009.7L419.1 1009.7L419.3 1009.8L419.4 1009.8L419.5 1009.8L419.7 1009.9L419.8 1009.9L420 1009.9L420.1 1009.9L420.2 1010L420.4 1010L420.5 1010L420.7 1010.1L420.8 1010.1L420.9 1010.1L421.1 1010.1L421.2 1010.1L421.4 1010.2L421.5 1010.2L421.7 1010.2L421.8 1010.2L421.9 1010.2L422.1 1010.3L422.2 1010.3L422.4 1010.3L422.5 1010.3" stroke="#0a7f0a" stroke-width="1.5" fill="none" stroke-linejoin="round"/>
<path d="M469.3 1005.3h0M505.7 732.6h0M460.3 1003.1h0M511.9 834.3h0M514.6 882.8h0M468.5 996.2h0M532.2 980.7h0M532.8 982.6h0M504.1 661.3h0M516.9 890.2h0M458.2 999.4h0M509 656.7h0M533.9 969.6h0M498.3 854.3h0M512 813.9h0M499.3 806.2h0M475.1 983.4h0M545.1 996.5h0M457.1 1005h0M515.5 884.3h0M531.1 974.3h0M506.3 704.4h0M495.7 873.6h0M453.2 1009.9h0M459.9 1009.9h0M513.8 871.3h0M482.2 958.1h0M548.9 1002.8h0M456.7 1007.4h0M455.5 999.1h0M514.9 862.4h0M461.3 1004.7h0M472.2 997h0M463.1 997h0M500.3 804.9h0M505.5 644.2h0M547.6 998.1h0M467.9 993h0M546.6 1008h0M545.5 1003.9h0M538 986.8h0M487.6 946.1h0M524.3 953.7h0M471.1 988.2h0M494.9 865.1h0M540.3 997.5h0M504.4 762.7h0M487.1 929.9h0M504.9 666h0M468.7 1003.4h0M525.3 970h0M455.2 1003h0M500.3 836.8h0M476.3 981.1h0M523.2 940.8h0M533.8 992.8h0M491.6 907.7h0M461.2 1005.1h0M495 870.6h0M494.8 856.3h0M485.5 958.7h0M503.7 730.1h0M495.7 905.7h0M551.9 999.9h0M508.1 772h0M479.9 989.6h0M495.8 858.3h0M522.3 958h0M543.3 985.9h0M443.6 1008.1h0M521.1 956.7h0M491.7 927.3h0M527.7 965.8h0M519.5 927.7h0M517.9 882.1h0M547.8 999.3h0M518.8 905.4h0M525.3 974.3h0M461.8 1004.1h0M453.4 1001.3h0M448.3 1003.7h0M470 996h0M509.4 662.9h0M460.8 998.2h0M485.6 930.7h0M527 958.6h0M525.3 962.2h0M515.6 904.1h0M531.3 974h0M523.2 946.6h0M534.4 986h0M470.1 1004.2h0M495.3 885.5h0M526.5 970.3h0M537.4 977h0M471.6 1003.3h0M483.3 958.8h0M475.1 981.3h0M527.9 972.6h0M464.1 999.7h0M480.3 972.3h0M469.7 1005.5h0M485.8 960.1h0M510.9 713.7h0M507.3 661.8h0M521 940.4h0M481.7 971.8h0M534.4 974.1h0M496.1 885.8h0M491.5 914.3h0M531.9 975.9h0M539.9 1002.6h0M454.8 1006.2h0M544.8 996.6h0M443.5 999.8h0M453.1 1010.7h0M465.7 995.7h0M545.5 988.3h0M482.7 957.5h0M541.8 997.5h0M455.2 1005h0M504.4 719.7h0M528.6 953.8h0M507.7 741h0M495.3 858.2h0M465.6 1002.2h0M499.6 769.1h0M548.5 1004h0M445.8 1002.4h0M493.7 892.3h0M458 1013.2h0M465.1 999.2h0M522.5 957.1h0M483.1 961.2h0M493.4 883.5h0M523.1 922.7h0M525.9 966.8h0M463.9 1002.1h0M507.9 706.4h0M450.1 1006.9h0M520.3 924.5h0M491.8 904.3h0M473.5 990.5h0M539.2 983.2h0M484.4 958.2h0M453.1 1004.7h0M486.6 967.5h0M526.9 973.2h0M510.9 764.6h0M458.7 1006h0M545.9 1002.1h0M490.6 930.2h0M520 903.9h0M462.9 997.5h0M537.5 989.6h0M461.6 996.7h0M546.3 1003.9h0M541 990.9h0M489.2 921.2h0M530.2 965.1h0M484.7 978.6h0M472.1 993.2h0M441.9 1007.7h0M474.9 992.7h0M551.8 995.3h0M507 681.3h0M482.7 978.6h0M505.9 673.4h0M491.2 925.1h0M518 884h0M537.1 996.5h0M461.1 997.7h0M525.2 946.5h0M499.1 767.7h0M447.8 1011.9h0M512.2 865.7h0M547.2 995.5h0M549.6 1004.3h0M511.9 777.8h0M444.7 1012.8h0M483.4 957.9h0M497.6 881.9h0M483.8 965.6h0M542.7 1005.6h0M538.1 986.9h0M473.4 998.2h0M536.8 990.3h0M462.8 999.6h0M513.3 766.7h0M539.1 992.7h0M491.9 888.3h0M453 1011.7h0M549 1005.9h0M531 970.6h0M511.3 741.4h0M541.7 987.2h0M467.8 991.9h0M515.4 914.8h0M457.7 1005.3h0M551.3 1000.8h0M456.5 1000.6h0M526.2 959.5h0M467.7 1003.1h0M473 993.6h0M489.3 919.9h0M528.8 968.3h0M481.9 956.6h0M468.9 1003.6h0M500.3 796.9h0M486.7 959.3h0M447.2 1003.9h0M514.3 860.8h0M483.1 970h0M526.6 950.4h0M444.7 1006.3h0M479.6 990.6h0M543.2 1002.6h0M527.7 979.1h0M507.1 650.6h0M500.3 832.3h0M442.9 1012.5h0M532.4 981h0M474.9 982h0M487 950.8h0M509.3 645h0M508.5 733.9h0M549.8 996.8h0M476.2 976h0M465.3 997.8h0M489.2 956.5h0M505.5 719.8h0M485.1 941.2h0M473.2 992.3h0M459 1002.1h0M528.7 975.8h0M462.1 993.8h0M524.5 952.4h0M545.1 1005.5h0M443.1 1013.1h0M506.7 683.8h0M511.1 795.4h0M473.6 992.3h0M462.3 998.6h0M508.8 795.7h0M497.2 885.5h0M530.1 977.2h0M478.1 988.7h0M445.4 1011.2h0M451.6 1004.7h0M535.9 985.4h0M491.5 883.2h0M528.7 980.7h0M500.4 708.4h0M481.1 953.1h0M493 891.5h0M445 1004.6h0M506.6 690.8h0M469.9 996.9h0M453.5 1003.1h0M489.2 937.3h0M512.1 891h0M523.6 956h0M475.6 992.5h0M497 854.3h0M455.2 1001.5h0M535 979.8h0M510.5 797.2h0M530.5 975.5h0M481.7 975h0M496 891.5h0M532.4 974.8h0M509.7 765.4h0M524.9 969.1h0M452.1 1004.1h0M484.6 978.6h0M522 916.6h0M471.3 994.5h0M496.8 850.5h0M539.4 993.1h0M527.1 976.1h0M546.5 998.1h0M483.7 962.3h0M516.8 870.9h0M480.4 966h0M487.3 944.9h0M469.8 990.5h0M524.6 958.8h0M503.9 689.5h0M519.3 919.3h0M441.5 1010.7h0M532.1 990.8h0M501.1 740.1h0M500.4 703.6h0M460.1 1002.6h0M512.3 802.2h0M528.6 970h0M456.8 1003.5h0M543.7 994.4h0M486 950.4h0M455.8 1004.6h0M489.4 932.3h0M495.4 864.9h0M500.9 749.2h0M512.9 800.2h0M538.3 1001.2h0M462.4 999.1h0M511.4 823.9h0M505.6 720.1h0M497 813.1h0M551.4 1006.2h0M521.2 924.3h0M526.4 976.3h0M539.6 987h0M487.5 943.7h0M542.5 1002.7h0M513.7 865.9h0M460.7 1003.9h0M507 764.9h0M485.1 965.7h0M475.9 994.9h0M473.5 997.4h0M519.6 937.5h0M446.5 1015.1h0M516.6 923.1h0M532 984.7h0M538.6 985.6h0M482.7 956.3h0M500.8 766.1h0M521.6 922.6h0M499 722.3h0M552 997h0M544.7 999h0M467.4 997.5h0M474.2 999.6h0M458.1 998.5h0M511.4 824.3h0M538.9 991.8h0M507.5 760.8h0M454.9 1014.3h0M539.4 1002.5h0M496 889.3h0M454.2 1010.6h0M472.1 991.5h0M510.2 678.6h0M537 983.9h0M544.4 994.1h0M513.9 859.7h0M541.6 991.2h0M469.8 995.9h0M479.9 970.5h0M498.2 867.3h0M539.6 1003.5h0M472.3 997.7h0M498.8 745.6h0M466.3 999.3h0M481.1 976.8h0M441.1 1004.1h0M477.4 978.1h0M529.7 971.3h0M502.1 682.6h0M533.4 975.1h0M510.1 674.8h0M473.7 985h0M517.2 887.7h0M473.2 994.5h0M448.5 1008.8h0M507.5 653.6h0M451.6 1006.9h0M448.4 1002.7h0M515.4 907.6h0M548.4 1004.2h0M520.4 927.3h0M486.5 930.9h0M494.8 882.1h0M521.3 927h0M516.4 871h0M483.1 974.9h0M469.7 992.4h0M539.2 991.9h0M532.8 983h0M492.1 892.4h0M452.3 1004.5h0M470.4 994h0M493 926.9h0M546 1000.1h0M498.5 799.2h0M535.4 986.1h0M482.6 948.9h0M526.6 951.8h0M503 765.5h0M444.9 1003.8h0M517 895h0M550.2 998.7h0M531.7 980.2h0M548.4 1004.8h0M544.7 996.2h0M466.4 990.8h0M471.7 989.3h0M541.2 1004.7h0M545.8 993.1h0M479.4 977.9h0M520 924.5h0M504.3 668.3h0M452 1009h0M504.1 691.1h0M511.1 800.1h0M477.6 986.5h0M498.7 781.3h0M512.2 837h0M503 731.9h0M497.2 874.8h0M538.7 994.4h0M457.5 1005.6h0M457.4 1002.6h0M535.4 974.5h0M447.3 1013h0M458.3 1003.2h0M477.7 979.4h0M484.4 972.4h0M543.2 999.9h0M486.5 957.2h0M540.3 997h0M492.6 911.3h0M523.8 958.4h0M470.7 991.4h0M497.6 904h0M531.7 976.3h0M448.9 1005.1h0M469.1 992.1h0M518.1 923.2h0M462 1008.6h0M478.2 982.1h0M504.6 730.9h0M518 906h0M473.9 983.1h0M489.1 944.1h0M515.1 841.3h0M468.9 990.2h0M450.7 1001.3h0M508.9 648.9h0M541.7 987.3h0M491.5 914.5h0M463.7 1007.3h0M457.3 1005.3h0M530 973.9h0M513.5 772.6h0M479.8 976.6h0M452.8 1005h0M513.1 855h0M550.7 1008.4h0M491.8 922h0M540.5 991.7h0M454.1 1000.5h0M484.8 957.4h0M495.3 867.9h0M545.2 992.2h0M448.2 1012.1h0M550.1 1006h0M462.2 1004.2h0M464.4 999.5h0M506.2 669.5h0M535.3 987.7h0M539.1 999.9h0M459.6 1003h0M549.4 1006.8h0M475.1 980.7h0M548.5 1010.6h0M463.6 992.1h0M475.5 996.9h0M502.3 645.7h0M493.7 899.8h0M521.9 937.4h0M512.4 822.9h0M543.5 1001.9h0M530.4 982.5h0M447.8 1010.8h0M520.5 943.5h0M442.7 1003.9h0M482.7 969.1h0M515.6 869.8h0M509.6 838h0M451.8 1005h0M524 969.3h0M478.9 968.9h0M511.6 867.1h0M480.4 978.4h0M483.1 950.7h0M531 983.4h0M513.4 877h0M470.4 994.9h0M504.5 675.8h0M524 943.4h0M496.5 804.4h0M466.5 1008.6h0M543.1 1000.8h0M521.1 944h0M451.5 1008.3h0M513 863.8h0M548.7 1002.1h0M492 897.6h0M443.5 1010.4h0M445.7 1011.9h0M544 1000.2h0M477.7 980.9h0M495.9 840.6h0M481.9 979.8h0M477.4 976.8h0M447.4 1006.4h0M492.5 911.4h0M517.1 898.3h0M509.8 841.8h0M470.5 1000.4h0M477.9 985.9h0M446.5 1007.9h0M528.2 967.7h0M495 871.7h0M467.4 996h0M526.6 963.4h0M453.1 1004.6h0M483 964.9h0M474.5 983.3h0M485 963.2h0M453.7 1007.3h0M509.8 652.8h0M510.4 826h0M521.2 952.1h0M485.4 958.6h0M500.1 827.7h0M497 883.8h0M514 887.1h0M444.9 1005.4h0M526.6 958.7h0M500.6 763.8h0M550.5 1001.4h0M519.3 934.3h0M502.5 753h0M536.8 997.4h0M534.9 993.5h0M531.6 983.2h0M453.1 1011.2h0M537.2 990.3h0M510.9 688.1h0M492.1 907.1h0M519.1 891.3h0M490.3 928.5h0M533.8 983.1h0M453.9 1007.7h0M445.8 1013.7h0M483.7 960.4h0M475.5 984.8h0M472.6 985.2h0M470.7 993.7h0M512.9 876.2h0M452.7 1010.6h0M471.3 987h0M529.6 974.7h0M519.2 911.5h0M546.4 1001.5h0M497.2 845.9h0M490.6 930h0M536.3 991.1h0M453.3 1001.6h0M494.6 832.7h0M497.1 865.6h0M538.6 989.2h0M459.7 1002.7h0M450.2 1011.4h0M447.1 1014.2h0M522.2 952.6h0M446.5 1000.4h0M549.6 999.9h0M490.6 914.2h0M479 965.2h0M451.5 1000h0M541.7 998.3h0M540.2 993.8h0M524.4 964.2h0M454.2 1013h0M442.5 1004.8h0M507.6 710.3h0M493.7 875.7h0M547.6 1001h0M490.1 937.5h0M464.2 1002.3h0M485.3 955.3h0M481.9 960.2h0M534.5 982h0M467.9 995.8h0M533.3 981.3h0M443.2 1006.1h0M473 996.3h0M507 665.3h0M506.6 692.1h0M457.4 1008.1h0M486.3 938.8h0M449.7 1006.8h0M467 1005.1h0M533.5 988h0M453.8 1004.3h0M497.3 840.1h0M540.8 1002.7h0M516.3 865.6h0M515.1 889.3h0M500.3 822.3h0M462.6 1011.5h0M524.5 945.3h0M536.1 975.6h0M485.7 951.7h0M528.3 977.5h0M542.5 996.6h0M448.6 999.4h0M513.6 858.8h0M458.5 995.3h0M494.9 910.4h0M546.3 994.4h0M441.7 1010.1h0M535.9 994.6h0M528.4 957.9h0M468.2 995.6h0M543 1005h0M513.8 898.4h0M448 1009.4h0M472.8 995.7h0M512.8 854.1h0M488.5 944.8h0M450.2 1001.7h0M542.8 998.4h0M532.5 969.9h0M467.1 993.8h0M513.1 805.5h0M500.6 732.4h0M460.7 996.7h0M544.8 1000.2h0M446.4 1012.1h0M532.4 961.1h0M506.8 649.5h0M549.8 998.9h0M496 864h0M478.1 984.2h0M444.2 1008.4h0M544.4 1000.5h0M455.7 1002.6h0M451.5 1011.2h0M458.8 1001.8h0M494.5 887.8h0M546.6 990.9h0M503.5 675h0M472.1 979.8h0M528.7 978h0M443.9 1005.8h0M523.8 929.8h0M525.4 963.9h0M470.8 991.3h0M479.7 975.8h0M502.2 665.6h0M494.4 885.7h0M511.1 820.7h0M531.7 983.4h0M487.8 954h0M468.8 989.2h0M524 925.8h0M487.8 941.9h0M483.7 973.3h0M510.8 779.7h0M522.9 940.7h0M533.5 970.5h0M495.2 870.5h0M547.1 1006h0M462.7 1005.4h0M534.5 979.8h0M475 996.5h0M472.3 997.2h0M453.9 1005.4h0M498.2 898.9h0M469.7 990h0M484.6 954.1h0M537.4 989.7h0M521.5 951.4h0M509.4 686.2h0M510.5 839.2h0M460 1002h0M470 991.2h0M494.6 905.9h0M496.5 859.6h0M504.7 672.8h0M508.3 678.4h0M499.9 787.2h0M523.6 953.8h0M523.2 947.1h0M492.3 870.9h0M467.2 994.3h0M508.2 767.9h0M516.3 867.4h0M539.8 990.8h0M518.6 876.9h0M467.4 1008.2h0M535.4 999.1h0M516.6 857.2h0M460.6 1000.8h0M521.8 950.8h0M449.8 1008.6h0M469.8 991.5h0M534.6 982.1h0M517.7 902.3h0M533.4 987.1h0M451 1006.3h0M461.2 993.1h0M503.6 692.4h0M451.3 1009.6h0M540.1 989.5h0M474.1 991.1h0M508.1 713.8h0M462.4 992.5h0M482.3 962.2h0M452.8 1010.4h0M500 780.5h0M479.3 969h0M470 988.3h0M538.3 993.7h0M483.6 950.8h0M478.5 974.3h0M479.7 989.5h0M541.7 1002.4h0M476 983.5h0M461.1 1000h0M493.4 878.3h0M468.2 996.1h0M512.4 683h0M523.4 957.8h0M441 1011.3h0M455.9 1006.4h0M539.8 1004.6h0M456 1011.7h0M547.8 1000.8h0M509.1 746.6h0M471.9 994.8h0M542.5 991.3h0M511.8 828.1h0M441.3 1008.1h0M455.5 1004.9h0M514 870.2h0M456.9 994.4h0M547.4 1005.2h0M496 863.1h0M467 1001.7h0M524.5 937.9h0M451 1012.3h0M535.1 980h0M494.6 843.8h0M546.8 1002.2h0M467.5 1003.6h0M449.9 1005.4h0M517.1 858.7h0M535.3 990.5h0M527.9 961.4h0M482.2 972.7h0M465.2 994.2h0M518.6 914.1h0M520.8 928.6h0M496.5 854h0M477.3 979.4h0M505.3 697.8h0M455.1 1011.1h0M479.2 960.7h0M525.1 972.9h0M538.2 992.7h0M484.8 950.4h0M457.6 1003.4h0M473.3 998.6h0M495 909.7h0M481.4 968.3h0M447 1006.4h0M446.8 1015.2h0M508.6 665.1h0M531.1 973.7h0M524.1 958.2h0M460.2 1009.2h0M494.1 877.3h0M546.4 993.1h0M553 1005.1h0M471.7 1003.1h0M446.9 999.6h0M489 930.7h0M526.3 947.4h0M545.9 996.9h0M466.1 1002.6h0M534 986.3h0M458.9 1006h0M476.4 987.8h0M485.3 965.1h0M482.9 961.9h0M482.2 971.6h0M443.9 1003.1h0M544.5 1003.9h0M459.7 1003.8h0M500.9 817.7h0M540.7 1000.4h0M542.3 996h0M526.7 962.7h0M478.1 963.1h0M484.5 952.9h0M510.7 803.6h0M514.2 889.5h0M521.5 949.4h0M544.1 993.4h0M440.8 1007h0M519 890.2h0M481 978.2h0M522.5 946.2h0M460 998.4h0M456.8 1007.5h0M497.9 837.2h0M489.2 939.3h0M504.5 690.7h0M532 981.8h0M446.1 1006.5h0M523.3 946.8h0M478.5 974.3h0M508.9 713h0M500.9 706.2h0M447 1009.9h0M454.3 1000.4h0M527.4 973.1h0M455.8 1006.3h0M521 948.7h0M502.8 660.8h0M468.7 993.7h0M500.3 797.9h0M520.2 924h0M462.1 1007h0M495.4 888.5h0M463.6 1002.4h0M458.6 1009h0M495.6 850.5h0M464.7 989.8h0M450.1 1005.5h0M483 967h0M489.9 937.1h0M527.3 964.4h0M492.2 905.1h0M459.5 1007.5h0M514 882.2h0M493.1 885.7h0M539.5 1004.4h0M515.8 859.9h0M451.1 1010.7h0M449.2 1003.2h0M538.1 994h0M465.7 1001.4h0M507.4 658.6h0M534.8 994.8h0M475.9 980.5h0M465.8 996h0M541.4 1004.6h0M447.5 1012h0M443 1012.4h0M521.2 931.9h0M499.5 776.8h0M459.9 1003.8h0M458.2 1000.6h0M447.4 1009.6h0M476.8 992h0M447.9 1015.7h0M526.3 974.5h0M530.1 979.6h0M469 1002.8h0M459.9 1000.8h0M500.5 729.1h0M528.2 980h0M513.5 832.4h0M532.8 986.3h0M445.4 1000h0M494.8 888.9h0M518.8 930.4h0M525.5 963.5h0M505.7 641.2h0M501.6 711h0M513.1 862.7h0M488.2 941.9h0M488.5 936.2h0M509 646.8h0M472.4 987.7h0M517.4 877.5h0M498.5 827.5h0M445 1002.8h0M541.6 993.2h0M525.2 933.7h0M540.4 984.3h0M538.4 996.4h0M483.6 963.2h0M462.2 1005.7h0M489.7 940.9h0M537.4 980.1h0M457.6 1011.6h0M459.5 1009.8h0M518.2 921h0M479.1 984.9h0M549.7 1006.9h0M544.3 994.6h0M448.6 1010.5h0M511 837.7h0M471.2 993.9h0M472.3 990.5h0M548.8 996.7h0M495.9 886.8h0M473.2 992.7h0M476.4 991.8h0M516.9 932.3h0M500.1 856.8h0M506.5 667.1h0M537.4 987.5h0M550.8 1002.5h0M502.2 730.3h0M484.1 975.8h0M503.3 670.6h0M546.9 1003.1h0M484.5 968.5h0M551 1009.8h0M485.8 967.4h0M445.8 1005.5h0M485.3 953.8h0M517.7 877h0M463.5 997.6h0M483.3 969.9h0M442.2 1004.3h0M540.2 987.1h0M462.7 1003.2h0M524 976.8h0M488.2 945.8h0M521.8 959.2h0M517.9 883.5h0M444.7 1007.8h0M541 999h0M537.1 1000h0M529.9 976.6h0M498.8 821h0M505.7 752.9h0M505 686h0M541.3 1000.6h0M504.6 687.7h0M492.3 893.1h0M507.3 744.7h0M450.5 1005.2h0M460 994.6h0M466 998.2h0M494.5 909.3h0M480.3 980.9h0M486.8 951.9h0M515.9 872.9h0M512.9 850.4h0" stroke="#1f63e0" stroke-width="3.4" stroke-linecap="round" fill="none" opacity="1.0"/>
<path d="M442.1 1010.2L442.2 1010.2L442.3 1010.2L442.5 1010.2L442.6 1010.2L442.7 1010.2L442.8 1010.2L442.9 1010.2L443.1 1010.2L443.2 1010.2L443.3 1010.1L443.4 1010.1L443.5 1010.1L443.7 1010.1L443.8 1010.1L443.9 1010.1L444 1010.1L444.2 1010.1L444.3 1010L444.4 1010L444.5 1010L444.6 1010L444.8 1010L444.9 1010L445 1009.9L445.1 1009.9L445.2 1009.9L445.4 1009.9L445.5 1009.9L445.6 1009.9L445.7 1009.8L445.8 1009.8L446 1009.8L446.1 1009.8L446.2 1009.7L446.3 1009.7L446.4 1009.7L446.6 1009.7L446.7 1009.6L446.8 1009.6L446.9 1009.6L447.1 1009.6L447.2 1009.5L447.3 1009.5L447.4 1009.5L447.5 1009.5L447.7 1009.4L447.8 1009.4L447.9 1009.4L448 1009.3L448.1 1009.3L448.3 1009.3L448.4 1009.3L448.5 1009.2L448.6 1009.2L448.7 1009.2L448.9 1009.1L449 1009.1L449.1 1009.1L449.2 1009L449.3 1009L449.5 1009L449.6 1008.9L449.7 1008.9L449.8 1008.8L450 1008.8L450.1 1008.8L450.2 1008.7L450.3 1008.7L450.4 1008.7L450.6 1008.6L450.7 1008.6L450.8 1008.5L450.9 1008.5L451 1008.5L451.2 1008.4L451.3 1008.4L451.4 1008.3L451.5 1008.3L451.6 1008.3L451.8 1008.2L451.9 1008.2L452 1008.1L452.1 1008.1L452.2 1008L452.4 1008L452.5 1007.9L452.6 1007.9L452.7 1007.8L452.9 1007.8L453 1007.8L453.1 1007.7L453.2 1007.7L453.3 1007.6L453.5 1007.6L453.6 1007.5L453.7 1007.5L453.8 1007.4L453.9 1007.4L454.1 1007.3L454.2 1007.3L454.3 1007.2L454.4 1007.2L454.5 1007.1L454.7 1007.1L454.8 1007L454.9 1006.9L455 1006.9L455.1 1006.8L455.3 1006.8L455.4 1006.7L455.5 1006.7L455.6 1006.6L455.8 1006.6L455.9 1006.5L456 1006.5L456.1 1006.4L456.2 1006.3L456.4 1006.3L456.5 1006.2L456.6 1006.2L456.7 1006.1L456.8 1006L457 1006L457.1 1005.9L457.2 1005.9L457.3 1005.8L457.4 1005.7L457.6 1005.7L457.7 1005.6L457.8 1005.6L457.9 1005.5L458 1005.4L458.2 1005.4L458.3 1005.3L458.4 1005.3L458.5 1005.2L458.6 1005.1L458.8 1005.1L458.9 1005L459 1004.9L459.1 1004.9L459.3 1004.8L459.4 1004.7L459.5 1004.7L459.6 1004.6L459.7 1004.5L459.9 1004.5L460 1004.4L460.1 1004.3L460.2 1004.3L460.3 1004.2L460.5 1004.1L460.6 1004.1L460.7 1004L460.8 1003.9L460.9 1003.9L461.1 1003.8L461.2 1003.7L461.3 1003.7L461.4 1003.6L461.5 1003.5L461.7 1003.5L461.8 1003.4L461.9 1003.3L462 1003.2L462.2 1003.2L462.3 1003.1L462.4 1003L462.5 1002.9L462.6 1002.8L462.8 1002.8L462.9 1002.7L463 1002.6L463.1 1002.5L463.2 1002.4L463.4 1002.3L463.5 1002.2L463.6 1002.1L463.7 1002.1L463.8 1002L464 1001.9L464.1 1001.8L464.2 1001.7L464.3 1001.6L464.4 1001.5L464.6 1001.4L464.7 1001.3L464.8 1001.2L464.9 1001.1L465.1 1001L465.2 1000.9L465.3 1000.8L465.4 1000.6L465.5 1000.5L465.7 1000.4L465.8 1000.3L465.9 1000.2L466 1000.1L466.1 1000L466.3 999.9L466.4 999.7L466.5 999.6L466.6 999.5L466.7 999.4L466.9 999.2L467 999.1L467.1 999L467.2 998.9L467.3 998.7L467.5 998.6L467.6 998.5L467.7 998.3L467.8 998.2L468 998.1L468.1 997.9L468.2 997.8L468.3 997.6L468.4 997.5L468.6 997.4L468.7 997.2L468.8 997.1L468.9 996.9L469 996.8L469.2 996.6L469.3 996.5L469.4 996.3L469.5 996.2L469.6 996L469.8 995.8L469.9 995.7L470 995.5L470.1 995.4L470.2 995.2L470.4 995L470.5 994.9L470.6 994.7L470.7 994.5L470.9 994.3L471 994.2L471.1 994L471.2 993.8L471.3 993.6L471.5 993.4L471.6 993.3L471.7 993.1L471.8 992.9L471.9 992.7L472.1 992.5L472.2 992.3L472.3 992.1L472.4 991.9L472.5 991.7L472.7 991.5L472.8 991.3L472.9 991.1L473 990.9L473.1 990.7L473.3 990.5L473.4 990.3L473.5 990.1L473.6 989.8L473.7 989.6L473.9 989.4L474 989.2L474.1 989L474.2 988.7L474.4 988.5L474.5 988.3L474.6 988L474.7 987.8L474.8 987.6L475 987.3L475.1 987.1L475.2 986.9L475.3 986.6L475.4 986.4L475.6 986.1L475.7 985.9L475.8 985.6L475.9 985.3L476 985.1L476.2 984.8L476.3 984.6L476.4 984.3L476.5 984L476.6 983.8L476.8 983.5L476.9 983.2L477 982.9L477.1 982.7L477.3 982.4L477.4 982.1L477.5 981.8L477.6 981.5L477.7 981.2L477.9 980.9L478 980.6L478.1 980.3L478.2 980L478.3 979.7L478.5 979.4L478.6 979.1L478.7 978.8L478.8 978.5L478.9 978.2L479.1 977.8L479.2 977.5L479.3 977.2L479.4 976.9L479.5 976.5L479.7 976.2L479.8 975.9L479.9 975.5L480 975.2L480.2 974.8L480.3 974.5L480.4 974.1L480.5 973.8L480.6 973.4L480.8 973.1L480.9 972.7L481 972.3L481.1 972L481.2 971.6L481.4 971.2L481.5 970.8L481.6 970.4L481.7 970.1L481.8 969.7L482 969.3L482.1 968.9L482.2 968.5L482.3 968.1L482.4 967.7L482.6 967.3L482.7 966.9L482.8 966.4L482.9 966L483.1 965.6L483.2 965.2L483.3 964.7L483.4 964.3L483.5 963.9L483.7 963.4L483.8 962.9L483.9 962.4L484 962L484.1 961.5L484.3 961L484.4 960.4L484.5 959.9L484.6 959.4L484.7 958.8L484.9 958.3L485 957.7L485.1 957.1L485.2 956.5L485.3 955.9L485.5 955.3L485.6 954.7L485.7 954L485.8 953.4L486 952.7L486.1 952.1L486.2 951.4L486.3 950.7L486.4 950L486.6 949.3L486.7 948.6L486.8 947.8L486.9 947.1L487 946.3L487.2 945.6L487.3 944.8L487.4 944L487.5 943.2L487.6 942.4L487.8 941.6L487.9 940.8L488 939.9L488.1 939.1L488.2 938.2L488.4 937.3L488.5 936.5L488.6 935.6L488.7 934.7L488.8 933.7L489 932.8L489.1 931.9L489.2 930.9L489.3 930L489.5 929L489.6 928L489.7 927L489.8 926L489.9 925L490.1 924L490.2 923L490.3 921.9L490.4 920.9L490.5 919.8L490.7 918.8L490.8 917.7L490.9 916.6L491 915.5L491.1 914.4L491.3 913.3L491.4 912.2L491.5 911L491.6 909.9L491.7 908.8L491.9 907.6L492 906.4L492.1 905.3L492.2 904.1L492.4 902.9L492.5 901.7L492.6 900.6L492.7 899.4L492.8 898.2L493 897L493.1 895.8L493.2 894.6L493.3 893.4L493.4 892.2L493.6 891L493.7 889.9L493.8 888.7L493.9 887.5L494 886.3L494.2 885.1L494.3 883.8L494.4 882.6L494.5 881.4L494.6 880.1L494.8 878.9L494.9 877.6L495 876.3L495.1 875L495.3 873.6L495.4 872.3L495.5 870.9L495.6 869.5L495.7 868.1L495.9 866.6L496 865.2L496.1 863.6L496.2 862.1L496.3 860.5L496.5 858.9L496.6 857.2L496.7 855.5L496.8 853.8L496.9 852L497.1 850.1L497.2 848.2L497.3 846.2L497.4 844.2L497.5 842.1L497.7 840L497.8 837.8L497.9 835.5L498 833.1L498.2 830.7L498.3 828.2L498.4 825.6L498.5 822.7L498.6 819.5L498.8 816L498.9 812.1L499 807.8L499.1 803.2L499.2 798.4L499.4 793.2L499.5 787.8L499.6 782.1L499.7 776.3L499.8 770.2L500 763.9L500.1 757.6L500.2 751.1L500.3 744.6L500.4 738L500.6 731.5L500.7 725.1L500.8 718.8L500.9 712.8L501.1 707L501.2 701.5L501.3 696.4L501.4 691.7L501.5 687.6L501.7 684.1L501.8 681.2L501.9 679L502 677L502.1 675L502.3 673L502.4 671.1L502.5 669.2L502.6 667.3L502.7 665.5L502.9 663.7L503 661.9L503.1 660.3L503.2 658.6L503.3 657.1L503.5 655.6L503.6 654.2L503.7 652.8L503.8 651.5L504 650.3L504.1 649.2L504.2 648.2L504.3 647.2L504.4 646.4L504.6 645.6L504.7 645L504.8 644.4L504.9 644L505 643.7L505.2 643.5L505.3 643.4L505.4 643.5L505.5 643.6L505.6 643.9L505.8 644.3L505.9 644.8L506 645.4L506.1 646.1L506.2 646.9L506.4 647.8L506.5 648.8L506.6 649.9L506.7 651.1L506.8 652.3L507 653.7L507.1 655.1L507.2 656.5L507.3 658.1L507.5 659.7L507.6 661.4L507.7 663.1L507.8 664.8L507.9 666.6L508.1 668.5L508.2 670.4L508.3 672.3L508.4 674.3L508.5 676.3L508.7 678.3L508.8 680.4L508.9 683L509 686.3L509.1 690.2L509.3 694.7L509.4 699.6L509.5 705L509.6 710.7L509.7 716.7L509.9 722.9L510 729.3L510.1 735.8L510.2 742.3L510.4 748.8L510.5 755.3L510.6 761.7L510.7 768L510.8 774.2L511 780.1L511.1 785.9L511.2 791.4L511.3 796.6L511.4 801.6L511.6 806.3L511.7 810.6L511.8 814.6L511.9 818.3L512 821.7L512.2 824.6L512.3 827.3L512.4 829.8L512.5 832.3L512.6 834.7L512.8 837L512.9 839.2L513 841.4L513.1 843.5L513.3 845.5L513.4 847.5L513.5 849.4L513.6 851.3L513.7 853.1L513.9 854.9L514 856.6L514.1 858.3L514.2 859.9L514.3 861.5L514.5 863.1L514.6 864.6L514.7 866.1L514.8 867.6L514.9 869L515.1 870.4L515.2 871.8L515.3 873.2L515.4 874.5L515.5 875.8L515.7 877.1L515.8 878.4L515.9 879.7L516 880.9L516.2 882.2L516.3 883.4L516.4 884.6L516.5 885.8L516.6 887L516.8 888.2L516.9 889.4L517 890.6L517.1 891.8L517.2 893L517.4 894.2L517.5 895.4L517.6 896.6L517.7 897.7L517.8 898.9L518 900.1L518.1 901.3L518.2 902.5L518.3 903.7L518.4 904.9L518.6 906L518.7 907.2L518.8 908.4L518.9 909.5L519.1 910.6L519.2 911.8L519.3 912.9L519.4 914L519.5 915.1L519.7 916.2L519.8 917.3L519.9 918.4L520 919.5L520.1 920.5L520.3 921.6L520.4 922.6L520.5 923.6L520.6 924.7L520.7 925.7L520.9 926.7L521 927.7L521.1 928.7L521.2 929.6L521.3 930.6L521.5 931.5L521.6 932.5L521.7 933.4L521.8 934.3L521.9 935.2L522.1 936.1L522.2 937L522.3 937.9L522.4 938.8L522.6 939.6L522.7 940.5L522.8 941.3L522.9 942.1L523 942.9L523.2 943.7L523.3 944.5L523.4 945.3L523.5 946.1L523.6 946.8L523.8 947.6L523.9 948.3L524 949L524.1 949.8L524.2 950.5L524.4 951.1L524.5 951.8L524.6 952.5L524.7 953.2L524.8 953.8L525 954.4L525.1 955.1L525.2 955.7L525.3 956.3L525.5 956.9L525.6 957.5L525.7 958.1L525.8 958.6L525.9 959.2L526.1 959.7L526.2 960.2L526.3 960.8L526.4 961.3L526.5 961.8L526.7 962.3L526.8 962.8L526.9 963.2L527 963.7L527.1 964.1L527.3 964.6L527.4 965L527.5 965.4L527.6 965.9L527.7 966.3L527.9 966.7L528 967.1L528.1 967.5L528.2 967.9L528.4 968.3L528.5 968.7L528.6 969.1L528.7 969.5L528.8 969.9L529 970.3L529.1 970.7L529.2 971.1L529.3 971.4L529.4 971.8L529.6 972.2L529.7 972.6L529.8 972.9L529.9 973.3L530 973.6L530.2 974L530.3 974.4L530.4 974.7L530.5 975.1L530.6 975.4L530.8 975.7L530.9 976.1L531 976.4L531.1 976.7L531.3 977.1L531.4 977.4L531.5 977.7L531.6 978.1L531.7 978.4L531.9 978.7L532 979L532.1 979.3L532.2 979.6L532.3 979.9L532.5 980.2L532.6 980.5L532.7 980.8L532.8 981.1L532.9 981.4L533.1 981.7L533.2 982L533.3 982.3L533.4 982.6L533.5 982.8L533.7 983.1L533.8 983.4L533.9 983.7L534 983.9L534.2 984.2L534.3 984.5L534.4 984.7L534.5 985L534.6 985.3L534.8 985.5L534.9 985.8L535 986L535.1 986.3L535.2 986.5L535.4 986.8L535.5 987L535.6 987.3L535.7 987.5L535.8 987.7L536 988L536.1 988.2L536.2 988.4L536.3 988.7L536.4 988.9L536.6 989.1L536.7 989.3L536.8 989.5L536.9 989.8L537 990L537.2 990.2L537.3 990.4L537.4 990.6L537.5 990.8L537.7 991L537.8 991.2L537.9 991.4L538 991.6L538.1 991.8L538.3 992L538.4 992.2L538.5 992.4L538.6 992.6L538.7 992.8L538.9 993L539 993.2L539.1 993.4L539.2 993.6L539.3 993.7L539.5 993.9L539.6 994.1L539.7 994.3L539.8 994.4L539.9 994.6L540.1 994.8L540.2 995L540.3 995.1L540.4 995.3L540.6 995.5L540.7 995.6L540.8 995.8L540.9 995.9L541 996.1L541.2 996.3L541.3 996.4L541.4 996.6L541.5 996.7L541.6 996.9L541.8 997L541.9 997.2L542 997.3L542.1 997.5L542.2 997.6L542.4 997.7L542.5 997.9L542.6 998L542.7 998.2L542.8 998.3L543 998.4L543.1 998.6L543.2 998.7L543.3 998.8L543.5 999L543.6 999.1L543.7 999.2L543.8 999.3L543.9 999.5L544.1 999.6L544.2 999.7L544.3 999.8L544.4 999.9L544.5 1000L544.7 1000.2L544.8 1000.3L544.9 1000.4L545 1000.5L545.1 1000.6L545.3 1000.7L545.4 1000.8L545.5 1000.9L545.6 1001L545.7 1001.1L545.9 1001.2L546 1001.3L546.1 1001.4L546.2 1001.5L546.4 1001.6L546.5 1001.7L546.6 1001.8L546.7 1001.9L546.8 1002L547 1002.1L547.1 1002.2L547.2 1002.3L547.3 1002.4L547.4 1002.5L547.6 1002.6L547.7 1002.6L547.8 1002.7L547.9 1002.8L548 1002.9L548.2 1003L548.3 1003L548.4 1003.1L548.5 1003.2L548.6 1003.3L548.8 1003.4L548.9 1003.4L549 1003.5L549.1 1003.6L549.3 1003.6L549.4 1003.7L549.5 1003.8L549.6 1003.8L549.7 1003.9L549.9 1004L550 1004.1L550.1 1004.1L550.2 1004.2L550.3 1004.3L550.5 1004.3L550.6 1004.4L550.7 1004.5" stroke="#12a0f5" stroke-width="1.5" fill="none" stroke-linejoin="round"/>
<path d="M615.8 908.9l0.6 1.3 1.4 0.2 -1.1 0.9 0.3 1.4 -1.2 -0.8 -1.2 0.8 0.3 -1.4 -1.1 -0.9 1.4 -0.2zM629.9 704.1l0.6 1.3 1.4 0.2 -1.1 0.9 0.3 1.4 -1.2 -0.8 -1.2 0.8 0.3 -1.4 -1.1 -0.9 1.4 -0.2zM579.9 1001.6l0.6 1.3 1.4 0.2 -1.1 0.9 0.3 1.4 -1.2 -0.8 -1.2 0.8 0.3 -1.4 -1.1 -0.9 1.4 -0.2zM591.3 978.5l0.6 1.3 1.4 0.2 -1.1 0.9 0.3 1.4 -1.2 -0.8 -1.2 0.8 0.3 -1.4 -1.1 -0.9 1.4 -0.2zM633.5 656.9l0.6 1.3 1.4 0.2 -1.1 0.9 0.3 1.4 -1.2 -0.8 -1.2 0.8 0.3 -1.4 -1.1 -0.9 1.4 -0.2zM659.9 958.4l0.6 1.3 1.4 0.2 -1.1 0.9 0.3 1.4 -1.2 -0.8 -1.2 0.8 0.3 -1.4 -1.1 -0.9 1.4 -0.2zM624.9 771l0.6 1.3 1.4 0.2 -1.1 0.9 0.3 1.4 -1.2 -0.8 -1.2 0.8 0.3 -1.4 -1.1 -0.9 1.4 -0.2zM693.1 997.5l0.6 1.3 1.4 0.2 -1.1 0.9 0.3 1.4 -1.2 -0.8 -1.2 0.8 0.3 -1.4 -1.1 -0.9 1.4 -0.2zM648.2 882.5l0.6 1.3 1.4 0.2 -1.1 0.9 0.3 1.4 -1.2 -0.8 -1.2 0.8 0.3 -1.4 -1.1 -0.9 1.4 -0.2zM687.5 996.4l0.6 1.3 1.4 0.2 -1.1 0.9 0.3 1.4 -1.2 -0.8 -1.2 0.8 0.3 -1.4 -1.1 -0.9 1.4 -0.2zM575.4 1002.9l0.6 1.3 1.4 0.2 -1.1 0.9 0.3 1.4 -1.2 -0.8 -1.2 0.8 0.3 -1.4 -1.1 -0.9 1.4 -0.2zM624.7 783.7l0.6 1.3 1.4 0.2 -1.1 0.9 0.3 1.4 -1.2 -0.8 -1.2 0.8 0.3 -1.4 -1.1 -0.9 1.4 -0.2zM595.6 977.6l0.6 1.3 1.4 0.2 -1.1 0.9 0.3 1.4 -1.2 -0.8 -1.2 0.8 0.3 -1.4 -1.1 -0.9 1.4 -0.2zM672.6 974.7l0.6 1.3 1.4 0.2 -1.1 0.9 0.3 1.4 -1.2 -0.8 -1.2 0.8 0.3 -1.4 -1.1 -0.9 1.4 -0.2zM608.1 953.1l0.6 1.3 1.4 0.2 -1.1 0.9 0.3 1.4 -1.2 -0.8 -1.2 0.8 0.3 -1.4 -1.1 -0.9 1.4 -0.2zM599.3 974.4l0.6 1.3 1.4 0.2 -1.1 0.9 0.3 1.4 -1.2 -0.8 -1.2 0.8 0.3 -1.4 -1.1 -0.9 1.4 -0.2zM574.9 999.2l0.6 1.3 1.4 0.2 -1.1 0.9 0.3 1.4 -1.2 -0.8 -1.2 0.8 0.3 -1.4 -1.1 -0.9 1.4 -0.2zM635.6 688.5l0.6 1.3 1.4 0.2 -1.1 0.9 0.3 1.4 -1.2 -0.8 -1.2 0.8 0.3 -1.4 -1.1 -0.9 1.4 -0.2zM626.8 682.8l0.6 1.3 1.4 0.2 -1.1 0.9 0.3 1.4 -1.2 -0.8 -1.2 0.8 0.3 -1.4 -1.1 -0.9 1.4 -0.2zM672.4 986.3l0.6 1.3 1.4 0.2 -1.1 0.9 0.3 1.4 -1.2 -0.8 -1.2 0.8 0.3 -1.4 -1.1 -0.9 1.4 -0.2zM650.9 875.6l0.6 1.3 1.4 0.2 -1.1 0.9 0.3 1.4 -1.2 -0.8 -1.2 0.8 0.3 -1.4 -1.1 -0.9 1.4 -0.2zM604.2 977.2l0.6 1.3 1.4 0.2 -1.1 0.9 0.3 1.4 -1.2 -0.8 -1.2 0.8 0.3 -1.4 -1.1 -0.9 1.4 -0.2zM614.8 918.3l0.6 1.3 1.4 0.2 -1.1 0.9 0.3 1.4 -1.2 -0.8 -1.2 0.8 0.3 -1.4 -1.1 -0.9 1.4 -0.2zM696.3 999.6l0.6 1.3 1.4 0.2 -1.1 0.9 0.3 1.4 -1.2 -0.8 -1.2 0.8 0.3 -1.4 -1.1 -0.9 1.4 -0.2zM587.9 993.9l0.6 1.3 1.4 0.2 -1.1 0.9 0.3 1.4 -1.2 -0.8 -1.2 0.8 0.3 -1.4 -1.1 -0.9 1.4 -0.2zM569.8 998.2l0.6 1.3 1.4 0.2 -1.1 0.9 0.3 1.4 -1.2 -0.8 -1.2 0.8 0.3 -1.4 -1.1 -0.9 1.4 -0.2zM639.1 736.1l0.6 1.3 1.4 0.2 -1.1 0.9 0.3 1.4 -1.2 -0.8 -1.2 0.8 0.3 -1.4 -1.1 -0.9 1.4 -0.2zM681.3 994.6l0.6 1.3 1.4 0.2 -1.1 0.9 0.3 1.4 -1.2 -0.8 -1.2 0.8 0.3 -1.4 -1.1 -0.9 1.4 -0.2zM657.5 942.9l0.6 1.3 1.4 0.2 -1.1 0.9 0.3 1.4 -1.2 -0.8 -1.2 0.8 0.3 -1.4 -1.1 -0.9 1.4 -0.2zM691.4 1004.8l0.6 1.3 1.4 0.2 -1.1 0.9 0.3 1.4 -1.2 -0.8 -1.2 0.8 0.3 -1.4 -1.1 -0.9 1.4 -0.2zM648.1 846.7l0.6 1.3 1.4 0.2 -1.1 0.9 0.3 1.4 -1.2 -0.8 -1.2 0.8 0.3 -1.4 -1.1 -0.9 1.4 -0.2zM590.7 987.4l0.6 1.3 1.4 0.2 -1.1 0.9 0.3 1.4 -1.2 -0.8 -1.2 0.8 0.3 -1.4 -1.1 -0.9 1.4 -0.2zM571.5 998.6l0.6 1.3 1.4 0.2 -1.1 0.9 0.3 1.4 -1.2 -0.8 -1.2 0.8 0.3 -1.4 -1.1 -0.9 1.4 -0.2zM592.6 996.2l0.6 1.3 1.4 0.2 -1.1 0.9 0.3 1.4 -1.2 -0.8 -1.2 0.8 0.3 -1.4 -1.1 -0.9 1.4 -0.2zM621.6 821.6l0.6 1.3 1.4 0.2 -1.1 0.9 0.3 1.4 -1.2 -0.8 -1.2 0.8 0.3 -1.4 -1.1 -0.9 1.4 -0.2zM625.8 766.3l0.6 1.3 1.4 0.2 -1.1 0.9 0.3 1.4 -1.2 -0.8 -1.2 0.8 0.3 -1.4 -1.1 -0.9 1.4 -0.2zM681.2 997.3l0.6 1.3 1.4 0.2 -1.1 0.9 0.3 1.4 -1.2 -0.8 -1.2 0.8 0.3 -1.4 -1.1 -0.9 1.4 -0.2zM606.7 952l0.6 1.3 1.4 0.2 -1.1 0.9 0.3 1.4 -1.2 -0.8 -1.2 0.8 0.3 -1.4 -1.1 -0.9 1.4 -0.2zM685.6 1003.1l0.6 1.3 1.4 0.2 -1.1 0.9 0.3 1.4 -1.2 -0.8 -1.2 0.8 0.3 -1.4 -1.1 -0.9 1.4 -0.2zM572.2 1010.4l0.6 1.3 1.4 0.2 -1.1 0.9 0.3 1.4 -1.2 -0.8 -1.2 0.8 0.3 -1.4 -1.1 -0.9 1.4 -0.2zM652.9 914.3l0.6 1.3 1.4 0.2 -1.1 0.9 0.3 1.4 -1.2 -0.8 -1.2 0.8 0.3 -1.4 -1.1 -0.9 1.4 -0.2zM632.5 658.5l0.6 1.3 1.4 0.2 -1.1 0.9 0.3 1.4 -1.2 -0.8 -1.2 0.8 0.3 -1.4 -1.1 -0.9 1.4 -0.2zM642 800l0.6 1.3 1.4 0.2 -1.1 0.9 0.3 1.4 -1.2 -0.8 -1.2 0.8 0.3 -1.4 -1.1 -0.9 1.4 -0.2zM665.2 967.2l0.6 1.3 1.4 0.2 -1.1 0.9 0.3 1.4 -1.2 -0.8 -1.2 0.8 0.3 -1.4 -1.1 -0.9 1.4 -0.2zM595.6 981.8l0.6 1.3 1.4 0.2 -1.1 0.9 0.3 1.4 -1.2 -0.8 -1.2 0.8 0.3 -1.4 -1.1 -0.9 1.4 -0.2zM668.2 982.2l0.6 1.3 1.4 0.2 -1.1 0.9 0.3 1.4 -1.2 -0.8 -1.2 0.8 0.3 -1.4 -1.1 -0.9 1.4 -0.2zM596.6 972l0.6 1.3 1.4 0.2 -1.1 0.9 0.3 1.4 -1.2 -0.8 -1.2 0.8 0.3 -1.4 -1.1 -0.9 1.4 -0.2zM578 999.5l0.6 1.3 1.4 0.2 -1.1 0.9 0.3 1.4 -1.2 -0.8 -1.2 0.8 0.3 -1.4 -1.1 -0.9 1.4 -0.2zM619.9 904.5l0.6 1.3 1.4 0.2 -1.1 0.9 0.3 1.4 -1.2 -0.8 -1.2 0.8 0.3 -1.4 -1.1 -0.9 1.4 -0.2zM665.5 964.7l0.6 1.3 1.4 0.2 -1.1 0.9 0.3 1.4 -1.2 -0.8 -1.2 0.8 0.3 -1.4 -1.1 -0.9 1.4 -0.2zM613.3 912.3l0.6 1.3 1.4 0.2 -1.1 0.9 0.3 1.4 -1.2 -0.8 -1.2 0.8 0.3 -1.4 -1.1 -0.9 1.4 -0.2zM637.6 689.8l0.6 1.3 1.4 0.2 -1.1 0.9 0.3 1.4 -1.2 -0.8 -1.2 0.8 0.3 -1.4 -1.1 -0.9 1.4 -0.2zM582.3 997.4l0.6 1.3 1.4 0.2 -1.1 0.9 0.3 1.4 -1.2 -0.8 -1.2 0.8 0.3 -1.4 -1.1 -0.9 1.4 -0.2zM667.2 977.4l0.6 1.3 1.4 0.2 -1.1 0.9 0.3 1.4 -1.2 -0.8 -1.2 0.8 0.3 -1.4 -1.1 -0.9 1.4 -0.2zM581.4 994l0.6 1.3 1.4 0.2 -1.1 0.9 0.3 1.4 -1.2 -0.8 -1.2 0.8 0.3 -1.4 -1.1 -0.9 1.4 -0.2zM636.5 724l0.6 1.3 1.4 0.2 -1.1 0.9 0.3 1.4 -1.2 -0.8 -1.2 0.8 0.3 -1.4 -1.1 -0.9 1.4 -0.2zM635.5 657.3l0.6 1.3 1.4 0.2 -1.1 0.9 0.3 1.4 -1.2 -0.8 -1.2 0.8 0.3 -1.4 -1.1 -0.9 1.4 -0.2zM697.7 999l0.6 1.3 1.4 0.2 -1.1 0.9 0.3 1.4 -1.2 -0.8 -1.2 0.8 0.3 -1.4 -1.1 -0.9 1.4 -0.2zM618.7 867.4l0.6 1.3 1.4 0.2 -1.1 0.9 0.3 1.4 -1.2 -0.8 -1.2 0.8 0.3 -1.4 -1.1 -0.9 1.4 -0.2zM620 882.1l0.6 1.3 1.4 0.2 -1.1 0.9 0.3 1.4 -1.2 -0.8 -1.2 0.8 0.3 -1.4 -1.1 -0.9 1.4 -0.2zM588.3 988.3l0.6 1.3 1.4 0.2 -1.1 0.9 0.3 1.4 -1.2 -0.8 -1.2 0.8 0.3 -1.4 -1.1 -0.9 1.4 -0.2zM666 980.6l0.6 1.3 1.4 0.2 -1.1 0.9 0.3 1.4 -1.2 -0.8 -1.2 0.8 0.3 -1.4 -1.1 -0.9 1.4 -0.2zM631.3 666.8l0.6 1.3 1.4 0.2 -1.1 0.9 0.3 1.4 -1.2 -0.8 -1.2 0.8 0.3 -1.4 -1.1 -0.9 1.4 -0.2zM686.3 1001.9l0.6 1.3 1.4 0.2 -1.1 0.9 0.3 1.4 -1.2 -0.8 -1.2 0.8 0.3 -1.4 -1.1 -0.9 1.4 -0.2zM631 694l0.6 1.3 1.4 0.2 -1.1 0.9 0.3 1.4 -1.2 -0.8 -1.2 0.8 0.3 -1.4 -1.1 -0.9 1.4 -0.2zM602.4 970.1l0.6 1.3 1.4 0.2 -1.1 0.9 0.3 1.4 -1.2 -0.8 -1.2 0.8 0.3 -1.4 -1.1 -0.9 1.4 -0.2zM592.8 974.2l0.6 1.3 1.4 0.2 -1.1 0.9 0.3 1.4 -1.2 -0.8 -1.2 0.8 0.3 -1.4 -1.1 -0.9 1.4 -0.2zM647.9 874.9l0.6 1.3 1.4 0.2 -1.1 0.9 0.3 1.4 -1.2 -0.8 -1.2 0.8 0.3 -1.4 -1.1 -0.9 1.4 -0.2zM675.8 999.9l0.6 1.3 1.4 0.2 -1.1 0.9 0.3 1.4 -1.2 -0.8 -1.2 0.8 0.3 -1.4 -1.1 -0.9 1.4 -0.2zM672.8 976.2l0.6 1.3 1.4 0.2 -1.1 0.9 0.3 1.4 -1.2 -0.8 -1.2 0.8 0.3 -1.4 -1.1 -0.9 1.4 -0.2zM653.9 943l0.6 1.3 1.4 0.2 -1.1 0.9 0.3 1.4 -1.2 -0.8 -1.2 0.8 0.3 -1.4 -1.1 -0.9 1.4 -0.2zM695.1 1003.4l0.6 1.3 1.4 0.2 -1.1 0.9 0.3 1.4 -1.2 -0.8 -1.2 0.8 0.3 -1.4 -1.1 -0.9 1.4 -0.2zM691 1000l0.6 1.3 1.4 0.2 -1.1 0.9 0.3 1.4 -1.2 -0.8 -1.2 0.8 0.3 -1.4 -1.1 -0.9 1.4 -0.2zM623.1 797.5l0.6 1.3 1.4 0.2 -1.1 0.9 0.3 1.4 -1.2 -0.8 -1.2 0.8 0.3 -1.4 -1.1 -0.9 1.4 -0.2zM585.8 989.8l0.6 1.3 1.4 0.2 -1.1 0.9 0.3 1.4 -1.2 -0.8 -1.2 0.8 0.3 -1.4 -1.1 -0.9 1.4 -0.2zM587.9 994.3l0.6 1.3 1.4 0.2 -1.1 0.9 0.3 1.4 -1.2 -0.8 -1.2 0.8 0.3 -1.4 -1.1 -0.9 1.4 -0.2zM606.7 964.2l0.6 1.3 1.4 0.2 -1.1 0.9 0.3 1.4 -1.2 -0.8 -1.2 0.8 0.3 -1.4 -1.1 -0.9 1.4 -0.2zM582.9 996.7l0.6 1.3 1.4 0.2 -1.1 0.9 0.3 1.4 -1.2 -0.8 -1.2 0.8 0.3 -1.4 -1.1 -0.9 1.4 -0.2zM633.8 678.5l0.6 1.3 1.4 0.2 -1.1 0.9 0.3 1.4 -1.2 -0.8 -1.2 0.8 0.3 -1.4 -1.1 -0.9 1.4 -0.2zM652.3 914.8l0.6 1.3 1.4 0.2 -1.1 0.9 0.3 1.4 -1.2 -0.8 -1.2 0.8 0.3 -1.4 -1.1 -0.9 1.4 -0.2zM620.8 880l0.6 1.3 1.4 0.2 -1.1 0.9 0.3 1.4 -1.2 -0.8 -1.2 0.8 0.3 -1.4 -1.1 -0.9 1.4 -0.2zM677.1 989.7l0.6 1.3 1.4 0.2 -1.1 0.9 0.3 1.4 -1.2 -0.8 -1.2 0.8 0.3 -1.4 -1.1 -0.9 1.4 -0.2zM685.5 1002.6l0.6 1.3 1.4 0.2 -1.1 0.9 0.3 1.4 -1.2 -0.8 -1.2 0.8 0.3 -1.4 -1.1 -0.9 1.4 -0.2zM580.2 997.5l0.6 1.3 1.4 0.2 -1.1 0.9 0.3 1.4 -1.2 -0.8 -1.2 0.8 0.3 -1.4 -1.1 -0.9 1.4 -0.2zM646.1 813.5l0.6 1.3 1.4 0.2 -1.1 0.9 0.3 1.4 -1.2 -0.8 -1.2 0.8 0.3 -1.4 -1.1 -0.9 1.4 -0.2zM662.1 977.4l0.6 1.3 1.4 0.2 -1.1 0.9 0.3 1.4 -1.2 -0.8 -1.2 0.8 0.3 -1.4 -1.1 -0.9 1.4 -0.2zM650.7 916l0.6 1.3 1.4 0.2 -1.1 0.9 0.3 1.4 -1.2 -0.8 -1.2 0.8 0.3 -1.4 -1.1 -0.9 1.4 -0.2zM682.6 989.2l0.6 1.3 1.4 0.2 -1.1 0.9 0.3 1.4 -1.2 -0.8 -1.2 0.8 0.3 -1.4 -1.1 -0.9 1.4 -0.2zM587.7 988.6l0.6 1.3 1.4 0.2 -1.1 0.9 0.3 1.4 -1.2 -0.8 -1.2 0.8 0.3 -1.4 -1.1 -0.9 1.4 -0.2zM660.9 968.1l0.6 1.3 1.4 0.2 -1.1 0.9 0.3 1.4 -1.2 -0.8 -1.2 0.8 0.3 -1.4 -1.1 -0.9 1.4 -0.2zM576.1 997.9l0.6 1.3 1.4 0.2 -1.1 0.9 0.3 1.4 -1.2 -0.8 -1.2 0.8 0.3 -1.4 -1.1 -0.9 1.4 -0.2zM644.7 809.3l0.6 1.3 1.4 0.2 -1.1 0.9 0.3 1.4 -1.2 -0.8 -1.2 0.8 0.3 -1.4 -1.1 -0.9 1.4 -0.2zM632.1 707.8l0.6 1.3 1.4 0.2 -1.1 0.9 0.3 1.4 -1.2 -0.8 -1.2 0.8 0.3 -1.4 -1.1 -0.9 1.4 -0.2zM630.2 685.7l0.6 1.3 1.4 0.2 -1.1 0.9 0.3 1.4 -1.2 -0.8 -1.2 0.8 0.3 -1.4 -1.1 -0.9 1.4 -0.2zM645.2 838.2l0.6 1.3 1.4 0.2 -1.1 0.9 0.3 1.4 -1.2 -0.8 -1.2 0.8 0.3 -1.4 -1.1 -0.9 1.4 -0.2zM657.7 945.8l0.6 1.3 1.4 0.2 -1.1 0.9 0.3 1.4 -1.2 -0.8 -1.2 0.8 0.3 -1.4 -1.1 -0.9 1.4 -0.2zM573.2 1002.2l0.6 1.3 1.4 0.2 -1.1 0.9 0.3 1.4 -1.2 -0.8 -1.2 0.8 0.3 -1.4 -1.1 -0.9 1.4 -0.2zM655.2 950.2l0.6 1.3 1.4 0.2 -1.1 0.9 0.3 1.4 -1.2 -0.8 -1.2 0.8 0.3 -1.4 -1.1 -0.9 1.4 -0.2zM581.6 992.8l0.6 1.3 1.4 0.2 -1.1 0.9 0.3 1.4 -1.2 -0.8 -1.2 0.8 0.3 -1.4 -1.1 -0.9 1.4 -0.2zM613.5 923.3l0.6 1.3 1.4 0.2 -1.1 0.9 0.3 1.4 -1.2 -0.8 -1.2 0.8 0.3 -1.4 -1.1 -0.9 1.4 -0.2zM694.1 1001.2l0.6 1.3 1.4 0.2 -1.1 0.9 0.3 1.4 -1.2 -0.8 -1.2 0.8 0.3 -1.4 -1.1 -0.9 1.4 -0.2zM673.7 993l0.6 1.3 1.4 0.2 -1.1 0.9 0.3 1.4 -1.2 -0.8 -1.2 0.8 0.3 -1.4 -1.1 -0.9 1.4 -0.2zM627.5 704.1l0.6 1.3 1.4 0.2 -1.1 0.9 0.3 1.4 -1.2 -0.8 -1.2 0.8 0.3 -1.4 -1.1 -0.9 1.4 -0.2zM589.7 992.7l0.6 1.3 1.4 0.2 -1.1 0.9 0.3 1.4 -1.2 -0.8 -1.2 0.8 0.3 -1.4 -1.1 -0.9 1.4 -0.2zM592.7 994.5l0.6 1.3 1.4 0.2 -1.1 0.9 0.3 1.4 -1.2 -0.8 -1.2 0.8 0.3 -1.4 -1.1 -0.9 1.4 -0.2zM682.7 990.2l0.6 1.3 1.4 0.2 -1.1 0.9 0.3 1.4 -1.2 -0.8 -1.2 0.8 0.3 -1.4 -1.1 -0.9 1.4 -0.2zM622.2 807.1l0.6 1.3 1.4 0.2 -1.1 0.9 0.3 1.4 -1.2 -0.8 -1.2 0.8 0.3 -1.4 -1.1 -0.9 1.4 -0.2zM581.1 995.1l0.6 1.3 1.4 0.2 -1.1 0.9 0.3 1.4 -1.2 -0.8 -1.2 0.8 0.3 -1.4 -1.1 -0.9 1.4 -0.2zM629 700.7l0.6 1.3 1.4 0.2 -1.1 0.9 0.3 1.4 -1.2 -0.8 -1.2 0.8 0.3 -1.4 -1.1 -0.9 1.4 -0.2zM620 836.9l0.6 1.3 1.4 0.2 -1.1 0.9 0.3 1.4 -1.2 -0.8 -1.2 0.8 0.3 -1.4 -1.1 -0.9 1.4 -0.2zM636.4 643.9l0.6 1.3 1.4 0.2 -1.1 0.9 0.3 1.4 -1.2 -0.8 -1.2 0.8 0.3 -1.4 -1.1 -0.9 1.4 -0.2zM638.3 666.5l0.6 1.3 1.4 0.2 -1.1 0.9 0.3 1.4 -1.2 -0.8 -1.2 0.8 0.3 -1.4 -1.1 -0.9 1.4 -0.2zM661.5 966.8l0.6 1.3 1.4 0.2 -1.1 0.9 0.3 1.4 -1.2 -0.8 -1.2 0.8 0.3 -1.4 -1.1 -0.9 1.4 -0.2zM627.7 742.1l0.6 1.3 1.4 0.2 -1.1 0.9 0.3 1.4 -1.2 -0.8 -1.2 0.8 0.3 -1.4 -1.1 -0.9 1.4 -0.2zM622.6 791.2l0.6 1.3 1.4 0.2 -1.1 0.9 0.3 1.4 -1.2 -0.8 -1.2 0.8 0.3 -1.4 -1.1 -0.9 1.4 -0.2zM619 875.7l0.6 1.3 1.4 0.2 -1.1 0.9 0.3 1.4 -1.2 -0.8 -1.2 0.8 0.3 -1.4 -1.1 -0.9 1.4 -0.2zM622.2 806.4l0.6 1.3 1.4 0.2 -1.1 0.9 0.3 1.4 -1.2 -0.8 -1.2 0.8 0.3 -1.4 -1.1 -0.9 1.4 -0.2zM677.4 995l0.6 1.3 1.4 0.2 -1.1 0.9 0.3 1.4 -1.2 -0.8 -1.2 0.8 0.3 -1.4 -1.1 -0.9 1.4 -0.2zM632.3 745.2l0.6 1.3 1.4 0.2 -1.1 0.9 0.3 1.4 -1.2 -0.8 -1.2 0.8 0.3 -1.4 -1.1 -0.9 1.4 -0.2zM642 808.2l0.6 1.3 1.4 0.2 -1.1 0.9 0.3 1.4 -1.2 -0.8 -1.2 0.8 0.3 -1.4 -1.1 -0.9 1.4 -0.2zM625.7 748.9l0.6 1.3 1.4 0.2 -1.1 0.9 0.3 1.4 -1.2 -0.8 -1.2 0.8 0.3 -1.4 -1.1 -0.9 1.4 -0.2zM596.5 993l0.6 1.3 1.4 0.2 -1.1 0.9 0.3 1.4 -1.2 -0.8 -1.2 0.8 0.3 -1.4 -1.1 -0.9 1.4 -0.2zM579.7 1004.8l0.6 1.3 1.4 0.2 -1.1 0.9 0.3 1.4 -1.2 -0.8 -1.2 0.8 0.3 -1.4 -1.1 -0.9 1.4 -0.2zM584.9 1001.5l0.6 1.3 1.4 0.2 -1.1 0.9 0.3 1.4 -1.2 -0.8 -1.2 0.8 0.3 -1.4 -1.1 -0.9 1.4 -0.2zM606.8 957.7l0.6 1.3 1.4 0.2 -1.1 0.9 0.3 1.4 -1.2 -0.8 -1.2 0.8 0.3 -1.4 -1.1 -0.9 1.4 -0.2zM666.2 973.7l0.6 1.3 1.4 0.2 -1.1 0.9 0.3 1.4 -1.2 -0.8 -1.2 0.8 0.3 -1.4 -1.1 -0.9 1.4 -0.2zM643.5 807l0.6 1.3 1.4 0.2 -1.1 0.9 0.3 1.4 -1.2 -0.8 -1.2 0.8 0.3 -1.4 -1.1 -0.9 1.4 -0.2zM616.6 918.7l0.6 1.3 1.4 0.2 -1.1 0.9 0.3 1.4 -1.2 -0.8 -1.2 0.8 0.3 -1.4 -1.1 -0.9 1.4 -0.2zM590.2 994.2l0.6 1.3 1.4 0.2 -1.1 0.9 0.3 1.4 -1.2 -0.8 -1.2 0.8 0.3 -1.4 -1.1 -0.9 1.4 -0.2zM582.8 999.5l0.6 1.3 1.4 0.2 -1.1 0.9 0.3 1.4 -1.2 -0.8 -1.2 0.8 0.3 -1.4 -1.1 -0.9 1.4 -0.2zM591.4 985.6l0.6 1.3 1.4 0.2 -1.1 0.9 0.3 1.4 -1.2 -0.8 -1.2 0.8 0.3 -1.4 -1.1 -0.9 1.4 -0.2zM601.1 963.6l0.6 1.3 1.4 0.2 -1.1 0.9 0.3 1.4 -1.2 -0.8 -1.2 0.8 0.3 -1.4 -1.1 -0.9 1.4 -0.2zM648.5 852.5l0.6 1.3 1.4 0.2 -1.1 0.9 0.3 1.4 -1.2 -0.8 -1.2 0.8 0.3 -1.4 -1.1 -0.9 1.4 -0.2zM660.3 965.3l0.6 1.3 1.4 0.2 -1.1 0.9 0.3 1.4 -1.2 -0.8 -1.2 0.8 0.3 -1.4 -1.1 -0.9 1.4 -0.2zM607.8 944l0.6 1.3 1.4 0.2 -1.1 0.9 0.3 1.4 -1.2 -0.8 -1.2 0.8 0.3 -1.4 -1.1 -0.9 1.4 -0.2zM635.3 663.7l0.6 1.3 1.4 0.2 -1.1 0.9 0.3 1.4 -1.2 -0.8 -1.2 0.8 0.3 -1.4 -1.1 -0.9 1.4 -0.2zM673.2 984.6l0.6 1.3 1.4 0.2 -1.1 0.9 0.3 1.4 -1.2 -0.8 -1.2 0.8 0.3 -1.4 -1.1 -0.9 1.4 -0.2zM665.7 956.3l0.6 1.3 1.4 0.2 -1.1 0.9 0.3 1.4 -1.2 -0.8 -1.2 0.8 0.3 -1.4 -1.1 -0.9 1.4 -0.2zM616.6 900l0.6 1.3 1.4 0.2 -1.1 0.9 0.3 1.4 -1.2 -0.8 -1.2 0.8 0.3 -1.4 -1.1 -0.9 1.4 -0.2zM668.7 974.9l0.6 1.3 1.4 0.2 -1.1 0.9 0.3 1.4 -1.2 -0.8 -1.2 0.8 0.3 -1.4 -1.1 -0.9 1.4 -0.2zM643.8 823.5l0.6 1.3 1.4 0.2 -1.1 0.9 0.3 1.4 -1.2 -0.8 -1.2 0.8 0.3 -1.4 -1.1 -0.9 1.4 -0.2zM624.9 719.9l0.6 1.3 1.4 0.2 -1.1 0.9 0.3 1.4 -1.2 -0.8 -1.2 0.8 0.3 -1.4 -1.1 -0.9 1.4 -0.2zM654.6 906.1l0.6 1.3 1.4 0.2 -1.1 0.9 0.3 1.4 -1.2 -0.8 -1.2 0.8 0.3 -1.4 -1.1 -0.9 1.4 -0.2zM635.9 696.8l0.6 1.3 1.4 0.2 -1.1 0.9 0.3 1.4 -1.2 -0.8 -1.2 0.8 0.3 -1.4 -1.1 -0.9 1.4 -0.2zM581.7 1003.9l0.6 1.3 1.4 0.2 -1.1 0.9 0.3 1.4 -1.2 -0.8 -1.2 0.8 0.3 -1.4 -1.1 -0.9 1.4 -0.2zM627.6 679.7l0.6 1.3 1.4 0.2 -1.1 0.9 0.3 1.4 -1.2 -0.8 -1.2 0.8 0.3 -1.4 -1.1 -0.9 1.4 -0.2zM628.8 702.6l0.6 1.3 1.4 0.2 -1.1 0.9 0.3 1.4 -1.2 -0.8 -1.2 0.8 0.3 -1.4 -1.1 -0.9 1.4 -0.2zM569.9 1007.4l0.6 1.3 1.4 0.2 -1.1 0.9 0.3 1.4 -1.2 -0.8 -1.2 0.8 0.3 -1.4 -1.1 -0.9 1.4 -0.2zM693.3 1000.7l0.6 1.3 1.4 0.2 -1.1 0.9 0.3 1.4 -1.2 -0.8 -1.2 0.8 0.3 -1.4 -1.1 -0.9 1.4 -0.2zM581.2 994.5l0.6 1.3 1.4 0.2 -1.1 0.9 0.3 1.4 -1.2 -0.8 -1.2 0.8 0.3 -1.4 -1.1 -0.9 1.4 -0.2zM575.3 1000.5l0.6 1.3 1.4 0.2 -1.1 0.9 0.3 1.4 -1.2 -0.8 -1.2 0.8 0.3 -1.4 -1.1 -0.9 1.4 -0.2zM608.4 947.1l0.6 1.3 1.4 0.2 -1.1 0.9 0.3 1.4 -1.2 -0.8 -1.2 0.8 0.3 -1.4 -1.1 -0.9 1.4 -0.2zM641.3 812.4l0.6 1.3 1.4 0.2 -1.1 0.9 0.3 1.4 -1.2 -0.8 -1.2 0.8 0.3 -1.4 -1.1 -0.9 1.4 -0.2zM588.6 979.6l0.6 1.3 1.4 0.2 -1.1 0.9 0.3 1.4 -1.2 -0.8 -1.2 0.8 0.3 -1.4 -1.1 -0.9 1.4 -0.2zM641.7 799.5l0.6 1.3 1.4 0.2 -1.1 0.9 0.3 1.4 -1.2 -0.8 -1.2 0.8 0.3 -1.4 -1.1 -0.9 1.4 -0.2zM575.2 1000.7l0.6 1.3 1.4 0.2 -1.1 0.9 0.3 1.4 -1.2 -0.8 -1.2 0.8 0.3 -1.4 -1.1 -0.9 1.4 -0.2zM671 986.9l0.6 1.3 1.4 0.2 -1.1 0.9 0.3 1.4 -1.2 -0.8 -1.2 0.8 0.3 -1.4 -1.1 -0.9 1.4 -0.2zM669.6 983.9l0.6 1.3 1.4 0.2 -1.1 0.9 0.3 1.4 -1.2 -0.8 -1.2 0.8 0.3 -1.4 -1.1 -0.9 1.4 -0.2zM691.3 998.1l0.6 1.3 1.4 0.2 -1.1 0.9 0.3 1.4 -1.2 -0.8 -1.2 0.8 0.3 -1.4 -1.1 -0.9 1.4 -0.2zM592.5 988.2l0.6 1.3 1.4 0.2 -1.1 0.9 0.3 1.4 -1.2 -0.8 -1.2 0.8 0.3 -1.4 -1.1 -0.9 1.4 -0.2zM675.5 992.1l0.6 1.3 1.4 0.2 -1.1 0.9 0.3 1.4 -1.2 -0.8 -1.2 0.8 0.3 -1.4 -1.1 -0.9 1.4 -0.2zM616.7 886.5l0.6 1.3 1.4 0.2 -1.1 0.9 0.3 1.4 -1.2 -0.8 -1.2 0.8 0.3 -1.4 -1.1 -0.9 1.4 -0.2zM600.6 974.1l0.6 1.3 1.4 0.2 -1.1 0.9 0.3 1.4 -1.2 -0.8 -1.2 0.8 0.3 -1.4 -1.1 -0.9 1.4 -0.2zM643.6 778.7l0.6 1.3 1.4 0.2 -1.1 0.9 0.3 1.4 -1.2 -0.8 -1.2 0.8 0.3 -1.4 -1.1 -0.9 1.4 -0.2zM626.4 690.8l0.6 1.3 1.4 0.2 -1.1 0.9 0.3 1.4 -1.2 -0.8 -1.2 0.8 0.3 -1.4 -1.1 -0.9 1.4 -0.2zM624.6 758.1l0.6 1.3 1.4 0.2 -1.1 0.9 0.3 1.4 -1.2 -0.8 -1.2 0.8 0.3 -1.4 -1.1 -0.9 1.4 -0.2zM596.1 984.9l0.6 1.3 1.4 0.2 -1.1 0.9 0.3 1.4 -1.2 -0.8 -1.2 0.8 0.3 -1.4 -1.1 -0.9 1.4 -0.2zM633.3 693.1l0.6 1.3 1.4 0.2 -1.1 0.9 0.3 1.4 -1.2 -0.8 -1.2 0.8 0.3 -1.4 -1.1 -0.9 1.4 -0.2zM651 914.2l0.6 1.3 1.4 0.2 -1.1 0.9 0.3 1.4 -1.2 -0.8 -1.2 0.8 0.3 -1.4 -1.1 -0.9 1.4 -0.2zM657.8 942.2l0.6 1.3 1.4 0.2 -1.1 0.9 0.3 1.4 -1.2 -0.8 -1.2 0.8 0.3 -1.4 -1.1 -0.9 1.4 -0.2zM690.5 1006.9l0.6 1.3 1.4 0.2 -1.1 0.9 0.3 1.4 -1.2 -0.8 -1.2 0.8 0.3 -1.4 -1.1 -0.9 1.4 -0.2zM686.8 992.5l0.6 1.3 1.4 0.2 -1.1 0.9 0.3 1.4 -1.2 -0.8 -1.2 0.8 0.3 -1.4 -1.1 -0.9 1.4 -0.2zM626 762.8l0.6 1.3 1.4 0.2 -1.1 0.9 0.3 1.4 -1.2 -0.8 -1.2 0.8 0.3 -1.4 -1.1 -0.9 1.4 -0.2zM652.6 910.9l0.6 1.3 1.4 0.2 -1.1 0.9 0.3 1.4 -1.2 -0.8 -1.2 0.8 0.3 -1.4 -1.1 -0.9 1.4 -0.2zM611.1 931.2l0.6 1.3 1.4 0.2 -1.1 0.9 0.3 1.4 -1.2 -0.8 -1.2 0.8 0.3 -1.4 -1.1 -0.9 1.4 -0.2zM676.7 991.6l0.6 1.3 1.4 0.2 -1.1 0.9 0.3 1.4 -1.2 -0.8 -1.2 0.8 0.3 -1.4 -1.1 -0.9 1.4 -0.2zM619.9 826.2l0.6 1.3 1.4 0.2 -1.1 0.9 0.3 1.4 -1.2 -0.8 -1.2 0.8 0.3 -1.4 -1.1 -0.9 1.4 -0.2zM685.3 1000.5l0.6 1.3 1.4 0.2 -1.1 0.9 0.3 1.4 -1.2 -0.8 -1.2 0.8 0.3 -1.4 -1.1 -0.9 1.4 -0.2zM619.2 873.9l0.6 1.3 1.4 0.2 -1.1 0.9 0.3 1.4 -1.2 -0.8 -1.2 0.8 0.3 -1.4 -1.1 -0.9 1.4 -0.2zM697.6 1004.5l0.6 1.3 1.4 0.2 -1.1 0.9 0.3 1.4 -1.2 -0.8 -1.2 0.8 0.3 -1.4 -1.1 -0.9 1.4 -0.2zM630.8 726.6l0.6 1.3 1.4 0.2 -1.1 0.9 0.3 1.4 -1.2 -0.8 -1.2 0.8 0.3 -1.4 -1.1 -0.9 1.4 -0.2zM609.2 943.4l0.6 1.3 1.4 0.2 -1.1 0.9 0.3 1.4 -1.2 -0.8 -1.2 0.8 0.3 -1.4 -1.1 -0.9 1.4 -0.2zM632.4 690.6l0.6 1.3 1.4 0.2 -1.1 0.9 0.3 1.4 -1.2 -0.8 -1.2 0.8 0.3 -1.4 -1.1 -0.9 1.4 -0.2zM680.9 997.5l0.6 1.3 1.4 0.2 -1.1 0.9 0.3 1.4 -1.2 -0.8 -1.2 0.8 0.3 -1.4 -1.1 -0.9 1.4 -0.2zM674.4 983.5l0.6 1.3 1.4 0.2 -1.1 0.9 0.3 1.4 -1.2 -0.8 -1.2 0.8 0.3 -1.4 -1.1 -0.9 1.4 -0.2zM605.3 954.7l0.6 1.3 1.4 0.2 -1.1 0.9 0.3 1.4 -1.2 -0.8 -1.2 0.8 0.3 -1.4 -1.1 -0.9 1.4 -0.2zM661.2 954.5l0.6 1.3 1.4 0.2 -1.1 0.9 0.3 1.4 -1.2 -0.8 -1.2 0.8 0.3 -1.4 -1.1 -0.9 1.4 -0.2zM570.3 1001l0.6 1.3 1.4 0.2 -1.1 0.9 0.3 1.4 -1.2 -0.8 -1.2 0.8 0.3 -1.4 -1.1 -0.9 1.4 -0.2zM677.4 987.7l0.6 1.3 1.4 0.2 -1.1 0.9 0.3 1.4 -1.2 -0.8 -1.2 0.8 0.3 -1.4 -1.1 -0.9 1.4 -0.2zM638.1 739.6l0.6 1.3 1.4 0.2 -1.1 0.9 0.3 1.4 -1.2 -0.8 -1.2 0.8 0.3 -1.4 -1.1 -0.9 1.4 -0.2zM594.8 968.3l0.6 1.3 1.4 0.2 -1.1 0.9 0.3 1.4 -1.2 -0.8 -1.2 0.8 0.3 -1.4 -1.1 -0.9 1.4 -0.2zM677.5 992l0.6 1.3 1.4 0.2 -1.1 0.9 0.3 1.4 -1.2 -0.8 -1.2 0.8 0.3 -1.4 -1.1 -0.9 1.4 -0.2zM652.1 912.1l0.6 1.3 1.4 0.2 -1.1 0.9 0.3 1.4 -1.2 -0.8 -1.2 0.8 0.3 -1.4 -1.1 -0.9 1.4 -0.2zM687.6 996.9l0.6 1.3 1.4 0.2 -1.1 0.9 0.3 1.4 -1.2 -0.8 -1.2 0.8 0.3 -1.4 -1.1 -0.9 1.4 -0.2zM586.3 988.5l0.6 1.3 1.4 0.2 -1.1 0.9 0.3 1.4 -1.2 -0.8 -1.2 0.8 0.3 -1.4 -1.1 -0.9 1.4 -0.2zM612.8 934.4l0.6 1.3 1.4 0.2 -1.1 0.9 0.3 1.4 -1.2 -0.8 -1.2 0.8 0.3 -1.4 -1.1 -0.9 1.4 -0.2zM676.4 985.9l0.6 1.3 1.4 0.2 -1.1 0.9 0.3 1.4 -1.2 -0.8 -1.2 0.8 0.3 -1.4 -1.1 -0.9 1.4 -0.2zM591.3 992.8l0.6 1.3 1.4 0.2 -1.1 0.9 0.3 1.4 -1.2 -0.8 -1.2 0.8 0.3 -1.4 -1.1 -0.9 1.4 -0.2zM631 659.9l0.6 1.3 1.4 0.2 -1.1 0.9 0.3 1.4 -1.2 -0.8 -1.2 0.8 0.3 -1.4 -1.1 -0.9 1.4 -0.2zM632.2 652.5l0.6 1.3 1.4 0.2 -1.1 0.9 0.3 1.4 -1.2 -0.8 -1.2 0.8 0.3 -1.4 -1.1 -0.9 1.4 -0.2zM590 983.3l0.6 1.3 1.4 0.2 -1.1 0.9 0.3 1.4 -1.2 -0.8 -1.2 0.8 0.3 -1.4 -1.1 -0.9 1.4 -0.2zM577.1 995.3l0.6 1.3 1.4 0.2 -1.1 0.9 0.3 1.4 -1.2 -0.8 -1.2 0.8 0.3 -1.4 -1.1 -0.9 1.4 -0.2zM689.4 993.1l0.6 1.3 1.4 0.2 -1.1 0.9 0.3 1.4 -1.2 -0.8 -1.2 0.8 0.3 -1.4 -1.1 -0.9 1.4 -0.2zM664.2 961l0.6 1.3 1.4 0.2 -1.1 0.9 0.3 1.4 -1.2 -0.8 -1.2 0.8 0.3 -1.4 -1.1 -0.9 1.4 -0.2zM691.7 1007.1l0.6 1.3 1.4 0.2 -1.1 0.9 0.3 1.4 -1.2 -0.8 -1.2 0.8 0.3 -1.4 -1.1 -0.9 1.4 -0.2zM678.6 987.3l0.6 1.3 1.4 0.2 -1.1 0.9 0.3 1.4 -1.2 -0.8 -1.2 0.8 0.3 -1.4 -1.1 -0.9 1.4 -0.2zM669 970.3l0.6 1.3 1.4 0.2 -1.1 0.9 0.3 1.4 -1.2 -0.8 -1.2 0.8 0.3 -1.4 -1.1 -0.9 1.4 -0.2zM689.6 1003.5l0.6 1.3 1.4 0.2 -1.1 0.9 0.3 1.4 -1.2 -0.8 -1.2 0.8 0.3 -1.4 -1.1 -0.9 1.4 -0.2zM601.8 947.8l0.6 1.3 1.4 0.2 -1.1 0.9 0.3 1.4 -1.2 -0.8 -1.2 0.8 0.3 -1.4 -1.1 -0.9 1.4 -0.2zM630.8 692.9l0.6 1.3 1.4 0.2 -1.1 0.9 0.3 1.4 -1.2 -0.8 -1.2 0.8 0.3 -1.4 -1.1 -0.9 1.4 -0.2zM578 996.4l0.6 1.3 1.4 0.2 -1.1 0.9 0.3 1.4 -1.2 -0.8 -1.2 0.8 0.3 -1.4 -1.1 -0.9 1.4 -0.2zM673.3 990.7l0.6 1.3 1.4 0.2 -1.1 0.9 0.3 1.4 -1.2 -0.8 -1.2 0.8 0.3 -1.4 -1.1 -0.9 1.4 -0.2zM609 952.3l0.6 1.3 1.4 0.2 -1.1 0.9 0.3 1.4 -1.2 -0.8 -1.2 0.8 0.3 -1.4 -1.1 -0.9 1.4 -0.2zM635.9 718.8l0.6 1.3 1.4 0.2 -1.1 0.9 0.3 1.4 -1.2 -0.8 -1.2 0.8 0.3 -1.4 -1.1 -0.9 1.4 -0.2zM656.9 942.1l0.6 1.3 1.4 0.2 -1.1 0.9 0.3 1.4 -1.2 -0.8 -1.2 0.8 0.3 -1.4 -1.1 -0.9 1.4 -0.2zM574.2 995.9l0.6 1.3 1.4 0.2 -1.1 0.9 0.3 1.4 -1.2 -0.8 -1.2 0.8 0.3 -1.4 -1.1 -0.9 1.4 -0.2zM636.6 675.6l0.6 1.3 1.4 0.2 -1.1 0.9 0.3 1.4 -1.2 -0.8 -1.2 0.8 0.3 -1.4 -1.1 -0.9 1.4 -0.2zM693.8 1010.3l0.6 1.3 1.4 0.2 -1.1 0.9 0.3 1.4 -1.2 -0.8 -1.2 0.8 0.3 -1.4 -1.1 -0.9 1.4 -0.2zM634 662.1l0.6 1.3 1.4 0.2 -1.1 0.9 0.3 1.4 -1.2 -0.8 -1.2 0.8 0.3 -1.4 -1.1 -0.9 1.4 -0.2zM655.6 951.1l0.6 1.3 1.4 0.2 -1.1 0.9 0.3 1.4 -1.2 -0.8 -1.2 0.8 0.3 -1.4 -1.1 -0.9 1.4 -0.2zM614.4 903.9l0.6 1.3 1.4 0.2 -1.1 0.9 0.3 1.4 -1.2 -0.8 -1.2 0.8 0.3 -1.4 -1.1 -0.9 1.4 -0.2zM572.5 1002l0.6 1.3 1.4 0.2 -1.1 0.9 0.3 1.4 -1.2 -0.8 -1.2 0.8 0.3 -1.4 -1.1 -0.9 1.4 -0.2zM593.4 982.9l0.6 1.3 1.4 0.2 -1.1 0.9 0.3 1.4 -1.2 -0.8 -1.2 0.8 0.3 -1.4 -1.1 -0.9 1.4 -0.2zM649.1 880.6l0.6 1.3 1.4 0.2 -1.1 0.9 0.3 1.4 -1.2 -0.8 -1.2 0.8 0.3 -1.4 -1.1 -0.9 1.4 -0.2zM678.6 985.2l0.6 1.3 1.4 0.2 -1.1 0.9 0.3 1.4 -1.2 -0.8 -1.2 0.8 0.3 -1.4 -1.1 -0.9 1.4 -0.2zM687.3 999.9l0.6 1.3 1.4 0.2 -1.1 0.9 0.3 1.4 -1.2 -0.8 -1.2 0.8 0.3 -1.4 -1.1 -0.9 1.4 -0.2zM630.7 719.4l0.6 1.3 1.4 0.2 -1.1 0.9 0.3 1.4 -1.2 -0.8 -1.2 0.8 0.3 -1.4 -1.1 -0.9 1.4 -0.2zM580.8 998.4l0.6 1.3 1.4 0.2 -1.1 0.9 0.3 1.4 -1.2 -0.8 -1.2 0.8 0.3 -1.4 -1.1 -0.9 1.4 -0.2zM614.6 919.8l0.6 1.3 1.4 0.2 -1.1 0.9 0.3 1.4 -1.2 -0.8 -1.2 0.8 0.3 -1.4 -1.1 -0.9 1.4 -0.2zM594.6 983l0.6 1.3 1.4 0.2 -1.1 0.9 0.3 1.4 -1.2 -0.8 -1.2 0.8 0.3 -1.4 -1.1 -0.9 1.4 -0.2zM570.5 1005.2l0.6 1.3 1.4 0.2 -1.1 0.9 0.3 1.4 -1.2 -0.8 -1.2 0.8 0.3 -1.4 -1.1 -0.9 1.4 -0.2zM617.9 870.6l0.6 1.3 1.4 0.2 -1.1 0.9 0.3 1.4 -1.2 -0.8 -1.2 0.8 0.3 -1.4 -1.1 -0.9 1.4 -0.2zM651 910.7l0.6 1.3 1.4 0.2 -1.1 0.9 0.3 1.4 -1.2 -0.8 -1.2 0.8 0.3 -1.4 -1.1 -0.9 1.4 -0.2zM609.9 942.4l0.6 1.3 1.4 0.2 -1.1 0.9 0.3 1.4 -1.2 -0.8 -1.2 0.8 0.3 -1.4 -1.1 -0.9 1.4 -0.2zM579.5 1004.6l0.6 1.3 1.4 0.2 -1.1 0.9 0.3 1.4 -1.2 -0.8 -1.2 0.8 0.3 -1.4 -1.1 -0.9 1.4 -0.2zM635.4 675.5l0.6 1.3 1.4 0.2 -1.1 0.9 0.3 1.4 -1.2 -0.8 -1.2 0.8 0.3 -1.4 -1.1 -0.9 1.4 -0.2zM611.7 928.6l0.6 1.3 1.4 0.2 -1.1 0.9 0.3 1.4 -1.2 -0.8 -1.2 0.8 0.3 -1.4 -1.1 -0.9 1.4 -0.2zM675.5 992.8l0.6 1.3 1.4 0.2 -1.1 0.9 0.3 1.4 -1.2 -0.8 -1.2 0.8 0.3 -1.4 -1.1 -0.9 1.4 -0.2zM689.5 994.6l0.6 1.3 1.4 0.2 -1.1 0.9 0.3 1.4 -1.2 -0.8 -1.2 0.8 0.3 -1.4 -1.1 -0.9 1.4 -0.2zM578.5 1003.7l0.6 1.3 1.4 0.2 -1.1 0.9 0.3 1.4 -1.2 -0.8 -1.2 0.8 0.3 -1.4 -1.1 -0.9 1.4 -0.2zM646.5 897.7l0.6 1.3 1.4 0.2 -1.1 0.9 0.3 1.4 -1.2 -0.8 -1.2 0.8 0.3 -1.4 -1.1 -0.9 1.4 -0.2zM653.9 930.7l0.6 1.3 1.4 0.2 -1.1 0.9 0.3 1.4 -1.2 -0.8 -1.2 0.8 0.3 -1.4 -1.1 -0.9 1.4 -0.2zM571 999.7l0.6 1.3 1.4 0.2 -1.1 0.9 0.3 1.4 -1.2 -0.8 -1.2 0.8 0.3 -1.4 -1.1 -0.9 1.4 -0.2zM597.4 976.3l0.6 1.3 1.4 0.2 -1.1 0.9 0.3 1.4 -1.2 -0.8 -1.2 0.8 0.3 -1.4 -1.1 -0.9 1.4 -0.2zM662.3 963.1l0.6 1.3 1.4 0.2 -1.1 0.9 0.3 1.4 -1.2 -0.8 -1.2 0.8 0.3 -1.4 -1.1 -0.9 1.4 -0.2zM592.1 976.8l0.6 1.3 1.4 0.2 -1.1 0.9 0.3 1.4 -1.2 -0.8 -1.2 0.8 0.3 -1.4 -1.1 -0.9 1.4 -0.2zM595.1 973.7l0.6 1.3 1.4 0.2 -1.1 0.9 0.3 1.4 -1.2 -0.8 -1.2 0.8 0.3 -1.4 -1.1 -0.9 1.4 -0.2zM583.9 1004.5l0.6 1.3 1.4 0.2 -1.1 0.9 0.3 1.4 -1.2 -0.8 -1.2 0.8 0.3 -1.4 -1.1 -0.9 1.4 -0.2zM653.1 935.5l0.6 1.3 1.4 0.2 -1.1 0.9 0.3 1.4 -1.2 -0.8 -1.2 0.8 0.3 -1.4 -1.1 -0.9 1.4 -0.2zM650 927.5l0.6 1.3 1.4 0.2 -1.1 0.9 0.3 1.4 -1.2 -0.8 -1.2 0.8 0.3 -1.4 -1.1 -0.9 1.4 -0.2zM654 927.2l0.6 1.3 1.4 0.2 -1.1 0.9 0.3 1.4 -1.2 -0.8 -1.2 0.8 0.3 -1.4 -1.1 -0.9 1.4 -0.2zM585.2 994.7l0.6 1.3 1.4 0.2 -1.1 0.9 0.3 1.4 -1.2 -0.8 -1.2 0.8 0.3 -1.4 -1.1 -0.9 1.4 -0.2zM652.7 913.7l0.6 1.3 1.4 0.2 -1.1 0.9 0.3 1.4 -1.2 -0.8 -1.2 0.8 0.3 -1.4 -1.1 -0.9 1.4 -0.2zM588.3 1002l0.6 1.3 1.4 0.2 -1.1 0.9 0.3 1.4 -1.2 -0.8 -1.2 0.8 0.3 -1.4 -1.1 -0.9 1.4 -0.2zM659.1 961.2l0.6 1.3 1.4 0.2 -1.1 0.9 0.3 1.4 -1.2 -0.8 -1.2 0.8 0.3 -1.4 -1.1 -0.9 1.4 -0.2zM598.2 974.3l0.6 1.3 1.4 0.2 -1.1 0.9 0.3 1.4 -1.2 -0.8 -1.2 0.8 0.3 -1.4 -1.1 -0.9 1.4 -0.2zM636.7 681.5l0.6 1.3 1.4 0.2 -1.1 0.9 0.3 1.4 -1.2 -0.8 -1.2 0.8 0.3 -1.4 -1.1 -0.9 1.4 -0.2zM638.8 717.4l0.6 1.3 1.4 0.2 -1.1 0.9 0.3 1.4 -1.2 -0.8 -1.2 0.8 0.3 -1.4 -1.1 -0.9 1.4 -0.2zM599.9 966l0.6 1.3 1.4 0.2 -1.1 0.9 0.3 1.4 -1.2 -0.8 -1.2 0.8 0.3 -1.4 -1.1 -0.9 1.4 -0.2zM686.9 996.8l0.6 1.3 1.4 0.2 -1.1 0.9 0.3 1.4 -1.2 -0.8 -1.2 0.8 0.3 -1.4 -1.1 -0.9 1.4 -0.2zM622.7 827l0.6 1.3 1.4 0.2 -1.1 0.9 0.3 1.4 -1.2 -0.8 -1.2 0.8 0.3 -1.4 -1.1 -0.9 1.4 -0.2zM574.5 1003.8l0.6 1.3 1.4 0.2 -1.1 0.9 0.3 1.4 -1.2 -0.8 -1.2 0.8 0.3 -1.4 -1.1 -0.9 1.4 -0.2zM676.4 993.5l0.6 1.3 1.4 0.2 -1.1 0.9 0.3 1.4 -1.2 -0.8 -1.2 0.8 0.3 -1.4 -1.1 -0.9 1.4 -0.2zM670 973.2l0.6 1.3 1.4 0.2 -1.1 0.9 0.3 1.4 -1.2 -0.8 -1.2 0.8 0.3 -1.4 -1.1 -0.9 1.4 -0.2zM589.1 992.4l0.6 1.3 1.4 0.2 -1.1 0.9 0.3 1.4 -1.2 -0.8 -1.2 0.8 0.3 -1.4 -1.1 -0.9 1.4 -0.2zM585.4 995.6l0.6 1.3 1.4 0.2 -1.1 0.9 0.3 1.4 -1.2 -0.8 -1.2 0.8 0.3 -1.4 -1.1 -0.9 1.4 -0.2zM582.3 989.9l0.6 1.3 1.4 0.2 -1.1 0.9 0.3 1.4 -1.2 -0.8 -1.2 0.8 0.3 -1.4 -1.1 -0.9 1.4 -0.2zM618 881.4l0.6 1.3 1.4 0.2 -1.1 0.9 0.3 1.4 -1.2 -0.8 -1.2 0.8 0.3 -1.4 -1.1 -0.9 1.4 -0.2zM662.3 965l0.6 1.3 1.4 0.2 -1.1 0.9 0.3 1.4 -1.2 -0.8 -1.2 0.8 0.3 -1.4 -1.1 -0.9 1.4 -0.2zM644.5 765.5l0.6 1.3 1.4 0.2 -1.1 0.9 0.3 1.4 -1.2 -0.8 -1.2 0.8 0.3 -1.4 -1.1 -0.9 1.4 -0.2zM640.9 717.9l0.6 1.3 1.4 0.2 -1.1 0.9 0.3 1.4 -1.2 -0.8 -1.2 0.8 0.3 -1.4 -1.1 -0.9 1.4 -0.2zM642.1 770.4l0.6 1.3 1.4 0.2 -1.1 0.9 0.3 1.4 -1.2 -0.8 -1.2 0.8 0.3 -1.4 -1.1 -0.9 1.4 -0.2zM601.4 965.3l0.6 1.3 1.4 0.2 -1.1 0.9 0.3 1.4 -1.2 -0.8 -1.2 0.8 0.3 -1.4 -1.1 -0.9 1.4 -0.2zM638.6 667.3l0.6 1.3 1.4 0.2 -1.1 0.9 0.3 1.4 -1.2 -0.8 -1.2 0.8 0.3 -1.4 -1.1 -0.9 1.4 -0.2zM674.1 990.6l0.6 1.3 1.4 0.2 -1.1 0.9 0.3 1.4 -1.2 -0.8 -1.2 0.8 0.3 -1.4 -1.1 -0.9 1.4 -0.2zM659.6 953.4l0.6 1.3 1.4 0.2 -1.1 0.9 0.3 1.4 -1.2 -0.8 -1.2 0.8 0.3 -1.4 -1.1 -0.9 1.4 -0.2zM621 849.8l0.6 1.3 1.4 0.2 -1.1 0.9 0.3 1.4 -1.2 -0.8 -1.2 0.8 0.3 -1.4 -1.1 -0.9 1.4 -0.2zM590.2 992.5l0.6 1.3 1.4 0.2 -1.1 0.9 0.3 1.4 -1.2 -0.8 -1.2 0.8 0.3 -1.4 -1.1 -0.9 1.4 -0.2zM569.5 1007.8l0.6 1.3 1.4 0.2 -1.1 0.9 0.3 1.4 -1.2 -0.8 -1.2 0.8 0.3 -1.4 -1.1 -0.9 1.4 -0.2zM655.9 953.1l0.6 1.3 1.4 0.2 -1.1 0.9 0.3 1.4 -1.2 -0.8 -1.2 0.8 0.3 -1.4 -1.1 -0.9 1.4 -0.2zM670.3 970.2l0.6 1.3 1.4 0.2 -1.1 0.9 0.3 1.4 -1.2 -0.8 -1.2 0.8 0.3 -1.4 -1.1 -0.9 1.4 -0.2zM587.1 996.1l0.6 1.3 1.4 0.2 -1.1 0.9 0.3 1.4 -1.2 -0.8 -1.2 0.8 0.3 -1.4 -1.1 -0.9 1.4 -0.2zM588.7 987.7l0.6 1.3 1.4 0.2 -1.1 0.9 0.3 1.4 -1.2 -0.8 -1.2 0.8 0.3 -1.4 -1.1 -0.9 1.4 -0.2zM593.7 979.8l0.6 1.3 1.4 0.2 -1.1 0.9 0.3 1.4 -1.2 -0.8 -1.2 0.8 0.3 -1.4 -1.1 -0.9 1.4 -0.2zM652 923.9l0.6 1.3 1.4 0.2 -1.1 0.9 0.3 1.4 -1.2 -0.8 -1.2 0.8 0.3 -1.4 -1.1 -0.9 1.4 -0.2zM685.7 996.7l0.6 1.3 1.4 0.2 -1.1 0.9 0.3 1.4 -1.2 -0.8 -1.2 0.8 0.3 -1.4 -1.1 -0.9 1.4 -0.2zM589.5 992.2l0.6 1.3 1.4 0.2 -1.1 0.9 0.3 1.4 -1.2 -0.8 -1.2 0.8 0.3 -1.4 -1.1 -0.9 1.4 -0.2zM582.5 998.5l0.6 1.3 1.4 0.2 -1.1 0.9 0.3 1.4 -1.2 -0.8 -1.2 0.8 0.3 -1.4 -1.1 -0.9 1.4 -0.2zM627.8 771.6l0.6 1.3 1.4 0.2 -1.1 0.9 0.3 1.4 -1.2 -0.8 -1.2 0.8 0.3 -1.4 -1.1 -0.9 1.4 -0.2zM683.6 992.8l0.6 1.3 1.4 0.2 -1.1 0.9 0.3 1.4 -1.2 -0.8 -1.2 0.8 0.3 -1.4 -1.1 -0.9 1.4 -0.2zM633.3 670.9l0.6 1.3 1.4 0.2 -1.1 0.9 0.3 1.4 -1.2 -0.8 -1.2 0.8 0.3 -1.4 -1.1 -0.9 1.4 -0.2zM586.4 996.3l0.6 1.3 1.4 0.2 -1.1 0.9 0.3 1.4 -1.2 -0.8 -1.2 0.8 0.3 -1.4 -1.1 -0.9 1.4 -0.2zM666.5 980.2l0.6 1.3 1.4 0.2 -1.1 0.9 0.3 1.4 -1.2 -0.8 -1.2 0.8 0.3 -1.4 -1.1 -0.9 1.4 -0.2zM644.1 814.5l0.6 1.3 1.4 0.2 -1.1 0.9 0.3 1.4 -1.2 -0.8 -1.2 0.8 0.3 -1.4 -1.1 -0.9 1.4 -0.2zM691.3 1000.3l0.6 1.3 1.4 0.2 -1.1 0.9 0.3 1.4 -1.2 -0.8 -1.2 0.8 0.3 -1.4 -1.1 -0.9 1.4 -0.2zM640.7 744.7l0.6 1.3 1.4 0.2 -1.1 0.9 0.3 1.4 -1.2 -0.8 -1.2 0.8 0.3 -1.4 -1.1 -0.9 1.4 -0.2zM629.4 639.9l0.6 1.3 1.4 0.2 -1.1 0.9 0.3 1.4 -1.2 -0.8 -1.2 0.8 0.3 -1.4 -1.1 -0.9 1.4 -0.2zM608.5 950.9l0.6 1.3 1.4 0.2 -1.1 0.9 0.3 1.4 -1.2 -0.8 -1.2 0.8 0.3 -1.4 -1.1 -0.9 1.4 -0.2zM571.6 1004.5l0.6 1.3 1.4 0.2 -1.1 0.9 0.3 1.4 -1.2 -0.8 -1.2 0.8 0.3 -1.4 -1.1 -0.9 1.4 -0.2zM594.5 986.6l0.6 1.3 1.4 0.2 -1.1 0.9 0.3 1.4 -1.2 -0.8 -1.2 0.8 0.3 -1.4 -1.1 -0.9 1.4 -0.2zM578.9 1000.6l0.6 1.3 1.4 0.2 -1.1 0.9 0.3 1.4 -1.2 -0.8 -1.2 0.8 0.3 -1.4 -1.1 -0.9 1.4 -0.2zM661.9 941.8l0.6 1.3 1.4 0.2 -1.1 0.9 0.3 1.4 -1.2 -0.8 -1.2 0.8 0.3 -1.4 -1.1 -0.9 1.4 -0.2zM593.6 976.7l0.6 1.3 1.4 0.2 -1.1 0.9 0.3 1.4 -1.2 -0.8 -1.2 0.8 0.3 -1.4 -1.1 -0.9 1.4 -0.2zM635.9 664.2l0.6 1.3 1.4 0.2 -1.1 0.9 0.3 1.4 -1.2 -0.8 -1.2 0.8 0.3 -1.4 -1.1 -0.9 1.4 -0.2zM611.2 940.9l0.6 1.3 1.4 0.2 -1.1 0.9 0.3 1.4 -1.2 -0.8 -1.2 0.8 0.3 -1.4 -1.1 -0.9 1.4 -0.2zM665.8 956.4l0.6 1.3 1.4 0.2 -1.1 0.9 0.3 1.4 -1.2 -0.8 -1.2 0.8 0.3 -1.4 -1.1 -0.9 1.4 -0.2zM657.7 956.2l0.6 1.3 1.4 0.2 -1.1 0.9 0.3 1.4 -1.2 -0.8 -1.2 0.8 0.3 -1.4 -1.1 -0.9 1.4 -0.2zM587.4 987l0.6 1.3 1.4 0.2 -1.1 0.9 0.3 1.4 -1.2 -0.8 -1.2 0.8 0.3 -1.4 -1.1 -0.9 1.4 -0.2zM598.6 978l0.6 1.3 1.4 0.2 -1.1 0.9 0.3 1.4 -1.2 -0.8 -1.2 0.8 0.3 -1.4 -1.1 -0.9 1.4 -0.2zM619.8 865.6l0.6 1.3 1.4 0.2 -1.1 0.9 0.3 1.4 -1.2 -0.8 -1.2 0.8 0.3 -1.4 -1.1 -0.9 1.4 -0.2zM673.3 994.3l0.6 1.3 1.4 0.2 -1.1 0.9 0.3 1.4 -1.2 -0.8 -1.2 0.8 0.3 -1.4 -1.1 -0.9 1.4 -0.2zM585.6 992.1l0.6 1.3 1.4 0.2 -1.1 0.9 0.3 1.4 -1.2 -0.8 -1.2 0.8 0.3 -1.4 -1.1 -0.9 1.4 -0.2zM659.6 941.1l0.6 1.3 1.4 0.2 -1.1 0.9 0.3 1.4 -1.2 -0.8 -1.2 0.8 0.3 -1.4 -1.1 -0.9 1.4 -0.2zM622.3 820.1l0.6 1.3 1.4 0.2 -1.1 0.9 0.3 1.4 -1.2 -0.8 -1.2 0.8 0.3 -1.4 -1.1 -0.9 1.4 -0.2zM591.8 989.3l0.6 1.3 1.4 0.2 -1.1 0.9 0.3 1.4 -1.2 -0.8 -1.2 0.8 0.3 -1.4 -1.1 -0.9 1.4 -0.2zM665.8 969.5l0.6 1.3 1.4 0.2 -1.1 0.9 0.3 1.4 -1.2 -0.8 -1.2 0.8 0.3 -1.4 -1.1 -0.9 1.4 -0.2zM649.8 888l0.6 1.3 1.4 0.2 -1.1 0.9 0.3 1.4 -1.2 -0.8 -1.2 0.8 0.3 -1.4 -1.1 -0.9 1.4 -0.2zM668.3 979.6l0.6 1.3 1.4 0.2 -1.1 0.9 0.3 1.4 -1.2 -0.8 -1.2 0.8 0.3 -1.4 -1.1 -0.9 1.4 -0.2zM607.5 949.7l0.6 1.3 1.4 0.2 -1.1 0.9 0.3 1.4 -1.2 -0.8 -1.2 0.8 0.3 -1.4 -1.1 -0.9 1.4 -0.2zM667.2 971.1l0.6 1.3 1.4 0.2 -1.1 0.9 0.3 1.4 -1.2 -0.8 -1.2 0.8 0.3 -1.4 -1.1 -0.9 1.4 -0.2zM617.9 900.1l0.6 1.3 1.4 0.2 -1.1 0.9 0.3 1.4 -1.2 -0.8 -1.2 0.8 0.3 -1.4 -1.1 -0.9 1.4 -0.2zM655.4 939.1l0.6 1.3 1.4 0.2 -1.1 0.9 0.3 1.4 -1.2 -0.8 -1.2 0.8 0.3 -1.4 -1.1 -0.9 1.4 -0.2zM593.4 987l0.6 1.3 1.4 0.2 -1.1 0.9 0.3 1.4 -1.2 -0.8 -1.2 0.8 0.3 -1.4 -1.1 -0.9 1.4 -0.2zM692.5 1007.2l0.6 1.3 1.4 0.2 -1.1 0.9 0.3 1.4 -1.2 -0.8 -1.2 0.8 0.3 -1.4 -1.1 -0.9 1.4 -0.2zM679.8 986.9l0.6 1.3 1.4 0.2 -1.1 0.9 0.3 1.4 -1.2 -0.8 -1.2 0.8 0.3 -1.4 -1.1 -0.9 1.4 -0.2zM593.5 984.2l0.6 1.3 1.4 0.2 -1.1 0.9 0.3 1.4 -1.2 -0.8 -1.2 0.8 0.3 -1.4 -1.1 -0.9 1.4 -0.2zM620.2 880.6l0.6 1.3 1.4 0.2 -1.1 0.9 0.3 1.4 -1.2 -0.8 -1.2 0.8 0.3 -1.4 -1.1 -0.9 1.4 -0.2zM575.1 1001.4l0.6 1.3 1.4 0.2 -1.1 0.9 0.3 1.4 -1.2 -0.8 -1.2 0.8 0.3 -1.4 -1.1 -0.9 1.4 -0.2zM658.9 957.2l0.6 1.3 1.4 0.2 -1.1 0.9 0.3 1.4 -1.2 -0.8 -1.2 0.8 0.3 -1.4 -1.1 -0.9 1.4 -0.2zM628.4 751.3l0.6 1.3 1.4 0.2 -1.1 0.9 0.3 1.4 -1.2 -0.8 -1.2 0.8 0.3 -1.4 -1.1 -0.9 1.4 -0.2zM691.6 998.1l0.6 1.3 1.4 0.2 -1.1 0.9 0.3 1.4 -1.2 -0.8 -1.2 0.8 0.3 -1.4 -1.1 -0.9 1.4 -0.2zM636 728l0.6 1.3 1.4 0.2 -1.1 0.9 0.3 1.4 -1.2 -0.8 -1.2 0.8 0.3 -1.4 -1.1 -0.9 1.4 -0.2zM584.7 998.9l0.6 1.3 1.4 0.2 -1.1 0.9 0.3 1.4 -1.2 -0.8 -1.2 0.8 0.3 -1.4 -1.1 -0.9 1.4 -0.2zM660.3 967.6l0.6 1.3 1.4 0.2 -1.1 0.9 0.3 1.4 -1.2 -0.8 -1.2 0.8 0.3 -1.4 -1.1 -0.9 1.4 -0.2zM594.9 983.1l0.6 1.3 1.4 0.2 -1.1 0.9 0.3 1.4 -1.2 -0.8 -1.2 0.8 0.3 -1.4 -1.1 -0.9 1.4 -0.2zM665.3 973.3l0.6 1.3 1.4 0.2 -1.1 0.9 0.3 1.4 -1.2 -0.8 -1.2 0.8 0.3 -1.4 -1.1 -0.9 1.4 -0.2zM690.5 998.2l0.6 1.3 1.4 0.2 -1.1 0.9 0.3 1.4 -1.2 -0.8 -1.2 0.8 0.3 -1.4 -1.1 -0.9 1.4 -0.2zM640.2 675.8l0.6 1.3 1.4 0.2 -1.1 0.9 0.3 1.4 -1.2 -0.8 -1.2 0.8 0.3 -1.4 -1.1 -0.9 1.4 -0.2zM603 966.7l0.6 1.3 1.4 0.2 -1.1 0.9 0.3 1.4 -1.2 -0.8 -1.2 0.8 0.3 -1.4 -1.1 -0.9 1.4 -0.2zM661.6 963.9l0.6 1.3 1.4 0.2 -1.1 0.9 0.3 1.4 -1.2 -0.8 -1.2 0.8 0.3 -1.4 -1.1 -0.9 1.4 -0.2zM603.3 972.2l0.6 1.3 1.4 0.2 -1.1 0.9 0.3 1.4 -1.2 -0.8 -1.2 0.8 0.3 -1.4 -1.1 -0.9 1.4 -0.2zM679.1 989.8l0.6 1.3 1.4 0.2 -1.1 0.9 0.3 1.4 -1.2 -0.8 -1.2 0.8 0.3 -1.4 -1.1 -0.9 1.4 -0.2zM588.4 992.9l0.6 1.3 1.4 0.2 -1.1 0.9 0.3 1.4 -1.2 -0.8 -1.2 0.8 0.3 -1.4 -1.1 -0.9 1.4 -0.2zM651.6 899.3l0.6 1.3 1.4 0.2 -1.1 0.9 0.3 1.4 -1.2 -0.8 -1.2 0.8 0.3 -1.4 -1.1 -0.9 1.4 -0.2zM579.4 993.5l0.6 1.3 1.4 0.2 -1.1 0.9 0.3 1.4 -1.2 -0.8 -1.2 0.8 0.3 -1.4 -1.1 -0.9 1.4 -0.2zM589.1 995.5l0.6 1.3 1.4 0.2 -1.1 0.9 0.3 1.4 -1.2 -0.8 -1.2 0.8 0.3 -1.4 -1.1 -0.9 1.4 -0.2zM650 882.7l0.6 1.3 1.4 0.2 -1.1 0.9 0.3 1.4 -1.2 -0.8 -1.2 0.8 0.3 -1.4 -1.1 -0.9 1.4 -0.2zM589.1 986.5l0.6 1.3 1.4 0.2 -1.1 0.9 0.3 1.4 -1.2 -0.8 -1.2 0.8 0.3 -1.4 -1.1 -0.9 1.4 -0.2zM695.6 1005.5l0.6 1.3 1.4 0.2 -1.1 0.9 0.3 1.4 -1.2 -0.8 -1.2 0.8 0.3 -1.4 -1.1 -0.9 1.4 -0.2zM686.5 1001.9l0.6 1.3 1.4 0.2 -1.1 0.9 0.3 1.4 -1.2 -0.8 -1.2 0.8 0.3 -1.4 -1.1 -0.9 1.4 -0.2zM637.6 720.9l0.6 1.3 1.4 0.2 -1.1 0.9 0.3 1.4 -1.2 -0.8 -1.2 0.8 0.3 -1.4 -1.1 -0.9 1.4 -0.2zM667.1 979.9l0.6 1.3 1.4 0.2 -1.1 0.9 0.3 1.4 -1.2 -0.8 -1.2 0.8 0.3 -1.4 -1.1 -0.9 1.4 -0.2zM687.6 997.3l0.6 1.3 1.4 0.2 -1.1 0.9 0.3 1.4 -1.2 -0.8 -1.2 0.8 0.3 -1.4 -1.1 -0.9 1.4 -0.2zM626.3 691.8l0.6 1.3 1.4 0.2 -1.1 0.9 0.3 1.4 -1.2 -0.8 -1.2 0.8 0.3 -1.4 -1.1 -0.9 1.4 -0.2zM598 969.6l0.6 1.3 1.4 0.2 -1.1 0.9 0.3 1.4 -1.2 -0.8 -1.2 0.8 0.3 -1.4 -1.1 -0.9 1.4 -0.2zM592 985.3l0.6 1.3 1.4 0.2 -1.1 0.9 0.3 1.4 -1.2 -0.8 -1.2 0.8 0.3 -1.4 -1.1 -0.9 1.4 -0.2zM666.1 975.4l0.6 1.3 1.4 0.2 -1.1 0.9 0.3 1.4 -1.2 -0.8 -1.2 0.8 0.3 -1.4 -1.1 -0.9 1.4 -0.2zM593.3 974.7l0.6 1.3 1.4 0.2 -1.1 0.9 0.3 1.4 -1.2 -0.8 -1.2 0.8 0.3 -1.4 -1.1 -0.9 1.4 -0.2zM613.5 931.2l0.6 1.3 1.4 0.2 -1.1 0.9 0.3 1.4 -1.2 -0.8 -1.2 0.8 0.3 -1.4 -1.1 -0.9 1.4 -0.2zM640.5 761.4l0.6 1.3 1.4 0.2 -1.1 0.9 0.3 1.4 -1.2 -0.8 -1.2 0.8 0.3 -1.4 -1.1 -0.9 1.4 -0.2zM616.2 905.5l0.6 1.3 1.4 0.2 -1.1 0.9 0.3 1.4 -1.2 -0.8 -1.2 0.8 0.3 -1.4 -1.1 -0.9 1.4 -0.2zM631.8 699.7l0.6 1.3 1.4 0.2 -1.1 0.9 0.3 1.4 -1.2 -0.8 -1.2 0.8 0.3 -1.4 -1.1 -0.9 1.4 -0.2zM595 974.1l0.6 1.3 1.4 0.2 -1.1 0.9 0.3 1.4 -1.2 -0.8 -1.2 0.8 0.3 -1.4 -1.1 -0.9 1.4 -0.2zM585.6 991.7l0.6 1.3 1.4 0.2 -1.1 0.9 0.3 1.4 -1.2 -0.8 -1.2 0.8 0.3 -1.4 -1.1 -0.9 1.4 -0.2zM590 985.7l0.6 1.3 1.4 0.2 -1.1 0.9 0.3 1.4 -1.2 -0.8 -1.2 0.8 0.3 -1.4 -1.1 -0.9 1.4 -0.2zM611 924.5l0.6 1.3 1.4 0.2 -1.1 0.9 0.3 1.4 -1.2 -0.8 -1.2 0.8 0.3 -1.4 -1.1 -0.9 1.4 -0.2zM626.6 762l0.6 1.3 1.4 0.2 -1.1 0.9 0.3 1.4 -1.2 -0.8 -1.2 0.8 0.3 -1.4 -1.1 -0.9 1.4 -0.2zM643.2 793.3l0.6 1.3 1.4 0.2 -1.1 0.9 0.3 1.4 -1.2 -0.8 -1.2 0.8 0.3 -1.4 -1.1 -0.9 1.4 -0.2zM671.8 985.6l0.6 1.3 1.4 0.2 -1.1 0.9 0.3 1.4 -1.2 -0.8 -1.2 0.8 0.3 -1.4 -1.1 -0.9 1.4 -0.2zM639.7 806.1l0.6 1.3 1.4 0.2 -1.1 0.9 0.3 1.4 -1.2 -0.8 -1.2 0.8 0.3 -1.4 -1.1 -0.9 1.4 -0.2zM689.4 1004.2l0.6 1.3 1.4 0.2 -1.1 0.9 0.3 1.4 -1.2 -0.8 -1.2 0.8 0.3 -1.4 -1.1 -0.9 1.4 -0.2zM652.5 913.2l0.6 1.3 1.4 0.2 -1.1 0.9 0.3 1.4 -1.2 -0.8 -1.2 0.8 0.3 -1.4 -1.1 -0.9 1.4 -0.2zM691.4 994.3l0.6 1.3 1.4 0.2 -1.1 0.9 0.3 1.4 -1.2 -0.8 -1.2 0.8 0.3 -1.4 -1.1 -0.9 1.4 -0.2zM682.7 1004.3l0.6 1.3 1.4 0.2 -1.1 0.9 0.3 1.4 -1.2 -0.8 -1.2 0.8 0.3 -1.4 -1.1 -0.9 1.4 -0.2zM671.5 986l0.6 1.3 1.4 0.2 -1.1 0.9 0.3 1.4 -1.2 -0.8 -1.2 0.8 0.3 -1.4 -1.1 -0.9 1.4 -0.2zM627.8 693.6l0.6 1.3 1.4 0.2 -1.1 0.9 0.3 1.4 -1.2 -0.8 -1.2 0.8 0.3 -1.4 -1.1 -0.9 1.4 -0.2zM592.9 986.6l0.6 1.3 1.4 0.2 -1.1 0.9 0.3 1.4 -1.2 -0.8 -1.2 0.8 0.3 -1.4 -1.1 -0.9 1.4 -0.2zM682.6 987.6l0.6 1.3 1.4 0.2 -1.1 0.9 0.3 1.4 -1.2 -0.8 -1.2 0.8 0.3 -1.4 -1.1 -0.9 1.4 -0.2zM642.4 724.4l0.6 1.3 1.4 0.2 -1.1 0.9 0.3 1.4 -1.2 -0.8 -1.2 0.8 0.3 -1.4 -1.1 -0.9 1.4 -0.2zM654.4 928.2l0.6 1.3 1.4 0.2 -1.1 0.9 0.3 1.4 -1.2 -0.8 -1.2 0.8 0.3 -1.4 -1.1 -0.9 1.4 -0.2zM681.6 995.2l0.6 1.3 1.4 0.2 -1.1 0.9 0.3 1.4 -1.2 -0.8 -1.2 0.8 0.3 -1.4 -1.1 -0.9 1.4 -0.2zM668.2 981.8l0.6 1.3 1.4 0.2 -1.1 0.9 0.3 1.4 -1.2 -0.8 -1.2 0.8 0.3 -1.4 -1.1 -0.9 1.4 -0.2zM683 990.4l0.6 1.3 1.4 0.2 -1.1 0.9 0.3 1.4 -1.2 -0.8 -1.2 0.8 0.3 -1.4 -1.1 -0.9 1.4 -0.2zM637.3 670.3l0.6 1.3 1.4 0.2 -1.1 0.9 0.3 1.4 -1.2 -0.8 -1.2 0.8 0.3 -1.4 -1.1 -0.9 1.4 -0.2zM640.6 738.7l0.6 1.3 1.4 0.2 -1.1 0.9 0.3 1.4 -1.2 -0.8 -1.2 0.8 0.3 -1.4 -1.1 -0.9 1.4 -0.2zM652.9 903l0.6 1.3 1.4 0.2 -1.1 0.9 0.3 1.4 -1.2 -0.8 -1.2 0.8 0.3 -1.4 -1.1 -0.9 1.4 -0.2zM623.1 848.2l0.6 1.3 1.4 0.2 -1.1 0.9 0.3 1.4 -1.2 -0.8 -1.2 0.8 0.3 -1.4 -1.1 -0.9 1.4 -0.2zM681.1 993.9l0.6 1.3 1.4 0.2 -1.1 0.9 0.3 1.4 -1.2 -0.8 -1.2 0.8 0.3 -1.4 -1.1 -0.9 1.4 -0.2zM598.4 970.9l0.6 1.3 1.4 0.2 -1.1 0.9 0.3 1.4 -1.2 -0.8 -1.2 0.8 0.3 -1.4 -1.1 -0.9 1.4 -0.2zM659.9 952.7l0.6 1.3 1.4 0.2 -1.1 0.9 0.3 1.4 -1.2 -0.8 -1.2 0.8 0.3 -1.4 -1.1 -0.9 1.4 -0.2zM675.9 982.6l0.6 1.3 1.4 0.2 -1.1 0.9 0.3 1.4 -1.2 -0.8 -1.2 0.8 0.3 -1.4 -1.1 -0.9 1.4 -0.2zM673.1 987l0.6 1.3 1.4 0.2 -1.1 0.9 0.3 1.4 -1.2 -0.8 -1.2 0.8 0.3 -1.4 -1.1 -0.9 1.4 -0.2zM590.9 995.2l0.6 1.3 1.4 0.2 -1.1 0.9 0.3 1.4 -1.2 -0.8 -1.2 0.8 0.3 -1.4 -1.1 -0.9 1.4 -0.2zM621.1 866.4l0.6 1.3 1.4 0.2 -1.1 0.9 0.3 1.4 -1.2 -0.8 -1.2 0.8 0.3 -1.4 -1.1 -0.9 1.4 -0.2zM647.4 841.3l0.6 1.3 1.4 0.2 -1.1 0.9 0.3 1.4 -1.2 -0.8 -1.2 0.8 0.3 -1.4 -1.1 -0.9 1.4 -0.2zM653.3 908.9l0.6 1.3 1.4 0.2 -1.1 0.9 0.3 1.4 -1.2 -0.8 -1.2 0.8 0.3 -1.4 -1.1 -0.9 1.4 -0.2zM590.7 989.4l0.6 1.3 1.4 0.2 -1.1 0.9 0.3 1.4 -1.2 -0.8 -1.2 0.8 0.3 -1.4 -1.1 -0.9 1.4 -0.2zM604.9 967.6l0.6 1.3 1.4 0.2 -1.1 0.9 0.3 1.4 -1.2 -0.8 -1.2 0.8 0.3 -1.4 -1.1 -0.9 1.4 -0.2zM671.4 980.7l0.6 1.3 1.4 0.2 -1.1 0.9 0.3 1.4 -1.2 -0.8 -1.2 0.8 0.3 -1.4 -1.1 -0.9 1.4 -0.2zM571.4 997.4l0.6 1.3 1.4 0.2 -1.1 0.9 0.3 1.4 -1.2 -0.8 -1.2 0.8 0.3 -1.4 -1.1 -0.9 1.4 -0.2zM679.8 990.8l0.6 1.3 1.4 0.2 -1.1 0.9 0.3 1.4 -1.2 -0.8 -1.2 0.8 0.3 -1.4 -1.1 -0.9 1.4 -0.2zM584.4 988.2l0.6 1.3 1.4 0.2 -1.1 0.9 0.3 1.4 -1.2 -0.8 -1.2 0.8 0.3 -1.4 -1.1 -0.9 1.4 -0.2zM675.4 987.2l0.6 1.3 1.4 0.2 -1.1 0.9 0.3 1.4 -1.2 -0.8 -1.2 0.8 0.3 -1.4 -1.1 -0.9 1.4 -0.2zM595.9 987.1l0.6 1.3 1.4 0.2 -1.1 0.9 0.3 1.4 -1.2 -0.8 -1.2 0.8 0.3 -1.4 -1.1 -0.9 1.4 -0.2zM641.1 739l0.6 1.3 1.4 0.2 -1.1 0.9 0.3 1.4 -1.2 -0.8 -1.2 0.8 0.3 -1.4 -1.1 -0.9 1.4 -0.2zM666.1 979.7l0.6 1.3 1.4 0.2 -1.1 0.9 0.3 1.4 -1.2 -0.8 -1.2 0.8 0.3 -1.4 -1.1 -0.9 1.4 -0.2zM618.9 863.6l0.6 1.3 1.4 0.2 -1.1 0.9 0.3 1.4 -1.2 -0.8 -1.2 0.8 0.3 -1.4 -1.1 -0.9 1.4 -0.2zM622.1 836.8l0.6 1.3 1.4 0.2 -1.1 0.9 0.3 1.4 -1.2 -0.8 -1.2 0.8 0.3 -1.4 -1.1 -0.9 1.4 -0.2zM683.1 987.9l0.6 1.3 1.4 0.2 -1.1 0.9 0.3 1.4 -1.2 -0.8 -1.2 0.8 0.3 -1.4 -1.1 -0.9 1.4 -0.2zM580.9 994.5l0.6 1.3 1.4 0.2 -1.1 0.9 0.3 1.4 -1.2 -0.8 -1.2 0.8 0.3 -1.4 -1.1 -0.9 1.4 -0.2zM682.3 1001.4l0.6 1.3 1.4 0.2 -1.1 0.9 0.3 1.4 -1.2 -0.8 -1.2 0.8 0.3 -1.4 -1.1 -0.9 1.4 -0.2zM597.1 983.9l0.6 1.3 1.4 0.2 -1.1 0.9 0.3 1.4 -1.2 -0.8 -1.2 0.8 0.3 -1.4 -1.1 -0.9 1.4 -0.2zM697 1006.4l0.6 1.3 1.4 0.2 -1.1 0.9 0.3 1.4 -1.2 -0.8 -1.2 0.8 0.3 -1.4 -1.1 -0.9 1.4 -0.2zM587.8 992.7l0.6 1.3 1.4 0.2 -1.1 0.9 0.3 1.4 -1.2 -0.8 -1.2 0.8 0.3 -1.4 -1.1 -0.9 1.4 -0.2zM573.1 998.7l0.6 1.3 1.4 0.2 -1.1 0.9 0.3 1.4 -1.2 -0.8 -1.2 0.8 0.3 -1.4 -1.1 -0.9 1.4 -0.2zM601.8 960l0.6 1.3 1.4 0.2 -1.1 0.9 0.3 1.4 -1.2 -0.8 -1.2 0.8 0.3 -1.4 -1.1 -0.9 1.4 -0.2zM673 980l0.6 1.3 1.4 0.2 -1.1 0.9 0.3 1.4 -1.2 -0.8 -1.2 0.8 0.3 -1.4 -1.1 -0.9 1.4 -0.2zM670.8 987.6l0.6 1.3 1.4 0.2 -1.1 0.9 0.3 1.4 -1.2 -0.8 -1.2 0.8 0.3 -1.4 -1.1 -0.9 1.4 -0.2zM661.4 962.6l0.6 1.3 1.4 0.2 -1.1 0.9 0.3 1.4 -1.2 -0.8 -1.2 0.8 0.3 -1.4 -1.1 -0.9 1.4 -0.2zM685.6 995.4l0.6 1.3 1.4 0.2 -1.1 0.9 0.3 1.4 -1.2 -0.8 -1.2 0.8 0.3 -1.4 -1.1 -0.9 1.4 -0.2zM608.4 960.1l0.6 1.3 1.4 0.2 -1.1 0.9 0.3 1.4 -1.2 -0.8 -1.2 0.8 0.3 -1.4 -1.1 -0.9 1.4 -0.2zM605.3 968.5l0.6 1.3 1.4 0.2 -1.1 0.9 0.3 1.4 -1.2 -0.8 -1.2 0.8 0.3 -1.4 -1.1 -0.9 1.4 -0.2zM668.4 972.9l0.6 1.3 1.4 0.2 -1.1 0.9 0.3 1.4 -1.2 -0.8 -1.2 0.8 0.3 -1.4 -1.1 -0.9 1.4 -0.2zM632.9 703.4l0.6 1.3 1.4 0.2 -1.1 0.9 0.3 1.4 -1.2 -0.8 -1.2 0.8 0.3 -1.4 -1.1 -0.9 1.4 -0.2zM606 959.5l0.6 1.3 1.4 0.2 -1.1 0.9 0.3 1.4 -1.2 -0.8 -1.2 0.8 0.3 -1.4 -1.1 -0.9 1.4 -0.2zM609.3 953.3l0.6 1.3 1.4 0.2 -1.1 0.9 0.3 1.4 -1.2 -0.8 -1.2 0.8 0.3 -1.4 -1.1 -0.9 1.4 -0.2zM599.8 962.9l0.6 1.3 1.4 0.2 -1.1 0.9 0.3 1.4 -1.2 -0.8 -1.2 0.8 0.3 -1.4 -1.1 -0.9 1.4 -0.2zM610.8 928.9l0.6 1.3 1.4 0.2 -1.1 0.9 0.3 1.4 -1.2 -0.8 -1.2 0.8 0.3 -1.4 -1.1 -0.9 1.4 -0.2zM659.5 965.2l0.6 1.3 1.4 0.2 -1.1 0.9 0.3 1.4 -1.2 -0.8 -1.2 0.8 0.3 -1.4 -1.1 -0.9 1.4 -0.2zM643.6 821.2l0.6 1.3 1.4 0.2 -1.1 0.9 0.3 1.4 -1.2 -0.8 -1.2 0.8 0.3 -1.4 -1.1 -0.9 1.4 -0.2zM668.5 972l0.6 1.3 1.4 0.2 -1.1 0.9 0.3 1.4 -1.2 -0.8 -1.2 0.8 0.3 -1.4 -1.1 -0.9 1.4 -0.2zM653.2 931.5l0.6 1.3 1.4 0.2 -1.1 0.9 0.3 1.4 -1.2 -0.8 -1.2 0.8 0.3 -1.4 -1.1 -0.9 1.4 -0.2zM593.3 991.1l0.6 1.3 1.4 0.2 -1.1 0.9 0.3 1.4 -1.2 -0.8 -1.2 0.8 0.3 -1.4 -1.1 -0.9 1.4 -0.2zM581.1 998.6l0.6 1.3 1.4 0.2 -1.1 0.9 0.3 1.4 -1.2 -0.8 -1.2 0.8 0.3 -1.4 -1.1 -0.9 1.4 -0.2zM588.1 988l0.6 1.3 1.4 0.2 -1.1 0.9 0.3 1.4 -1.2 -0.8 -1.2 0.8 0.3 -1.4 -1.1 -0.9 1.4 -0.2zM666.5 969.8l0.6 1.3 1.4 0.2 -1.1 0.9 0.3 1.4 -1.2 -0.8 -1.2 0.8 0.3 -1.4 -1.1 -0.9 1.4 -0.2zM604.1 961.7l0.6 1.3 1.4 0.2 -1.1 0.9 0.3 1.4 -1.2 -0.8 -1.2 0.8 0.3 -1.4 -1.1 -0.9 1.4 -0.2zM626.5 782.2l0.6 1.3 1.4 0.2 -1.1 0.9 0.3 1.4 -1.2 -0.8 -1.2 0.8 0.3 -1.4 -1.1 -0.9 1.4 -0.2zM693.6 997.5l0.6 1.3 1.4 0.2 -1.1 0.9 0.3 1.4 -1.2 -0.8 -1.2 0.8 0.3 -1.4 -1.1 -0.9 1.4 -0.2zM595.5 974.8l0.6 1.3 1.4 0.2 -1.1 0.9 0.3 1.4 -1.2 -0.8 -1.2 0.8 0.3 -1.4 -1.1 -0.9 1.4 -0.2zM674.9 992.2l0.6 1.3 1.4 0.2 -1.1 0.9 0.3 1.4 -1.2 -0.8 -1.2 0.8 0.3 -1.4 -1.1 -0.9 1.4 -0.2zM643.9 844.6l0.6 1.3 1.4 0.2 -1.1 0.9 0.3 1.4 -1.2 -0.8 -1.2 0.8 0.3 -1.4 -1.1 -0.9 1.4 -0.2zM600.7 975.5l0.6 1.3 1.4 0.2 -1.1 0.9 0.3 1.4 -1.2 -0.8 -1.2 0.8 0.3 -1.4 -1.1 -0.9 1.4 -0.2zM656.7 948l0.6 1.3 1.4 0.2 -1.1 0.9 0.3 1.4 -1.2 -0.8 -1.2 0.8 0.3 -1.4 -1.1 -0.9 1.4 -0.2zM597.1 981.3l0.6 1.3 1.4 0.2 -1.1 0.9 0.3 1.4 -1.2 -0.8 -1.2 0.8 0.3 -1.4 -1.1 -0.9 1.4 -0.2zM671.3 977.6l0.6 1.3 1.4 0.2 -1.1 0.9 0.3 1.4 -1.2 -0.8 -1.2 0.8 0.3 -1.4 -1.1 -0.9 1.4 -0.2zM612.1 936l0.6 1.3 1.4 0.2 -1.1 0.9 0.3 1.4 -1.2 -0.8 -1.2 0.8 0.3 -1.4 -1.1 -0.9 1.4 -0.2zM667.1 960.1l0.6 1.3 1.4 0.2 -1.1 0.9 0.3 1.4 -1.2 -0.8 -1.2 0.8 0.3 -1.4 -1.1 -0.9 1.4 -0.2zM670.7 989.6l0.6 1.3 1.4 0.2 -1.1 0.9 0.3 1.4 -1.2 -0.8 -1.2 0.8 0.3 -1.4 -1.1 -0.9 1.4 -0.2zM574.9 1004l0.6 1.3 1.4 0.2 -1.1 0.9 0.3 1.4 -1.2 -0.8 -1.2 0.8 0.3 -1.4 -1.1 -0.9 1.4 -0.2zM601.4 957.6l0.6 1.3 1.4 0.2 -1.1 0.9 0.3 1.4 -1.2 -0.8 -1.2 0.8 0.3 -1.4 -1.1 -0.9 1.4 -0.2zM585.8 987.1l0.6 1.3 1.4 0.2 -1.1 0.9 0.3 1.4 -1.2 -0.8 -1.2 0.8 0.3 -1.4 -1.1 -0.9 1.4 -0.2zM678.1 997.3l0.6 1.3 1.4 0.2 -1.1 0.9 0.3 1.4 -1.2 -0.8 -1.2 0.8 0.3 -1.4 -1.1 -0.9 1.4 -0.2zM586.2 996.1l0.6 1.3 1.4 0.2 -1.1 0.9 0.3 1.4 -1.2 -0.8 -1.2 0.8 0.3 -1.4 -1.1 -0.9 1.4 -0.2zM647.1 826.7l0.6 1.3 1.4 0.2 -1.1 0.9 0.3 1.4 -1.2 -0.8 -1.2 0.8 0.3 -1.4 -1.1 -0.9 1.4 -0.2zM639.2 647.4l0.6 1.3 1.4 0.2 -1.1 0.9 0.3 1.4 -1.2 -0.8 -1.2 0.8 0.3 -1.4 -1.1 -0.9 1.4 -0.2zM582.3 1000.6l0.6 1.3 1.4 0.2 -1.1 0.9 0.3 1.4 -1.2 -0.8 -1.2 0.8 0.3 -1.4 -1.1 -0.9 1.4 -0.2zM596.3 985.6l0.6 1.3 1.4 0.2 -1.1 0.9 0.3 1.4 -1.2 -0.8 -1.2 0.8 0.3 -1.4 -1.1 -0.9 1.4 -0.2zM663.7 958.9l0.6 1.3 1.4 0.2 -1.1 0.9 0.3 1.4 -1.2 -0.8 -1.2 0.8 0.3 -1.4 -1.1 -0.9 1.4 -0.2zM617.7 882l0.6 1.3 1.4 0.2 -1.1 0.9 0.3 1.4 -1.2 -0.8 -1.2 0.8 0.3 -1.4 -1.1 -0.9 1.4 -0.2zM604.7 970.1l0.6 1.3 1.4 0.2 -1.1 0.9 0.3 1.4 -1.2 -0.8 -1.2 0.8 0.3 -1.4 -1.1 -0.9 1.4 -0.2zM578 995.4l0.6 1.3 1.4 0.2 -1.1 0.9 0.3 1.4 -1.2 -0.8 -1.2 0.8 0.3 -1.4 -1.1 -0.9 1.4 -0.2zM643.3 764.3l0.6 1.3 1.4 0.2 -1.1 0.9 0.3 1.4 -1.2 -0.8 -1.2 0.8 0.3 -1.4 -1.1 -0.9 1.4 -0.2zM660.5 945.7l0.6 1.3 1.4 0.2 -1.1 0.9 0.3 1.4 -1.2 -0.8 -1.2 0.8 0.3 -1.4 -1.1 -0.9 1.4 -0.2zM653.3 934.7l0.6 1.3 1.4 0.2 -1.1 0.9 0.3 1.4 -1.2 -0.8 -1.2 0.8 0.3 -1.4 -1.1 -0.9 1.4 -0.2zM688.9 1001.3l0.6 1.3 1.4 0.2 -1.1 0.9 0.3 1.4 -1.2 -0.8 -1.2 0.8 0.3 -1.4 -1.1 -0.9 1.4 -0.2zM619.2 884.9l0.6 1.3 1.4 0.2 -1.1 0.9 0.3 1.4 -1.2 -0.8 -1.2 0.8 0.3 -1.4 -1.1 -0.9 1.4 -0.2zM655.7 941l0.6 1.3 1.4 0.2 -1.1 0.9 0.3 1.4 -1.2 -0.8 -1.2 0.8 0.3 -1.4 -1.1 -0.9 1.4 -0.2zM657.8 952.4l0.6 1.3 1.4 0.2 -1.1 0.9 0.3 1.4 -1.2 -0.8 -1.2 0.8 0.3 -1.4 -1.1 -0.9 1.4 -0.2zM674.7 988.1l0.6 1.3 1.4 0.2 -1.1 0.9 0.3 1.4 -1.2 -0.8 -1.2 0.8 0.3 -1.4 -1.1 -0.9 1.4 -0.2zM642.3 790l0.6 1.3 1.4 0.2 -1.1 0.9 0.3 1.4 -1.2 -0.8 -1.2 0.8 0.3 -1.4 -1.1 -0.9 1.4 -0.2zM689.7 1002.2l0.6 1.3 1.4 0.2 -1.1 0.9 0.3 1.4 -1.2 -0.8 -1.2 0.8 0.3 -1.4 -1.1 -0.9 1.4 -0.2zM684.8 991.7l0.6 1.3 1.4 0.2 -1.1 0.9 0.3 1.4 -1.2 -0.8 -1.2 0.8 0.3 -1.4 -1.1 -0.9 1.4 -0.2zM570.7 1005.9l0.6 1.3 1.4 0.2 -1.1 0.9 0.3 1.4 -1.2 -0.8 -1.2 0.8 0.3 -1.4 -1.1 -0.9 1.4 -0.2zM608.6 948.4l0.6 1.3 1.4 0.2 -1.1 0.9 0.3 1.4 -1.2 -0.8 -1.2 0.8 0.3 -1.4 -1.1 -0.9 1.4 -0.2zM611.6 933l0.6 1.3 1.4 0.2 -1.1 0.9 0.3 1.4 -1.2 -0.8 -1.2 0.8 0.3 -1.4 -1.1 -0.9 1.4 -0.2zM626 703.5l0.6 1.3 1.4 0.2 -1.1 0.9 0.3 1.4 -1.2 -0.8 -1.2 0.8 0.3 -1.4 -1.1 -0.9 1.4 -0.2zM686.7 995.3l0.6 1.3 1.4 0.2 -1.1 0.9 0.3 1.4 -1.2 -0.8 -1.2 0.8 0.3 -1.4 -1.1 -0.9 1.4 -0.2zM674.8 986.6l0.6 1.3 1.4 0.2 -1.1 0.9 0.3 1.4 -1.2 -0.8 -1.2 0.8 0.3 -1.4 -1.1 -0.9 1.4 -0.2zM608.2 944l0.6 1.3 1.4 0.2 -1.1 0.9 0.3 1.4 -1.2 -0.8 -1.2 0.8 0.3 -1.4 -1.1 -0.9 1.4 -0.2zM664.9 975.8l0.6 1.3 1.4 0.2 -1.1 0.9 0.3 1.4 -1.2 -0.8 -1.2 0.8 0.3 -1.4 -1.1 -0.9 1.4 -0.2zM610.2 948.6l0.6 1.3 1.4 0.2 -1.1 0.9 0.3 1.4 -1.2 -0.8 -1.2 0.8 0.3 -1.4 -1.1 -0.9 1.4 -0.2zM662.4 963.1l0.6 1.3 1.4 0.2 -1.1 0.9 0.3 1.4 -1.2 -0.8 -1.2 0.8 0.3 -1.4 -1.1 -0.9 1.4 -0.2zM624.6 728.6l0.6 1.3 1.4 0.2 -1.1 0.9 0.3 1.4 -1.2 -0.8 -1.2 0.8 0.3 -1.4 -1.1 -0.9 1.4 -0.2zM625.2 759.5l0.6 1.3 1.4 0.2 -1.1 0.9 0.3 1.4 -1.2 -0.8 -1.2 0.8 0.3 -1.4 -1.1 -0.9 1.4 -0.2zM693.3 996.4l0.6 1.3 1.4 0.2 -1.1 0.9 0.3 1.4 -1.2 -0.8 -1.2 0.8 0.3 -1.4 -1.1 -0.9 1.4 -0.2zM678.7 994.1l0.6 1.3 1.4 0.2 -1.1 0.9 0.3 1.4 -1.2 -0.8 -1.2 0.8 0.3 -1.4 -1.1 -0.9 1.4 -0.2zM669.4 988.7l0.6 1.3 1.4 0.2 -1.1 0.9 0.3 1.4 -1.2 -0.8 -1.2 0.8 0.3 -1.4 -1.1 -0.9 1.4 -0.2zM597.5 976.3l0.6 1.3 1.4 0.2 -1.1 0.9 0.3 1.4 -1.2 -0.8 -1.2 0.8 0.3 -1.4 -1.1 -0.9 1.4 -0.2zM689.8 1002.7l0.6 1.3 1.4 0.2 -1.1 0.9 0.3 1.4 -1.2 -0.8 -1.2 0.8 0.3 -1.4 -1.1 -0.9 1.4 -0.2zM668.7 969.3l0.6 1.3 1.4 0.2 -1.1 0.9 0.3 1.4 -1.2 -0.8 -1.2 0.8 0.3 -1.4 -1.1 -0.9 1.4 -0.2zM571.6 1007.2l0.6 1.3 1.4 0.2 -1.1 0.9 0.3 1.4 -1.2 -0.8 -1.2 0.8 0.3 -1.4 -1.1 -0.9 1.4 -0.2zM574.5 997l0.6 1.3 1.4 0.2 -1.1 0.9 0.3 1.4 -1.2 -0.8 -1.2 0.8 0.3 -1.4 -1.1 -0.9 1.4 -0.2zM662 964.1l0.6 1.3 1.4 0.2 -1.1 0.9 0.3 1.4 -1.2 -0.8 -1.2 0.8 0.3 -1.4 -1.1 -0.9 1.4 -0.2zM657.1 944.4l0.6 1.3 1.4 0.2 -1.1 0.9 0.3 1.4 -1.2 -0.8 -1.2 0.8 0.3 -1.4 -1.1 -0.9 1.4 -0.2zM627 743.3l0.6 1.3 1.4 0.2 -1.1 0.9 0.3 1.4 -1.2 -0.8 -1.2 0.8 0.3 -1.4 -1.1 -0.9 1.4 -0.2zM624 749.6l0.6 1.3 1.4 0.2 -1.1 0.9 0.3 1.4 -1.2 -0.8 -1.2 0.8 0.3 -1.4 -1.1 -0.9 1.4 -0.2zM669.3 988.5l0.6 1.3 1.4 0.2 -1.1 0.9 0.3 1.4 -1.2 -0.8 -1.2 0.8 0.3 -1.4 -1.1 -0.9 1.4 -0.2zM618.9 843.1l0.6 1.3 1.4 0.2 -1.1 0.9 0.3 1.4 -1.2 -0.8 -1.2 0.8 0.3 -1.4 -1.1 -0.9 1.4 -0.2zM605.6 960.1l0.6 1.3 1.4 0.2 -1.1 0.9 0.3 1.4 -1.2 -0.8 -1.2 0.8 0.3 -1.4 -1.1 -0.9 1.4 -0.2zM682.2 994.3l0.6 1.3 1.4 0.2 -1.1 0.9 0.3 1.4 -1.2 -0.8 -1.2 0.8 0.3 -1.4 -1.1 -0.9 1.4 -0.2zM625.1 765l0.6 1.3 1.4 0.2 -1.1 0.9 0.3 1.4 -1.2 -0.8 -1.2 0.8 0.3 -1.4 -1.1 -0.9 1.4 -0.2zM621.5 830.9l0.6 1.3 1.4 0.2 -1.1 0.9 0.3 1.4 -1.2 -0.8 -1.2 0.8 0.3 -1.4 -1.1 -0.9 1.4 -0.2zM606.6 969.2l0.6 1.3 1.4 0.2 -1.1 0.9 0.3 1.4 -1.2 -0.8 -1.2 0.8 0.3 -1.4 -1.1 -0.9 1.4 -0.2zM568.5 1002.1l0.6 1.3 1.4 0.2 -1.1 0.9 0.3 1.4 -1.2 -0.8 -1.2 0.8 0.3 -1.4 -1.1 -0.9 1.4 -0.2zM645.3 845.3l0.6 1.3 1.4 0.2 -1.1 0.9 0.3 1.4 -1.2 -0.8 -1.2 0.8 0.3 -1.4 -1.1 -0.9 1.4 -0.2zM586 994l0.6 1.3 1.4 0.2 -1.1 0.9 0.3 1.4 -1.2 -0.8 -1.2 0.8 0.3 -1.4 -1.1 -0.9 1.4 -0.2zM639.6 784.9l0.6 1.3 1.4 0.2 -1.1 0.9 0.3 1.4 -1.2 -0.8 -1.2 0.8 0.3 -1.4 -1.1 -0.9 1.4 -0.2zM689.2 1008.7l0.6 1.3 1.4 0.2 -1.1 0.9 0.3 1.4 -1.2 -0.8 -1.2 0.8 0.3 -1.4 -1.1 -0.9 1.4 -0.2zM660.4 949l0.6 1.3 1.4 0.2 -1.1 0.9 0.3 1.4 -1.2 -0.8 -1.2 0.8 0.3 -1.4 -1.1 -0.9 1.4 -0.2zM585.6 994.6l0.6 1.3 1.4 0.2 -1.1 0.9 0.3 1.4 -1.2 -0.8 -1.2 0.8 0.3 -1.4 -1.1 -0.9 1.4 -0.2zM619.3 866.1l0.6 1.3 1.4 0.2 -1.1 0.9 0.3 1.4 -1.2 -0.8 -1.2 0.8 0.3 -1.4 -1.1 -0.9 1.4 -0.2zM661.9 968.8l0.6 1.3 1.4 0.2 -1.1 0.9 0.3 1.4 -1.2 -0.8 -1.2 0.8 0.3 -1.4 -1.1 -0.9 1.4 -0.2zM632.3 749.4l0.6 1.3 1.4 0.2 -1.1 0.9 0.3 1.4 -1.2 -0.8 -1.2 0.8 0.3 -1.4 -1.1 -0.9 1.4 -0.2zM572.8 1003.9l0.6 1.3 1.4 0.2 -1.1 0.9 0.3 1.4 -1.2 -0.8 -1.2 0.8 0.3 -1.4 -1.1 -0.9 1.4 -0.2zM616.4 901.8l0.6 1.3 1.4 0.2 -1.1 0.9 0.3 1.4 -1.2 -0.8 -1.2 0.8 0.3 -1.4 -1.1 -0.9 1.4 -0.2zM626.2 778.5l0.6 1.3 1.4 0.2 -1.1 0.9 0.3 1.4 -1.2 -0.8 -1.2 0.8 0.3 -1.4 -1.1 -0.9 1.4 -0.2zM642.1 806.8l0.6 1.3 1.4 0.2 -1.1 0.9 0.3 1.4 -1.2 -0.8 -1.2 0.8 0.3 -1.4 -1.1 -0.9 1.4 -0.2zM697.7 1002.7l0.6 1.3 1.4 0.2 -1.1 0.9 0.3 1.4 -1.2 -0.8 -1.2 0.8 0.3 -1.4 -1.1 -0.9 1.4 -0.2zM676 987.2l0.6 1.3 1.4 0.2 -1.1 0.9 0.3 1.4 -1.2 -0.8 -1.2 0.8 0.3 -1.4 -1.1 -0.9 1.4 -0.2zM622.9 783.3l0.6 1.3 1.4 0.2 -1.1 0.9 0.3 1.4 -1.2 -0.8 -1.2 0.8 0.3 -1.4 -1.1 -0.9 1.4 -0.2zM594.5 980.9l0.6 1.3 1.4 0.2 -1.1 0.9 0.3 1.4 -1.2 -0.8 -1.2 0.8 0.3 -1.4 -1.1 -0.9 1.4 -0.2zM681.3 991.7l0.6 1.3 1.4 0.2 -1.1 0.9 0.3 1.4 -1.2 -0.8 -1.2 0.8 0.3 -1.4 -1.1 -0.9 1.4 -0.2zM681 993.3l0.6 1.3 1.4 0.2 -1.1 0.9 0.3 1.4 -1.2 -0.8 -1.2 0.8 0.3 -1.4 -1.1 -0.9 1.4 -0.2zM647.8 906.8l0.6 1.3 1.4 0.2 -1.1 0.9 0.3 1.4 -1.2 -0.8 -1.2 0.8 0.3 -1.4 -1.1 -0.9 1.4 -0.2zM628.4 662.7l0.6 1.3 1.4 0.2 -1.1 0.9 0.3 1.4 -1.2 -0.8 -1.2 0.8 0.3 -1.4 -1.1 -0.9 1.4 -0.2zM686.7 998.6l0.6 1.3 1.4 0.2 -1.1 0.9 0.3 1.4 -1.2 -0.8 -1.2 0.8 0.3 -1.4 -1.1 -0.9 1.4 -0.2zM631 688.5l0.6 1.3 1.4 0.2 -1.1 0.9 0.3 1.4 -1.2 -0.8 -1.2 0.8 0.3 -1.4 -1.1 -0.9 1.4 -0.2zM620.3 867.7l0.6 1.3 1.4 0.2 -1.1 0.9 0.3 1.4 -1.2 -0.8 -1.2 0.8 0.3 -1.4 -1.1 -0.9 1.4 -0.2zM639 746.3l0.6 1.3 1.4 0.2 -1.1 0.9 0.3 1.4 -1.2 -0.8 -1.2 0.8 0.3 -1.4 -1.1 -0.9 1.4 -0.2zM619.9 875.3l0.6 1.3 1.4 0.2 -1.1 0.9 0.3 1.4 -1.2 -0.8 -1.2 0.8 0.3 -1.4 -1.1 -0.9 1.4 -0.2zM650.8 901.3l0.6 1.3 1.4 0.2 -1.1 0.9 0.3 1.4 -1.2 -0.8 -1.2 0.8 0.3 -1.4 -1.1 -0.9 1.4 -0.2zM617.7 862.6l0.6 1.3 1.4 0.2 -1.1 0.9 0.3 1.4 -1.2 -0.8 -1.2 0.8 0.3 -1.4 -1.1 -0.9 1.4 -0.2zM601.3 956.9l0.6 1.3 1.4 0.2 -1.1 0.9 0.3 1.4 -1.2 -0.8 -1.2 0.8 0.3 -1.4 -1.1 -0.9 1.4 -0.2zM591 987.5l0.6 1.3 1.4 0.2 -1.1 0.9 0.3 1.4 -1.2 -0.8 -1.2 0.8 0.3 -1.4 -1.1 -0.9 1.4 -0.2zM675.7 987.8l0.6 1.3 1.4 0.2 -1.1 0.9 0.3 1.4 -1.2 -0.8 -1.2 0.8 0.3 -1.4 -1.1 -0.9 1.4 -0.2zM586 998.2l0.6 1.3 1.4 0.2 -1.1 0.9 0.3 1.4 -1.2 -0.8 -1.2 0.8 0.3 -1.4 -1.1 -0.9 1.4 -0.2zM603 964.2l0.6 1.3 1.4 0.2 -1.1 0.9 0.3 1.4 -1.2 -0.8 -1.2 0.8 0.3 -1.4 -1.1 -0.9 1.4 -0.2zM637.1 728.4l0.6 1.3 1.4 0.2 -1.1 0.9 0.3 1.4 -1.2 -0.8 -1.2 0.8 0.3 -1.4 -1.1 -0.9 1.4 -0.2zM590.3 983.3l0.6 1.3 1.4 0.2 -1.1 0.9 0.3 1.4 -1.2 -0.8 -1.2 0.8 0.3 -1.4 -1.1 -0.9 1.4 -0.2zM617.1 895.7l0.6 1.3 1.4 0.2 -1.1 0.9 0.3 1.4 -1.2 -0.8 -1.2 0.8 0.3 -1.4 -1.1 -0.9 1.4 -0.2zM646.5 885.3l0.6 1.3 1.4 0.2 -1.1 0.9 0.3 1.4 -1.2 -0.8 -1.2 0.8 0.3 -1.4 -1.1 -0.9 1.4 -0.2zM579.3 998.1l0.6 1.3 1.4 0.2 -1.1 0.9 0.3 1.4 -1.2 -0.8 -1.2 0.8 0.3 -1.4 -1.1 -0.9 1.4 -0.2zM651.9 903.4l0.6 1.3 1.4 0.2 -1.1 0.9 0.3 1.4 -1.2 -0.8 -1.2 0.8 0.3 -1.4 -1.1 -0.9 1.4 -0.2zM575.2 1004.9l0.6 1.3 1.4 0.2 -1.1 0.9 0.3 1.4 -1.2 -0.8 -1.2 0.8 0.3 -1.4 -1.1 -0.9 1.4 -0.2zM652.4 930.7l0.6 1.3 1.4 0.2 -1.1 0.9 0.3 1.4 -1.2 -0.8 -1.2 0.8 0.3 -1.4 -1.1 -0.9 1.4 -0.2zM596.5 975.1l0.6 1.3 1.4 0.2 -1.1 0.9 0.3 1.4 -1.2 -0.8 -1.2 0.8 0.3 -1.4 -1.1 -0.9 1.4 -0.2zM644.1 825.1l0.6 1.3 1.4 0.2 -1.1 0.9 0.3 1.4 -1.2 -0.8 -1.2 0.8 0.3 -1.4 -1.1 -0.9 1.4 -0.2zM657.8 961.2l0.6 1.3 1.4 0.2 -1.1 0.9 0.3 1.4 -1.2 -0.8 -1.2 0.8 0.3 -1.4 -1.1 -0.9 1.4 -0.2zM639.5 678l0.6 1.3 1.4 0.2 -1.1 0.9 0.3 1.4 -1.2 -0.8 -1.2 0.8 0.3 -1.4 -1.1 -0.9 1.4 -0.2zM668.8 976.1l0.6 1.3 1.4 0.2 -1.1 0.9 0.3 1.4 -1.2 -0.8 -1.2 0.8 0.3 -1.4 -1.1 -0.9 1.4 -0.2zM679 997.8l0.6 1.3 1.4 0.2 -1.1 0.9 0.3 1.4 -1.2 -0.8 -1.2 0.8 0.3 -1.4 -1.1 -0.9 1.4 -0.2zM584.4 996l0.6 1.3 1.4 0.2 -1.1 0.9 0.3 1.4 -1.2 -0.8 -1.2 0.8 0.3 -1.4 -1.1 -0.9 1.4 -0.2zM689.5 1000.6l0.6 1.3 1.4 0.2 -1.1 0.9 0.3 1.4 -1.2 -0.8 -1.2 0.8 0.3 -1.4 -1.1 -0.9 1.4 -0.2zM693.4 998.7l0.6 1.3 1.4 0.2 -1.1 0.9 0.3 1.4 -1.2 -0.8 -1.2 0.8 0.3 -1.4 -1.1 -0.9 1.4 -0.2zM661.5 977l0.6 1.3 1.4 0.2 -1.1 0.9 0.3 1.4 -1.2 -0.8 -1.2 0.8 0.3 -1.4 -1.1 -0.9 1.4 -0.2zM692.8 1003.4l0.6 1.3 1.4 0.2 -1.1 0.9 0.3 1.4 -1.2 -0.8 -1.2 0.8 0.3 -1.4 -1.1 -0.9 1.4 -0.2zM621.7 844.2l0.6 1.3 1.4 0.2 -1.1 0.9 0.3 1.4 -1.2 -0.8 -1.2 0.8 0.3 -1.4 -1.1 -0.9 1.4 -0.2zM662.1 969l0.6 1.3 1.4 0.2 -1.1 0.9 0.3 1.4 -1.2 -0.8 -1.2 0.8 0.3 -1.4 -1.1 -0.9 1.4 -0.2zM659.1 964.5l0.6 1.3 1.4 0.2 -1.1 0.9 0.3 1.4 -1.2 -0.8 -1.2 0.8 0.3 -1.4 -1.1 -0.9 1.4 -0.2zM611.7 936.9l0.6 1.3 1.4 0.2 -1.1 0.9 0.3 1.4 -1.2 -0.8 -1.2 0.8 0.3 -1.4 -1.1 -0.9 1.4 -0.2zM640.8 751l0.6 1.3 1.4 0.2 -1.1 0.9 0.3 1.4 -1.2 -0.8 -1.2 0.8 0.3 -1.4 -1.1 -0.9 1.4 -0.2zM591.4 989.7l0.6 1.3 1.4 0.2 -1.1 0.9 0.3 1.4 -1.2 -0.8 -1.2 0.8 0.3 -1.4 -1.1 -0.9 1.4 -0.2zM659.4 941.9l0.6 1.3 1.4 0.2 -1.1 0.9 0.3 1.4 -1.2 -0.8 -1.2 0.8 0.3 -1.4 -1.1 -0.9 1.4 -0.2zM598.1 964.1l0.6 1.3 1.4 0.2 -1.1 0.9 0.3 1.4 -1.2 -0.8 -1.2 0.8 0.3 -1.4 -1.1 -0.9 1.4 -0.2zM658.8 930.7l0.6 1.3 1.4 0.2 -1.1 0.9 0.3 1.4 -1.2 -0.8 -1.2 0.8 0.3 -1.4 -1.1 -0.9 1.4 -0.2zM674.1 990.8l0.6 1.3 1.4 0.2 -1.1 0.9 0.3 1.4 -1.2 -0.8 -1.2 0.8 0.3 -1.4 -1.1 -0.9 1.4 -0.2zM659.1 950.1l0.6 1.3 1.4 0.2 -1.1 0.9 0.3 1.4 -1.2 -0.8 -1.2 0.8 0.3 -1.4 -1.1 -0.9 1.4 -0.2zM585.7 996.7l0.6 1.3 1.4 0.2 -1.1 0.9 0.3 1.4 -1.2 -0.8 -1.2 0.8 0.3 -1.4 -1.1 -0.9 1.4 -0.2zM642.4 809.9l0.6 1.3 1.4 0.2 -1.1 0.9 0.3 1.4 -1.2 -0.8 -1.2 0.8 0.3 -1.4 -1.1 -0.9 1.4 -0.2zM595.2 979.5l0.6 1.3 1.4 0.2 -1.1 0.9 0.3 1.4 -1.2 -0.8 -1.2 0.8 0.3 -1.4 -1.1 -0.9 1.4 -0.2zM622 769.7l0.6 1.3 1.4 0.2 -1.1 0.9 0.3 1.4 -1.2 -0.8 -1.2 0.8 0.3 -1.4 -1.1 -0.9 1.4 -0.2zM678.5 996.9l0.6 1.3 1.4 0.2 -1.1 0.9 0.3 1.4 -1.2 -0.8 -1.2 0.8 0.3 -1.4 -1.1 -0.9 1.4 -0.2zM621.9 854.6l0.6 1.3 1.4 0.2 -1.1 0.9 0.3 1.4 -1.2 -0.8 -1.2 0.8 0.3 -1.4 -1.1 -0.9 1.4 -0.2zM595 983.5l0.6 1.3 1.4 0.2 -1.1 0.9 0.3 1.4 -1.2 -0.8 -1.2 0.8 0.3 -1.4 -1.1 -0.9 1.4 -0.2zM652.4 903.3l0.6 1.3 1.4 0.2 -1.1 0.9 0.3 1.4 -1.2 -0.8 -1.2 0.8 0.3 -1.4 -1.1 -0.9 1.4 -0.2zM694.1 999.6l0.6 1.3 1.4 0.2 -1.1 0.9 0.3 1.4 -1.2 -0.8 -1.2 0.8 0.3 -1.4 -1.1 -0.9 1.4 -0.2zM681.6 998.4l0.6 1.3 1.4 0.2 -1.1 0.9 0.3 1.4 -1.2 -0.8 -1.2 0.8 0.3 -1.4 -1.1 -0.9 1.4 -0.2zM638.1 703.1l0.6 1.3 1.4 0.2 -1.1 0.9 0.3 1.4 -1.2 -0.8 -1.2 0.8 0.3 -1.4 -1.1 -0.9 1.4 -0.2zM661.6 959.1l0.6 1.3 1.4 0.2 -1.1 0.9 0.3 1.4 -1.2 -0.8 -1.2 0.8 0.3 -1.4 -1.1 -0.9 1.4 -0.2zM616.5 893.8l0.6 1.3 1.4 0.2 -1.1 0.9 0.3 1.4 -1.2 -0.8 -1.2 0.8 0.3 -1.4 -1.1 -0.9 1.4 -0.2zM663.7 963.7l0.6 1.3 1.4 0.2 -1.1 0.9 0.3 1.4 -1.2 -0.8 -1.2 0.8 0.3 -1.4 -1.1 -0.9 1.4 -0.2zM651 924.2l0.6 1.3 1.4 0.2 -1.1 0.9 0.3 1.4 -1.2 -0.8 -1.2 0.8 0.3 -1.4 -1.1 -0.9 1.4 -0.2zM650.1 893.8l0.6 1.3 1.4 0.2 -1.1 0.9 0.3 1.4 -1.2 -0.8 -1.2 0.8 0.3 -1.4 -1.1 -0.9 1.4 -0.2zM602.7 962.5l0.6 1.3 1.4 0.2 -1.1 0.9 0.3 1.4 -1.2 -0.8 -1.2 0.8 0.3 -1.4 -1.1 -0.9 1.4 -0.2zM598.4 965.8l0.6 1.3 1.4 0.2 -1.1 0.9 0.3 1.4 -1.2 -0.8 -1.2 0.8 0.3 -1.4 -1.1 -0.9 1.4 -0.2zM609.3 938.7l0.6 1.3 1.4 0.2 -1.1 0.9 0.3 1.4 -1.2 -0.8 -1.2 0.8 0.3 -1.4 -1.1 -0.9 1.4 -0.2zM645.2 816.3l0.6 1.3 1.4 0.2 -1.1 0.9 0.3 1.4 -1.2 -0.8 -1.2 0.8 0.3 -1.4 -1.1 -0.9 1.4 -0.2zM642 764.3l0.6 1.3 1.4 0.2 -1.1 0.9 0.3 1.4 -1.2 -0.8 -1.2 0.8 0.3 -1.4 -1.1 -0.9 1.4 -0.2zM617.2 896.8l0.6 1.3 1.4 0.2 -1.1 0.9 0.3 1.4 -1.2 -0.8 -1.2 0.8 0.3 -1.4 -1.1 -0.9 1.4 -0.2zM685.2 992.5l0.6 1.3 1.4 0.2 -1.1 0.9 0.3 1.4 -1.2 -0.8 -1.2 0.8 0.3 -1.4 -1.1 -0.9 1.4 -0.2zM589.6 993.4l0.6 1.3 1.4 0.2 -1.1 0.9 0.3 1.4 -1.2 -0.8 -1.2 0.8 0.3 -1.4 -1.1 -0.9 1.4 -0.2zM627.8 755.5l0.6 1.3 1.4 0.2 -1.1 0.9 0.3 1.4 -1.2 -0.8 -1.2 0.8 0.3 -1.4 -1.1 -0.9 1.4 -0.2zM608.5 966.2l0.6 1.3 1.4 0.2 -1.1 0.9 0.3 1.4 -1.2 -0.8 -1.2 0.8 0.3 -1.4 -1.1 -0.9 1.4 -0.2zM683.2 1005.3l0.6 1.3 1.4 0.2 -1.1 0.9 0.3 1.4 -1.2 -0.8 -1.2 0.8 0.3 -1.4 -1.1 -0.9 1.4 -0.2zM608.9 931.5l0.6 1.3 1.4 0.2 -1.1 0.9 0.3 1.4 -1.2 -0.8 -1.2 0.8 0.3 -1.4 -1.1 -0.9 1.4 -0.2zM691.4 1004.9l0.6 1.3 1.4 0.2 -1.1 0.9 0.3 1.4 -1.2 -0.8 -1.2 0.8 0.3 -1.4 -1.1 -0.9 1.4 -0.2zM578.7 1001.3l0.6 1.3 1.4 0.2 -1.1 0.9 0.3 1.4 -1.2 -0.8 -1.2 0.8 0.3 -1.4 -1.1 -0.9 1.4 -0.2zM673.3 982.1l0.6 1.3 1.4 0.2 -1.1 0.9 0.3 1.4 -1.2 -0.8 -1.2 0.8 0.3 -1.4 -1.1 -0.9 1.4 -0.2zM649.8 893.2l0.6 1.3 1.4 0.2 -1.1 0.9 0.3 1.4 -1.2 -0.8 -1.2 0.8 0.3 -1.4 -1.1 -0.9 1.4 -0.2zM617.8 911.5l0.6 1.3 1.4 0.2 -1.1 0.9 0.3 1.4 -1.2 -0.8 -1.2 0.8 0.3 -1.4 -1.1 -0.9 1.4 -0.2zM584.5 998l0.6 1.3 1.4 0.2 -1.1 0.9 0.3 1.4 -1.2 -0.8 -1.2 0.8 0.3 -1.4 -1.1 -0.9 1.4 -0.2zM629.4 731.1l0.6 1.3 1.4 0.2 -1.1 0.9 0.3 1.4 -1.2 -0.8 -1.2 0.8 0.3 -1.4 -1.1 -0.9 1.4 -0.2zM585.8 995.7l0.6 1.3 1.4 0.2 -1.1 0.9 0.3 1.4 -1.2 -0.8 -1.2 0.8 0.3 -1.4 -1.1 -0.9 1.4 -0.2zM693.2 997.6l0.6 1.3 1.4 0.2 -1.1 0.9 0.3 1.4 -1.2 -0.8 -1.2 0.8 0.3 -1.4 -1.1 -0.9 1.4 -0.2zM610.4 931.5l0.6 1.3 1.4 0.2 -1.1 0.9 0.3 1.4 -1.2 -0.8 -1.2 0.8 0.3 -1.4 -1.1 -0.9 1.4 -0.2zM615 913.8l0.6 1.3 1.4 0.2 -1.1 0.9 0.3 1.4 -1.2 -0.8 -1.2 0.8 0.3 -1.4 -1.1 -0.9 1.4 -0.2zM581.8 996.7l0.6 1.3 1.4 0.2 -1.1 0.9 0.3 1.4 -1.2 -0.8 -1.2 0.8 0.3 -1.4 -1.1 -0.9 1.4 -0.2zM604.2 953.9l0.6 1.3 1.4 0.2 -1.1 0.9 0.3 1.4 -1.2 -0.8 -1.2 0.8 0.3 -1.4 -1.1 -0.9 1.4 -0.2zM597.3 974.3l0.6 1.3 1.4 0.2 -1.1 0.9 0.3 1.4 -1.2 -0.8 -1.2 0.8 0.3 -1.4 -1.1 -0.9 1.4 -0.2zM570.4 994.4l0.6 1.3 1.4 0.2 -1.1 0.9 0.3 1.4 -1.2 -0.8 -1.2 0.8 0.3 -1.4 -1.1 -0.9 1.4 -0.2zM638.5 715.2l0.6 1.3 1.4 0.2 -1.1 0.9 0.3 1.4 -1.2 -0.8 -1.2 0.8 0.3 -1.4 -1.1 -0.9 1.4 -0.2zM660.4 960.9l0.6 1.3 1.4 0.2 -1.1 0.9 0.3 1.4 -1.2 -0.8 -1.2 0.8 0.3 -1.4 -1.1 -0.9 1.4 -0.2zM625.6 759.2l0.6 1.3 1.4 0.2 -1.1 0.9 0.3 1.4 -1.2 -0.8 -1.2 0.8 0.3 -1.4 -1.1 -0.9 1.4 -0.2zM605.1 958.5l0.6 1.3 1.4 0.2 -1.1 0.9 0.3 1.4 -1.2 -0.8 -1.2 0.8 0.3 -1.4 -1.1 -0.9 1.4 -0.2zM583.4 995.5l0.6 1.3 1.4 0.2 -1.1 0.9 0.3 1.4 -1.2 -0.8 -1.2 0.8 0.3 -1.4 -1.1 -0.9 1.4 -0.2zM692.4 992.5l0.6 1.3 1.4 0.2 -1.1 0.9 0.3 1.4 -1.2 -0.8 -1.2 0.8 0.3 -1.4 -1.1 -0.9 1.4 -0.2zM648.5 859.4l0.6 1.3 1.4 0.2 -1.1 0.9 0.3 1.4 -1.2 -0.8 -1.2 0.8 0.3 -1.4 -1.1 -0.9 1.4 -0.2zM649.5 878.9l0.6 1.3 1.4 0.2 -1.1 0.9 0.3 1.4 -1.2 -0.8 -1.2 0.8 0.3 -1.4 -1.1 -0.9 1.4 -0.2zM621.8 858.5l0.6 1.3 1.4 0.2 -1.1 0.9 0.3 1.4 -1.2 -0.8 -1.2 0.8 0.3 -1.4 -1.1 -0.9 1.4 -0.2zM597.4 983.6l0.6 1.3 1.4 0.2 -1.1 0.9 0.3 1.4 -1.2 -0.8 -1.2 0.8 0.3 -1.4 -1.1 -0.9 1.4 -0.2zM662.8 958.8l0.6 1.3 1.4 0.2 -1.1 0.9 0.3 1.4 -1.2 -0.8 -1.2 0.8 0.3 -1.4 -1.1 -0.9 1.4 -0.2zM572.5 1008.4l0.6 1.3 1.4 0.2 -1.1 0.9 0.3 1.4 -1.2 -0.8 -1.2 0.8 0.3 -1.4 -1.1 -0.9 1.4 -0.2zM632.6 700.5l0.6 1.3 1.4 0.2 -1.1 0.9 0.3 1.4 -1.2 -0.8 -1.2 0.8 0.3 -1.4 -1.1 -0.9 1.4 -0.2zM681.6 993.8l0.6 1.3 1.4 0.2 -1.1 0.9 0.3 1.4 -1.2 -0.8 -1.2 0.8 0.3 -1.4 -1.1 -0.9 1.4 -0.2zM592.8 986.9l0.6 1.3 1.4 0.2 -1.1 0.9 0.3 1.4 -1.2 -0.8 -1.2 0.8 0.3 -1.4 -1.1 -0.9 1.4 -0.2zM593 979.9l0.6 1.3 1.4 0.2 -1.1 0.9 0.3 1.4 -1.2 -0.8 -1.2 0.8 0.3 -1.4 -1.1 -0.9 1.4 -0.2zM653.4 951.7l0.6 1.3 1.4 0.2 -1.1 0.9 0.3 1.4 -1.2 -0.8 -1.2 0.8 0.3 -1.4 -1.1 -0.9 1.4 -0.2zM590.8 991.3l0.6 1.3 1.4 0.2 -1.1 0.9 0.3 1.4 -1.2 -0.8 -1.2 0.8 0.3 -1.4 -1.1 -0.9 1.4 -0.2zM580.2 994.3l0.6 1.3 1.4 0.2 -1.1 0.9 0.3 1.4 -1.2 -0.8 -1.2 0.8 0.3 -1.4 -1.1 -0.9 1.4 -0.2zM607.7 947l0.6 1.3 1.4 0.2 -1.1 0.9 0.3 1.4 -1.2 -0.8 -1.2 0.8 0.3 -1.4 -1.1 -0.9 1.4 -0.2zM642.7 850.9l0.6 1.3 1.4 0.2 -1.1 0.9 0.3 1.4 -1.2 -0.8 -1.2 0.8 0.3 -1.4 -1.1 -0.9 1.4 -0.2zM622.7 848.3l0.6 1.3 1.4 0.2 -1.1 0.9 0.3 1.4 -1.2 -0.8 -1.2 0.8 0.3 -1.4 -1.1 -0.9 1.4 -0.2zM608.8 931.7l0.6 1.3 1.4 0.2 -1.1 0.9 0.3 1.4 -1.2 -0.8 -1.2 0.8 0.3 -1.4 -1.1 -0.9 1.4 -0.2zM664.2 978.4l0.6 1.3 1.4 0.2 -1.1 0.9 0.3 1.4 -1.2 -0.8 -1.2 0.8 0.3 -1.4 -1.1 -0.9 1.4 -0.2zM674.1 986.7l0.6 1.3 1.4 0.2 -1.1 0.9 0.3 1.4 -1.2 -0.8 -1.2 0.8 0.3 -1.4 -1.1 -0.9 1.4 -0.2zM693 996.8l0.6 1.3 1.4 0.2 -1.1 0.9 0.3 1.4 -1.2 -0.8 -1.2 0.8 0.3 -1.4 -1.1 -0.9 1.4 -0.2zM687.4 994.2l0.6 1.3 1.4 0.2 -1.1 0.9 0.3 1.4 -1.2 -0.8 -1.2 0.8 0.3 -1.4 -1.1 -0.9 1.4 -0.2zM621.1 844.3l0.6 1.3 1.4 0.2 -1.1 0.9 0.3 1.4 -1.2 -0.8 -1.2 0.8 0.3 -1.4 -1.1 -0.9 1.4 -0.2zM601 970.7l0.6 1.3 1.4 0.2 -1.1 0.9 0.3 1.4 -1.2 -0.8 -1.2 0.8 0.3 -1.4 -1.1 -0.9 1.4 -0.2zM579.6 996.4l0.6 1.3 1.4 0.2 -1.1 0.9 0.3 1.4 -1.2 -0.8 -1.2 0.8 0.3 -1.4 -1.1 -0.9 1.4 -0.2zM588.9 986.7l0.6 1.3 1.4 0.2 -1.1 0.9 0.3 1.4 -1.2 -0.8 -1.2 0.8 0.3 -1.4 -1.1 -0.9 1.4 -0.2zM624.7 778.4l0.6 1.3 1.4 0.2 -1.1 0.9 0.3 1.4 -1.2 -0.8 -1.2 0.8 0.3 -1.4 -1.1 -0.9 1.4 -0.2zM603.1 960.3l0.6 1.3 1.4 0.2 -1.1 0.9 0.3 1.4 -1.2 -0.8 -1.2 0.8 0.3 -1.4 -1.1 -0.9 1.4 -0.2zM649.4 898.8l0.6 1.3 1.4 0.2 -1.1 0.9 0.3 1.4 -1.2 -0.8 -1.2 0.8 0.3 -1.4 -1.1 -0.9 1.4 -0.2zM579.3 993.5l0.6 1.3 1.4 0.2 -1.1 0.9 0.3 1.4 -1.2 -0.8 -1.2 0.8 0.3 -1.4 -1.1 -0.9 1.4 -0.2zM586.7 1000.8l0.6 1.3 1.4 0.2 -1.1 0.9 0.3 1.4 -1.2 -0.8 -1.2 0.8 0.3 -1.4 -1.1 -0.9 1.4 -0.2zM692 995.9l0.6 1.3 1.4 0.2 -1.1 0.9 0.3 1.4 -1.2 -0.8 -1.2 0.8 0.3 -1.4 -1.1 -0.9 1.4 -0.2zM590.6 985.6l0.6 1.3 1.4 0.2 -1.1 0.9 0.3 1.4 -1.2 -0.8 -1.2 0.8 0.3 -1.4 -1.1 -0.9 1.4 -0.2zM584.1 991.1l0.6 1.3 1.4 0.2 -1.1 0.9 0.3 1.4 -1.2 -0.8 -1.2 0.8 0.3 -1.4 -1.1 -0.9 1.4 -0.2zM655.1 939.9l0.6 1.3 1.4 0.2 -1.1 0.9 0.3 1.4 -1.2 -0.8 -1.2 0.8 0.3 -1.4 -1.1 -0.9 1.4 -0.2zM610.9 949.2l0.6 1.3 1.4 0.2 -1.1 0.9 0.3 1.4 -1.2 -0.8 -1.2 0.8 0.3 -1.4 -1.1 -0.9 1.4 -0.2zM652.7 920.5l0.6 1.3 1.4 0.2 -1.1 0.9 0.3 1.4 -1.2 -0.8 -1.2 0.8 0.3 -1.4 -1.1 -0.9 1.4 -0.2zM645.5 834l0.6 1.3 1.4 0.2 -1.1 0.9 0.3 1.4 -1.2 -0.8 -1.2 0.8 0.3 -1.4 -1.1 -0.9 1.4 -0.2zM577.4 1006.8l0.6 1.3 1.4 0.2 -1.1 0.9 0.3 1.4 -1.2 -0.8 -1.2 0.8 0.3 -1.4 -1.1 -0.9 1.4 -0.2zM610.1 937.1l0.6 1.3 1.4 0.2 -1.1 0.9 0.3 1.4 -1.2 -0.8 -1.2 0.8 0.3 -1.4 -1.1 -0.9 1.4 -0.2zM598.1 969.9l0.6 1.3 1.4 0.2 -1.1 0.9 0.3 1.4 -1.2 -0.8 -1.2 0.8 0.3 -1.4 -1.1 -0.9 1.4 -0.2zM654.9 941l0.6 1.3 1.4 0.2 -1.1 0.9 0.3 1.4 -1.2 -0.8 -1.2 0.8 0.3 -1.4 -1.1 -0.9 1.4 -0.2zM667.2 959.6l0.6 1.3 1.4 0.2 -1.1 0.9 0.3 1.4 -1.2 -0.8 -1.2 0.8 0.3 -1.4 -1.1 -0.9 1.4 -0.2zM659.2 956.2l0.6 1.3 1.4 0.2 -1.1 0.9 0.3 1.4 -1.2 -0.8 -1.2 0.8 0.3 -1.4 -1.1 -0.9 1.4 -0.2zM689.9 994.7l0.6 1.3 1.4 0.2 -1.1 0.9 0.3 1.4 -1.2 -0.8 -1.2 0.8 0.3 -1.4 -1.1 -0.9 1.4 -0.2zM648.5 850.1l0.6 1.3 1.4 0.2 -1.1 0.9 0.3 1.4 -1.2 -0.8 -1.2 0.8 0.3 -1.4 -1.1 -0.9 1.4 -0.2zM648.8 882.9l0.6 1.3 1.4 0.2 -1.1 0.9 0.3 1.4 -1.2 -0.8 -1.2 0.8 0.3 -1.4 -1.1 -0.9 1.4 -0.2zM588.9 990l0.6 1.3 1.4 0.2 -1.1 0.9 0.3 1.4 -1.2 -0.8 -1.2 0.8 0.3 -1.4 -1.1 -0.9 1.4 -0.2zM654.9 928.5l0.6 1.3 1.4 0.2 -1.1 0.9 0.3 1.4 -1.2 -0.8 -1.2 0.8 0.3 -1.4 -1.1 -0.9 1.4 -0.2zM680.8 993.7l0.6 1.3 1.4 0.2 -1.1 0.9 0.3 1.4 -1.2 -0.8 -1.2 0.8 0.3 -1.4 -1.1 -0.9 1.4 -0.2zM633.3 651.8l0.6 1.3 1.4 0.2 -1.1 0.9 0.3 1.4 -1.2 -0.8 -1.2 0.8 0.3 -1.4 -1.1 -0.9 1.4 -0.2zM651.7 913.3l0.6 1.3 1.4 0.2 -1.1 0.9 0.3 1.4 -1.2 -0.8 -1.2 0.8 0.3 -1.4 -1.1 -0.9 1.4 -0.2zM654.9 945.6l0.6 1.3 1.4 0.2 -1.1 0.9 0.3 1.4 -1.2 -0.8 -1.2 0.8 0.3 -1.4 -1.1 -0.9 1.4 -0.2zM686.3 1000.4l0.6 1.3 1.4 0.2 -1.1 0.9 0.3 1.4 -1.2 -0.8 -1.2 0.8 0.3 -1.4 -1.1 -0.9 1.4 -0.2zM622.5 818.2l0.6 1.3 1.4 0.2 -1.1 0.9 0.3 1.4 -1.2 -0.8 -1.2 0.8 0.3 -1.4 -1.1 -0.9 1.4 -0.2zM590.4 987.4l0.6 1.3 1.4 0.2 -1.1 0.9 0.3 1.4 -1.2 -0.8 -1.2 0.8 0.3 -1.4 -1.1 -0.9 1.4 -0.2zM642.7 792l0.6 1.3 1.4 0.2 -1.1 0.9 0.3 1.4 -1.2 -0.8 -1.2 0.8 0.3 -1.4 -1.1 -0.9 1.4 -0.2zM581.4 988.9l0.6 1.3 1.4 0.2 -1.1 0.9 0.3 1.4 -1.2 -0.8 -1.2 0.8 0.3 -1.4 -1.1 -0.9 1.4 -0.2zM597.1 985.4l0.6 1.3 1.4 0.2 -1.1 0.9 0.3 1.4 -1.2 -0.8 -1.2 0.8 0.3 -1.4 -1.1 -0.9 1.4 -0.2zM599.5 984.9l0.6 1.3 1.4 0.2 -1.1 0.9 0.3 1.4 -1.2 -0.8 -1.2 0.8 0.3 -1.4 -1.1 -0.9 1.4 -0.2zM639.6 794.3l0.6 1.3 1.4 0.2 -1.1 0.9 0.3 1.4 -1.2 -0.8 -1.2 0.8 0.3 -1.4 -1.1 -0.9 1.4 -0.2zM687.2 999.9l0.6 1.3 1.4 0.2 -1.1 0.9 0.3 1.4 -1.2 -0.8 -1.2 0.8 0.3 -1.4 -1.1 -0.9 1.4 -0.2zM611.6 908.3l0.6 1.3 1.4 0.2 -1.1 0.9 0.3 1.4 -1.2 -0.8 -1.2 0.8 0.3 -1.4 -1.1 -0.9 1.4 -0.2zM617.1 884.4l0.6 1.3 1.4 0.2 -1.1 0.9 0.3 1.4 -1.2 -0.8 -1.2 0.8 0.3 -1.4 -1.1 -0.9 1.4 -0.2zM587 993.4l0.6 1.3 1.4 0.2 -1.1 0.9 0.3 1.4 -1.2 -0.8 -1.2 0.8 0.3 -1.4 -1.1 -0.9 1.4 -0.2zM654.9 929.7l0.6 1.3 1.4 0.2 -1.1 0.9 0.3 1.4 -1.2 -0.8 -1.2 0.8 0.3 -1.4 -1.1 -0.9 1.4 -0.2zM677.4 983.9l0.6 1.3 1.4 0.2 -1.1 0.9 0.3 1.4 -1.2 -0.8 -1.2 0.8 0.3 -1.4 -1.1 -0.9 1.4 -0.2zM682.1 994.3l0.6 1.3 1.4 0.2 -1.1 0.9 0.3 1.4 -1.2 -0.8 -1.2 0.8 0.3 -1.4 -1.1 -0.9 1.4 -0.2zM625 768.1l0.6 1.3 1.4 0.2 -1.1 0.9 0.3 1.4 -1.2 -0.8 -1.2 0.8 0.3 -1.4 -1.1 -0.9 1.4 -0.2zM605.7 956.8l0.6 1.3 1.4 0.2 -1.1 0.9 0.3 1.4 -1.2 -0.8 -1.2 0.8 0.3 -1.4 -1.1 -0.9 1.4 -0.2zM580.4 1005l0.6 1.3 1.4 0.2 -1.1 0.9 0.3 1.4 -1.2 -0.8 -1.2 0.8 0.3 -1.4 -1.1 -0.9 1.4 -0.2zM615.6 906.3l0.6 1.3 1.4 0.2 -1.1 0.9 0.3 1.4 -1.2 -0.8 -1.2 0.8 0.3 -1.4 -1.1 -0.9 1.4 -0.2zM586.6 992.1l0.6 1.3 1.4 0.2 -1.1 0.9 0.3 1.4 -1.2 -0.8 -1.2 0.8 0.3 -1.4 -1.1 -0.9 1.4 -0.2zM619.8 852.8l0.6 1.3 1.4 0.2 -1.1 0.9 0.3 1.4 -1.2 -0.8 -1.2 0.8 0.3 -1.4 -1.1 -0.9 1.4 -0.2zM688.2 1001l0.6 1.3 1.4 0.2 -1.1 0.9 0.3 1.4 -1.2 -0.8 -1.2 0.8 0.3 -1.4 -1.1 -0.9 1.4 -0.2zM607.1 961.1l0.6 1.3 1.4 0.2 -1.1 0.9 0.3 1.4 -1.2 -0.8 -1.2 0.8 0.3 -1.4 -1.1 -0.9 1.4 -0.2zM674 983.8l0.6 1.3 1.4 0.2 -1.1 0.9 0.3 1.4 -1.2 -0.8 -1.2 0.8 0.3 -1.4 -1.1 -0.9 1.4 -0.2zM671.7 980.5l0.6 1.3 1.4 0.2 -1.1 0.9 0.3 1.4 -1.2 -0.8 -1.2 0.8 0.3 -1.4 -1.1 -0.9 1.4 -0.2zM585 992.4l0.6 1.3 1.4 0.2 -1.1 0.9 0.3 1.4 -1.2 -0.8 -1.2 0.8 0.3 -1.4 -1.1 -0.9 1.4 -0.2zM587.5 1001.8l0.6 1.3 1.4 0.2 -1.1 0.9 0.3 1.4 -1.2 -0.8 -1.2 0.8 0.3 -1.4 -1.1 -0.9 1.4 -0.2zM688.5 1003.8l0.6 1.3 1.4 0.2 -1.1 0.9 0.3 1.4 -1.2 -0.8 -1.2 0.8 0.3 -1.4 -1.1 -0.9 1.4 -0.2zM642.9 711.9l0.6 1.3 1.4 0.2 -1.1 0.9 0.3 1.4 -1.2 -0.8 -1.2 0.8 0.3 -1.4 -1.1 -0.9 1.4 -0.2zM626.6 735.5l0.6 1.3 1.4 0.2 -1.1 0.9 0.3 1.4 -1.2 -0.8 -1.2 0.8 0.3 -1.4 -1.1 -0.9 1.4 -0.2zM590.8 982.7l0.6 1.3 1.4 0.2 -1.1 0.9 0.3 1.4 -1.2 -0.8 -1.2 0.8 0.3 -1.4 -1.1 -0.9 1.4 -0.2zM677.8 993.7l0.6 1.3 1.4 0.2 -1.1 0.9 0.3 1.4 -1.2 -0.8 -1.2 0.8 0.3 -1.4 -1.1 -0.9 1.4 -0.2zM666.6 966.7l0.6 1.3 1.4 0.2 -1.1 0.9 0.3 1.4 -1.2 -0.8 -1.2 0.8 0.3 -1.4 -1.1 -0.9 1.4 -0.2zM590.2 978.4l0.6 1.3 1.4 0.2 -1.1 0.9 0.3 1.4 -1.2 -0.8 -1.2 0.8 0.3 -1.4 -1.1 -0.9 1.4 -0.2zM684.7 998.1l0.6 1.3 1.4 0.2 -1.1 0.9 0.3 1.4 -1.2 -0.8 -1.2 0.8 0.3 -1.4 -1.1 -0.9 1.4 -0.2zM655.6 936.4l0.6 1.3 1.4 0.2 -1.1 0.9 0.3 1.4 -1.2 -0.8 -1.2 0.8 0.3 -1.4 -1.1 -0.9 1.4 -0.2zM671.5 977.6l0.6 1.3 1.4 0.2 -1.1 0.9 0.3 1.4 -1.2 -0.8 -1.2 0.8 0.3 -1.4 -1.1 -0.9 1.4 -0.2zM688.4 1002.9l0.6 1.3 1.4 0.2 -1.1 0.9 0.3 1.4 -1.2 -0.8 -1.2 0.8 0.3 -1.4 -1.1 -0.9 1.4 -0.2zM598.3 981.9l0.6 1.3 1.4 0.2 -1.1 0.9 0.3 1.4 -1.2 -0.8 -1.2 0.8 0.3 -1.4 -1.1 -0.9 1.4 -0.2zM622.6 794.3l0.6 1.3 1.4 0.2 -1.1 0.9 0.3 1.4 -1.2 -0.8 -1.2 0.8 0.3 -1.4 -1.1 -0.9 1.4 -0.2zM633.6 718.6l0.6 1.3 1.4 0.2 -1.1 0.9 0.3 1.4 -1.2 -0.8 -1.2 0.8 0.3 -1.4 -1.1 -0.9 1.4 -0.2zM600.6 974.1l0.6 1.3 1.4 0.2 -1.1 0.9 0.3 1.4 -1.2 -0.8 -1.2 0.8 0.3 -1.4 -1.1 -0.9 1.4 -0.2zM612 926.1l0.6 1.3 1.4 0.2 -1.1 0.9 0.3 1.4 -1.2 -0.8 -1.2 0.8 0.3 -1.4 -1.1 -0.9 1.4 -0.2zM678.8 989.4l0.6 1.3 1.4 0.2 -1.1 0.9 0.3 1.4 -1.2 -0.8 -1.2 0.8 0.3 -1.4 -1.1 -0.9 1.4 -0.2zM573.7 1004.6l0.6 1.3 1.4 0.2 -1.1 0.9 0.3 1.4 -1.2 -0.8 -1.2 0.8 0.3 -1.4 -1.1 -0.9 1.4 -0.2zM611.5 933.1l0.6 1.3 1.4 0.2 -1.1 0.9 0.3 1.4 -1.2 -0.8 -1.2 0.8 0.3 -1.4 -1.1 -0.9 1.4 -0.2zM652 925.9l0.6 1.3 1.4 0.2 -1.1 0.9 0.3 1.4 -1.2 -0.8 -1.2 0.8 0.3 -1.4 -1.1 -0.9 1.4 -0.2zM689.4 999l0.6 1.3 1.4 0.2 -1.1 0.9 0.3 1.4 -1.2 -0.8 -1.2 0.8 0.3 -1.4 -1.1 -0.9 1.4 -0.2zM598.2 971.1l0.6 1.3 1.4 0.2 -1.1 0.9 0.3 1.4 -1.2 -0.8 -1.2 0.8 0.3 -1.4 -1.1 -0.9 1.4 -0.2zM600.3 966.3l0.6 1.3 1.4 0.2 -1.1 0.9 0.3 1.4 -1.2 -0.8 -1.2 0.8 0.3 -1.4 -1.1 -0.9 1.4 -0.2zM582.1 1001.3l0.6 1.3 1.4 0.2 -1.1 0.9 0.3 1.4 -1.2 -0.8 -1.2 0.8 0.3 -1.4 -1.1 -0.9 1.4 -0.2zM644.2 839.5l0.6 1.3 1.4 0.2 -1.1 0.9 0.3 1.4 -1.2 -0.8 -1.2 0.8 0.3 -1.4 -1.1 -0.9 1.4 -0.2zM599.6 965l0.6 1.3 1.4 0.2 -1.1 0.9 0.3 1.4 -1.2 -0.8 -1.2 0.8 0.3 -1.4 -1.1 -0.9 1.4 -0.2zM644.1 793.5l0.6 1.3 1.4 0.2 -1.1 0.9 0.3 1.4 -1.2 -0.8 -1.2 0.8 0.3 -1.4 -1.1 -0.9 1.4 -0.2zM588.2 994.2l0.6 1.3 1.4 0.2 -1.1 0.9 0.3 1.4 -1.2 -0.8 -1.2 0.8 0.3 -1.4 -1.1 -0.9 1.4 -0.2zM576 998.1l0.6 1.3 1.4 0.2 -1.1 0.9 0.3 1.4 -1.2 -0.8 -1.2 0.8 0.3 -1.4 -1.1 -0.9 1.4 -0.2zM605 970.9l0.6 1.3 1.4 0.2 -1.1 0.9 0.3 1.4 -1.2 -0.8 -1.2 0.8 0.3 -1.4 -1.1 -0.9 1.4 -0.2zM592.5 984.2l0.6 1.3 1.4 0.2 -1.1 0.9 0.3 1.4 -1.2 -0.8 -1.2 0.8 0.3 -1.4 -1.1 -0.9 1.4 -0.2zM653.4 906.9l0.6 1.3 1.4 0.2 -1.1 0.9 0.3 1.4 -1.2 -0.8 -1.2 0.8 0.3 -1.4 -1.1 -0.9 1.4 -0.2zM610.1 921.7l0.6 1.3 1.4 0.2 -1.1 0.9 0.3 1.4 -1.2 -0.8 -1.2 0.8 0.3 -1.4 -1.1 -0.9 1.4 -0.2zM654.7 933.4l0.6 1.3 1.4 0.2 -1.1 0.9 0.3 1.4 -1.2 -0.8 -1.2 0.8 0.3 -1.4 -1.1 -0.9 1.4 -0.2zM626.5 752l0.6 1.3 1.4 0.2 -1.1 0.9 0.3 1.4 -1.2 -0.8 -1.2 0.8 0.3 -1.4 -1.1 -0.9 1.4 -0.2zM598.5 985l0.6 1.3 1.4 0.2 -1.1 0.9 0.3 1.4 -1.2 -0.8 -1.2 0.8 0.3 -1.4 -1.1 -0.9 1.4 -0.2zM624.1 790.9l0.6 1.3 1.4 0.2 -1.1 0.9 0.3 1.4 -1.2 -0.8 -1.2 0.8 0.3 -1.4 -1.1 -0.9 1.4 -0.2zM627 698.7l0.6 1.3 1.4 0.2 -1.1 0.9 0.3 1.4 -1.2 -0.8 -1.2 0.8 0.3 -1.4 -1.1 -0.9 1.4 -0.2zM668.1 981.8l0.6 1.3 1.4 0.2 -1.1 0.9 0.3 1.4 -1.2 -0.8 -1.2 0.8 0.3 -1.4 -1.1 -0.9 1.4 -0.2zM591.2 988.9l0.6 1.3 1.4 0.2 -1.1 0.9 0.3 1.4 -1.2 -0.8 -1.2 0.8 0.3 -1.4 -1.1 -0.9 1.4 -0.2zM642.9 780.6l0.6 1.3 1.4 0.2 -1.1 0.9 0.3 1.4 -1.2 -0.8 -1.2 0.8 0.3 -1.4 -1.1 -0.9 1.4 -0.2zM572.3 1001.8l0.6 1.3 1.4 0.2 -1.1 0.9 0.3 1.4 -1.2 -0.8 -1.2 0.8 0.3 -1.4 -1.1 -0.9 1.4 -0.2zM665.9 984.6l0.6 1.3 1.4 0.2 -1.1 0.9 0.3 1.4 -1.2 -0.8 -1.2 0.8 0.3 -1.4 -1.1 -0.9 1.4 -0.2zM607.4 949.8l0.6 1.3 1.4 0.2 -1.1 0.9 0.3 1.4 -1.2 -0.8 -1.2 0.8 0.3 -1.4 -1.1 -0.9 1.4 -0.2zM680.6 992.3l0.6 1.3 1.4 0.2 -1.1 0.9 0.3 1.4 -1.2 -0.8 -1.2 0.8 0.3 -1.4 -1.1 -0.9 1.4 -0.2zM658.6 950l0.6 1.3 1.4 0.2 -1.1 0.9 0.3 1.4 -1.2 -0.8 -1.2 0.8 0.3 -1.4 -1.1 -0.9 1.4 -0.2zM661.5 952.5l0.6 1.3 1.4 0.2 -1.1 0.9 0.3 1.4 -1.2 -0.8 -1.2 0.8 0.3 -1.4 -1.1 -0.9 1.4 -0.2zM574.9 1004.5l0.6 1.3 1.4 0.2 -1.1 0.9 0.3 1.4 -1.2 -0.8 -1.2 0.8 0.3 -1.4 -1.1 -0.9 1.4 -0.2zM688.9 999.8l0.6 1.3 1.4 0.2 -1.1 0.9 0.3 1.4 -1.2 -0.8 -1.2 0.8 0.3 -1.4 -1.1 -0.9 1.4 -0.2zM654.4 936.2l0.6 1.3 1.4 0.2 -1.1 0.9 0.3 1.4 -1.2 -0.8 -1.2 0.8 0.3 -1.4 -1.1 -0.9 1.4 -0.2zM580.4 991.5l0.6 1.3 1.4 0.2 -1.1 0.9 0.3 1.4 -1.2 -0.8 -1.2 0.8 0.3 -1.4 -1.1 -0.9 1.4 -0.2zM667.5 974.3l0.6 1.3 1.4 0.2 -1.1 0.9 0.3 1.4 -1.2 -0.8 -1.2 0.8 0.3 -1.4 -1.1 -0.9 1.4 -0.2zM585.4 1000.4l0.6 1.3 1.4 0.2 -1.1 0.9 0.3 1.4 -1.2 -0.8 -1.2 0.8 0.3 -1.4 -1.1 -0.9 1.4 -0.2zM642.9 775.8l0.6 1.3 1.4 0.2 -1.1 0.9 0.3 1.4 -1.2 -0.8 -1.2 0.8 0.3 -1.4 -1.1 -0.9 1.4 -0.2zM591.4 988.4l0.6 1.3 1.4 0.2 -1.1 0.9 0.3 1.4 -1.2 -0.8 -1.2 0.8 0.3 -1.4 -1.1 -0.9 1.4 -0.2zM678.4 982.8l0.6 1.3 1.4 0.2 -1.1 0.9 0.3 1.4 -1.2 -0.8 -1.2 0.8 0.3 -1.4 -1.1 -0.9 1.4 -0.2zM662.6 971.7l0.6 1.3 1.4 0.2 -1.1 0.9 0.3 1.4 -1.2 -0.8 -1.2 0.8 0.3 -1.4 -1.1 -0.9 1.4 -0.2zM663.1 959.4l0.6 1.3 1.4 0.2 -1.1 0.9 0.3 1.4 -1.2 -0.8 -1.2 0.8 0.3 -1.4 -1.1 -0.9 1.4 -0.2zM610 959.2l0.6 1.3 1.4 0.2 -1.1 0.9 0.3 1.4 -1.2 -0.8 -1.2 0.8 0.3 -1.4 -1.1 -0.9 1.4 -0.2zM613.9 923.5l0.6 1.3 1.4 0.2 -1.1 0.9 0.3 1.4 -1.2 -0.8 -1.2 0.8 0.3 -1.4 -1.1 -0.9 1.4 -0.2zM645 844.3l0.6 1.3 1.4 0.2 -1.1 0.9 0.3 1.4 -1.2 -0.8 -1.2 0.8 0.3 -1.4 -1.1 -0.9 1.4 -0.2zM591.7 984.9l0.6 1.3 1.4 0.2 -1.1 0.9 0.3 1.4 -1.2 -0.8 -1.2 0.8 0.3 -1.4 -1.1 -0.9 1.4 -0.2zM625.7 758l0.6 1.3 1.4 0.2 -1.1 0.9 0.3 1.4 -1.2 -0.8 -1.2 0.8 0.3 -1.4 -1.1 -0.9 1.4 -0.2zM677.1 987.9l0.6 1.3 1.4 0.2 -1.1 0.9 0.3 1.4 -1.2 -0.8 -1.2 0.8 0.3 -1.4 -1.1 -0.9 1.4 -0.2zM573.5 1002.1l0.6 1.3 1.4 0.2 -1.1 0.9 0.3 1.4 -1.2 -0.8 -1.2 0.8 0.3 -1.4 -1.1 -0.9 1.4 -0.2zM692.9 1003.5l0.6 1.3 1.4 0.2 -1.1 0.9 0.3 1.4 -1.2 -0.8 -1.2 0.8 0.3 -1.4 -1.1 -0.9 1.4 -0.2zM588.2 993.8l0.6 1.3 1.4 0.2 -1.1 0.9 0.3 1.4 -1.2 -0.8 -1.2 0.8 0.3 -1.4 -1.1 -0.9 1.4 -0.2zM694.2 1001.7l0.6 1.3 1.4 0.2 -1.1 0.9 0.3 1.4 -1.2 -0.8 -1.2 0.8 0.3 -1.4 -1.1 -0.9 1.4 -0.2zM655 944.6l0.6 1.3 1.4 0.2 -1.1 0.9 0.3 1.4 -1.2 -0.8 -1.2 0.8 0.3 -1.4 -1.1 -0.9 1.4 -0.2zM671.9 976.7l0.6 1.3 1.4 0.2 -1.1 0.9 0.3 1.4 -1.2 -0.8 -1.2 0.8 0.3 -1.4 -1.1 -0.9 1.4 -0.2zM625 798.3l0.6 1.3 1.4 0.2 -1.1 0.9 0.3 1.4 -1.2 -0.8 -1.2 0.8 0.3 -1.4 -1.1 -0.9 1.4 -0.2zM683.9 994.1l0.6 1.3 1.4 0.2 -1.1 0.9 0.3 1.4 -1.2 -0.8 -1.2 0.8 0.3 -1.4 -1.1 -0.9 1.4 -0.2zM693.4 1005l0.6 1.3 1.4 0.2 -1.1 0.9 0.3 1.4 -1.2 -0.8 -1.2 0.8 0.3 -1.4 -1.1 -0.9 1.4 -0.2zM619.1 853.9l0.6 1.3 1.4 0.2 -1.1 0.9 0.3 1.4 -1.2 -0.8 -1.2 0.8 0.3 -1.4 -1.1 -0.9 1.4 -0.2zM616.6 895.5l0.6 1.3 1.4 0.2 -1.1 0.9 0.3 1.4 -1.2 -0.8 -1.2 0.8 0.3 -1.4 -1.1 -0.9 1.4 -0.2zM573 998.4l0.6 1.3 1.4 0.2 -1.1 0.9 0.3 1.4 -1.2 -0.8 -1.2 0.8 0.3 -1.4 -1.1 -0.9 1.4 -0.2zM580 991.8l0.6 1.3 1.4 0.2 -1.1 0.9 0.3 1.4 -1.2 -0.8 -1.2 0.8 0.3 -1.4 -1.1 -0.9 1.4 -0.2zM639 764.9l0.6 1.3 1.4 0.2 -1.1 0.9 0.3 1.4 -1.2 -0.8 -1.2 0.8 0.3 -1.4 -1.1 -0.9 1.4 -0.2zM606.9 946.7l0.6 1.3 1.4 0.2 -1.1 0.9 0.3 1.4 -1.2 -0.8 -1.2 0.8 0.3 -1.4 -1.1 -0.9 1.4 -0.2zM579.5 995l0.6 1.3 1.4 0.2 -1.1 0.9 0.3 1.4 -1.2 -0.8 -1.2 0.8 0.3 -1.4 -1.1 -0.9 1.4 -0.2zM659.6 960.6l0.6 1.3 1.4 0.2 -1.1 0.9 0.3 1.4 -1.2 -0.8 -1.2 0.8 0.3 -1.4 -1.1 -0.9 1.4 -0.2zM649.5 907.2l0.6 1.3 1.4 0.2 -1.1 0.9 0.3 1.4 -1.2 -0.8 -1.2 0.8 0.3 -1.4 -1.1 -0.9 1.4 -0.2zM591.9 991.3l0.6 1.3 1.4 0.2 -1.1 0.9 0.3 1.4 -1.2 -0.8 -1.2 0.8 0.3 -1.4 -1.1 -0.9 1.4 -0.2zM603.1 955.6l0.6 1.3 1.4 0.2 -1.1 0.9 0.3 1.4 -1.2 -0.8 -1.2 0.8 0.3 -1.4 -1.1 -0.9 1.4 -0.2zM616 897.1l0.6 1.3 1.4 0.2 -1.1 0.9 0.3 1.4 -1.2 -0.8 -1.2 0.8 0.3 -1.4 -1.1 -0.9 1.4 -0.2zM624.4 750.5l0.6 1.3 1.4 0.2 -1.1 0.9 0.3 1.4 -1.2 -0.8 -1.2 0.8 0.3 -1.4 -1.1 -0.9 1.4 -0.2zM690.2 999.4l0.6 1.3 1.4 0.2 -1.1 0.9 0.3 1.4 -1.2 -0.8 -1.2 0.8 0.3 -1.4 -1.1 -0.9 1.4 -0.2zM652.9 910.6l0.6 1.3 1.4 0.2 -1.1 0.9 0.3 1.4 -1.2 -0.8 -1.2 0.8 0.3 -1.4 -1.1 -0.9 1.4 -0.2zM652.7 925.9l0.6 1.3 1.4 0.2 -1.1 0.9 0.3 1.4 -1.2 -0.8 -1.2 0.8 0.3 -1.4 -1.1 -0.9 1.4 -0.2zM643 853.5l0.6 1.3 1.4 0.2 -1.1 0.9 0.3 1.4 -1.2 -0.8 -1.2 0.8 0.3 -1.4 -1.1 -0.9 1.4 -0.2zM657 951.3l0.6 1.3 1.4 0.2 -1.1 0.9 0.3 1.4 -1.2 -0.8 -1.2 0.8 0.3 -1.4 -1.1 -0.9 1.4 -0.2zM645 875.8l0.6 1.3 1.4 0.2 -1.1 0.9 0.3 1.4 -1.2 -0.8 -1.2 0.8 0.3 -1.4 -1.1 -0.9 1.4 -0.2zM697.2 998.6l0.6 1.3 1.4 0.2 -1.1 0.9 0.3 1.4 -1.2 -0.8 -1.2 0.8 0.3 -1.4 -1.1 -0.9 1.4 -0.2zM579.8 1001l0.6 1.3 1.4 0.2 -1.1 0.9 0.3 1.4 -1.2 -0.8 -1.2 0.8 0.3 -1.4 -1.1 -0.9 1.4 -0.2zM587.9 993.5l0.6 1.3 1.4 0.2 -1.1 0.9 0.3 1.4 -1.2 -0.8 -1.2 0.8 0.3 -1.4 -1.1 -0.9 1.4 -0.2zM622.4 804.7l0.6 1.3 1.4 0.2 -1.1 0.9 0.3 1.4 -1.2 -0.8 -1.2 0.8 0.3 -1.4 -1.1 -0.9 1.4 -0.2zM643.3 789.7l0.6 1.3 1.4 0.2 -1.1 0.9 0.3 1.4 -1.2 -0.8 -1.2 0.8 0.3 -1.4 -1.1 -0.9 1.4 -0.2zM576.5 998.7l0.6 1.3 1.4 0.2 -1.1 0.9 0.3 1.4 -1.2 -0.8 -1.2 0.8 0.3 -1.4 -1.1 -0.9 1.4 -0.2zM656 948.8l0.6 1.3 1.4 0.2 -1.1 0.9 0.3 1.4 -1.2 -0.8 -1.2 0.8 0.3 -1.4 -1.1 -0.9 1.4 -0.2zM668.7 976.8l0.6 1.3 1.4 0.2 -1.1 0.9 0.3 1.4 -1.2 -0.8 -1.2 0.8 0.3 -1.4 -1.1 -0.9 1.4 -0.2zM633.2 747.6l0.6 1.3 1.4 0.2 -1.1 0.9 0.3 1.4 -1.2 -0.8 -1.2 0.8 0.3 -1.4 -1.1 -0.9 1.4 -0.2zM624.8 776.5l0.6 1.3 1.4 0.2 -1.1 0.9 0.3 1.4 -1.2 -0.8 -1.2 0.8 0.3 -1.4 -1.1 -0.9 1.4 -0.2zM694.3 997.4l0.6 1.3 1.4 0.2 -1.1 0.9 0.3 1.4 -1.2 -0.8 -1.2 0.8 0.3 -1.4 -1.1 -0.9 1.4 -0.2zM692.4 1003.9l0.6 1.3 1.4 0.2 -1.1 0.9 0.3 1.4 -1.2 -0.8 -1.2 0.8 0.3 -1.4 -1.1 -0.9 1.4 -0.2zM580.8 996.2l0.6 1.3 1.4 0.2 -1.1 0.9 0.3 1.4 -1.2 -0.8 -1.2 0.8 0.3 -1.4 -1.1 -0.9 1.4 -0.2zM607.8 953l0.6 1.3 1.4 0.2 -1.1 0.9 0.3 1.4 -1.2 -0.8 -1.2 0.8 0.3 -1.4 -1.1 -0.9 1.4 -0.2zM653.2 933.1l0.6 1.3 1.4 0.2 -1.1 0.9 0.3 1.4 -1.2 -0.8 -1.2 0.8 0.3 -1.4 -1.1 -0.9 1.4 -0.2zM690.6 999.5l0.6 1.3 1.4 0.2 -1.1 0.9 0.3 1.4 -1.2 -0.8 -1.2 0.8 0.3 -1.4 -1.1 -0.9 1.4 -0.2zM634.5 700.2l0.6 1.3 1.4 0.2 -1.1 0.9 0.3 1.4 -1.2 -0.8 -1.2 0.8 0.3 -1.4 -1.1 -0.9 1.4 -0.2zM632.3 731.8l0.6 1.3 1.4 0.2 -1.1 0.9 0.3 1.4 -1.2 -0.8 -1.2 0.8 0.3 -1.4 -1.1 -0.9 1.4 -0.2zM597.1 985.6l0.6 1.3 1.4 0.2 -1.1 0.9 0.3 1.4 -1.2 -0.8 -1.2 0.8 0.3 -1.4 -1.1 -0.9 1.4 -0.2zM642.5 822.1l0.6 1.3 1.4 0.2 -1.1 0.9 0.3 1.4 -1.2 -0.8 -1.2 0.8 0.3 -1.4 -1.1 -0.9 1.4 -0.2zM598.1 963.1l0.6 1.3 1.4 0.2 -1.1 0.9 0.3 1.4 -1.2 -0.8 -1.2 0.8 0.3 -1.4 -1.1 -0.9 1.4 -0.2zM667.5 970.3l0.6 1.3 1.4 0.2 -1.1 0.9 0.3 1.4 -1.2 -0.8 -1.2 0.8 0.3 -1.4 -1.1 -0.9 1.4 -0.2zM633.2 688.6l0.6 1.3 1.4 0.2 -1.1 0.9 0.3 1.4 -1.2 -0.8 -1.2 0.8 0.3 -1.4 -1.1 -0.9 1.4 -0.2zM691.4 1001.2l0.6 1.3 1.4 0.2 -1.1 0.9 0.3 1.4 -1.2 -0.8 -1.2 0.8 0.3 -1.4 -1.1 -0.9 1.4 -0.2zM624.9 780.2l0.6 1.3 1.4 0.2 -1.1 0.9 0.3 1.4 -1.2 -0.8 -1.2 0.8 0.3 -1.4 -1.1 -0.9 1.4 -0.2zM598.5 983.2l0.6 1.3 1.4 0.2 -1.1 0.9 0.3 1.4 -1.2 -0.8 -1.2 0.8 0.3 -1.4 -1.1 -0.9 1.4 -0.2zM688.6 1007l0.6 1.3 1.4 0.2 -1.1 0.9 0.3 1.4 -1.2 -0.8 -1.2 0.8 0.3 -1.4 -1.1 -0.9 1.4 -0.2zM574.8 1008.9l0.6 1.3 1.4 0.2 -1.1 0.9 0.3 1.4 -1.2 -0.8 -1.2 0.8 0.3 -1.4 -1.1 -0.9 1.4 -0.2zM619.6 888l0.6 1.3 1.4 0.2 -1.1 0.9 0.3 1.4 -1.2 -0.8 -1.2 0.8 0.3 -1.4 -1.1 -0.9 1.4 -0.2zM589 993.7l0.6 1.3 1.4 0.2 -1.1 0.9 0.3 1.4 -1.2 -0.8 -1.2 0.8 0.3 -1.4 -1.1 -0.9 1.4 -0.2zM654.7 937.2l0.6 1.3 1.4 0.2 -1.1 0.9 0.3 1.4 -1.2 -0.8 -1.2 0.8 0.3 -1.4 -1.1 -0.9 1.4 -0.2zM655.3 956.6l0.6 1.3 1.4 0.2 -1.1 0.9 0.3 1.4 -1.2 -0.8 -1.2 0.8 0.3 -1.4 -1.1 -0.9 1.4 -0.2zM621.9 791l0.6 1.3 1.4 0.2 -1.1 0.9 0.3 1.4 -1.2 -0.8 -1.2 0.8 0.3 -1.4 -1.1 -0.9 1.4 -0.2zM617.6 874l0.6 1.3 1.4 0.2 -1.1 0.9 0.3 1.4 -1.2 -0.8 -1.2 0.8 0.3 -1.4 -1.1 -0.9 1.4 -0.2zM620.3 868.3l0.6 1.3 1.4 0.2 -1.1 0.9 0.3 1.4 -1.2 -0.8 -1.2 0.8 0.3 -1.4 -1.1 -0.9 1.4 -0.2zM682.9 1000.4l0.6 1.3 1.4 0.2 -1.1 0.9 0.3 1.4 -1.2 -0.8 -1.2 0.8 0.3 -1.4 -1.1 -0.9 1.4 -0.2zM679 986.5l0.6 1.3 1.4 0.2 -1.1 0.9 0.3 1.4 -1.2 -0.8 -1.2 0.8 0.3 -1.4 -1.1 -0.9 1.4 -0.2zM620.6 852.8l0.6 1.3 1.4 0.2 -1.1 0.9 0.3 1.4 -1.2 -0.8 -1.2 0.8 0.3 -1.4 -1.1 -0.9 1.4 -0.2zM662 957.7l0.6 1.3 1.4 0.2 -1.1 0.9 0.3 1.4 -1.2 -0.8 -1.2 0.8 0.3 -1.4 -1.1 -0.9 1.4 -0.2zM613.6 901.8l0.6 1.3 1.4 0.2 -1.1 0.9 0.3 1.4 -1.2 -0.8 -1.2 0.8 0.3 -1.4 -1.1 -0.9 1.4 -0.2zM590.6 985.9l0.6 1.3 1.4 0.2 -1.1 0.9 0.3 1.4 -1.2 -0.8 -1.2 0.8 0.3 -1.4 -1.1 -0.9 1.4 -0.2zM684.9 1000.3l0.6 1.3 1.4 0.2 -1.1 0.9 0.3 1.4 -1.2 -0.8 -1.2 0.8 0.3 -1.4 -1.1 -0.9 1.4 -0.2zM676.5 986.2l0.6 1.3 1.4 0.2 -1.1 0.9 0.3 1.4 -1.2 -0.8 -1.2 0.8 0.3 -1.4 -1.1 -0.9 1.4 -0.2zM628.3 677.7l0.6 1.3 1.4 0.2 -1.1 0.9 0.3 1.4 -1.2 -0.8 -1.2 0.8 0.3 -1.4 -1.1 -0.9 1.4 -0.2zM640 753.8l0.6 1.3 1.4 0.2 -1.1 0.9 0.3 1.4 -1.2 -0.8 -1.2 0.8 0.3 -1.4 -1.1 -0.9 1.4 -0.2zM598.6 976.8l0.6 1.3 1.4 0.2 -1.1 0.9 0.3 1.4 -1.2 -0.8 -1.2 0.8 0.3 -1.4 -1.1 -0.9 1.4 -0.2zM623.7 753.6l0.6 1.3 1.4 0.2 -1.1 0.9 0.3 1.4 -1.2 -0.8 -1.2 0.8 0.3 -1.4 -1.1 -0.9 1.4 -0.2zM684.3 995.7l0.6 1.3 1.4 0.2 -1.1 0.9 0.3 1.4 -1.2 -0.8 -1.2 0.8 0.3 -1.4 -1.1 -0.9 1.4 -0.2zM596.1 985.5l0.6 1.3 1.4 0.2 -1.1 0.9 0.3 1.4 -1.2 -0.8 -1.2 0.8 0.3 -1.4 -1.1 -0.9 1.4 -0.2zM650.5 921.5l0.6 1.3 1.4 0.2 -1.1 0.9 0.3 1.4 -1.2 -0.8 -1.2 0.8 0.3 -1.4 -1.1 -0.9 1.4 -0.2zM687.4 995l0.6 1.3 1.4 0.2 -1.1 0.9 0.3 1.4 -1.2 -0.8 -1.2 0.8 0.3 -1.4 -1.1 -0.9 1.4 -0.2zM600.9 973.7l0.6 1.3 1.4 0.2 -1.1 0.9 0.3 1.4 -1.2 -0.8 -1.2 0.8 0.3 -1.4 -1.1 -0.9 1.4 -0.2zM671.3 983.2l0.6 1.3 1.4 0.2 -1.1 0.9 0.3 1.4 -1.2 -0.8 -1.2 0.8 0.3 -1.4 -1.1 -0.9 1.4 -0.2zM653.8 913.5l0.6 1.3 1.4 0.2 -1.1 0.9 0.3 1.4 -1.2 -0.8 -1.2 0.8 0.3 -1.4 -1.1 -0.9 1.4 -0.2zM589.9 985.9l0.6 1.3 1.4 0.2 -1.1 0.9 0.3 1.4 -1.2 -0.8 -1.2 0.8 0.3 -1.4 -1.1 -0.9 1.4 -0.2zM667.4 962.4l0.6 1.3 1.4 0.2 -1.1 0.9 0.3 1.4 -1.2 -0.8 -1.2 0.8 0.3 -1.4 -1.1 -0.9 1.4 -0.2zM627.7 771.1l0.6 1.3 1.4 0.2 -1.1 0.9 0.3 1.4 -1.2 -0.8 -1.2 0.8 0.3 -1.4 -1.1 -0.9 1.4 -0.2zM572.7 1004.9l0.6 1.3 1.4 0.2 -1.1 0.9 0.3 1.4 -1.2 -0.8 -1.2 0.8 0.3 -1.4 -1.1 -0.9 1.4 -0.2zM696.1 1002l0.6 1.3 1.4 0.2 -1.1 0.9 0.3 1.4 -1.2 -0.8 -1.2 0.8 0.3 -1.4 -1.1 -0.9 1.4 -0.2zM625.6 668.3l0.6 1.3 1.4 0.2 -1.1 0.9 0.3 1.4 -1.2 -0.8 -1.2 0.8 0.3 -1.4 -1.1 -0.9 1.4 -0.2zM626 711.1l0.6 1.3 1.4 0.2 -1.1 0.9 0.3 1.4 -1.2 -0.8 -1.2 0.8 0.3 -1.4 -1.1 -0.9 1.4 -0.2zM617.6 895.7l0.6 1.3 1.4 0.2 -1.1 0.9 0.3 1.4 -1.2 -0.8 -1.2 0.8 0.3 -1.4 -1.1 -0.9 1.4 -0.2zM667.2 973.8l0.6 1.3 1.4 0.2 -1.1 0.9 0.3 1.4 -1.2 -0.8 -1.2 0.8 0.3 -1.4 -1.1 -0.9 1.4 -0.2zM599.4 967.5l0.6 1.3 1.4 0.2 -1.1 0.9 0.3 1.4 -1.2 -0.8 -1.2 0.8 0.3 -1.4 -1.1 -0.9 1.4 -0.2zM694.9 1006.6l0.6 1.3 1.4 0.2 -1.1 0.9 0.3 1.4 -1.2 -0.8 -1.2 0.8 0.3 -1.4 -1.1 -0.9 1.4 -0.2zM622.6 811.9l0.6 1.3 1.4 0.2 -1.1 0.9 0.3 1.4 -1.2 -0.8 -1.2 0.8 0.3 -1.4 -1.1 -0.9 1.4 -0.2zM641.2 732.2l0.6 1.3 1.4 0.2 -1.1 0.9 0.3 1.4 -1.2 -0.8 -1.2 0.8 0.3 -1.4 -1.1 -0.9 1.4 -0.2zM672.1 976.8l0.6 1.3 1.4 0.2 -1.1 0.9 0.3 1.4 -1.2 -0.8 -1.2 0.8 0.3 -1.4 -1.1 -0.9 1.4 -0.2zM671.2 982.8l0.6 1.3 1.4 0.2 -1.1 0.9 0.3 1.4 -1.2 -0.8 -1.2 0.8 0.3 -1.4 -1.1 -0.9 1.4 -0.2zM619.2 886.2l0.6 1.3 1.4 0.2 -1.1 0.9 0.3 1.4 -1.2 -0.8 -1.2 0.8 0.3 -1.4 -1.1 -0.9 1.4 -0.2zM653 935.2l0.6 1.3 1.4 0.2 -1.1 0.9 0.3 1.4 -1.2 -0.8 -1.2 0.8 0.3 -1.4 -1.1 -0.9 1.4 -0.2zM645.3 827.3l0.6 1.3 1.4 0.2 -1.1 0.9 0.3 1.4 -1.2 -0.8 -1.2 0.8 0.3 -1.4 -1.1 -0.9 1.4 -0.2zM668.5 966.5l0.6 1.3 1.4 0.2 -1.1 0.9 0.3 1.4 -1.2 -0.8 -1.2 0.8 0.3 -1.4 -1.1 -0.9 1.4 -0.2zM588 987.9l0.6 1.3 1.4 0.2 -1.1 0.9 0.3 1.4 -1.2 -0.8 -1.2 0.8 0.3 -1.4 -1.1 -0.9 1.4 -0.2zM627.1 752l0.6 1.3 1.4 0.2 -1.1 0.9 0.3 1.4 -1.2 -0.8 -1.2 0.8 0.3 -1.4 -1.1 -0.9 1.4 -0.2zM695.7 1005.9l0.6 1.3 1.4 0.2 -1.1 0.9 0.3 1.4 -1.2 -0.8 -1.2 0.8 0.3 -1.4 -1.1 -0.9 1.4 -0.2zM615.5 909.5l0.6 1.3 1.4 0.2 -1.1 0.9 0.3 1.4 -1.2 -0.8 -1.2 0.8 0.3 -1.4 -1.1 -0.9 1.4 -0.2zM583 997.6l0.6 1.3 1.4 0.2 -1.1 0.9 0.3 1.4 -1.2 -0.8 -1.2 0.8 0.3 -1.4 -1.1 -0.9 1.4 -0.2zM629.4 694.6l0.6 1.3 1.4 0.2 -1.1 0.9 0.3 1.4 -1.2 -0.8 -1.2 0.8 0.3 -1.4 -1.1 -0.9 1.4 -0.2zM660.4 945.9l0.6 1.3 1.4 0.2 -1.1 0.9 0.3 1.4 -1.2 -0.8 -1.2 0.8 0.3 -1.4 -1.1 -0.9 1.4 -0.2zM643.9 740.3l0.6 1.3 1.4 0.2 -1.1 0.9 0.3 1.4 -1.2 -0.8 -1.2 0.8 0.3 -1.4 -1.1 -0.9 1.4 -0.2zM673.1 986.5l0.6 1.3 1.4 0.2 -1.1 0.9 0.3 1.4 -1.2 -0.8 -1.2 0.8 0.3 -1.4 -1.1 -0.9 1.4 -0.2zM648 911.6l0.6 1.3 1.4 0.2 -1.1 0.9 0.3 1.4 -1.2 -0.8 -1.2 0.8 0.3 -1.4 -1.1 -0.9 1.4 -0.2zM574.6 1000.9l0.6 1.3 1.4 0.2 -1.1 0.9 0.3 1.4 -1.2 -0.8 -1.2 0.8 0.3 -1.4 -1.1 -0.9 1.4 -0.2zM620 873.9l0.6 1.3 1.4 0.2 -1.1 0.9 0.3 1.4 -1.2 -0.8 -1.2 0.8 0.3 -1.4 -1.1 -0.9 1.4 -0.2zM674 985.5l0.6 1.3 1.4 0.2 -1.1 0.9 0.3 1.4 -1.2 -0.8 -1.2 0.8 0.3 -1.4 -1.1 -0.9 1.4 -0.2zM697 1010.4l0.6 1.3 1.4 0.2 -1.1 0.9 0.3 1.4 -1.2 -0.8 -1.2 0.8 0.3 -1.4 -1.1 -0.9 1.4 -0.2zM644.7 842.2l0.6 1.3 1.4 0.2 -1.1 0.9 0.3 1.4 -1.2 -0.8 -1.2 0.8 0.3 -1.4 -1.1 -0.9 1.4 -0.2zM671.3 981.6l0.6 1.3 1.4 0.2 -1.1 0.9 0.3 1.4 -1.2 -0.8 -1.2 0.8 0.3 -1.4 -1.1 -0.9 1.4 -0.2zM609.2 924.8l0.6 1.3 1.4 0.2 -1.1 0.9 0.3 1.4 -1.2 -0.8 -1.2 0.8 0.3 -1.4 -1.1 -0.9 1.4 -0.2zM624.3 754.3l0.6 1.3 1.4 0.2 -1.1 0.9 0.3 1.4 -1.2 -0.8 -1.2 0.8 0.3 -1.4 -1.1 -0.9 1.4 -0.2zM577.7 1006.2l0.6 1.3 1.4 0.2 -1.1 0.9 0.3 1.4 -1.2 -0.8 -1.2 0.8 0.3 -1.4 -1.1 -0.9 1.4 -0.2zM598 980.4l0.6 1.3 1.4 0.2 -1.1 0.9 0.3 1.4 -1.2 -0.8 -1.2 0.8 0.3 -1.4 -1.1 -0.9 1.4 -0.2zM673.1 988.3l0.6 1.3 1.4 0.2 -1.1 0.9 0.3 1.4 -1.2 -0.8 -1.2 0.8 0.3 -1.4 -1.1 -0.9 1.4 -0.2zM696.1 1004l0.6 1.3 1.4 0.2 -1.1 0.9 0.3 1.4 -1.2 -0.8 -1.2 0.8 0.3 -1.4 -1.1 -0.9 1.4 -0.2zM575 996.4l0.6 1.3 1.4 0.2 -1.1 0.9 0.3 1.4 -1.2 -0.8 -1.2 0.8 0.3 -1.4 -1.1 -0.9 1.4 -0.2zM572.5 1005.5l0.6 1.3 1.4 0.2 -1.1 0.9 0.3 1.4 -1.2 -0.8 -1.2 0.8 0.3 -1.4 -1.1 -0.9 1.4 -0.2zM663.3 970.7l0.6 1.3 1.4 0.2 -1.1 0.9 0.3 1.4 -1.2 -0.8 -1.2 0.8 0.3 -1.4 -1.1 -0.9 1.4 -0.2zM679.3 984.2l0.6 1.3 1.4 0.2 -1.1 0.9 0.3 1.4 -1.2 -0.8 -1.2 0.8 0.3 -1.4 -1.1 -0.9 1.4 -0.2zM623.8 793.5l0.6 1.3 1.4 0.2 -1.1 0.9 0.3 1.4 -1.2 -0.8 -1.2 0.8 0.3 -1.4 -1.1 -0.9 1.4 -0.2zM636.2 671.5l0.6 1.3 1.4 0.2 -1.1 0.9 0.3 1.4 -1.2 -0.8 -1.2 0.8 0.3 -1.4 -1.1 -0.9 1.4 -0.2zM577.5 999l0.6 1.3 1.4 0.2 -1.1 0.9 0.3 1.4 -1.2 -0.8 -1.2 0.8 0.3 -1.4 -1.1 -0.9 1.4 -0.2zM664.4 970.4l0.6 1.3 1.4 0.2 -1.1 0.9 0.3 1.4 -1.2 -0.8 -1.2 0.8 0.3 -1.4 -1.1 -0.9 1.4 -0.2zM618.2 896.5l0.6 1.3 1.4 0.2 -1.1 0.9 0.3 1.4 -1.2 -0.8 -1.2 0.8 0.3 -1.4 -1.1 -0.9 1.4 -0.2zM694.4 1000l0.6 1.3 1.4 0.2 -1.1 0.9 0.3 1.4 -1.2 -0.8 -1.2 0.8 0.3 -1.4 -1.1 -0.9 1.4 -0.2zM597 986.3l0.6 1.3 1.4 0.2 -1.1 0.9 0.3 1.4 -1.2 -0.8 -1.2 0.8 0.3 -1.4 -1.1 -0.9 1.4 -0.2zM658 962l0.6 1.3 1.4 0.2 -1.1 0.9 0.3 1.4 -1.2 -0.8 -1.2 0.8 0.3 -1.4 -1.1 -0.9 1.4 -0.2zM604.9 949.8l0.6 1.3 1.4 0.2 -1.1 0.9 0.3 1.4 -1.2 -0.8 -1.2 0.8 0.3 -1.4 -1.1 -0.9 1.4 -0.2zM595.4 979.4l0.6 1.3 1.4 0.2 -1.1 0.9 0.3 1.4 -1.2 -0.8 -1.2 0.8 0.3 -1.4 -1.1 -0.9 1.4 -0.2zM687.7 998.4l0.6 1.3 1.4 0.2 -1.1 0.9 0.3 1.4 -1.2 -0.8 -1.2 0.8 0.3 -1.4 -1.1 -0.9 1.4 -0.2zM598.1 963.7l0.6 1.3 1.4 0.2 -1.1 0.9 0.3 1.4 -1.2 -0.8 -1.2 0.8 0.3 -1.4 -1.1 -0.9 1.4 -0.2zM673.8 980.9l0.6 1.3 1.4 0.2 -1.1 0.9 0.3 1.4 -1.2 -0.8 -1.2 0.8 0.3 -1.4 -1.1 -0.9 1.4 -0.2zM649.2 899.3l0.6 1.3 1.4 0.2 -1.1 0.9 0.3 1.4 -1.2 -0.8 -1.2 0.8 0.3 -1.4 -1.1 -0.9 1.4 -0.2zM603 973.7l0.6 1.3 1.4 0.2 -1.1 0.9 0.3 1.4 -1.2 -0.8 -1.2 0.8 0.3 -1.4 -1.1 -0.9 1.4 -0.2zM655.9 932.8l0.6 1.3 1.4 0.2 -1.1 0.9 0.3 1.4 -1.2 -0.8 -1.2 0.8 0.3 -1.4 -1.1 -0.9 1.4 -0.2zM610.7 928l0.6 1.3 1.4 0.2 -1.1 0.9 0.3 1.4 -1.2 -0.8 -1.2 0.8 0.3 -1.4 -1.1 -0.9 1.4 -0.2zM607.9 937.9l0.6 1.3 1.4 0.2 -1.1 0.9 0.3 1.4 -1.2 -0.8 -1.2 0.8 0.3 -1.4 -1.1 -0.9 1.4 -0.2zM608.1 942l0.6 1.3 1.4 0.2 -1.1 0.9 0.3 1.4 -1.2 -0.8 -1.2 0.8 0.3 -1.4 -1.1 -0.9 1.4 -0.2zM638.9 721.7l0.6 1.3 1.4 0.2 -1.1 0.9 0.3 1.4 -1.2 -0.8 -1.2 0.8 0.3 -1.4 -1.1 -0.9 1.4 -0.2zM612.5 923.1l0.6 1.3 1.4 0.2 -1.1 0.9 0.3 1.4 -1.2 -0.8 -1.2 0.8 0.3 -1.4 -1.1 -0.9 1.4 -0.2zM639 708.4l0.6 1.3 1.4 0.2 -1.1 0.9 0.3 1.4 -1.2 -0.8 -1.2 0.8 0.3 -1.4 -1.1 -0.9 1.4 -0.2zM640.6 731.3l0.6 1.3 1.4 0.2 -1.1 0.9 0.3 1.4 -1.2 -0.8 -1.2 0.8 0.3 -1.4 -1.1 -0.9 1.4 -0.2zM577.3 997.8l0.6 1.3 1.4 0.2 -1.1 0.9 0.3 1.4 -1.2 -0.8 -1.2 0.8 0.3 -1.4 -1.1 -0.9 1.4 -0.2zM591 984.4l0.6 1.3 1.4 0.2 -1.1 0.9 0.3 1.4 -1.2 -0.8 -1.2 0.8 0.3 -1.4 -1.1 -0.9 1.4 -0.2zM672.3 976.8l0.6 1.3 1.4 0.2 -1.1 0.9 0.3 1.4 -1.2 -0.8 -1.2 0.8 0.3 -1.4 -1.1 -0.9 1.4 -0.2zM652.9 908.1l0.6 1.3 1.4 0.2 -1.1 0.9 0.3 1.4 -1.2 -0.8 -1.2 0.8 0.3 -1.4 -1.1 -0.9 1.4 -0.2zM692.8 995.7l0.6 1.3 1.4 0.2 -1.1 0.9 0.3 1.4 -1.2 -0.8 -1.2 0.8 0.3 -1.4 -1.1 -0.9 1.4 -0.2zM583.7 996.2l0.6 1.3 1.4 0.2 -1.1 0.9 0.3 1.4 -1.2 -0.8 -1.2 0.8 0.3 -1.4 -1.1 -0.9 1.4 -0.2zM604.6 949.2l0.6 1.3 1.4 0.2 -1.1 0.9 0.3 1.4 -1.2 -0.8 -1.2 0.8 0.3 -1.4 -1.1 -0.9 1.4 -0.2zM657.1 936.4l0.6 1.3 1.4 0.2 -1.1 0.9 0.3 1.4 -1.2 -0.8 -1.2 0.8 0.3 -1.4 -1.1 -0.9 1.4 -0.2zM632.6 698.7l0.6 1.3 1.4 0.2 -1.1 0.9 0.3 1.4 -1.2 -0.8 -1.2 0.8 0.3 -1.4 -1.1 -0.9 1.4 -0.2zM619 849.2l0.6 1.3 1.4 0.2 -1.1 0.9 0.3 1.4 -1.2 -0.8 -1.2 0.8 0.3 -1.4 -1.1 -0.9 1.4 -0.2zM642.1 752.7l0.6 1.3 1.4 0.2 -1.1 0.9 0.3 1.4 -1.2 -0.8 -1.2 0.8 0.3 -1.4 -1.1 -0.9 1.4 -0.2zM609.3 948.6l0.6 1.3 1.4 0.2 -1.1 0.9 0.3 1.4 -1.2 -0.8 -1.2 0.8 0.3 -1.4 -1.1 -0.9 1.4 -0.2zM619.9 870l0.6 1.3 1.4 0.2 -1.1 0.9 0.3 1.4 -1.2 -0.8 -1.2 0.8 0.3 -1.4 -1.1 -0.9 1.4 -0.2zM662 962.1l0.6 1.3 1.4 0.2 -1.1 0.9 0.3 1.4 -1.2 -0.8 -1.2 0.8 0.3 -1.4 -1.1 -0.9 1.4 -0.2zM632.8 718.1l0.6 1.3 1.4 0.2 -1.1 0.9 0.3 1.4 -1.2 -0.8 -1.2 0.8 0.3 -1.4 -1.1 -0.9 1.4 -0.2zM689 1005.3l0.6 1.3 1.4 0.2 -1.1 0.9 0.3 1.4 -1.2 -0.8 -1.2 0.8 0.3 -1.4 -1.1 -0.9 1.4 -0.2zM582.1 997.3l0.6 1.3 1.4 0.2 -1.1 0.9 0.3 1.4 -1.2 -0.8 -1.2 0.8 0.3 -1.4 -1.1 -0.9 1.4 -0.2zM644.3 852l0.6 1.3 1.4 0.2 -1.1 0.9 0.3 1.4 -1.2 -0.8 -1.2 0.8 0.3 -1.4 -1.1 -0.9 1.4 -0.2zM629.1 731.9l0.6 1.3 1.4 0.2 -1.1 0.9 0.3 1.4 -1.2 -0.8 -1.2 0.8 0.3 -1.4 -1.1 -0.9 1.4 -0.2zM607 958.7l0.6 1.3 1.4 0.2 -1.1 0.9 0.3 1.4 -1.2 -0.8 -1.2 0.8 0.3 -1.4 -1.1 -0.9 1.4 -0.2zM644.2 819.1l0.6 1.3 1.4 0.2 -1.1 0.9 0.3 1.4 -1.2 -0.8 -1.2 0.8 0.3 -1.4 -1.1 -0.9 1.4 -0.2zM694.1 1004l0.6 1.3 1.4 0.2 -1.1 0.9 0.3 1.4 -1.2 -0.8 -1.2 0.8 0.3 -1.4 -1.1 -0.9 1.4 -0.2zM694.2 1007.2l0.6 1.3 1.4 0.2 -1.1 0.9 0.3 1.4 -1.2 -0.8 -1.2 0.8 0.3 -1.4 -1.1 -0.9 1.4 -0.2zM608.3 935.8l0.6 1.3 1.4 0.2 -1.1 0.9 0.3 1.4 -1.2 -0.8 -1.2 0.8 0.3 -1.4 -1.1 -0.9 1.4 -0.2zM689.6 998.1l0.6 1.3 1.4 0.2 -1.1 0.9 0.3 1.4 -1.2 -0.8 -1.2 0.8 0.3 -1.4 -1.1 -0.9 1.4 -0.2zM583.5 995.9l0.6 1.3 1.4 0.2 -1.1 0.9 0.3 1.4 -1.2 -0.8 -1.2 0.8 0.3 -1.4 -1.1 -0.9 1.4 -0.2zM609.3 936.7l0.6 1.3 1.4 0.2 -1.1 0.9 0.3 1.4 -1.2 -0.8 -1.2 0.8 0.3 -1.4 -1.1 -0.9 1.4 -0.2zM672.6 979.8l0.6 1.3 1.4 0.2 -1.1 0.9 0.3 1.4 -1.2 -0.8 -1.2 0.8 0.3 -1.4 -1.1 -0.9 1.4 -0.2zM672.5 985l0.6 1.3 1.4 0.2 -1.1 0.9 0.3 1.4 -1.2 -0.8 -1.2 0.8 0.3 -1.4 -1.1 -0.9 1.4 -0.2zM627.5 706.3l0.6 1.3 1.4 0.2 -1.1 0.9 0.3 1.4 -1.2 -0.8 -1.2 0.8 0.3 -1.4 -1.1 -0.9 1.4 -0.2zM694.9 998.9l0.6 1.3 1.4 0.2 -1.1 0.9 0.3 1.4 -1.2 -0.8 -1.2 0.8 0.3 -1.4 -1.1 -0.9 1.4 -0.2zM649.6 907.6l0.6 1.3 1.4 0.2 -1.1 0.9 0.3 1.4 -1.2 -0.8 -1.2 0.8 0.3 -1.4 -1.1 -0.9 1.4 -0.2zM658.8 954.7l0.6 1.3 1.4 0.2 -1.1 0.9 0.3 1.4 -1.2 -0.8 -1.2 0.8 0.3 -1.4 -1.1 -0.9 1.4 -0.2zM600.9 977.1l0.6 1.3 1.4 0.2 -1.1 0.9 0.3 1.4 -1.2 -0.8 -1.2 0.8 0.3 -1.4 -1.1 -0.9 1.4 -0.2zM590.4 987l0.6 1.3 1.4 0.2 -1.1 0.9 0.3 1.4 -1.2 -0.8 -1.2 0.8 0.3 -1.4 -1.1 -0.9 1.4 -0.2zM574.1 1001.6l0.6 1.3 1.4 0.2 -1.1 0.9 0.3 1.4 -1.2 -0.8 -1.2 0.8 0.3 -1.4 -1.1 -0.9 1.4 -0.2zM654.3 924.3l0.6 1.3 1.4 0.2 -1.1 0.9 0.3 1.4 -1.2 -0.8 -1.2 0.8 0.3 -1.4 -1.1 -0.9 1.4 -0.2zM632.9 730.9l0.6 1.3 1.4 0.2 -1.1 0.9 0.3 1.4 -1.2 -0.8 -1.2 0.8 0.3 -1.4 -1.1 -0.9 1.4 -0.2zM686.3 998.1l0.6 1.3 1.4 0.2 -1.1 0.9 0.3 1.4 -1.2 -0.8 -1.2 0.8 0.3 -1.4 -1.1 -0.9 1.4 -0.2zM574.8 1003.5l0.6 1.3 1.4 0.2 -1.1 0.9 0.3 1.4 -1.2 -0.8 -1.2 0.8 0.3 -1.4 -1.1 -0.9 1.4 -0.2z" fill="#f04848" opacity="1.0"/>
<path d="M570.2 1007.8L570.3 1007.8L570.5 1007.7L570.6 1007.7L570.8 1007.7L570.9 1007.6L571 1007.6L571.2 1007.5L571.3 1007.5L571.5 1007.5L571.6 1007.4L571.8 1007.4L571.9 1007.4L572 1007.3L572.2 1007.3L572.3 1007.2L572.5 1007.2L572.6 1007.1L572.7 1007.1L572.9 1007L573 1007L573.2 1006.9L573.3 1006.9L573.4 1006.8L573.6 1006.8L573.7 1006.7L573.9 1006.7L574 1006.6L574.2 1006.6L574.3 1006.5L574.4 1006.5L574.6 1006.4L574.7 1006.3L574.9 1006.3L575 1006.2L575.1 1006.2L575.3 1006.1L575.4 1006L575.6 1006L575.7 1005.9L575.8 1005.8L576 1005.8L576.1 1005.7L576.3 1005.6L576.4 1005.6L576.6 1005.5L576.7 1005.4L576.8 1005.4L577 1005.3L577.1 1005.2L577.3 1005.1L577.4 1005.1L577.5 1005L577.7 1004.9L577.8 1004.8L578 1004.7L578.1 1004.7L578.2 1004.6L578.4 1004.5L578.5 1004.4L578.7 1004.3L578.8 1004.2L579 1004.2L579.1 1004.1L579.2 1004L579.4 1003.9L579.5 1003.8L579.7 1003.7L579.8 1003.6L579.9 1003.5L580.1 1003.4L580.2 1003.3L580.4 1003.2L580.5 1003.1L580.6 1003L580.8 1002.9L580.9 1002.8L581.1 1002.7L581.2 1002.6L581.4 1002.5L581.5 1002.4L581.6 1002.3L581.8 1002.2L581.9 1002.1L582.1 1002L582.2 1001.9L582.3 1001.7L582.5 1001.6L582.6 1001.5L582.8 1001.4L582.9 1001.3L583 1001.2L583.2 1001L583.3 1000.9L583.5 1000.8L583.6 1000.7L583.8 1000.6L583.9 1000.4L584 1000.3L584.2 1000.2L584.3 1000L584.5 999.9L584.6 999.8L584.7 999.7L584.9 999.5L585 999.4L585.2 999.2L585.3 999.1L585.4 999L585.6 998.8L585.7 998.7L585.9 998.5L586 998.4L586.2 998.3L586.3 998.1L586.4 998L586.6 997.8L586.7 997.7L586.9 997.5L587 997.4L587.1 997.2L587.3 997L587.4 996.9L587.6 996.7L587.7 996.6L587.8 996.4L588 996.2L588.1 996.1L588.3 995.9L588.4 995.7L588.6 995.6L588.7 995.4L588.8 995.2L589 995.1L589.1 994.9L589.3 994.7L589.4 994.5L589.5 994.3L589.7 994.2L589.8 994L590 993.8L590.1 993.6L590.2 993.4L590.4 993.2L590.5 993.1L590.7 992.9L590.8 992.7L591 992.5L591.1 992.3L591.2 992.1L591.4 991.9L591.5 991.7L591.7 991.5L591.8 991.3L591.9 991.1L592.1 990.9L592.2 990.7L592.4 990.4L592.5 990.2L592.6 990L592.8 989.8L592.9 989.6L593.1 989.4L593.2 989.1L593.3 988.9L593.5 988.7L593.6 988.5L593.8 988.2L593.9 988L594.1 987.8L594.2 987.5L594.3 987.3L594.5 987.1L594.6 986.8L594.8 986.6L594.9 986.3L595 986.1L595.2 985.9L595.3 985.6L595.5 985.4L595.6 985.1L595.7 984.9L595.9 984.6L596 984.3L596.2 984.1L596.3 983.8L596.5 983.6L596.6 983.3L596.7 983L596.9 982.8L597 982.5L597.2 982.2L597.3 981.9L597.4 981.7L597.6 981.4L597.7 981.1L597.9 980.8L598 980.5L598.1 980.2L598.3 980L598.4 979.7L598.6 979.4L598.7 979.1L598.9 978.8L599 978.5L599.1 978.2L599.3 977.9L599.4 977.6L599.6 977.2L599.7 976.9L599.8 976.6L600 976.3L600.1 976L600.3 975.7L600.4 975.3L600.5 975L600.7 974.7L600.8 974.4L601 974L601.1 973.7L601.3 973.4L601.4 973L601.5 972.7L601.7 972.3L601.8 972L602 971.7L602.1 971.3L602.2 971L602.4 970.6L602.5 970.2L602.7 969.9L602.8 969.5L602.9 969.2L603.1 968.8L603.2 968.4L603.4 968L603.5 967.7L603.7 967.3L603.8 966.9L603.9 966.5L604.1 966.2L604.2 965.8L604.4 965.4L604.5 965L604.6 964.6L604.8 964.2L604.9 963.8L605.1 963.4L605.2 963L605.3 962.6L605.5 962.2L605.6 961.7L605.8 961.3L605.9 960.9L606.1 960.4L606.2 959.9L606.3 959.5L606.5 959L606.6 958.5L606.8 958L606.9 957.5L607 957L607.2 956.4L607.3 955.9L607.5 955.4L607.6 954.8L607.7 954.2L607.9 953.7L608 953.1L608.2 952.5L608.3 951.9L608.5 951.3L608.6 950.7L608.7 950L608.9 949.4L609 948.7L609.2 948.1L609.3 947.4L609.4 946.7L609.6 946L609.7 945.3L609.9 944.6L610 943.9L610.1 943.1L610.3 942.4L610.4 941.6L610.6 940.9L610.7 940.1L610.9 939.3L611 938.5L611.1 937.7L611.3 936.9L611.4 936L611.6 935.2L611.7 934.3L611.8 933.5L612 932.6L612.1 931.7L612.3 930.8L612.4 929.9L612.5 929L612.7 928L612.8 927.1L613 926.1L613.1 925.1L613.3 924.2L613.4 923.2L613.5 922.1L613.7 921.1L613.8 920.1L614 919.1L614.1 918L614.2 916.9L614.4 915.9L614.5 914.8L614.7 913.7L614.8 912.5L614.9 911.4L615.1 910.3L615.2 909.1L615.4 908L615.5 906.8L615.7 905.6L615.8 904.4L615.9 903.2L616.1 902L616.2 900.7L616.4 899.5L616.5 898.2L616.6 896.9L616.8 895.6L616.9 894.3L617.1 892.9L617.2 891.5L617.3 890.1L617.5 888.7L617.6 887.2L617.8 885.7L617.9 884.2L618.1 882.7L618.2 881.1L618.3 879.5L618.5 877.9L618.6 876.3L618.8 874.6L618.9 872.9L619 871.2L619.2 869.5L619.3 867.7L619.5 865.9L619.6 864L619.7 862.2L619.9 860.3L620 858.4L620.2 856.4L620.3 854.4L620.5 852.4L620.6 850.4L620.7 848.3L620.9 846.2L621 844L621.2 841.9L621.3 839.7L621.4 837.4L621.6 835.1L621.7 832.7L621.9 830.2L622 827.5L622.1 824.8L622.3 821.9L622.4 818.9L622.6 815.8L622.7 812.5L622.9 809.2L623 805.8L623.1 802.3L623.3 798.7L623.4 795L623.6 791.3L623.7 787.5L623.8 783.6L624 779.7L624.1 775.7L624.3 771.7L624.4 767.6L624.5 763.6L624.7 759.6L624.8 755.5L625 751.5L625.1 747.5L625.3 743.5L625.4 739.6L625.5 735.8L625.7 732.1L625.8 728.4L626 724.9L626.1 721.5L626.2 718.2L626.4 715.2L626.5 712.3L626.7 709.5L626.8 707.1L626.9 704.8L627.1 702.8L627.2 701L627.4 699.5L627.5 698.2L627.7 696.9L627.8 695.6L627.9 694.3L628.1 693L628.2 691.8L628.4 690.5L628.5 689.3L628.6 688.1L628.8 686.9L628.9 685.7L629.1 684.6L629.2 683.5L629.3 682.4L629.5 681.3L629.6 680.2L629.8 679.2L629.9 678.2L630.1 677.2L630.2 676.3L630.3 675.3L630.5 674.4L630.6 673.6L630.8 672.8L630.9 672L631 671.3L631.2 670.5L631.3 669.9L631.5 669.2L631.6 668.7L631.7 668.1L631.9 667.6L632 667.2L632.2 666.7L632.3 666.4L632.5 666.1L632.6 665.8L632.7 665.6L632.9 665.4L633 665.3L633.2 665.2L633.3 665.2L633.4 665.3L633.6 665.4L633.7 665.5L633.9 665.7L634 666L634.1 666.3L634.3 666.6L634.4 667L634.6 667.5L634.7 667.9L634.8 668.5L635 669L635.1 669.7L635.3 670.3L635.4 671L635.6 671.7L635.7 672.5L635.8 673.3L636 674.2L636.1 675L636.3 675.9L636.4 676.9L636.5 677.8L636.7 678.8L636.8 679.9L637 680.9L637.1 682L637.2 683.1L637.4 684.2L637.5 685.4L637.7 686.5L637.8 687.7L638 688.9L638.1 690.1L638.2 691.4L638.4 692.6L638.5 693.9L638.7 695.2L638.8 696.5L638.9 697.8L639.1 699.1L639.2 700.5L639.4 702.2L639.5 704.1L639.6 706.3L639.8 708.7L639.9 711.3L640.1 714.2L640.2 717.2L640.4 720.4L640.5 723.7L640.6 727.2L640.8 730.8L640.9 734.5L641.1 738.3L641.2 742.2L641.3 746.2L641.5 750.1L641.6 754.2L641.8 758.2L641.9 762.3L642 766.3L642.2 770.3L642.3 774.4L642.5 778.3L642.6 782.3L642.8 786.2L642.9 790L643 793.8L643.2 797.5L643.3 801.1L643.5 804.6L643.6 808.1L643.7 811.4L643.9 814.7L644 817.8L644.2 820.9L644.3 823.8L644.4 826.6L644.6 829.3L644.7 831.9L644.9 834.4L645 836.7L645.2 838.9L645.3 841.1L645.4 843.3L645.6 845.5L645.7 847.6L645.9 849.7L646 851.7L646.1 853.8L646.3 855.8L646.4 857.7L646.6 859.6L646.7 861.6L646.8 863.4L647 865.3L647.1 867.1L647.3 868.9L647.4 870.6L647.6 872.4L647.7 874.1L647.8 875.7L648 877.4L648.1 879L648.3 880.6L648.4 882.2L648.5 883.7L648.7 885.2L648.8 886.7L649 888.2L649.1 889.6L649.2 891.1L649.4 892.5L649.5 893.8L649.7 895.2L649.8 896.5L650 897.8L650.1 899.1L650.2 900.3L650.4 901.6L650.5 902.8L650.7 904L650.8 905.2L650.9 906.4L651.1 907.6L651.2 908.7L651.4 909.9L651.5 911L651.6 912.2L651.8 913.3L651.9 914.4L652.1 915.5L652.2 916.6L652.4 917.6L652.5 918.7L652.6 919.8L652.8 920.8L652.9 921.8L653.1 922.8L653.2 923.8L653.3 924.8L653.5 925.8L653.6 926.7L653.8 927.7L653.9 928.6L654 929.6L654.2 930.5L654.3 931.4L654.5 932.3L654.6 933.2L654.8 934L654.9 934.9L655 935.8L655.2 936.6L655.3 937.4L655.5 938.2L655.6 939L655.7 939.8L655.9 940.6L656 941.4L656.2 942.1L656.3 942.9L656.4 943.6L656.6 944.4L656.7 945.1L656.9 945.8L657 946.5L657.2 947.2L657.3 947.8L657.4 948.5L657.6 949.2L657.7 949.8L657.9 950.4L658 951.1L658.1 951.7L658.3 952.3L658.4 952.9L658.6 953.5L658.7 954.1L658.8 954.6L659 955.2L659.1 955.7L659.3 956.3L659.4 956.8L659.6 957.3L659.7 957.8L659.8 958.3L660 958.8L660.1 959.3L660.3 959.8L660.4 960.2L660.5 960.7L660.7 961.2L660.8 961.6L661 962L661.1 962.4L661.2 962.9L661.4 963.3L661.5 963.7L661.7 964.1L661.8 964.5L662 964.9L662.1 965.2L662.2 965.6L662.4 966L662.5 966.4L662.7 966.8L662.8 967.2L662.9 967.5L663.1 967.9L663.2 968.3L663.4 968.7L663.5 969L663.6 969.4L663.8 969.8L663.9 970.1L664.1 970.5L664.2 970.8L664.4 971.2L664.5 971.5L664.6 971.9L664.8 972.2L664.9 972.6L665.1 972.9L665.2 973.3L665.3 973.6L665.5 973.9L665.6 974.3L665.8 974.6L665.9 974.9L666 975.2L666.2 975.6L666.3 975.9L666.5 976.2L666.6 976.5L666.8 976.8L666.9 977.1L667 977.5L667.2 977.8L667.3 978.1L667.5 978.4L667.6 978.7L667.7 979L667.9 979.3L668 979.6L668.2 979.9L668.3 980.1L668.4 980.4L668.6 980.7L668.7 981L668.9 981.3L669 981.6L669.2 981.8L669.3 982.1L669.4 982.4L669.6 982.7L669.7 982.9L669.9 983.2L670 983.5L670.1 983.7L670.3 984L670.4 984.3L670.6 984.5L670.7 984.8L670.8 985L671 985.3L671.1 985.5L671.3 985.8L671.4 986L671.6 986.3L671.7 986.5L671.8 986.8L672 987L672.1 987.2L672.3 987.5L672.4 987.7L672.5 987.9L672.7 988.2L672.8 988.4L673 988.6L673.1 988.8L673.2 989.1L673.4 989.3L673.5 989.5L673.7 989.7L673.8 989.9L674 990.2L674.1 990.4L674.2 990.6L674.4 990.8L674.5 991L674.7 991.2L674.8 991.4L674.9 991.6L675.1 991.8L675.2 992L675.4 992.2L675.5 992.4L675.6 992.6L675.8 992.8L675.9 993L676.1 993.2L676.2 993.4L676.3 993.6L676.5 993.7L676.6 993.9L676.8 994.1L676.9 994.3L677.1 994.5L677.2 994.6L677.3 994.8L677.5 995L677.6 995.2L677.8 995.3L677.9 995.5L678 995.7L678.2 995.9L678.3 996L678.5 996.2L678.6 996.3L678.7 996.5L678.9 996.7L679 996.8L679.2 997L679.3 997.1L679.5 997.3L679.6 997.5L679.7 997.6L679.9 997.8L680 997.9L680.2 998.1L680.3 998.2L680.4 998.3L680.6 998.5L680.7 998.6L680.9 998.8L681 998.9L681.1 999.1L681.3 999.2L681.4 999.3L681.6 999.5L681.7 999.6L681.9 999.7L682 999.9L682.1 1000L682.3 1000.1L682.4 1000.3L682.6 1000.4L682.7 1000.5L682.8 1000.6L683 1000.8L683.1 1000.9L683.3 1001L683.4 1001.1L683.5 1001.2L683.7 1001.4L683.8 1001.5L684 1001.6L684.1 1001.7L684.3 1001.8L684.4 1001.9L684.5 1002L684.7 1002.2L684.8 1002.3L685 1002.4L685.1 1002.5L685.2 1002.6L685.4 1002.7L685.5 1002.8L685.7 1002.9L685.8 1003L685.9 1003.1L686.1 1003.2L686.2 1003.3L686.4 1003.4L686.5 1003.5L686.7 1003.6L686.8 1003.7L686.9 1003.8L687.1 1003.9L687.2 1003.9L687.4 1004L687.5 1004.1L687.6 1004.2L687.8 1004.3L687.9 1004.4L688.1 1004.5L688.2 1004.6L688.3 1004.6L688.5 1004.7L688.6 1004.8L688.8 1004.9L688.9 1005L689.1 1005L689.2 1005.1L689.3 1005.2L689.5 1005.3L689.6 1005.3L689.8 1005.4L689.9 1005.5L690 1005.5L690.2 1005.6L690.3 1005.7L690.5 1005.8L690.6 1005.8L690.7 1005.9L690.9 1006L691 1006L691.2 1006.1L691.3 1006.1L691.5 1006.2L691.6 1006.3L691.7 1006.3L691.9 1006.4L692 1006.4L692.2 1006.5L692.3 1006.6L692.4 1006.6L692.6 1006.7L692.7 1006.7L692.9 1006.8L693 1006.8L693.1 1006.9L693.3 1006.9L693.4 1007L693.6 1007L693.7 1007.1L693.9 1007.1L694 1007.2L694.1 1007.2L694.3 1007.3L694.4 1007.3L694.6 1007.3L694.7 1007.4L694.8 1007.4L695 1007.5L695.1 1007.5L695.3 1007.5L695.4 1007.6L695.5 1007.6L695.7 1007.6L695.8 1007.7L696 1007.7L696.1 1007.7L696.3 1007.8L696.4 1007.8L696.5 1007.8L696.7 1007.9L696.8 1007.9L697 1007.9L697.1 1007.9" stroke="#c80000" stroke-width="1.5" fill="none" stroke-linejoin="round"/>
<path d="M735.4 1012.7h0M844 1006.3h0M796.5 813.7h0M740.5 1007.2h0M728.6 1005.1h0M827 987.6h0M737.1 1005.7h0M776.6 961.7h0M750.3 1002.8h0M778.5 923.6h0M781.6 885.9h0M726.3 1014h0M798.4 788.7h0M747.2 1006.7h0M730.1 1011.7h0M767.8 986.6h0M789.5 740.7h0M746.2 1010.3h0M771.4 974.9h0M796.3 728.4h0M794.8 737h0M792.7 692.2h0M797.1 749.7h0M843.7 1003.1h0M759.3 986.4h0M839.4 1008.3h0M797.3 867.2h0M847.8 1006.5h0M751.6 1004h0M740.9 1006.7h0M817.4 980.9h0M823.5 998.2h0M781.9 873.6h0M829 994.7h0M795.2 712.5h0M758.7 984.1h0M763.7 985.9h0M843.3 1015.2h0M743.2 1007.3h0M765.3 973.1h0M830.4 996.5h0M775.9 930h0M805 889.8h0M831.4 1009.4h0M823.1 1001.9h0M803.9 931.6h0M763.2 990.4h0M829.8 997.2h0M768.6 979h0M776.3 953.7h0M800 747.8h0M769.8 971.7h0M766 980.4h0M838.9 1008.1h0M731 1012h0M815.7 971.7h0M735.9 1016.3h0M832.9 998.4h0M819.2 977.7h0M810.2 962.4h0M762.4 989.7h0M760.8 980.7h0M854.9 1009.9h0M851.2 1006.2h0M829.6 993.2h0M812.7 979.6h0M741.4 1009.3h0M731.3 1012h0M737.1 1012.7h0M782.8 832h0M820.3 983.6h0M823.6 998h0M820.6 993.4h0M744.5 1012.1h0M752.8 1003.2h0M836.2 1007.4h0M845 1009.5h0M834.2 1001.5h0M793.6 693.1h0M819.3 974.2h0M847.9 1007h0M794.5 703.3h0M815.5 973.9h0M773.5 970.3h0M790.4 699.5h0M787.2 733.6h0M743.5 1003.3h0M766.6 988.6h0M728.9 1014h0M793.5 676h0M789.7 710.8h0M804.6 933.9h0M730.8 1014.4h0M814.6 968.1h0M841.9 1007.3h0M750.5 1001.4h0M843.4 1009.6h0M745.2 997.9h0M801.1 917.4h0M788.4 685.7h0M731.1 1008.4h0M782.6 875.5h0M814.2 974h0M768.1 981.4h0M833.4 1002.7h0M730.7 1012.8h0M826.7 999.5h0M751.7 1005h0M828.6 1006.4h0M813.8 971.1h0M773.5 976.2h0M751.4 1000.3h0M818.6 976.7h0M837.6 1006.2h0M817 982.5h0M813.8 976.4h0M805.6 946.6h0M846.8 1003.7h0M798 755.2h0M740.9 1006.2h0M745.7 1005.5h0M845.5 1003.3h0M832.9 1001.3h0M843.5 1005h0M752.4 1003h0M803.2 900.4h0M856.5 1006.2h0M743.2 1004.6h0M807.4 962.2h0M742.2 1008.7h0M732 1006.4h0M777.2 922.6h0M835.1 999.5h0M759.8 981.7h0M769.9 963.8h0M796.1 727.3h0M842.3 1014.6h0M824.3 1000.1h0M828.3 1005.8h0M785.8 745.2h0M825.1 982.8h0M815.1 968.3h0M849.6 1006h0M846.6 1010.9h0M791.9 688.7h0M757.7 1004.1h0M840.7 1008.5h0M806.1 932.5h0M842.9 1006.9h0M764 992.5h0M751.5 1007.5h0M739.9 1005h0M793.7 658.1h0M808.1 953.8h0M851.9 1008.8h0M736.6 1009.6h0M790.9 711.3h0M818.3 995.9h0M826.7 998.5h0M737.8 1013.2h0M820.8 985.9h0M771.9 971.4h0M751.3 1005.5h0M728.5 1004.7h0M772.8 971.6h0M742.5 1005.6h0M788.2 779.5h0M740.9 1008.3h0M810.2 952.5h0M764.7 994.3h0M772.3 959.8h0M760.3 988.3h0M770.1 965.6h0M731 1012.6h0M790 717.6h0M840.8 1009.6h0M779.4 895.5h0M823.3 993.8h0M828.9 992.5h0M839.3 1004.2h0M761.3 991.4h0M846.9 1014.9h0M766.5 992.5h0M771.3 953.5h0M828.5 992.9h0M847.2 1016.5h0M741.7 1004.5h0M841.6 1007.7h0M838.1 999.9h0M831.1 1009.4h0M849 1011.1h0M803.6 945.6h0M815.5 991h0M765.6 977.2h0M855 1011.9h0M780.2 905.8h0M820.8 986.7h0M841.4 1012.5h0M759.4 992h0M798.9 747.7h0M815 961.4h0M786.5 717.8h0M821.3 978h0M813.7 963.8h0M827 993.1h0M786.9 689.7h0M830.3 999.9h0M744.5 1006.6h0M790 724.6h0M820 978.8h0M776.7 940.2h0M818.7 995.2h0M787.3 748.3h0M763.7 992.1h0M807.3 958.7h0M776.7 956.9h0M740.2 1011.4h0M808.3 973.9h0M852.7 1015h0M848.1 1005.1h0M771.6 968.8h0M843.6 1006.1h0M737.8 1007.2h0M755.3 999.4h0M824.3 990.5h0M783.1 878.6h0M778.2 914.3h0M816.4 978.2h0M834.4 1003.9h0M804 936.9h0M801.2 851.4h0M809.5 949h0M791.4 671.2h0M827 998.4h0M771.4 974.6h0M779.4 928.5h0M725.8 1012.3h0M789.7 663.5h0M789.6 694.3h0M841.6 1000.4h0M809.4 956.1h0M781.2 890.3h0M852.4 1008.9h0M787.5 687.6h0M737.4 1007.3h0M745.9 1007.3h0M728.1 1013.4h0M799.4 888.7h0M768.4 985.2h0M850.2 1001.9h0M728.2 1015.9h0M796.8 822h0M806.9 964.6h0M786.6 732.1h0M779.9 936.2h0M837.6 1002.5h0M797.9 801.6h0M818.4 986.8h0M770.7 955.7h0M846.9 1011.4h0M784.4 805.2h0M749 1000.1h0M821.5 999h0M761.3 992.5h0M781.3 876.8h0M824.9 983.1h0M780.5 922.5h0M795 708.2h0M795.1 675.1h0M849.1 1016.4h0M838.4 1012.8h0M756 995.5h0M810.8 976.5h0M742.7 1005.8h0M745 1012.1h0M767.2 977.6h0M827.6 997.5h0M838.6 1005.7h0M790.9 670.9h0M749.4 1006.5h0M849.6 1015.9h0M821.3 990.5h0M784.9 808.1h0M834 1001.8h0M801.1 892.4h0M779 950.6h0M816.6 987.5h0M805.4 956.5h0M739.6 1009h0M829.6 995.5h0M799.3 797.2h0M808.6 957h0M845.4 1009.5h0M766 983.2h0M814.8 982.4h0M732.7 1006.1h0M841 999.1h0M795.1 695.4h0M781.3 892.5h0M773.2 957.2h0M804.2 906h0M816.9 986.5h0M741.8 1007.3h0M787.6 820.3h0M796.7 811h0M730.2 1007.1h0M731.4 1005.6h0M852.9 1009.4h0M741.6 1013.5h0M827.6 1002.8h0M792.3 679.4h0M796.9 804.7h0M802.2 856h0M833 1007.8h0M749 1000.2h0M830.5 1004.8h0M794 687.1h0M811.3 962.8h0M739.2 1008.3h0M741.3 1002h0M815.1 968.5h0M838.7 1006.6h0M738.1 1003.5h0M807.4 932.9h0M737.1 1008.5h0M827.6 995.3h0M832.3 1000.8h0M844.6 1015.1h0M777.6 952.3h0M787.5 696.8h0M845.8 1001.3h0M850.4 1003.2h0M794.2 728.8h0M848.3 1016.6h0M751 1000h0M798.1 808.5h0M808.9 966.4h0M727.7 1017h0M829.4 998.6h0M747.6 1004h0M808.4 963.9h0M844.5 1004.9h0M789.7 760.4h0M761.7 980.1h0M773.8 952.8h0M830.4 1005.2h0M740.9 1001.6h0M834.4 1002.8h0M826.2 1000.3h0M845.8 1004.9h0M823.7 990.4h0M844.7 1003.8h0M801.6 900.5h0M782.9 910.4h0M738.9 1009.9h0M794.2 705.2h0M805.9 945.7h0M761.8 986.4h0M844.3 1001.9h0M742.7 1005.2h0M754.6 996.1h0M795.3 672.9h0M825.3 989.9h0M796.7 724h0M798.9 845.8h0M751.8 999.2h0M796.2 696.7h0M725.9 1008.7h0M772.5 972.4h0M774.6 940.6h0M786.2 747.3h0M818.5 991.2h0M757.7 999.4h0M727.9 1008.3h0M854.6 1009.6h0M849.4 1011.4h0M774.2 962.7h0M784.6 875.9h0M828.5 1005.6h0M749.6 1003.3h0M767.2 971.1h0M759 987.4h0M749.7 1008h0M840.4 1000.2h0M850.3 1007.4h0M769.1 977.4h0M763.8 994.8h0M816 993.3h0M847.8 1010.7h0M744.7 1013.1h0M786.7 752.9h0M744.5 999.8h0M810.6 974.1h0M759.6 986.1h0M831.9 997.4h0M766.6 973.6h0M792.3 718.4h0M821 988.6h0M770.5 970.6h0M750.5 998.3h0M767.7 982.8h0M791.6 661.7h0M840.7 1007.8h0M776.8 947h0M754.6 993.3h0M737.9 1009.3h0M799.2 836.1h0M833 1011.1h0M836.7 1008.2h0M828 987.2h0M750.3 1004.6h0M851.3 1010.9h0M830.4 1000.1h0M741.1 1010.6h0M845.3 1008.1h0M794.7 741.9h0M733.1 1002.4h0M801.4 877.3h0M811.9 971.9h0M838.7 997.6h0M741.6 1010.7h0M793.2 661.6h0M771.2 964.7h0M832.7 1007.9h0M768.7 974.7h0M782.1 891.8h0M784.2 864.7h0M779.3 927.8h0M733.8 1010.9h0M834 1000.8h0M815.1 985.5h0M845.5 1010.1h0M841.1 1006.4h0M823.3 991.6h0M810.1 971h0M730.3 1015.7h0M789.2 739.3h0M751.8 1000.8h0M833.1 998.7h0M752.8 990.9h0M839.6 1004.1h0M735.4 1002.6h0M753.9 998.2h0M802.4 885.1h0M818.6 983.7h0M796.8 724.9h0M761 989.7h0M838.2 1006.6h0M822.4 983.6h0M741.4 1004.9h0M803.9 920.1h0M746.9 1003.4h0M809.9 949.6h0M844.8 1003.1h0M740.9 1009.8h0M844.3 1006.5h0M840 1006.3h0M738.3 1008.2h0M758.5 987.5h0M800.7 879.6h0M807.2 916.8h0M851.9 1007.8h0M784.5 889.3h0M743.3 1008.3h0M813.2 957.7h0M848.4 1015h0M763 985.9h0M801.4 884.9h0M735.8 1004.9h0M819 1001h0M788.2 796.3h0M834.6 993.8h0M741.4 1014.9h0M777.2 928.5h0M731.4 1003.6h0M776.9 956.6h0M830.4 1005.2h0M813.9 975.7h0M790.3 686h0M801.9 882h0M821.8 988.3h0M844.7 1005.9h0M767.5 975.6h0M774.5 958.8h0M833 1001.7h0M755.2 997.8h0M784.5 756.1h0M782.6 862.5h0M755.1 990.5h0M755.4 1000.2h0M730.3 1009.2h0M811 975h0M760.6 996.2h0M753.7 999.5h0M845.4 1002.7h0M738.1 1003.3h0M742.8 1011.2h0M775.3 967.5h0M819 976.2h0M810.3 957.9h0M782.4 862.2h0M796 681.5h0M764.5 982.7h0M737.2 1005.7h0M792.9 678h0M830.3 1002.4h0M779.9 934.8h0M830.9 1000.3h0M760 983.3h0M796.7 785h0M765.6 985.6h0M841.8 1004.4h0M841.6 1001.6h0M846 1006.8h0M789.7 735.2h0M734.3 1006.6h0M803.4 907h0M833.7 1001.4h0M778.8 895.9h0M850.2 1006.6h0M787.7 739.2h0M785.4 753.9h0M796.6 807.7h0M788.7 753.5h0M810.4 964.5h0M812 965h0M833.1 997.5h0M784.2 861h0M737.4 1016.9h0M806.1 944.1h0M785.8 786.3h0M761.1 1002.1h0M754.5 999h0M788.1 727h0M845.7 1015.2h0M841.6 1008.3h0M844.6 1003.1h0M789.7 697.3h0M801.3 926.7h0M726.8 1010.6h0M779.4 892h0M791 732.5h0M835.6 1001.5h0M803.5 917.7h0M813.8 967.6h0M850.2 1003.3h0M749.6 1011.5h0M762.5 979.9h0M825.8 987.6h0M808.3 946.6h0M805.8 929h0M854.2 1014.3h0M806 961.4h0M825.6 997.7h0M770.1 976.6h0M800.1 850.3h0M825.6 1003.3h0M806.8 955.6h0M813.8 973.4h0M843.9 1008.5h0M818.6 990.4h0M791.3 660.6h0M830.8 994.1h0M848.9 1015.2h0M805.6 951.2h0M796.7 813.1h0M777.3 923.3h0M785 882.6h0M761.4 982.8h0M792 696.4h0M780 888.4h0M730.4 1012.9h0M782.1 859.8h0M746.8 1001.5h0M772.5 966.6h0M764.8 981.7h0M852.1 1010.6h0M754.2 1004.7h0M841.8 1010h0M828.7 986h0M784.1 854.2h0M816.4 980.7h0M833.5 998.8h0M744.7 1006.7h0M843.6 1008.1h0M807.8 943.9h0M736.7 1008.3h0M768.2 973.5h0M785 808.1h0M833.8 999.3h0M757 988.5h0M805.4 908.5h0M767.4 991.8h0M779 943.5h0M770.5 957.1h0M780.7 920h0M763.4 986.5h0M750.8 993h0M757.1 989.7h0M847.9 1001.6h0M801.2 896.7h0M798.3 830.5h0M801.7 929h0M776.2 939.1h0M732.3 1006h0M763.6 981.1h0M849.3 1013h0M743.7 1009.5h0M798.7 824.3h0M779.1 942.6h0M826.6 991.4h0M789.2 666.2h0M738.9 1005.9h0M799.3 790.2h0M794.9 753.4h0M841.1 1002.1h0M852.6 1001.1h0M737.1 1008.4h0M787.3 722.6h0M849.8 1007.3h0M726.8 1011.6h0M801 895h0M757.5 989.9h0M798.5 874.3h0M728.9 1006.9h0M796.2 767.7h0M784.9 876.1h0M793.9 741.6h0M748.3 994.7h0M747.8 997.4h0M804.2 905.3h0M815.8 979.8h0M781.4 901.8h0M833.7 1003.4h0M779.1 878.9h0M827 997.5h0M840.4 1014.4h0M767.2 982h0M787.3 704.8h0M826.7 999.5h0M740.2 1006.7h0M744.8 1005.4h0M823.3 991.7h0M827.6 1002h0M743.3 1002.3h0M770.7 973.7h0M730 1009.2h0M790.9 666.5h0M780 889.5h0M729.3 1007.6h0M755.1 999.9h0M812 966h0M835.2 1011.3h0M848.7 1005.6h0M849.3 1013.6h0M817.3 982.7h0M840.3 1009.9h0M812.4 965.9h0M783.4 841.1h0M737.8 1008.2h0M836.6 1000.2h0M750.6 997.7h0M791.9 706.8h0M794.1 662.3h0M842.8 999.2h0M828.6 994.4h0M832.4 995.2h0M844.4 1003.4h0M755.8 1004.4h0M808.2 942.1h0M842.6 1013.9h0M823 988.8h0M754.8 993.3h0M778.4 942.7h0M836.6 997.6h0M832.4 1006.3h0M772.4 953.3h0M757.8 993.4h0M821.7 994.4h0M781.3 852.7h0M818.3 987.6h0M767.4 981.8h0M777.2 948.9h0M839.9 995.9h0M738.7 1012.4h0M756.3 991.7h0M819.6 986.1h0M839.3 1011.5h0M813.6 980.1h0M728 1012.7h0M806.7 952.5h0M802.6 916.2h0M818.4 987.9h0M827.4 990h0M744.3 999.8h0M844.9 1015.8h0M825.6 998.4h0M778.7 944h0M806.7 945.6h0M838.2 1001.9h0M756 997.8h0M855.8 1013.3h0M808.5 938.6h0M766.5 982.7h0M830.4 996.3h0M772.6 954.2h0M819.5 987.3h0M765.4 982.4h0M739.1 1005.2h0M760.4 998.1h0M829.1 996.1h0M792.2 702.4h0M805.8 932h0M751.3 998h0M799.7 774.2h0M831.1 993.7h0M792.2 668.6h0M777.9 936.5h0M852.2 1011h0M734.5 1008.9h0M775 942.2h0M826 995.5h0M780.8 913.3h0M819.8 986.4h0M763.6 990.8h0M824.3 995.1h0M762.7 987.9h0M783.1 862.7h0M757.1 995.5h0M763 987.6h0M753.8 996.8h0M764.4 992.3h0M843.5 1011.6h0M751.9 1006.4h0M841.6 1007.4h0M797.7 794.6h0M785.6 817.6h0M800.6 871h0M732.7 1010.5h0M795.8 703.1h0M851.5 1016.4h0M828.2 993.8h0M848.8 1004.9h0M827.1 990.3h0M756.2 993.6h0M811.5 969.2h0M737.1 1000.9h0M838 1007.2h0M776.1 928.6h0M753.6 997.1h0M734.5 1004.4h0M730.4 1012.4h0M821.9 994.3h0M824.2 1000.9h0M788.1 682.5h0M729.8 1003.6h0M746.4 1007.9h0M729.3 1004.6h0M738.3 1003.9h0M809.1 962.3h0M851.3 1010.2h0M789.5 741.9h0M738.1 1006.1h0M746.3 1002.2h0M764.9 992h0M785.6 865.1h0M793.9 716.6h0M782.3 912.1h0M790.4 704.2h0M828.5 998.1h0M750.7 1003.3h0M842.8 1003.5h0M797.9 850.9h0M838 1010.9h0M776.5 970h0M804.5 938.5h0M850.6 1009.4h0M848.5 1015h0M762.6 998.7h0M828.6 995h0M780.9 897.2h0M741.4 1004.5h0M789.4 671.3h0M749.7 1011.8h0M744.9 1009.8h0M786 687.6h0M772.2 975.8h0M754.9 998.7h0M820.2 976.9h0M786.2 749.8h0M811.5 979.7h0M811.3 978.8h0M760.6 990.8h0M778.3 929.2h0M852.7 1012.3h0M802.7 912.8h0M781.9 843.4h0M780.7 867.2h0M831.8 1006.1h0M822.6 989h0M767.1 991.5h0M828.6 997.5h0M842.7 1006.6h0M789.4 664.2h0M746.9 999.4h0M845.3 1008.8h0M813.2 970.4h0M835.7 996.5h0M785.7 762.6h0M826.4 996h0M749.5 1003.9h0M803.4 917.8h0M824.9 1003.9h0M762.4 1001.6h0M839.8 1014.2h0M739.8 1005.9h0M779.3 908.3h0M733.5 1011.2h0M842.6 1002.8h0M734.2 1009.5h0M763.2 981h0M785.1 835h0M829.2 999.6h0M822.7 992.3h0M817 979.8h0M776 950.2h0M785.9 780.4h0M822.4 987.5h0M785.9 741.6h0M795.3 691h0M741.7 997.4h0M823.7 994.7h0M767.6 992.3h0M821.5 980.2h0M842.6 1007.2h0M728.3 1010.8h0M817 980h0M796.8 802.5h0M812.2 983.9h0M831 988.8h0M775.4 928h0M753.2 1007.5h0M813.6 972.4h0M847.7 1011.7h0M775.9 932.2h0M761.8 990.3h0M856 1008.8h0M849.5 1008.1h0M807.5 936.8h0M843.7 1001.5h0M822 993.3h0M816.4 993.1h0M821 983.1h0M802.6 904.4h0M824.4 987.6h0M794 705.8h0M819.4 989h0M786.2 762.2h0M815.8 982.9h0M755.8 996.6h0M850.3 1004.9h0M793.5 711.2h0M738.9 1010.6h0M830.4 990.1h0M756 998.9h0M814.7 970.1h0M782.3 904.1h0M758.3 999.2h0M738.9 1004.4h0M804 937.1h0M797.2 745.5h0M793.1 658.4h0M783.2 858h0M778.1 942.8h0M854.3 1010.4h0M854.1 1001.8h0M837.5 1001.6h0M780.1 928.9h0M789.7 681.5h0M731.2 1007.3h0M751.6 1002.8h0M837.9 1007.8h0M760.5 999h0M835.6 1009.1h0M784.2 865h0M851.1 1010.3h0M809.6 962.3h0M799.1 767.5h0M738.6 1014.5h0M773.1 938.1h0M757.9 994.9h0M798.1 892.9h0M743.2 997.7h0M801.2 876.8h0M761.2 987.7h0M738.5 1015.2h0M731 1011.3h0M789.3 689h0M769 975.2h0M809.4 969.8h0M772.1 948.4h0M821.8 989.9h0M844.5 1008.5h0M842 1008.6h0M782.3 905.5h0M766.4 988.5h0M850.8 1009.9h0M846.3 1006.6h0M746.2 1005.8h0M783.1 915.2h0M786.8 756h0M828 1006.6h0M746.5 1013.2h0M748.2 1001h0M840.1 1006h0M852.4 1014.1h0M825.4 992.3h0M762.7 984.1h0M841.9 1001.7h0M733.4 1010.1h0M759.8 985.4h0M839.8 1003.9h0M768.5 979.8h0M848.7 1008.9h0M739.1 1013.9h0M781.6 862.7h0M816.5 974.6h0M852.1 1012.8h0M792.5 658.4h0M827.9 1005.3h0M734.9 1003.1h0M768.7 972h0M733.7 1010.7h0M815.4 986.7h0M748.1 1000.2h0M732.1 1004.8h0M837.2 1006.2h0M759.5 991.8h0M835.9 995.7h0M799.6 862.8h0M792.9 658.2h0M830.3 1004h0M799.9 841.4h0M838.5 1000.4h0M851.6 1009.8h0M835.2 999.4h0M839.6 995.4h0M778 945.5h0M755.6 985.5h0M780.1 908.7h0" stroke="#3d3d3d" stroke-width="3.4" stroke-linecap="round" fill="none" opacity="1.0"/>
<path d="M727.2 1011.3L727.3 1011.3L727.5 1011.3L727.6 1011.3L727.8 1011.3L727.9 1011.3L728 1011.3L728.2 1011.3L728.3 1011.3L728.5 1011.3L728.6 1011.2L728.8 1011.2L728.9 1011.2L729 1011.2L729.2 1011.2L729.3 1011.2L729.5 1011.2L729.6 1011.2L729.7 1011.2L729.9 1011.2L730 1011.1L730.2 1011.1L730.3 1011.1L730.4 1011.1L730.6 1011.1L730.7 1011.1L730.9 1011.1L731 1011L731.1 1011L731.3 1011L731.4 1011L731.6 1011L731.7 1011L731.9 1010.9L732 1010.9L732.1 1010.9L732.3 1010.9L732.4 1010.9L732.6 1010.8L732.7 1010.8L732.8 1010.8L733 1010.8L733.1 1010.7L733.3 1010.7L733.4 1010.7L733.5 1010.7L733.7 1010.6L733.8 1010.6L734 1010.6L734.1 1010.6L734.2 1010.5L734.4 1010.5L734.5 1010.5L734.7 1010.4L734.8 1010.4L735 1010.4L735.1 1010.3L735.2 1010.3L735.4 1010.3L735.5 1010.2L735.7 1010.2L735.8 1010.2L735.9 1010.1L736.1 1010.1L736.2 1010.1L736.4 1010L736.5 1010L736.6 1010L736.8 1009.9L736.9 1009.9L737.1 1009.8L737.2 1009.8L737.3 1009.8L737.5 1009.7L737.6 1009.7L737.8 1009.6L737.9 1009.6L738.1 1009.5L738.2 1009.5L738.3 1009.5L738.5 1009.4L738.6 1009.4L738.8 1009.3L738.9 1009.3L739 1009.2L739.2 1009.2L739.3 1009.1L739.5 1009.1L739.6 1009L739.7 1009L739.9 1008.9L740 1008.9L740.2 1008.8L740.3 1008.8L740.4 1008.7L740.6 1008.6L740.7 1008.6L740.9 1008.5L741 1008.5L741.2 1008.4L741.3 1008.4L741.4 1008.3L741.6 1008.2L741.7 1008.2L741.9 1008.1L742 1008.1L742.1 1008L742.3 1007.9L742.4 1007.9L742.6 1007.8L742.7 1007.7L742.8 1007.7L743 1007.6L743.1 1007.5L743.3 1007.5L743.4 1007.4L743.5 1007.3L743.7 1007.3L743.8 1007.2L744 1007.1L744.1 1007L744.3 1007L744.4 1006.9L744.5 1006.8L744.7 1006.7L744.8 1006.7L745 1006.6L745.1 1006.5L745.2 1006.4L745.4 1006.4L745.5 1006.3L745.7 1006.2L745.8 1006.1L745.9 1006L746.1 1005.9L746.2 1005.9L746.4 1005.8L746.5 1005.7L746.6 1005.6L746.8 1005.5L746.9 1005.4L747.1 1005.3L747.2 1005.3L747.4 1005.2L747.5 1005.1L747.6 1005L747.8 1004.9L747.9 1004.8L748.1 1004.7L748.2 1004.6L748.3 1004.5L748.5 1004.4L748.6 1004.3L748.8 1004.2L748.9 1004.1L749 1004L749.2 1003.9L749.3 1003.8L749.5 1003.7L749.6 1003.6L749.7 1003.5L749.9 1003.4L750 1003.3L750.2 1003.2L750.3 1003.1L750.5 1003L750.6 1002.8L750.7 1002.7L750.9 1002.6L751 1002.5L751.2 1002.4L751.3 1002.3L751.4 1002.2L751.6 1002L751.7 1001.9L751.9 1001.8L752 1001.7L752.1 1001.6L752.3 1001.4L752.4 1001.3L752.6 1001.2L752.7 1001.1L752.9 1000.9L753 1000.8L753.1 1000.7L753.3 1000.5L753.4 1000.4L753.6 1000.3L753.7 1000.1L753.8 1000L754 999.9L754.1 999.7L754.3 999.6L754.4 999.5L754.5 999.3L754.7 999.2L754.8 999L755 998.9L755.1 998.7L755.2 998.6L755.4 998.5L755.5 998.3L755.7 998.2L755.8 998L756 997.8L756.1 997.7L756.2 997.5L756.4 997.4L756.5 997.2L756.7 997.1L756.8 996.9L756.9 996.7L757.1 996.6L757.2 996.4L757.4 996.3L757.5 996.1L757.6 995.9L757.8 995.7L757.9 995.6L758.1 995.4L758.2 995.2L758.3 995.1L758.5 994.9L758.6 994.7L758.8 994.5L758.9 994.3L759.1 994.2L759.2 994L759.3 993.8L759.5 993.6L759.6 993.4L759.8 993.2L759.9 993L760 992.8L760.2 992.6L760.3 992.4L760.5 992.2L760.6 992L760.7 991.8L760.9 991.6L761 991.4L761.2 991.2L761.3 991L761.4 990.8L761.6 990.6L761.7 990.4L761.9 990.2L762 990L762.2 989.7L762.3 989.5L762.4 989.3L762.6 989.1L762.7 988.9L762.9 988.6L763 988.4L763.1 988.2L763.3 987.9L763.4 987.7L763.6 987.5L763.7 987.2L763.8 987L764 986.8L764.1 986.5L764.3 986.3L764.4 986L764.5 985.8L764.7 985.5L764.8 985.3L765 985L765.1 984.7L765.3 984.5L765.4 984.2L765.5 984L765.7 983.7L765.8 983.4L766 983.2L766.1 982.9L766.2 982.6L766.4 982.3L766.5 982.1L766.7 981.8L766.8 981.5L766.9 981.2L767.1 980.9L767.2 980.6L767.4 980.3L767.5 980.1L767.6 979.8L767.8 979.5L767.9 979.2L768.1 978.9L768.2 978.6L768.4 978.2L768.5 977.9L768.6 977.6L768.8 977.3L768.9 977L769.1 976.7L769.2 976.3L769.3 976L769.5 975.7L769.6 975.4L769.8 975L769.9 974.7L770 974.4L770.2 974L770.3 973.7L770.5 973.3L770.6 973L770.7 972.6L770.9 972.3L771 971.9L771.2 971.5L771.3 971.2L771.5 970.8L771.6 970.4L771.7 970L771.9 969.6L772 969.2L772.2 968.7L772.3 968.2L772.4 967.7L772.6 967.2L772.7 966.6L772.9 966.1L773 965.5L773.1 964.9L773.3 964.3L773.4 963.7L773.6 963L773.7 962.3L773.8 961.6L774 960.9L774.1 960.2L774.3 959.4L774.4 958.7L774.6 957.9L774.7 957L774.8 956.2L775 955.3L775.1 954.5L775.3 953.6L775.4 952.6L775.5 951.7L775.7 950.7L775.8 949.7L776 948.7L776.1 947.7L776.2 946.6L776.4 945.5L776.5 944.4L776.7 943.3L776.8 942.2L776.9 941L777.1 939.8L777.2 938.6L777.4 937.4L777.5 936.1L777.7 934.8L777.8 933.5L777.9 932.2L778.1 930.8L778.2 929.4L778.4 928L778.5 926.6L778.6 925.2L778.8 923.7L778.9 922.2L779.1 920.7L779.2 919.1L779.3 917.6L779.5 916L779.6 914.4L779.8 912.8L779.9 911.1L780.1 909.5L780.2 907.8L780.3 906.1L780.5 904.4L780.6 902.6L780.8 900.8L780.9 899.1L781 897.2L781.2 895.4L781.3 893.4L781.5 891.5L781.6 889.5L781.7 887.4L781.9 885.3L782 883.1L782.2 880.9L782.3 878.7L782.4 876.3L782.6 873.9L782.7 871.5L782.9 869L783 866.4L783.2 863.7L783.3 861L783.4 858.2L783.6 855.4L783.7 852.4L783.9 849.4L784 846.3L784.1 843.1L784.3 839.8L784.4 836.4L784.6 832.9L784.7 829.2L784.8 825.2L785 820.8L785.1 816.1L785.3 811.1L785.4 805.7L785.5 800.1L785.7 794.2L785.8 788L786 781.7L786.1 775.1L786.3 768.4L786.4 761.6L786.5 754.8L786.7 747.9L786.8 741.1L787 734.4L787.1 727.9L787.2 721.5L787.4 715.5L787.5 709.9L787.7 704.7L787.8 700L787.9 695.9L788.1 692.6L788.2 689.9L788.4 687.7L788.5 685.6L788.6 683.4L788.8 681.3L788.9 679.3L789.1 677.2L789.2 675.3L789.4 673.4L789.5 671.5L789.6 669.7L789.8 668L789.9 666.4L790.1 664.9L790.2 663.4L790.3 662L790.5 660.8L790.6 659.6L790.8 658.5L790.9 657.6L791 656.7L791.2 656L791.3 655.4L791.5 655L791.6 654.7L791.7 654.5L791.9 654.5L792 654.6L792.2 654.8L792.3 655.2L792.5 655.7L792.6 656.4L792.7 657.2L792.9 658.1L793 659.1L793.2 660.2L793.3 661.4L793.4 662.8L793.6 664.2L793.7 665.7L793.9 667.3L794 669L794.1 670.7L794.3 672.5L794.4 674.4L794.6 676.4L794.7 678.3L794.8 680.4L795 682.5L795.1 684.6L795.3 686.8L795.4 689L795.6 691.3L795.7 694.3L795.8 698.1L796 702.5L796.1 707.5L796.3 712.9L796.4 718.8L796.5 725L796.7 731.4L796.8 738.1L797 744.9L797.1 751.7L797.2 758.6L797.4 765.4L797.5 772.1L797.7 778.8L797.8 785.2L797.9 791.4L798.1 797.5L798.2 803.2L798.4 808.7L798.5 813.9L798.7 818.8L798.8 823.3L798.9 827.5L799.1 831.3L799.2 834.8L799.4 838.3L799.5 841.6L799.6 844.8L799.8 848L799.9 851.1L800.1 854L800.2 856.9L800.3 859.8L800.5 862.5L800.6 865.2L800.8 867.8L800.9 870.4L801 872.8L801.2 875.3L801.3 877.6L801.5 879.9L801.6 882.2L801.8 884.3L801.9 886.5L802 888.6L802.2 890.6L802.3 892.6L802.5 894.5L802.6 896.4L802.7 898.2L802.9 900L803 901.8L803.2 903.6L803.3 905.3L803.4 907L803.6 908.7L803.7 910.4L803.9 912L804 913.7L804.2 915.3L804.3 916.9L804.4 918.4L804.6 920L804.7 921.5L804.9 923L805 924.5L805.1 926L805.3 927.4L805.4 928.8L805.6 930.2L805.7 931.6L805.8 932.9L806 934.2L806.1 935.5L806.3 936.8L806.4 938L806.5 939.3L806.7 940.5L806.8 941.6L807 942.8L807.1 943.9L807.3 945.1L807.4 946.1L807.5 947.2L807.7 948.3L807.8 949.3L808 950.3L808.1 951.3L808.2 952.2L808.4 953.1L808.5 954.1L808.7 954.9L808.8 955.8L808.9 956.7L809.1 957.5L809.2 958.3L809.4 959.1L809.5 959.9L809.6 960.6L809.8 961.3L809.9 962L810.1 962.7L810.2 963.4L810.4 964L810.5 964.6L810.6 965.2L810.8 965.8L810.9 966.4L811.1 966.9L811.2 967.5L811.3 968L811.5 968.5L811.6 968.9L811.8 969.4L811.9 969.8L812 970.2L812.2 970.6L812.3 971L812.5 971.4L812.6 971.7L812.7 972.1L812.9 972.5L813 972.8L813.2 973.2L813.3 973.5L813.5 973.9L813.6 974.2L813.7 974.5L813.9 974.9L814 975.2L814.2 975.5L814.3 975.9L814.4 976.2L814.6 976.5L814.7 976.8L814.9 977.2L815 977.5L815.1 977.8L815.3 978.1L815.4 978.4L815.6 978.7L815.7 979L815.8 979.3L816 979.6L816.1 979.9L816.3 980.2L816.4 980.5L816.6 980.8L816.7 981.1L816.8 981.4L817 981.7L817.1 981.9L817.3 982.2L817.4 982.5L817.5 982.8L817.7 983L817.8 983.3L818 983.6L818.1 983.8L818.2 984.1L818.4 984.4L818.5 984.6L818.7 984.9L818.8 985.1L818.9 985.4L819.1 985.7L819.2 985.9L819.4 986.2L819.5 986.4L819.7 986.6L819.8 986.9L819.9 987.1L820.1 987.4L820.2 987.6L820.4 987.8L820.5 988.1L820.6 988.3L820.8 988.5L820.9 988.8L821.1 989L821.2 989.2L821.3 989.4L821.5 989.6L821.6 989.9L821.8 990.1L821.9 990.3L822 990.5L822.2 990.7L822.3 990.9L822.5 991.1L822.6 991.3L822.8 991.6L822.9 991.8L823 992L823.2 992.2L823.3 992.4L823.5 992.6L823.6 992.7L823.7 992.9L823.9 993.1L824 993.3L824.2 993.5L824.3 993.7L824.4 993.9L824.6 994.1L824.7 994.3L824.9 994.4L825 994.6L825.1 994.8L825.3 995L825.4 995.1L825.6 995.3L825.7 995.5L825.9 995.7L826 995.8L826.1 996L826.3 996.2L826.4 996.3L826.6 996.5L826.7 996.7L826.8 996.8L827 997L827.1 997.2L827.3 997.3L827.4 997.5L827.5 997.6L827.7 997.8L827.8 997.9L828 998.1L828.1 998.2L828.2 998.4L828.4 998.5L828.5 998.7L828.7 998.8L828.8 999L829 999.1L829.1 999.3L829.2 999.4L829.4 999.5L829.5 999.7L829.7 999.8L829.8 1000L829.9 1000.1L830.1 1000.2L830.2 1000.4L830.4 1000.5L830.5 1000.6L830.6 1000.7L830.8 1000.9L830.9 1001L831.1 1001.1L831.2 1001.3L831.4 1001.4L831.5 1001.5L831.6 1001.6L831.8 1001.7L831.9 1001.9L832.1 1002L832.2 1002.1L832.3 1002.2L832.5 1002.3L832.6 1002.5L832.8 1002.6L832.9 1002.7L833 1002.8L833.2 1002.9L833.3 1003L833.5 1003.1L833.6 1003.2L833.7 1003.3L833.9 1003.4L834 1003.6L834.2 1003.7L834.3 1003.8L834.5 1003.9L834.6 1004L834.7 1004.1L834.9 1004.2L835 1004.3L835.2 1004.4L835.3 1004.5L835.4 1004.6L835.6 1004.7L835.7 1004.8L835.9 1004.8L836 1004.9L836.1 1005L836.3 1005.1L836.4 1005.2L836.6 1005.3L836.7 1005.4L836.8 1005.5L837 1005.6L837.1 1005.7L837.3 1005.7L837.4 1005.8L837.6 1005.9L837.7 1006L837.8 1006.1L838 1006.2L838.1 1006.2L838.3 1006.3L838.4 1006.4L838.5 1006.5L838.7 1006.6L838.8 1006.6L839 1006.7L839.1 1006.8L839.2 1006.9L839.4 1006.9L839.5 1007L839.7 1007.1L839.8 1007.2L839.9 1007.2L840.1 1007.3L840.2 1007.4L840.4 1007.4L840.5 1007.5L840.7 1007.6L840.8 1007.6L840.9 1007.7L841.1 1007.8L841.2 1007.8L841.4 1007.9L841.5 1008L841.6 1008L841.8 1008.1L841.9 1008.2L842.1 1008.2L842.2 1008.3L842.3 1008.3L842.5 1008.4L842.6 1008.4L842.8 1008.5L842.9 1008.6L843 1008.6L843.2 1008.7L843.3 1008.7L843.5 1008.8L843.6 1008.8L843.8 1008.9L843.9 1008.9L844 1009L844.2 1009L844.3 1009.1L844.5 1009.1L844.6 1009.2L844.7 1009.2L844.9 1009.3L845 1009.3L845.2 1009.4L845.3 1009.4L845.4 1009.5L845.6 1009.5L845.7 1009.6L845.9 1009.6L846 1009.7L846.1 1009.7L846.3 1009.7L846.4 1009.8L846.6 1009.8L846.7 1009.9L846.9 1009.9L847 1009.9L847.1 1010L847.3 1010L847.4 1010.1L847.6 1010.1L847.7 1010.1L847.8 1010.2L848 1010.2L848.1 1010.2L848.3 1010.3L848.4 1010.3L848.5 1010.3L848.7 1010.4L848.8 1010.4L849 1010.4L849.1 1010.5L849.2 1010.5L849.4 1010.5L849.5 1010.5L849.7 1010.6L849.8 1010.6L850 1010.6L850.1 1010.7L850.2 1010.7L850.4 1010.7L850.5 1010.7L850.7 1010.8L850.8 1010.8L850.9 1010.8L851.1 1010.8L851.2 1010.8L851.4 1010.9L851.5 1010.9L851.6 1010.9L851.8 1010.9L851.9 1011L852.1 1011L852.2 1011L852.3 1011L852.5 1011L852.6 1011L852.8 1011.1L852.9 1011.1L853.1 1011.1L853.2 1011.1L853.3 1011.1L853.5 1011.1L853.6 1011.1L853.8 1011.2L853.9 1011.2" stroke="#808080" stroke-width="1.5" fill="none" stroke-linejoin="round"/>
<path d="M115.3 456.7H272.3M285.7 456.7H419.2M432.5 456.7H554.4M567.4 456.7H704M717.2 456.7H875.7M115.3 8.2H272.3M285.7 8.2H419.2M432.5 8.2H554.4M567.4 8.2H704M717.2 8.2H875.7M115.3 7.6V457.3M875.7 7.6V457.3" stroke="#000" stroke-width="1.3" fill="none" stroke-linecap="butt"/>
<path d="M262.2 464.3L282.4 449.1M275.6 464.3L295.8 449.1M409.1 464.3L429.3 449.1M422.4 464.3L442.6 449.1M544.3 464.3L564.5 449.1M557.3 464.3L577.5 449.1M693.9 464.3L714.1 449.1M707.1 464.3L727.3 449.1M262.2 15.8L282.4 0.6M275.6 15.8L295.8 0.6M409.1 15.8L429.3 0.6M422.4 15.8L442.6 0.6M544.3 15.8L564.5 0.6M557.3 15.8L577.5 0.6M693.9 15.8L714.1 0.6M707.1 15.8L727.3 0.6" stroke="#000" stroke-width="1.25" fill="none"/>
<path d="M113 1031.4H275.9M289.1 1031.4H427.2M440.8 1031.4H551M564.4 1031.4H708.5M722 1031.4H877.2M113 595.2H255.5M268.7 595.2H410.1M423.7 595.2H565.8M578.8 595.2H721.5M734 595.2H877.2M113 594.6V1032M877.2 594.6V1032" stroke="#000" stroke-width="1.3" fill="none" stroke-linecap="butt"/>
<path d="M269.3 1035.4L282.5 1027.4M282.5 1035.4L295.7 1027.4M420.6 1035.4L433.8 1027.4M434.2 1035.4L447.4 1027.4M544.4 1035.4L557.6 1027.4M557.8 1035.4L571 1027.4M701.9 1035.4L715.1 1027.4M715.4 1035.4L728.6 1027.4M248.9 599.2L262.1 591.2M262.1 599.2L275.3 591.2M403.5 599.2L416.7 591.2M417.1 599.2L430.3 591.2M559.2 599.2L572.4 591.2M572.2 599.2L585.4 591.2M714.9 599.2L728.1 591.2M727.4 599.2L740.6 591.2" stroke="#000" stroke-width="1.25" fill="none"/>
<path d="M268.7 595.2V602.5M423.7 595.2V602.5M578.8 595.2V602.5M734 595.2V602.5" stroke="#000" stroke-width="1.25"/>
<path d="M106.3 456.7H115.3M110.7 430.3H115.3M106.3 403.9H115.3M110.7 377.5H115.3M106.3 351.1H115.3M110.7 324.7H115.3M106.3 298.3H115.3M110.7 271.9H115.3M106.3 245.5H115.3M110.7 219.2H115.3M106.3 192.8H115.3M110.7 166.4H115.3M106.3 140H115.3M110.7 113.6H115.3M106.3 87.2H115.3M110.7 60.8H115.3M106.3 34.4H115.3M110.7 8H115.3" stroke="#000" stroke-width="1.25" fill="none"/>
<path d="M104.6 1031.4H113M108.4 1004.5H113M104.6 977.6H113M108.4 950.6H113M104.6 923.7H113M108.4 896.8H113M104.6 869.9H113M108.4 842.9H113M104.6 816H113M108.4 789.1H113M104.6 762.2H113M108.4 735.2H113M104.6 708.3H113M108.4 681.4H113M104.6 654.5H113M108.4 627.5H113M104.6 600.6H113" stroke="#000" stroke-width="1.25" fill="none"/>
<text x="98.4" y="466.3" font-size="26.5" text-anchor="end" textLength="14.4" lengthAdjust="spacingAndGlyphs">0</text>
<text x="98.4" y="413.6" font-size="26.5" text-anchor="end" textLength="43.3" lengthAdjust="spacingAndGlyphs">200</text>
<text x="98.4" y="360.8" font-size="26.5" text-anchor="end" textLength="43.3" lengthAdjust="spacingAndGlyphs">400</text>
<text x="98.4" y="308" font-size="26.5" text-anchor="end" textLength="43.3" lengthAdjust="spacingAndGlyphs">600</text>
<text x="98.4" y="255.2" font-size="26.5" text-anchor="end" textLength="43.3" lengthAdjust="spacingAndGlyphs">800</text>
<text x="98.4" y="202.4" font-size="26.5" text-anchor="end" textLength="57.8" lengthAdjust="spacingAndGlyphs">1000</text>
<text x="98.4" y="149.6" font-size="26.5" text-anchor="end" textLength="57.8" lengthAdjust="spacingAndGlyphs">1200</text>
<text x="98.4" y="96.8" font-size="26.5" text-anchor="end" textLength="57.8" lengthAdjust="spacingAndGlyphs">1400</text>
<text x="98.4" y="44" font-size="26.5" text-anchor="end" textLength="57.8" lengthAdjust="spacingAndGlyphs">1600</text>
<text x="100.2" y="1039.9" font-size="26.5" text-anchor="end" textLength="14.4" lengthAdjust="spacingAndGlyphs">0</text>
<text x="100.2" y="986.1" font-size="26.5" text-anchor="end" textLength="43.3" lengthAdjust="spacingAndGlyphs">200</text>
<text x="100.2" y="932.2" font-size="26.5" text-anchor="end" textLength="43.3" lengthAdjust="spacingAndGlyphs">400</text>
<text x="100.2" y="878.4" font-size="26.5" text-anchor="end" textLength="43.3" lengthAdjust="spacingAndGlyphs">600</text>
<text x="100.2" y="824.5" font-size="26.5" text-anchor="end" textLength="43.3" lengthAdjust="spacingAndGlyphs">800</text>
<text x="100.2" y="770.7" font-size="26.5" text-anchor="end" textLength="57.8" lengthAdjust="spacingAndGlyphs">1000</text>
<text x="100.2" y="716.8" font-size="26.5" text-anchor="end" textLength="57.8" lengthAdjust="spacingAndGlyphs">1200</text>
<text x="100.2" y="663" font-size="26.5" text-anchor="end" textLength="57.8" lengthAdjust="spacingAndGlyphs">1400</text>
<text x="100.2" y="609.1" font-size="26.5" text-anchor="end" textLength="57.8" lengthAdjust="spacingAndGlyphs">1600</text>
<path d="M118.8 456.7V464.7M158.2 456.7V464.7M197.6 456.7V464.7M236.9 456.7V464.7M296.6 456.7V464.7M330.2 456.7V464.7M363.9 456.7V464.7M397.9 456.7V464.7M451.7 456.7V464.7M482.8 456.7V464.7M513.4 456.7V464.7M544.6 456.7V464.7M576.6 456.7V464.7M610.7 456.7V464.7M645.1 456.7V464.7M679.2 456.7V464.7M736.8 456.7V464.7M776.5 456.7V464.7M816.4 456.7V464.7M856 456.7V464.7M138.4 456.7V460.7M178 456.7V460.7M217.1 456.7V460.7M256.7 456.7V460.7M313.5 456.7V460.7M347.1 456.7V460.7M381 456.7V460.7M415.3 456.7V460.7M436.8 456.7V460.7M467.3 456.7V460.7M498.2 456.7V460.7M529 456.7V460.7M594.2 456.7V460.7M628 456.7V460.7M662 456.7V460.7M696.6 456.7V460.7M756.4 456.7V460.7M796.2 456.7V460.7M836.1 456.7V460.7" stroke="#000" stroke-width="1.25" fill="none"/>
<g transform="translate(134.8 482.2) rotate(-45)"><text font-size="28" text-anchor="end">243</text><path d="M-62.1 -7H-43.7" stroke="#000" stroke-width="1.3"/></g>
<g transform="translate(173.2 482.2) rotate(-45)"><text font-size="28" text-anchor="end">162</text><path d="M-62.1 -7H-43.7" stroke="#000" stroke-width="1.3"/></g>
<g transform="translate(208.6 482.2) rotate(-45)"><text font-size="28" text-anchor="end">81</text><path d="M-48.1 -7H-29.7" stroke="#000" stroke-width="1.3"/></g>
<g transform="translate(246.9 482.2) rotate(-45)"><text font-size="28" text-anchor="end">0</text></g>
<g transform="translate(308.2 482.2) rotate(-45)"><text font-size="28" text-anchor="end">1035</text></g>
<g transform="translate(341.2 482.2) rotate(-45)"><text font-size="28" text-anchor="end">1004</text></g>
<g transform="translate(374.9 482.2) rotate(-45)"><text font-size="28" text-anchor="end">1173</text></g>
<g transform="translate(411.9 482.2) rotate(-45)"><text font-size="28" text-anchor="end">1242</text></g>
<g transform="translate(461.7 482.2) rotate(-45)"><text font-size="28" text-anchor="end">2331</text></g>
<g transform="translate(498.8 482.2) rotate(-45)"><text font-size="28" text-anchor="end">2394</text></g>
<g transform="translate(527.4 482.2) rotate(-45)"><text font-size="28" text-anchor="end">2457</text></g>
<g transform="translate(559.6 482.2) rotate(-45)"><text font-size="28" text-anchor="end">2520</text></g>
<g transform="translate(592.6 482.2) rotate(-45)"><text font-size="28" text-anchor="end">3920</text></g>
<g transform="translate(624.7 482.2) rotate(-45)"><text font-size="28" text-anchor="end">3990</text></g>
<g transform="translate(660.1 482.2) rotate(-45)"><text font-size="28" text-anchor="end">4060</text></g>
<g transform="translate(690.2 482.2) rotate(-45)"><text font-size="28" text-anchor="end">4130</text></g>
<g transform="translate(746.8 482.2) rotate(-45)"><text font-size="28" text-anchor="end">5740</text></g>
<g transform="translate(790.5 482.2) rotate(-45)"><text font-size="28" text-anchor="end">5822</text></g>
<g transform="translate(830.4 482.2) rotate(-45)"><text font-size="28" text-anchor="end">5904</text></g>
<g transform="translate(873 482.2) rotate(-45)"><text font-size="28" text-anchor="end">5986</text></g>
<path d="M125.7 1031.4V1038.9M166.9 1031.4V1038.9M208.3 1031.4V1038.9M249.9 1031.4V1038.9M304.3 1031.4V1038.9M340 1031.4V1038.9M374.9 1031.4V1038.9M410.3 1031.4V1038.9M451.5 1031.4V1038.9M479.3 1031.4V1038.9M506.7 1031.4V1038.9M534.1 1031.4V1038.9M582.6 1031.4V1038.9M619.4 1031.4V1038.9M656.4 1031.4V1038.9M693.2 1031.4V1038.9M752.8 1031.4V1038.9M791.1 1031.4V1038.9M828.9 1031.4V1038.9M867.7 1031.4V1038.9" stroke="#000" stroke-width="1.25" fill="none"/>
<g transform="translate(135.7 1057.2) rotate(-45)"><text font-size="28" text-anchor="end">12366</text><path d="M-90.1 -7H-71.7" stroke="#000" stroke-width="1.3"/></g>
<g transform="translate(175.9 1057.2) rotate(-45)"><text font-size="28" text-anchor="end">12339</text><path d="M-90.1 -7H-71.7" stroke="#000" stroke-width="1.3"/></g>
<g transform="translate(218.3 1057.2) rotate(-45)"><text font-size="28" text-anchor="end">12312</text><path d="M-90.1 -7H-71.7" stroke="#000" stroke-width="1.3"/></g>
<g transform="translate(259.9 1057.2) rotate(-45)"><text font-size="28" text-anchor="end">12285</text><path d="M-90.1 -7H-71.7" stroke="#000" stroke-width="1.3"/></g>
<g transform="translate(313.3 1057.2) rotate(-45)"><text font-size="28" text-anchor="end">8625</text><path d="M-76.1 -7H-57.7" stroke="#000" stroke-width="1.3"/></g>
<g transform="translate(350 1057.2) rotate(-45)"><text font-size="28" text-anchor="end">8602</text><path d="M-76.1 -7H-57.7" stroke="#000" stroke-width="1.3"/></g>
<g transform="translate(387.4 1057.2) rotate(-45)"><text font-size="28" text-anchor="end">8579</text><path d="M-76.1 -7H-57.7" stroke="#000" stroke-width="1.3"/></g>
<g transform="translate(425.3 1057.2) rotate(-45)"><text font-size="28" text-anchor="end">8556</text><path d="M-76.1 -7H-57.7" stroke="#000" stroke-width="1.3"/></g>
<g transform="translate(467.5 1057.2) rotate(-45)"><text font-size="28" text-anchor="end">5148</text><path d="M-76.1 -7H-57.7" stroke="#000" stroke-width="1.3"/></g>
<g transform="translate(496.3 1057.2) rotate(-45)"><text font-size="28" text-anchor="end">5130</text><path d="M-76.1 -7H-57.7" stroke="#000" stroke-width="1.3"/></g>
<g transform="translate(524.7 1057.2) rotate(-45)"><text font-size="28" text-anchor="end">5112</text><path d="M-76.1 -7H-57.7" stroke="#000" stroke-width="1.3"/></g>
<g transform="translate(553.7 1057.2) rotate(-45)"><text font-size="28" text-anchor="end">5094</text><path d="M-76.1 -7H-57.7" stroke="#000" stroke-width="1.3"/></g>
<g transform="translate(597.6 1057.2) rotate(-45)"><text font-size="28" text-anchor="end">2520</text><path d="M-76.1 -7H-57.7" stroke="#000" stroke-width="1.3"/></g>
<g transform="translate(634.4 1057.2) rotate(-45)"><text font-size="28" text-anchor="end">2496</text><path d="M-76.1 -7H-57.7" stroke="#000" stroke-width="1.3"/></g>
<g transform="translate(668.9 1057.2) rotate(-45)"><text font-size="28" text-anchor="end">2472</text><path d="M-76.1 -7H-57.7" stroke="#000" stroke-width="1.3"/></g>
<g transform="translate(709.2 1057.2) rotate(-45)"><text font-size="28" text-anchor="end">2448</text><path d="M-76.1 -7H-57.7" stroke="#000" stroke-width="1.3"/></g>
<g transform="translate(762.8 1057.2) rotate(-45)"><text font-size="28" text-anchor="end">25</text><path d="M-48.1 -7H-29.7" stroke="#000" stroke-width="1.3"/></g>
<g transform="translate(800.1 1057.2) rotate(-45)"><text font-size="28" text-anchor="end">0</text></g>
<g transform="translate(844.5 1057.2) rotate(-45)"><text font-size="28" text-anchor="end">25</text></g>
<g transform="translate(883.3 1057.2) rotate(-45)"><text font-size="28" text-anchor="end">50</text></g>
<text x="190" y="32.5" font-size="18.5" textLength="30.5" lengthAdjust="spacingAndGlyphs">176</text>
<text x="221.2" y="39.8" font-size="22.5" textLength="29.2" lengthAdjust="spacingAndGlyphs">Yb</text>
<text x="250.8" y="36.6" font-size="21">+</text>
<text x="336.6" y="32.5" font-size="18.5" textLength="30.5" lengthAdjust="spacingAndGlyphs">174</text>
<text x="367.8" y="39.8" font-size="22.5" textLength="29.2" lengthAdjust="spacingAndGlyphs">Yb</text>
<text x="397.4" y="36.6" font-size="21">+</text>
<text x="477.3" y="32.5" font-size="18.5" textLength="30.5" lengthAdjust="spacingAndGlyphs">172</text>
<text x="508.6" y="39.8" font-size="22.5" textLength="29.2" lengthAdjust="spacingAndGlyphs">Yb</text>
<text x="538.2" y="36.6" font-size="21">+</text>
<text x="616.6" y="32.5" font-size="18.5" textLength="30.5" lengthAdjust="spacingAndGlyphs">170</text>
<text x="647.9" y="39.8" font-size="22.5" textLength="29.2" lengthAdjust="spacingAndGlyphs">Yb</text>
<text x="677.5" y="36.6" font-size="21">+</text>
<text x="741.6" y="32.5" font-size="18.5" textLength="30.5" lengthAdjust="spacingAndGlyphs">168</text>
<text x="772.9" y="39.8" font-size="22.5" textLength="29.2" lengthAdjust="spacingAndGlyphs">Yb</text>
<text x="802.5" y="36.6" font-size="21">+</text>
<text x="179.1" y="621" font-size="18.5" textLength="30.5" lengthAdjust="spacingAndGlyphs">168</text>
<text x="210.3" y="628.3" font-size="22.5" textLength="29.2" lengthAdjust="spacingAndGlyphs">Yb</text>
<text x="239.9" y="625.1" font-size="21">+</text>
<text x="325.2" y="621" font-size="18.5" textLength="30.5" lengthAdjust="spacingAndGlyphs">170</text>
<text x="356.4" y="628.3" font-size="22.5" textLength="29.2" lengthAdjust="spacingAndGlyphs">Yb</text>
<text x="386.1" y="625.1" font-size="21">+</text>
<text x="466.2" y="621" font-size="18.5" textLength="30.5" lengthAdjust="spacingAndGlyphs">172</text>
<text x="497.4" y="628.3" font-size="22.5" textLength="29.2" lengthAdjust="spacingAndGlyphs">Yb</text>
<text x="527.1" y="625.1" font-size="21">+</text>
<text x="606" y="621" font-size="18.5" textLength="30.5" lengthAdjust="spacingAndGlyphs">174</text>
<text x="637.2" y="628.3" font-size="22.5" textLength="29.2" lengthAdjust="spacingAndGlyphs">Yb</text>
<text x="666.9" y="625.1" font-size="21">+</text>
<text x="748.1" y="621" font-size="18.5" textLength="30.5" lengthAdjust="spacingAndGlyphs">176</text>
<text x="779.4" y="628.3" font-size="22.5" textLength="29.2" lengthAdjust="spacingAndGlyphs">Yb</text>
<text x="809" y="625.1" font-size="21">+</text>
<text x="133.9" y="44" font-size="26">(a)</text>
<text x="132.4" y="630.7" font-size="26">(b)</text>
<text x="230.5" y="563.1" font-size="31" letter-spacing="1" textLength="494.7" lengthAdjust="spacingAndGlyphs">369 nm frequency detuning (MHz)</text>
<text x="244.2" y="1152.2" font-size="31" letter-spacing="1" textLength="498.1" lengthAdjust="spacingAndGlyphs">935 nm frequency detuning (MHz)</text>
<text transform="translate(24.8 432.9) rotate(-90)" font-size="30" letter-spacing="1.2" textLength="391.6" lengthAdjust="spacingAndGlyphs">Fluorescence (counts/5 ms)</text>
<text transform="translate(24.8 1013.9) rotate(-90)" font-size="30" letter-spacing="1.2" textLength="397.1" lengthAdjust="spacingAndGlyphs">Fluorescence (counts/5 ms)</text>
</svg></body></html>
